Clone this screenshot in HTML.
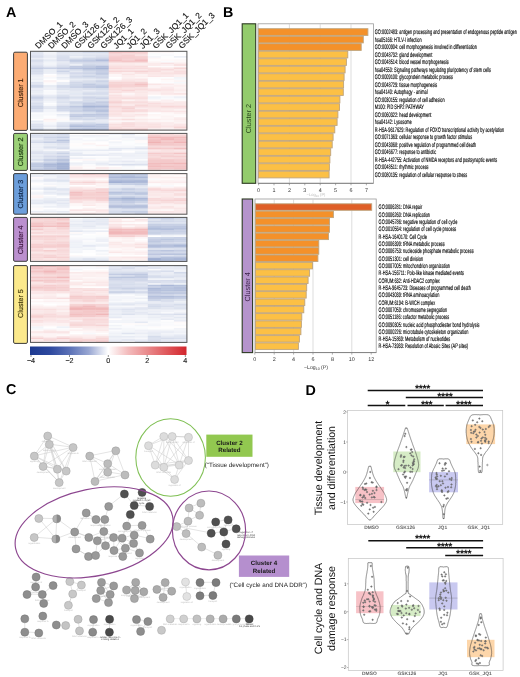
<!DOCTYPE html><html><head><meta charset="utf-8"><style>html,body{margin:0;padding:0;background:#fff;width:520px;height:677px;overflow:hidden}svg{display:block}text{font-family:"Liberation Sans",Arial,sans-serif;text-rendering:geometricPrecision}</style></head><body>
<svg width="520" height="677" viewBox="0 0 520 677">
<defs><linearGradient id="cb" x1="0" x2="1" y1="0" y2="0">
<stop offset="0.000" stop-color="#1d3990"/>
<stop offset="0.125" stop-color="#2d489e"/>
<stop offset="0.250" stop-color="#5a70b6"/>
<stop offset="0.375" stop-color="#98a6d2"/>
<stop offset="0.500" stop-color="#ffffff"/>
<stop offset="0.625" stop-color="#f3bcbd"/>
<stop offset="0.750" stop-color="#e98a8c"/>
<stop offset="0.875" stop-color="#df575b"/>
<stop offset="1.000" stop-color="#d2262d"/>
</linearGradient></defs>
<text x="6" y="16.9" font-size="14.3" font-weight="bold" fill="#000">A</text>
<text x="222.9" y="16.6" font-size="14.3" font-weight="bold" fill="#000">B</text>
<text x="6" y="394.4" font-size="14.3" font-weight="bold" fill="#000">C</text>
<text x="305.6" y="395.1" font-size="14.3" font-weight="bold" fill="#000">D</text>
<text x="38.6" y="49.2" font-size="8.4" fill="#111" stroke="#111" stroke-width="0.12" transform="rotate(-45 38.6 49.2)">DMSO_1</text>
<text x="51.6" y="49.2" font-size="8.4" fill="#111" stroke="#111" stroke-width="0.12" transform="rotate(-45 51.6 49.2)">DMSO_2</text>
<text x="64.7" y="49.2" font-size="8.4" fill="#111" stroke="#111" stroke-width="0.12" transform="rotate(-45 64.7 49.2)">DMSO_3</text>
<text x="77.7" y="49.2" font-size="8.4" fill="#111" stroke="#111" stroke-width="0.12" transform="rotate(-45 77.7 49.2)">GSK126_1</text>
<text x="90.8" y="49.2" font-size="8.4" fill="#111" stroke="#111" stroke-width="0.12" transform="rotate(-45 90.8 49.2)">GSK126_2</text>
<text x="103.8" y="49.2" font-size="8.4" fill="#111" stroke="#111" stroke-width="0.12" transform="rotate(-45 103.8 49.2)">GSK126_3</text>
<text x="116.8" y="49.2" font-size="8.4" fill="#111" stroke="#111" stroke-width="0.12" transform="rotate(-45 116.8 49.2)">JQ1_1</text>
<text x="129.8" y="49.2" font-size="8.4" fill="#111" stroke="#111" stroke-width="0.12" transform="rotate(-45 129.8 49.2)">JQ1_2</text>
<text x="142.9" y="49.2" font-size="8.4" fill="#111" stroke="#111" stroke-width="0.12" transform="rotate(-45 142.9 49.2)">JQ1_3</text>
<text x="155.9" y="49.2" font-size="8.4" fill="#111" stroke="#111" stroke-width="0.12" transform="rotate(-45 155.9 49.2)">GSK_JQ1_1</text>
<text x="168.9" y="49.2" font-size="8.4" fill="#111" stroke="#111" stroke-width="0.12" transform="rotate(-45 168.9 49.2)">GSK_JQ1_2</text>
<text x="182" y="49.2" font-size="8.4" fill="#111" stroke="#111" stroke-width="0.12" transform="rotate(-45 182 49.2)">GSK_JQ1_3</text>
<rect x="30.5" y="51.3" width="13.3" height="1.9" fill="#e1e6f1"/>
<rect x="43.5" y="51.3" width="13.3" height="1.9" fill="#f2f4f9"/>
<rect x="56.6" y="51.3" width="13.3" height="1.9" fill="#dde3ef"/>
<rect x="69.6" y="51.3" width="13.3" height="1.9" fill="#dde3ef"/>
<rect x="82.6" y="51.3" width="13.3" height="1.9" fill="#d0d7e9"/>
<rect x="95.7" y="51.3" width="13.3" height="1.9" fill="#d0d8e9"/>
<rect x="108.7" y="51.3" width="13.3" height="1.9" fill="#f2c1c2"/>
<rect x="121.7" y="51.3" width="13.3" height="1.9" fill="#f3c2c3"/>
<rect x="134.8" y="51.3" width="13.3" height="1.9" fill="#f5cccd"/>
<rect x="147.8" y="51.3" width="13.3" height="1.9" fill="#fdf5f5"/>
<rect x="160.8" y="51.3" width="13.3" height="1.9" fill="#fdf5f5"/>
<rect x="173.9" y="51.3" width="13.3" height="1.9" fill="#fefefe"/>
<rect x="30.5" y="52.9" width="13.3" height="1.9" fill="#e2e7f2"/>
<rect x="43.5" y="52.9" width="13.3" height="1.9" fill="#f2f4f9"/>
<rect x="56.6" y="52.9" width="13.3" height="1.9" fill="#e5e9f3"/>
<rect x="69.6" y="52.9" width="13.3" height="1.9" fill="#e6eaf3"/>
<rect x="82.6" y="52.9" width="13.3" height="1.9" fill="#e4e9f3"/>
<rect x="95.7" y="52.9" width="13.3" height="1.9" fill="#e3e8f2"/>
<rect x="108.7" y="52.9" width="13.3" height="1.9" fill="#f6d4d5"/>
<rect x="121.7" y="52.9" width="13.3" height="1.9" fill="#f8dadb"/>
<rect x="134.8" y="52.9" width="13.3" height="1.9" fill="#f7d7d8"/>
<rect x="147.8" y="52.9" width="13.3" height="1.9" fill="#fbfcfd"/>
<rect x="160.8" y="52.9" width="13.3" height="1.9" fill="#fdfdfe"/>
<rect x="173.9" y="52.9" width="13.3" height="1.9" fill="#fefeff"/>
<rect x="30.5" y="54.5" width="13.3" height="1.9" fill="#dde2ef"/>
<rect x="43.5" y="54.5" width="13.3" height="1.9" fill="#ebeef5"/>
<rect x="56.6" y="54.5" width="13.3" height="1.9" fill="#dce2ef"/>
<rect x="69.6" y="54.5" width="13.3" height="1.9" fill="#e2e7f2"/>
<rect x="82.6" y="54.5" width="13.3" height="1.9" fill="#dee4f0"/>
<rect x="95.7" y="54.5" width="13.3" height="1.9" fill="#dde2ef"/>
<rect x="108.7" y="54.5" width="13.3" height="1.9" fill="#f7d6d7"/>
<rect x="121.7" y="54.5" width="13.3" height="1.9" fill="#f5d0d0"/>
<rect x="134.8" y="54.5" width="13.3" height="1.9" fill="#f9e1e2"/>
<rect x="147.8" y="54.5" width="13.3" height="1.9" fill="#fcfdfe"/>
<rect x="160.8" y="54.5" width="13.3" height="1.9" fill="#f9fafc"/>
<rect x="173.9" y="54.5" width="13.3" height="1.9" fill="#fffefe"/>
<rect x="30.5" y="56.1" width="13.3" height="1.9" fill="#d7ddec"/>
<rect x="43.5" y="56.1" width="13.3" height="1.9" fill="#e8ebf4"/>
<rect x="56.6" y="56.1" width="13.3" height="1.9" fill="#d8deed"/>
<rect x="69.6" y="56.1" width="13.3" height="1.9" fill="#eef1f7"/>
<rect x="82.6" y="56.1" width="13.3" height="1.9" fill="#e3e8f2"/>
<rect x="95.7" y="56.1" width="13.3" height="1.9" fill="#d9dfed"/>
<rect x="108.7" y="56.1" width="13.3" height="1.9" fill="#f5cdce"/>
<rect x="121.7" y="56.1" width="13.3" height="1.9" fill="#f5cdce"/>
<rect x="134.8" y="56.1" width="13.3" height="1.9" fill="#f6d1d2"/>
<rect x="147.8" y="56.1" width="13.3" height="1.9" fill="#f4f5fa"/>
<rect x="160.8" y="56.1" width="13.3" height="1.9" fill="#fdfefe"/>
<rect x="173.9" y="56.1" width="13.3" height="1.9" fill="#eceff6"/>
<rect x="30.5" y="57.7" width="13.3" height="1.9" fill="#eaedf5"/>
<rect x="43.5" y="57.7" width="13.3" height="1.9" fill="#f2f4f9"/>
<rect x="56.6" y="57.7" width="13.3" height="1.9" fill="#d8deed"/>
<rect x="69.6" y="57.7" width="13.3" height="1.9" fill="#dde3ef"/>
<rect x="82.6" y="57.7" width="13.3" height="1.9" fill="#d0d8e9"/>
<rect x="95.7" y="57.7" width="13.3" height="1.9" fill="#cdd4e7"/>
<rect x="108.7" y="57.7" width="13.3" height="1.9" fill="#f4cbcc"/>
<rect x="121.7" y="57.7" width="13.3" height="1.9" fill="#f5d0d1"/>
<rect x="134.8" y="57.7" width="13.3" height="1.9" fill="#f5d0d1"/>
<rect x="147.8" y="57.7" width="13.3" height="1.9" fill="#fef8f8"/>
<rect x="160.8" y="57.7" width="13.3" height="1.9" fill="#fffdfd"/>
<rect x="173.9" y="57.7" width="13.3" height="1.9" fill="#fffefe"/>
<rect x="30.5" y="59.3" width="13.3" height="1.9" fill="#d7ddec"/>
<rect x="43.5" y="59.3" width="13.3" height="1.9" fill="#e6eaf3"/>
<rect x="56.6" y="59.3" width="13.3" height="1.9" fill="#d3d9ea"/>
<rect x="69.6" y="59.3" width="13.3" height="1.9" fill="#c2cce2"/>
<rect x="82.6" y="59.3" width="13.3" height="1.9" fill="#c0cae2"/>
<rect x="95.7" y="59.3" width="13.3" height="1.9" fill="#b0bcda"/>
<rect x="108.7" y="59.3" width="13.3" height="1.9" fill="#f2c0c2"/>
<rect x="121.7" y="59.3" width="13.3" height="1.9" fill="#f5cdce"/>
<rect x="134.8" y="59.3" width="13.3" height="1.9" fill="#f2bdbe"/>
<rect x="147.8" y="59.3" width="13.3" height="1.9" fill="#fefcfc"/>
<rect x="160.8" y="59.3" width="13.3" height="1.9" fill="#fef9f9"/>
<rect x="173.9" y="59.3" width="13.3" height="1.9" fill="#fdf8f8"/>
<rect x="30.5" y="60.9" width="13.3" height="1.9" fill="#dadfed"/>
<rect x="43.5" y="60.9" width="13.3" height="1.9" fill="#edf0f7"/>
<rect x="56.6" y="60.9" width="13.3" height="1.9" fill="#e3e7f2"/>
<rect x="69.6" y="60.9" width="13.3" height="1.9" fill="#c7d0e5"/>
<rect x="82.6" y="60.9" width="13.3" height="1.9" fill="#c7cfe4"/>
<rect x="95.7" y="60.9" width="13.3" height="1.9" fill="#c7cfe5"/>
<rect x="108.7" y="60.9" width="13.3" height="1.9" fill="#f5cecf"/>
<rect x="121.7" y="60.9" width="13.3" height="1.9" fill="#f4c7c8"/>
<rect x="134.8" y="60.9" width="13.3" height="1.9" fill="#f4c7c8"/>
<rect x="147.8" y="60.9" width="13.3" height="1.9" fill="#fdf7f7"/>
<rect x="160.8" y="60.9" width="13.3" height="1.9" fill="#fafbfd"/>
<rect x="173.9" y="60.9" width="13.3" height="1.9" fill="#fef8f8"/>
<rect x="30.5" y="62.6" width="13.3" height="1.9" fill="#e3e7f2"/>
<rect x="43.5" y="62.6" width="13.3" height="1.9" fill="#f3f5f9"/>
<rect x="56.6" y="62.6" width="13.3" height="1.9" fill="#e4e8f2"/>
<rect x="69.6" y="62.6" width="13.3" height="1.9" fill="#dee3ef"/>
<rect x="82.6" y="62.6" width="13.3" height="1.9" fill="#d6ddec"/>
<rect x="95.7" y="62.6" width="13.3" height="1.9" fill="#d7ddec"/>
<rect x="108.7" y="62.6" width="13.3" height="1.9" fill="#fbebec"/>
<rect x="121.7" y="62.6" width="13.3" height="1.9" fill="#fbeaea"/>
<rect x="134.8" y="62.6" width="13.3" height="1.9" fill="#fbeded"/>
<rect x="147.8" y="62.6" width="13.3" height="1.9" fill="#fbebeb"/>
<rect x="160.8" y="62.6" width="13.3" height="1.9" fill="#f9e3e4"/>
<rect x="173.9" y="62.6" width="13.3" height="1.9" fill="#fbecec"/>
<rect x="30.5" y="64.2" width="13.3" height="1.9" fill="#dee3f0"/>
<rect x="43.5" y="64.2" width="13.3" height="1.9" fill="#f1f3f8"/>
<rect x="56.6" y="64.2" width="13.3" height="1.9" fill="#dce2ef"/>
<rect x="69.6" y="64.2" width="13.3" height="1.9" fill="#ebeef6"/>
<rect x="82.6" y="64.2" width="13.3" height="1.9" fill="#ccd4e7"/>
<rect x="95.7" y="64.2" width="13.3" height="1.9" fill="#d1d8ea"/>
<rect x="108.7" y="64.2" width="13.3" height="1.9" fill="#fae7e7"/>
<rect x="121.7" y="64.2" width="13.3" height="1.9" fill="#fae8e8"/>
<rect x="134.8" y="64.2" width="13.3" height="1.9" fill="#fbebec"/>
<rect x="147.8" y="64.2" width="13.3" height="1.9" fill="#fbe9e9"/>
<rect x="160.8" y="64.2" width="13.3" height="1.9" fill="#fbedee"/>
<rect x="173.9" y="64.2" width="13.3" height="1.9" fill="#f8dede"/>
<rect x="30.5" y="65.8" width="13.3" height="1.9" fill="#d6dcec"/>
<rect x="43.5" y="65.8" width="13.3" height="1.9" fill="#e7eaf4"/>
<rect x="56.6" y="65.8" width="13.3" height="1.9" fill="#d6ddec"/>
<rect x="69.6" y="65.8" width="13.3" height="1.9" fill="#c2cbe2"/>
<rect x="82.6" y="65.8" width="13.3" height="1.9" fill="#c0cae1"/>
<rect x="95.7" y="65.8" width="13.3" height="1.9" fill="#b2bedb"/>
<rect x="108.7" y="65.8" width="13.3" height="1.9" fill="#f9dfe0"/>
<rect x="121.7" y="65.8" width="13.3" height="1.9" fill="#f9e0e1"/>
<rect x="134.8" y="65.8" width="13.3" height="1.9" fill="#f8dddd"/>
<rect x="147.8" y="65.8" width="13.3" height="1.9" fill="#fefbfb"/>
<rect x="160.8" y="65.8" width="13.3" height="1.9" fill="#fefafb"/>
<rect x="173.9" y="65.8" width="13.3" height="1.9" fill="#fdf5f6"/>
<rect x="30.5" y="67.4" width="13.3" height="1.9" fill="#c2cbe2"/>
<rect x="43.5" y="67.4" width="13.3" height="1.9" fill="#cad2e6"/>
<rect x="56.6" y="67.4" width="13.3" height="1.9" fill="#c0c9e1"/>
<rect x="69.6" y="67.4" width="13.3" height="1.9" fill="#b8c3de"/>
<rect x="82.6" y="67.4" width="13.3" height="1.9" fill="#b1bdda"/>
<rect x="95.7" y="67.4" width="13.3" height="1.9" fill="#a7b5d6"/>
<rect x="108.7" y="67.4" width="13.3" height="1.9" fill="#f7d7d8"/>
<rect x="121.7" y="67.4" width="13.3" height="1.9" fill="#f8dbdc"/>
<rect x="134.8" y="67.4" width="13.3" height="1.9" fill="#f8dcdd"/>
<rect x="147.8" y="67.4" width="13.3" height="1.9" fill="#f9e0e0"/>
<rect x="160.8" y="67.4" width="13.3" height="1.9" fill="#fae7e7"/>
<rect x="173.9" y="67.4" width="13.3" height="1.9" fill="#f7d7d7"/>
<rect x="30.5" y="69" width="13.3" height="1.9" fill="#d7ddec"/>
<rect x="43.5" y="69" width="13.3" height="1.9" fill="#e9edf5"/>
<rect x="56.6" y="69" width="13.3" height="1.9" fill="#dce1ef"/>
<rect x="69.6" y="69" width="13.3" height="1.9" fill="#d2d9ea"/>
<rect x="82.6" y="69" width="13.3" height="1.9" fill="#bec8e0"/>
<rect x="95.7" y="69" width="13.3" height="1.9" fill="#bbc6df"/>
<rect x="108.7" y="69" width="13.3" height="1.9" fill="#fae5e5"/>
<rect x="121.7" y="69" width="13.3" height="1.9" fill="#fae5e6"/>
<rect x="134.8" y="69" width="13.3" height="1.9" fill="#fae8e8"/>
<rect x="147.8" y="69" width="13.3" height="1.9" fill="#f8dfdf"/>
<rect x="160.8" y="69" width="13.3" height="1.9" fill="#f8dbdc"/>
<rect x="173.9" y="69" width="13.3" height="1.9" fill="#fae8e8"/>
<rect x="30.5" y="70.6" width="13.3" height="1.9" fill="#d5dbeb"/>
<rect x="43.5" y="70.6" width="13.3" height="1.9" fill="#eaeef5"/>
<rect x="56.6" y="70.6" width="13.3" height="1.9" fill="#ccd4e7"/>
<rect x="69.6" y="70.6" width="13.3" height="1.9" fill="#e4e8f2"/>
<rect x="82.6" y="70.6" width="13.3" height="1.9" fill="#d4dbeb"/>
<rect x="95.7" y="70.6" width="13.3" height="1.9" fill="#c8d0e5"/>
<rect x="108.7" y="70.6" width="13.3" height="1.9" fill="#f7d6d7"/>
<rect x="121.7" y="70.6" width="13.3" height="1.9" fill="#f7d9d9"/>
<rect x="134.8" y="70.6" width="13.3" height="1.9" fill="#f6d3d4"/>
<rect x="147.8" y="70.6" width="13.3" height="1.9" fill="#f8dcdd"/>
<rect x="160.8" y="70.6" width="13.3" height="1.9" fill="#fbeaea"/>
<rect x="173.9" y="70.6" width="13.3" height="1.9" fill="#f8dedf"/>
<rect x="30.5" y="72.2" width="13.3" height="1.9" fill="#d6dcec"/>
<rect x="43.5" y="72.2" width="13.3" height="1.9" fill="#eaedf5"/>
<rect x="56.6" y="72.2" width="13.3" height="1.9" fill="#dce2ef"/>
<rect x="69.6" y="72.2" width="13.3" height="1.9" fill="#d1d8ea"/>
<rect x="82.6" y="72.2" width="13.3" height="1.9" fill="#cbd3e7"/>
<rect x="95.7" y="72.2" width="13.3" height="1.9" fill="#bfc9e1"/>
<rect x="108.7" y="72.2" width="13.3" height="1.9" fill="#fae6e7"/>
<rect x="121.7" y="72.2" width="13.3" height="1.9" fill="#fceeee"/>
<rect x="134.8" y="72.2" width="13.3" height="1.9" fill="#f9e0e0"/>
<rect x="147.8" y="72.2" width="13.3" height="1.9" fill="#fae5e5"/>
<rect x="160.8" y="72.2" width="13.3" height="1.9" fill="#f9e1e2"/>
<rect x="173.9" y="72.2" width="13.3" height="1.9" fill="#f8ddde"/>
<rect x="30.5" y="73.8" width="13.3" height="1.9" fill="#e3e7f2"/>
<rect x="43.5" y="73.8" width="13.3" height="1.9" fill="#fefeff"/>
<rect x="56.6" y="73.8" width="13.3" height="1.9" fill="#ebeef6"/>
<rect x="69.6" y="73.8" width="13.3" height="1.9" fill="#dce1ef"/>
<rect x="82.6" y="73.8" width="13.3" height="1.9" fill="#d8deed"/>
<rect x="95.7" y="73.8" width="13.3" height="1.9" fill="#c6cfe4"/>
<rect x="108.7" y="73.8" width="13.3" height="1.9" fill="#fdf6f6"/>
<rect x="121.7" y="73.8" width="13.3" height="1.9" fill="#fae6e6"/>
<rect x="134.8" y="73.8" width="13.3" height="1.9" fill="#fcf2f2"/>
<rect x="147.8" y="73.8" width="13.3" height="1.9" fill="#fae8e8"/>
<rect x="160.8" y="73.8" width="13.3" height="1.9" fill="#fae7e7"/>
<rect x="173.9" y="73.8" width="13.3" height="1.9" fill="#fbeaea"/>
<rect x="30.5" y="75.4" width="13.3" height="1.9" fill="#edf0f7"/>
<rect x="43.5" y="75.4" width="13.3" height="1.9" fill="#fef9f9"/>
<rect x="56.6" y="75.4" width="13.3" height="1.9" fill="#f2f4f9"/>
<rect x="69.6" y="75.4" width="13.3" height="1.9" fill="#d2d9ea"/>
<rect x="82.6" y="75.4" width="13.3" height="1.9" fill="#c9d2e6"/>
<rect x="95.7" y="75.4" width="13.3" height="1.9" fill="#cfd7e9"/>
<rect x="108.7" y="75.4" width="13.3" height="1.9" fill="#fdf6f7"/>
<rect x="121.7" y="75.4" width="13.3" height="1.9" fill="#fceeee"/>
<rect x="134.8" y="75.4" width="13.3" height="1.9" fill="#fcefef"/>
<rect x="147.8" y="75.4" width="13.3" height="1.9" fill="#fae5e6"/>
<rect x="160.8" y="75.4" width="13.3" height="1.9" fill="#fae8e9"/>
<rect x="173.9" y="75.4" width="13.3" height="1.9" fill="#fcf0f0"/>
<rect x="30.5" y="77" width="13.3" height="1.9" fill="#f1f3f8"/>
<rect x="43.5" y="77" width="13.3" height="1.9" fill="#f8f9fc"/>
<rect x="56.6" y="77" width="13.3" height="1.9" fill="#e7ebf4"/>
<rect x="69.6" y="77" width="13.3" height="1.9" fill="#d6ddec"/>
<rect x="82.6" y="77" width="13.3" height="1.9" fill="#d5dceb"/>
<rect x="95.7" y="77" width="13.3" height="1.9" fill="#ced5e8"/>
<rect x="108.7" y="77" width="13.3" height="1.9" fill="#ffffff"/>
<rect x="121.7" y="77" width="13.3" height="1.9" fill="#fcf1f1"/>
<rect x="134.8" y="77" width="13.3" height="1.9" fill="#fdf6f6"/>
<rect x="147.8" y="77" width="13.3" height="1.9" fill="#fefcfc"/>
<rect x="160.8" y="77" width="13.3" height="1.9" fill="#fdfdfe"/>
<rect x="173.9" y="77" width="13.3" height="1.9" fill="#f2f4f9"/>
<rect x="30.5" y="78.6" width="13.3" height="1.9" fill="#eceff6"/>
<rect x="43.5" y="78.6" width="13.3" height="1.9" fill="#ffffff"/>
<rect x="56.6" y="78.6" width="13.3" height="1.9" fill="#f2f4f9"/>
<rect x="69.6" y="78.6" width="13.3" height="1.9" fill="#e9edf5"/>
<rect x="82.6" y="78.6" width="13.3" height="1.9" fill="#e7ebf4"/>
<rect x="95.7" y="78.6" width="13.3" height="1.9" fill="#e2e7f1"/>
<rect x="108.7" y="78.6" width="13.3" height="1.9" fill="#fef8f9"/>
<rect x="121.7" y="78.6" width="13.3" height="1.9" fill="#fae9e9"/>
<rect x="134.8" y="78.6" width="13.3" height="1.9" fill="#fae6e7"/>
<rect x="147.8" y="78.6" width="13.3" height="1.9" fill="#fdfdfe"/>
<rect x="160.8" y="78.6" width="13.3" height="1.9" fill="#fdf4f4"/>
<rect x="173.9" y="78.6" width="13.3" height="1.9" fill="#f6f8fb"/>
<rect x="30.5" y="80.2" width="13.3" height="1.9" fill="#f2f4f9"/>
<rect x="43.5" y="80.2" width="13.3" height="1.9" fill="#fcf2f3"/>
<rect x="56.6" y="80.2" width="13.3" height="1.9" fill="#fffdfd"/>
<rect x="69.6" y="80.2" width="13.3" height="1.9" fill="#dfe4f0"/>
<rect x="82.6" y="80.2" width="13.3" height="1.9" fill="#d8deec"/>
<rect x="95.7" y="80.2" width="13.3" height="1.9" fill="#cbd3e7"/>
<rect x="108.7" y="80.2" width="13.3" height="1.9" fill="#fae5e6"/>
<rect x="121.7" y="80.2" width="13.3" height="1.9" fill="#f9e2e3"/>
<rect x="134.8" y="80.2" width="13.3" height="1.9" fill="#fae7e7"/>
<rect x="147.8" y="80.2" width="13.3" height="1.9" fill="#fffefe"/>
<rect x="160.8" y="80.2" width="13.3" height="1.9" fill="#fefafa"/>
<rect x="173.9" y="80.2" width="13.3" height="1.9" fill="#fdf4f4"/>
<rect x="30.5" y="81.9" width="13.3" height="1.9" fill="#e0e5f1"/>
<rect x="43.5" y="81.9" width="13.3" height="1.9" fill="#fef9f9"/>
<rect x="56.6" y="81.9" width="13.3" height="1.9" fill="#ebeef6"/>
<rect x="69.6" y="81.9" width="13.3" height="1.9" fill="#d1d8e9"/>
<rect x="82.6" y="81.9" width="13.3" height="1.9" fill="#d8deec"/>
<rect x="95.7" y="81.9" width="13.3" height="1.9" fill="#d4dbeb"/>
<rect x="108.7" y="81.9" width="13.3" height="1.9" fill="#f6d5d5"/>
<rect x="121.7" y="81.9" width="13.3" height="1.9" fill="#f7d7d8"/>
<rect x="134.8" y="81.9" width="13.3" height="1.9" fill="#f6d4d5"/>
<rect x="147.8" y="81.9" width="13.3" height="1.9" fill="#fffefe"/>
<rect x="160.8" y="81.9" width="13.3" height="1.9" fill="#fcfcfe"/>
<rect x="173.9" y="81.9" width="13.3" height="1.9" fill="#f6f8fb"/>
<rect x="30.5" y="83.5" width="13.3" height="1.9" fill="#dfe4f0"/>
<rect x="43.5" y="83.5" width="13.3" height="1.9" fill="#fafbfd"/>
<rect x="56.6" y="83.5" width="13.3" height="1.9" fill="#e8ecf4"/>
<rect x="69.6" y="83.5" width="13.3" height="1.9" fill="#d0d8e9"/>
<rect x="82.6" y="83.5" width="13.3" height="1.9" fill="#c0cae1"/>
<rect x="95.7" y="83.5" width="13.3" height="1.9" fill="#cdd5e8"/>
<rect x="108.7" y="83.5" width="13.3" height="1.9" fill="#f6d2d2"/>
<rect x="121.7" y="83.5" width="13.3" height="1.9" fill="#f6d2d3"/>
<rect x="134.8" y="83.5" width="13.3" height="1.9" fill="#f3c2c3"/>
<rect x="147.8" y="83.5" width="13.3" height="1.9" fill="#fae6e6"/>
<rect x="160.8" y="83.5" width="13.3" height="1.9" fill="#fbebec"/>
<rect x="173.9" y="83.5" width="13.3" height="1.9" fill="#fdf4f4"/>
<rect x="30.5" y="85.1" width="13.3" height="1.9" fill="#ccd4e7"/>
<rect x="43.5" y="85.1" width="13.3" height="1.9" fill="#e6eaf3"/>
<rect x="56.6" y="85.1" width="13.3" height="1.9" fill="#d2d9ea"/>
<rect x="69.6" y="85.1" width="13.3" height="1.9" fill="#ccd4e7"/>
<rect x="82.6" y="85.1" width="13.3" height="1.9" fill="#c2cbe2"/>
<rect x="95.7" y="85.1" width="13.3" height="1.9" fill="#bec8e1"/>
<rect x="108.7" y="85.1" width="13.3" height="1.9" fill="#f5cdce"/>
<rect x="121.7" y="85.1" width="13.3" height="1.9" fill="#f5cfd0"/>
<rect x="134.8" y="85.1" width="13.3" height="1.9" fill="#f4cacb"/>
<rect x="147.8" y="85.1" width="13.3" height="1.9" fill="#fcf2f3"/>
<rect x="160.8" y="85.1" width="13.3" height="1.9" fill="#fcf1f2"/>
<rect x="173.9" y="85.1" width="13.3" height="1.9" fill="#fceeee"/>
<rect x="30.5" y="86.7" width="13.3" height="1.9" fill="#d7ddec"/>
<rect x="43.5" y="86.7" width="13.3" height="1.9" fill="#eceff6"/>
<rect x="56.6" y="86.7" width="13.3" height="1.9" fill="#d6dcec"/>
<rect x="69.6" y="86.7" width="13.3" height="1.9" fill="#cad2e6"/>
<rect x="82.6" y="86.7" width="13.3" height="1.9" fill="#c1cbe2"/>
<rect x="95.7" y="86.7" width="13.3" height="1.9" fill="#bbc6df"/>
<rect x="108.7" y="86.7" width="13.3" height="1.9" fill="#f7d6d6"/>
<rect x="121.7" y="86.7" width="13.3" height="1.9" fill="#f8ddde"/>
<rect x="134.8" y="86.7" width="13.3" height="1.9" fill="#f9e2e2"/>
<rect x="147.8" y="86.7" width="13.3" height="1.9" fill="#fdf3f4"/>
<rect x="160.8" y="86.7" width="13.3" height="1.9" fill="#fbeaeb"/>
<rect x="173.9" y="86.7" width="13.3" height="1.9" fill="#fdf4f4"/>
<rect x="30.5" y="88.3" width="13.3" height="1.9" fill="#ebeef6"/>
<rect x="43.5" y="88.3" width="13.3" height="1.9" fill="#ebeef6"/>
<rect x="56.6" y="88.3" width="13.3" height="1.9" fill="#dce1ee"/>
<rect x="69.6" y="88.3" width="13.3" height="1.9" fill="#dfe4f0"/>
<rect x="82.6" y="88.3" width="13.3" height="1.9" fill="#dadfed"/>
<rect x="95.7" y="88.3" width="13.3" height="1.9" fill="#d6ddec"/>
<rect x="108.7" y="88.3" width="13.3" height="1.9" fill="#f8dcdc"/>
<rect x="121.7" y="88.3" width="13.3" height="1.9" fill="#f9e0e0"/>
<rect x="134.8" y="88.3" width="13.3" height="1.9" fill="#f8dcdd"/>
<rect x="147.8" y="88.3" width="13.3" height="1.9" fill="#fae5e5"/>
<rect x="160.8" y="88.3" width="13.3" height="1.9" fill="#fae4e5"/>
<rect x="173.9" y="88.3" width="13.3" height="1.9" fill="#fcf0f0"/>
<rect x="30.5" y="89.9" width="13.3" height="1.9" fill="#e6eaf3"/>
<rect x="43.5" y="89.9" width="13.3" height="1.9" fill="#fafbfd"/>
<rect x="56.6" y="89.9" width="13.3" height="1.9" fill="#eaeef5"/>
<rect x="69.6" y="89.9" width="13.3" height="1.9" fill="#e2e6f1"/>
<rect x="82.6" y="89.9" width="13.3" height="1.9" fill="#e9ecf5"/>
<rect x="95.7" y="89.9" width="13.3" height="1.9" fill="#e0e5f1"/>
<rect x="108.7" y="89.9" width="13.3" height="1.9" fill="#f9e2e3"/>
<rect x="121.7" y="89.9" width="13.3" height="1.9" fill="#f7d5d6"/>
<rect x="134.8" y="89.9" width="13.3" height="1.9" fill="#fae5e5"/>
<rect x="147.8" y="89.9" width="13.3" height="1.9" fill="#f9e0e1"/>
<rect x="160.8" y="89.9" width="13.3" height="1.9" fill="#fae5e6"/>
<rect x="173.9" y="89.9" width="13.3" height="1.9" fill="#fbecec"/>
<rect x="30.5" y="91.5" width="13.3" height="1.9" fill="#eaeef5"/>
<rect x="43.5" y="91.5" width="13.3" height="1.9" fill="#f8f9fc"/>
<rect x="56.6" y="91.5" width="13.3" height="1.9" fill="#e5e9f3"/>
<rect x="69.6" y="91.5" width="13.3" height="1.9" fill="#e6eaf3"/>
<rect x="82.6" y="91.5" width="13.3" height="1.9" fill="#dbe1ee"/>
<rect x="95.7" y="91.5" width="13.3" height="1.9" fill="#d8deed"/>
<rect x="108.7" y="91.5" width="13.3" height="1.9" fill="#f9e0e0"/>
<rect x="121.7" y="91.5" width="13.3" height="1.9" fill="#fbe9e9"/>
<rect x="134.8" y="91.5" width="13.3" height="1.9" fill="#fae7e7"/>
<rect x="147.8" y="91.5" width="13.3" height="1.9" fill="#fcf0f1"/>
<rect x="160.8" y="91.5" width="13.3" height="1.9" fill="#fbebeb"/>
<rect x="173.9" y="91.5" width="13.3" height="1.9" fill="#fdf3f4"/>
<rect x="30.5" y="93.1" width="13.3" height="1.9" fill="#edf0f7"/>
<rect x="43.5" y="93.1" width="13.3" height="1.9" fill="#f9fafc"/>
<rect x="56.6" y="93.1" width="13.3" height="1.9" fill="#e9edf5"/>
<rect x="69.6" y="93.1" width="13.3" height="1.9" fill="#e2e7f2"/>
<rect x="82.6" y="93.1" width="13.3" height="1.9" fill="#d3daea"/>
<rect x="95.7" y="93.1" width="13.3" height="1.9" fill="#d4dbeb"/>
<rect x="108.7" y="93.1" width="13.3" height="1.9" fill="#fcefef"/>
<rect x="121.7" y="93.1" width="13.3" height="1.9" fill="#fdf7f8"/>
<rect x="134.8" y="93.1" width="13.3" height="1.9" fill="#fbeaea"/>
<rect x="147.8" y="93.1" width="13.3" height="1.9" fill="#fcf0f0"/>
<rect x="160.8" y="93.1" width="13.3" height="1.9" fill="#fae6e7"/>
<rect x="173.9" y="93.1" width="13.3" height="1.9" fill="#f9e3e3"/>
<rect x="30.5" y="94.7" width="13.3" height="1.9" fill="#dde2ef"/>
<rect x="43.5" y="94.7" width="13.3" height="1.9" fill="#e9ecf5"/>
<rect x="56.6" y="94.7" width="13.3" height="1.9" fill="#dbe1ee"/>
<rect x="69.6" y="94.7" width="13.3" height="1.9" fill="#e8ebf4"/>
<rect x="82.6" y="94.7" width="13.3" height="1.9" fill="#e4e8f2"/>
<rect x="95.7" y="94.7" width="13.3" height="1.9" fill="#e3e8f2"/>
<rect x="108.7" y="94.7" width="13.3" height="1.9" fill="#f9e1e2"/>
<rect x="121.7" y="94.7" width="13.3" height="1.9" fill="#fceeef"/>
<rect x="134.8" y="94.7" width="13.3" height="1.9" fill="#fbeaea"/>
<rect x="147.8" y="94.7" width="13.3" height="1.9" fill="#fffdfd"/>
<rect x="160.8" y="94.7" width="13.3" height="1.9" fill="#fef8f8"/>
<rect x="173.9" y="94.7" width="13.3" height="1.9" fill="#fef8f8"/>
<rect x="30.5" y="96.3" width="13.3" height="1.9" fill="#c9d2e6"/>
<rect x="43.5" y="96.3" width="13.3" height="1.9" fill="#dfe4f0"/>
<rect x="56.6" y="96.3" width="13.3" height="1.9" fill="#cfd6e8"/>
<rect x="69.6" y="96.3" width="13.3" height="1.9" fill="#d9dfed"/>
<rect x="82.6" y="96.3" width="13.3" height="1.9" fill="#cdd5e8"/>
<rect x="95.7" y="96.3" width="13.3" height="1.9" fill="#d3daea"/>
<rect x="108.7" y="96.3" width="13.3" height="1.9" fill="#f9e0e1"/>
<rect x="121.7" y="96.3" width="13.3" height="1.9" fill="#f9e3e4"/>
<rect x="134.8" y="96.3" width="13.3" height="1.9" fill="#f9e0e1"/>
<rect x="147.8" y="96.3" width="13.3" height="1.9" fill="#f0f3f8"/>
<rect x="160.8" y="96.3" width="13.3" height="1.9" fill="#f6f7fb"/>
<rect x="173.9" y="96.3" width="13.3" height="1.9" fill="#eef0f7"/>
<rect x="30.5" y="97.9" width="13.3" height="1.9" fill="#cdd5e8"/>
<rect x="43.5" y="97.9" width="13.3" height="1.9" fill="#e5e9f3"/>
<rect x="56.6" y="97.9" width="13.3" height="1.9" fill="#d3daea"/>
<rect x="69.6" y="97.9" width="13.3" height="1.9" fill="#dee3f0"/>
<rect x="82.6" y="97.9" width="13.3" height="1.9" fill="#d1d8e9"/>
<rect x="95.7" y="97.9" width="13.3" height="1.9" fill="#cad2e6"/>
<rect x="108.7" y="97.9" width="13.3" height="1.9" fill="#f9e1e1"/>
<rect x="121.7" y="97.9" width="13.3" height="1.9" fill="#f8dddd"/>
<rect x="134.8" y="97.9" width="13.3" height="1.9" fill="#f8dfdf"/>
<rect x="147.8" y="97.9" width="13.3" height="1.9" fill="#f3f5fa"/>
<rect x="160.8" y="97.9" width="13.3" height="1.9" fill="#f9fafc"/>
<rect x="173.9" y="97.9" width="13.3" height="1.9" fill="#f7f8fb"/>
<rect x="30.5" y="99.5" width="13.3" height="1.9" fill="#dce1ef"/>
<rect x="43.5" y="99.5" width="13.3" height="1.9" fill="#edf0f6"/>
<rect x="56.6" y="99.5" width="13.3" height="1.9" fill="#e1e6f1"/>
<rect x="69.6" y="99.5" width="13.3" height="1.9" fill="#ebeef6"/>
<rect x="82.6" y="99.5" width="13.3" height="1.9" fill="#d5dceb"/>
<rect x="95.7" y="99.5" width="13.3" height="1.9" fill="#dbe1ee"/>
<rect x="108.7" y="99.5" width="13.3" height="1.9" fill="#f9e1e1"/>
<rect x="121.7" y="99.5" width="13.3" height="1.9" fill="#fdf3f3"/>
<rect x="134.8" y="99.5" width="13.3" height="1.9" fill="#fbeaeb"/>
<rect x="147.8" y="99.5" width="13.3" height="1.9" fill="#fefafa"/>
<rect x="160.8" y="99.5" width="13.3" height="1.9" fill="#fcf0f1"/>
<rect x="173.9" y="99.5" width="13.3" height="1.9" fill="#fefbfb"/>
<rect x="30.5" y="101.2" width="13.3" height="1.9" fill="#e0e5f0"/>
<rect x="43.5" y="101.2" width="13.3" height="1.9" fill="#f2f4f9"/>
<rect x="56.6" y="101.2" width="13.3" height="1.9" fill="#dae0ee"/>
<rect x="69.6" y="101.2" width="13.3" height="1.9" fill="#d0d7e9"/>
<rect x="82.6" y="101.2" width="13.3" height="1.9" fill="#d0d7e9"/>
<rect x="95.7" y="101.2" width="13.3" height="1.9" fill="#c2cbe2"/>
<rect x="108.7" y="101.2" width="13.3" height="1.9" fill="#f5d0d1"/>
<rect x="121.7" y="101.2" width="13.3" height="1.9" fill="#f8dcdd"/>
<rect x="134.8" y="101.2" width="13.3" height="1.9" fill="#f8dbdc"/>
<rect x="147.8" y="101.2" width="13.3" height="1.9" fill="#fbeaea"/>
<rect x="160.8" y="101.2" width="13.3" height="1.9" fill="#fceeef"/>
<rect x="173.9" y="101.2" width="13.3" height="1.9" fill="#fae9e9"/>
<rect x="30.5" y="102.8" width="13.3" height="1.9" fill="#d9dfed"/>
<rect x="43.5" y="102.8" width="13.3" height="1.9" fill="#fcfdfe"/>
<rect x="56.6" y="102.8" width="13.3" height="1.9" fill="#e6eaf3"/>
<rect x="69.6" y="102.8" width="13.3" height="1.9" fill="#d3daea"/>
<rect x="82.6" y="102.8" width="13.3" height="1.9" fill="#c3cce3"/>
<rect x="95.7" y="102.8" width="13.3" height="1.9" fill="#cad2e6"/>
<rect x="108.7" y="102.8" width="13.3" height="1.9" fill="#f8dcdd"/>
<rect x="121.7" y="102.8" width="13.3" height="1.9" fill="#f9e3e3"/>
<rect x="134.8" y="102.8" width="13.3" height="1.9" fill="#f9e4e4"/>
<rect x="147.8" y="102.8" width="13.3" height="1.9" fill="#f8ddde"/>
<rect x="160.8" y="102.8" width="13.3" height="1.9" fill="#fae5e5"/>
<rect x="173.9" y="102.8" width="13.3" height="1.9" fill="#fae8e9"/>
<rect x="30.5" y="104.4" width="13.3" height="1.9" fill="#d8deed"/>
<rect x="43.5" y="104.4" width="13.3" height="1.9" fill="#f7f8fb"/>
<rect x="56.6" y="104.4" width="13.3" height="1.9" fill="#dde2ef"/>
<rect x="69.6" y="104.4" width="13.3" height="1.9" fill="#d5dceb"/>
<rect x="82.6" y="104.4" width="13.3" height="1.9" fill="#bcc6df"/>
<rect x="95.7" y="104.4" width="13.3" height="1.9" fill="#bdc7e0"/>
<rect x="108.7" y="104.4" width="13.3" height="1.9" fill="#f9e1e2"/>
<rect x="121.7" y="104.4" width="13.3" height="1.9" fill="#fbeaeb"/>
<rect x="134.8" y="104.4" width="13.3" height="1.9" fill="#f7d8d8"/>
<rect x="147.8" y="104.4" width="13.3" height="1.9" fill="#f9e2e2"/>
<rect x="160.8" y="104.4" width="13.3" height="1.9" fill="#f9e3e4"/>
<rect x="173.9" y="104.4" width="13.3" height="1.9" fill="#f9e4e4"/>
<rect x="30.5" y="106" width="13.3" height="1.9" fill="#cdd5e7"/>
<rect x="43.5" y="106" width="13.3" height="1.9" fill="#e6eaf3"/>
<rect x="56.6" y="106" width="13.3" height="1.9" fill="#cdd4e7"/>
<rect x="69.6" y="106" width="13.3" height="1.9" fill="#bdc7e0"/>
<rect x="82.6" y="106" width="13.3" height="1.9" fill="#a6b4d5"/>
<rect x="95.7" y="106" width="13.3" height="1.9" fill="#aab7d7"/>
<rect x="108.7" y="106" width="13.3" height="1.9" fill="#f7d6d6"/>
<rect x="121.7" y="106" width="13.3" height="1.9" fill="#f7d9da"/>
<rect x="134.8" y="106" width="13.3" height="1.9" fill="#f8ddde"/>
<rect x="147.8" y="106" width="13.3" height="1.9" fill="#f9e1e1"/>
<rect x="160.8" y="106" width="13.3" height="1.9" fill="#f7d6d7"/>
<rect x="173.9" y="106" width="13.3" height="1.9" fill="#f8dadb"/>
<rect x="30.5" y="107.6" width="13.3" height="1.9" fill="#cdd4e7"/>
<rect x="43.5" y="107.6" width="13.3" height="1.9" fill="#e2e6f1"/>
<rect x="56.6" y="107.6" width="13.3" height="1.9" fill="#ced6e8"/>
<rect x="69.6" y="107.6" width="13.3" height="1.9" fill="#cdd5e8"/>
<rect x="82.6" y="107.6" width="13.3" height="1.9" fill="#c1cae2"/>
<rect x="95.7" y="107.6" width="13.3" height="1.9" fill="#c6cee4"/>
<rect x="108.7" y="107.6" width="13.3" height="1.9" fill="#f9e2e3"/>
<rect x="121.7" y="107.6" width="13.3" height="1.9" fill="#f6d3d4"/>
<rect x="134.8" y="107.6" width="13.3" height="1.9" fill="#fbeced"/>
<rect x="147.8" y="107.6" width="13.3" height="1.9" fill="#fae9e9"/>
<rect x="160.8" y="107.6" width="13.3" height="1.9" fill="#fae9e9"/>
<rect x="173.9" y="107.6" width="13.3" height="1.9" fill="#fae7e8"/>
<rect x="30.5" y="109.2" width="13.3" height="1.9" fill="#dae0ee"/>
<rect x="43.5" y="109.2" width="13.3" height="1.9" fill="#f2f4f9"/>
<rect x="56.6" y="109.2" width="13.3" height="1.9" fill="#d0d7e9"/>
<rect x="69.6" y="109.2" width="13.3" height="1.9" fill="#cad3e6"/>
<rect x="82.6" y="109.2" width="13.3" height="1.9" fill="#b9c4de"/>
<rect x="95.7" y="109.2" width="13.3" height="1.9" fill="#b6c2dd"/>
<rect x="108.7" y="109.2" width="13.3" height="1.9" fill="#f9e2e3"/>
<rect x="121.7" y="109.2" width="13.3" height="1.9" fill="#f8dbdc"/>
<rect x="134.8" y="109.2" width="13.3" height="1.9" fill="#f8dbdb"/>
<rect x="147.8" y="109.2" width="13.3" height="1.9" fill="#fae7e8"/>
<rect x="160.8" y="109.2" width="13.3" height="1.9" fill="#fbebeb"/>
<rect x="173.9" y="109.2" width="13.3" height="1.9" fill="#fcf2f2"/>
<rect x="30.5" y="110.8" width="13.3" height="1.9" fill="#dce1ee"/>
<rect x="43.5" y="110.8" width="13.3" height="1.9" fill="#f2f4f9"/>
<rect x="56.6" y="110.8" width="13.3" height="1.9" fill="#e3e7f2"/>
<rect x="69.6" y="110.8" width="13.3" height="1.9" fill="#ccd4e7"/>
<rect x="82.6" y="110.8" width="13.3" height="1.9" fill="#c7d0e5"/>
<rect x="95.7" y="110.8" width="13.3" height="1.9" fill="#b8c3de"/>
<rect x="108.7" y="110.8" width="13.3" height="1.9" fill="#f9e0e0"/>
<rect x="121.7" y="110.8" width="13.3" height="1.9" fill="#f7d7d7"/>
<rect x="134.8" y="110.8" width="13.3" height="1.9" fill="#f8ddde"/>
<rect x="147.8" y="110.8" width="13.3" height="1.9" fill="#fae9e9"/>
<rect x="160.8" y="110.8" width="13.3" height="1.9" fill="#fae5e6"/>
<rect x="173.9" y="110.8" width="13.3" height="1.9" fill="#fae5e6"/>
<rect x="30.5" y="112.4" width="13.3" height="1.9" fill="#fafbfd"/>
<rect x="43.5" y="112.4" width="13.3" height="1.9" fill="#f9fafc"/>
<rect x="56.6" y="112.4" width="13.3" height="1.9" fill="#fafafc"/>
<rect x="69.6" y="112.4" width="13.3" height="1.9" fill="#dee3ef"/>
<rect x="82.6" y="112.4" width="13.3" height="1.9" fill="#d6ddec"/>
<rect x="95.7" y="112.4" width="13.3" height="1.9" fill="#cbd3e6"/>
<rect x="108.7" y="112.4" width="13.3" height="1.9" fill="#fae4e5"/>
<rect x="121.7" y="112.4" width="13.3" height="1.9" fill="#fcefef"/>
<rect x="134.8" y="112.4" width="13.3" height="1.9" fill="#fcf2f2"/>
<rect x="147.8" y="112.4" width="13.3" height="1.9" fill="#fefeff"/>
<rect x="160.8" y="112.4" width="13.3" height="1.9" fill="#fef8f8"/>
<rect x="173.9" y="112.4" width="13.3" height="1.9" fill="#fcf1f1"/>
<rect x="30.5" y="114" width="13.3" height="1.9" fill="#f6f8fb"/>
<rect x="43.5" y="114" width="13.3" height="1.9" fill="#f8f9fc"/>
<rect x="56.6" y="114" width="13.3" height="1.9" fill="#e7ebf4"/>
<rect x="69.6" y="114" width="13.3" height="1.9" fill="#c6cfe4"/>
<rect x="82.6" y="114" width="13.3" height="1.9" fill="#bec8e0"/>
<rect x="95.7" y="114" width="13.3" height="1.9" fill="#bdc7e0"/>
<rect x="108.7" y="114" width="13.3" height="1.9" fill="#f9e2e2"/>
<rect x="121.7" y="114" width="13.3" height="1.9" fill="#fbeaeb"/>
<rect x="134.8" y="114" width="13.3" height="1.9" fill="#fae4e5"/>
<rect x="147.8" y="114" width="13.3" height="1.9" fill="#fdf6f6"/>
<rect x="160.8" y="114" width="13.3" height="1.9" fill="#fef9f9"/>
<rect x="173.9" y="114" width="13.3" height="1.9" fill="#fef9f9"/>
<rect x="30.5" y="115.6" width="13.3" height="1.9" fill="#f7f8fb"/>
<rect x="43.5" y="115.6" width="13.3" height="1.9" fill="#fefefe"/>
<rect x="56.6" y="115.6" width="13.3" height="1.9" fill="#f4f6fa"/>
<rect x="69.6" y="115.6" width="13.3" height="1.9" fill="#bfc9e1"/>
<rect x="82.6" y="115.6" width="13.3" height="1.9" fill="#c3cce3"/>
<rect x="95.7" y="115.6" width="13.3" height="1.9" fill="#c7d0e5"/>
<rect x="108.7" y="115.6" width="13.3" height="1.9" fill="#fae8e9"/>
<rect x="121.7" y="115.6" width="13.3" height="1.9" fill="#fae7e7"/>
<rect x="134.8" y="115.6" width="13.3" height="1.9" fill="#fcf0f0"/>
<rect x="147.8" y="115.6" width="13.3" height="1.9" fill="#fef9f9"/>
<rect x="160.8" y="115.6" width="13.3" height="1.9" fill="#fdf4f4"/>
<rect x="173.9" y="115.6" width="13.3" height="1.9" fill="#fefcfc"/>
<rect x="30.5" y="117.2" width="13.3" height="1.9" fill="#f7f9fb"/>
<rect x="43.5" y="117.2" width="13.3" height="1.9" fill="#fdfdfe"/>
<rect x="56.6" y="117.2" width="13.3" height="1.9" fill="#fbfbfd"/>
<rect x="69.6" y="117.2" width="13.3" height="1.9" fill="#d3daea"/>
<rect x="82.6" y="117.2" width="13.3" height="1.9" fill="#d9dfed"/>
<rect x="95.7" y="117.2" width="13.3" height="1.9" fill="#ced5e8"/>
<rect x="108.7" y="117.2" width="13.3" height="1.9" fill="#fdf6f7"/>
<rect x="121.7" y="117.2" width="13.3" height="1.9" fill="#fcf2f2"/>
<rect x="134.8" y="117.2" width="13.3" height="1.9" fill="#fdf7f7"/>
<rect x="147.8" y="117.2" width="13.3" height="1.9" fill="#fefafa"/>
<rect x="160.8" y="117.2" width="13.3" height="1.9" fill="#fdf5f5"/>
<rect x="173.9" y="117.2" width="13.3" height="1.9" fill="#fceeee"/>
<rect x="30.5" y="118.8" width="13.3" height="1.9" fill="#fffefe"/>
<rect x="43.5" y="118.8" width="13.3" height="1.9" fill="#fcf0f0"/>
<rect x="56.6" y="118.8" width="13.3" height="1.9" fill="#fefafa"/>
<rect x="69.6" y="118.8" width="13.3" height="1.9" fill="#d7ddec"/>
<rect x="82.6" y="118.8" width="13.3" height="1.9" fill="#d2d9ea"/>
<rect x="95.7" y="118.8" width="13.3" height="1.9" fill="#e0e5f1"/>
<rect x="108.7" y="118.8" width="13.3" height="1.9" fill="#fae8e9"/>
<rect x="121.7" y="118.8" width="13.3" height="1.9" fill="#f8dede"/>
<rect x="134.8" y="118.8" width="13.3" height="1.9" fill="#fbebeb"/>
<rect x="147.8" y="118.8" width="13.3" height="1.9" fill="#fcefef"/>
<rect x="160.8" y="118.8" width="13.3" height="1.9" fill="#fcf2f2"/>
<rect x="173.9" y="118.8" width="13.3" height="1.9" fill="#fbebeb"/>
<rect x="30.5" y="120.5" width="13.3" height="1.9" fill="#e7ebf4"/>
<rect x="43.5" y="120.5" width="13.3" height="1.9" fill="#fdf7f7"/>
<rect x="56.6" y="120.5" width="13.3" height="1.9" fill="#f7f9fb"/>
<rect x="69.6" y="120.5" width="13.3" height="1.9" fill="#f3f5fa"/>
<rect x="82.6" y="120.5" width="13.3" height="1.9" fill="#e8ebf4"/>
<rect x="95.7" y="120.5" width="13.3" height="1.9" fill="#e7eaf4"/>
<rect x="108.7" y="120.5" width="13.3" height="1.9" fill="#fdf7f8"/>
<rect x="121.7" y="120.5" width="13.3" height="1.9" fill="#fdf6f7"/>
<rect x="134.8" y="120.5" width="13.3" height="1.9" fill="#fcf0f0"/>
<rect x="147.8" y="120.5" width="13.3" height="1.9" fill="#fdf5f5"/>
<rect x="160.8" y="120.5" width="13.3" height="1.9" fill="#fdf7f7"/>
<rect x="173.9" y="120.5" width="13.3" height="1.9" fill="#fcf1f1"/>
<rect x="30.5" y="122.1" width="13.3" height="1.9" fill="#edf0f6"/>
<rect x="43.5" y="122.1" width="13.3" height="1.9" fill="#f7f8fb"/>
<rect x="56.6" y="122.1" width="13.3" height="1.9" fill="#e3e7f2"/>
<rect x="69.6" y="122.1" width="13.3" height="1.9" fill="#dee3f0"/>
<rect x="82.6" y="122.1" width="13.3" height="1.9" fill="#d6ddec"/>
<rect x="95.7" y="122.1" width="13.3" height="1.9" fill="#e1e6f1"/>
<rect x="108.7" y="122.1" width="13.3" height="1.9" fill="#fcefef"/>
<rect x="121.7" y="122.1" width="13.3" height="1.9" fill="#f8dedf"/>
<rect x="134.8" y="122.1" width="13.3" height="1.9" fill="#fae5e5"/>
<rect x="147.8" y="122.1" width="13.3" height="1.9" fill="#fbe9ea"/>
<rect x="160.8" y="122.1" width="13.3" height="1.9" fill="#fbebec"/>
<rect x="173.9" y="122.1" width="13.3" height="1.9" fill="#fcf3f3"/>
<rect x="30.5" y="123.7" width="13.3" height="1.9" fill="#dce1ef"/>
<rect x="43.5" y="123.7" width="13.3" height="1.9" fill="#f3f5fa"/>
<rect x="56.6" y="123.7" width="13.3" height="1.9" fill="#dee3f0"/>
<rect x="69.6" y="123.7" width="13.3" height="1.9" fill="#c6cfe4"/>
<rect x="82.6" y="123.7" width="13.3" height="1.9" fill="#c7d0e5"/>
<rect x="95.7" y="123.7" width="13.3" height="1.9" fill="#bcc7e0"/>
<rect x="108.7" y="123.7" width="13.3" height="1.9" fill="#f8dfdf"/>
<rect x="121.7" y="123.7" width="13.3" height="1.9" fill="#f8dbdc"/>
<rect x="134.8" y="123.7" width="13.3" height="1.9" fill="#fae4e5"/>
<rect x="147.8" y="123.7" width="13.3" height="1.9" fill="#f9e2e2"/>
<rect x="160.8" y="123.7" width="13.3" height="1.9" fill="#fbecec"/>
<rect x="173.9" y="123.7" width="13.3" height="1.9" fill="#fae6e7"/>
<rect x="30.5" y="125.3" width="13.3" height="1.9" fill="#d8deed"/>
<rect x="43.5" y="125.3" width="13.3" height="1.9" fill="#e8ebf4"/>
<rect x="56.6" y="125.3" width="13.3" height="1.9" fill="#d3daea"/>
<rect x="69.6" y="125.3" width="13.3" height="1.9" fill="#adbad8"/>
<rect x="82.6" y="125.3" width="13.3" height="1.9" fill="#b2bedb"/>
<rect x="95.7" y="125.3" width="13.3" height="1.9" fill="#b9c4de"/>
<rect x="108.7" y="125.3" width="13.3" height="1.9" fill="#f9e1e1"/>
<rect x="121.7" y="125.3" width="13.3" height="1.9" fill="#f8dbdc"/>
<rect x="134.8" y="125.3" width="13.3" height="1.9" fill="#f9e3e4"/>
<rect x="147.8" y="125.3" width="13.3" height="1.9" fill="#f9e0e0"/>
<rect x="160.8" y="125.3" width="13.3" height="1.9" fill="#fae4e5"/>
<rect x="173.9" y="125.3" width="13.3" height="1.9" fill="#f9e0e1"/>
<rect x="30.5" y="126.9" width="13.3" height="1.9" fill="#dfe4f0"/>
<rect x="43.5" y="126.9" width="13.3" height="1.9" fill="#f4f6fa"/>
<rect x="56.6" y="126.9" width="13.3" height="1.9" fill="#e4e8f2"/>
<rect x="69.6" y="126.9" width="13.3" height="1.9" fill="#c9d1e5"/>
<rect x="82.6" y="126.9" width="13.3" height="1.9" fill="#c5cee4"/>
<rect x="95.7" y="126.9" width="13.3" height="1.9" fill="#c2cbe2"/>
<rect x="108.7" y="126.9" width="13.3" height="1.9" fill="#f8dcdc"/>
<rect x="121.7" y="126.9" width="13.3" height="1.9" fill="#fae4e5"/>
<rect x="134.8" y="126.9" width="13.3" height="1.9" fill="#f9e2e3"/>
<rect x="147.8" y="126.9" width="13.3" height="1.9" fill="#f9e1e2"/>
<rect x="160.8" y="126.9" width="13.3" height="1.9" fill="#fbeaea"/>
<rect x="173.9" y="126.9" width="13.3" height="1.9" fill="#f7d6d6"/>
<rect x="30.5" y="128.5" width="13.3" height="1.9" fill="#c3cde3"/>
<rect x="43.5" y="128.5" width="13.3" height="1.9" fill="#e0e5f0"/>
<rect x="56.6" y="128.5" width="13.3" height="1.9" fill="#c9d1e5"/>
<rect x="69.6" y="128.5" width="13.3" height="1.9" fill="#a8b5d6"/>
<rect x="82.6" y="128.5" width="13.3" height="1.9" fill="#a3b2d4"/>
<rect x="95.7" y="128.5" width="13.3" height="1.9" fill="#aab7d7"/>
<rect x="108.7" y="128.5" width="13.3" height="1.9" fill="#f6d4d5"/>
<rect x="121.7" y="128.5" width="13.3" height="1.9" fill="#f6d4d4"/>
<rect x="134.8" y="128.5" width="13.3" height="1.9" fill="#f5cecf"/>
<rect x="147.8" y="128.5" width="13.3" height="1.9" fill="#fcf1f2"/>
<rect x="160.8" y="128.5" width="13.3" height="1.9" fill="#fcf2f3"/>
<rect x="173.9" y="128.5" width="13.3" height="1.9" fill="#fbeeee"/>
<rect x="30.5" y="51.3" width="156.4" height="78.8" fill="none" stroke="#555" stroke-width="1"/>
<rect x="13.6" y="52.2" width="13.8" height="78.2" rx="1.3" fill="#fcac74" stroke="#3a3a3a" stroke-width="1"/>
<text x="20.5" y="92.8" font-size="7.2" fill="#4a2a10" stroke="#4a2a10" stroke-width="0.2" text-anchor="middle" transform="rotate(-90 20.5 92.8)" dy="2.6">Cluster 1</text>
<rect x="30.5" y="133.4" width="13.3" height="1.9" fill="#e1e6f1"/>
<rect x="43.5" y="133.4" width="13.3" height="1.9" fill="#dce2ef"/>
<rect x="56.6" y="133.4" width="13.3" height="1.9" fill="#d2d9ea"/>
<rect x="69.6" y="133.4" width="13.3" height="1.9" fill="#fffdfd"/>
<rect x="82.6" y="133.4" width="13.3" height="1.9" fill="#fefbfb"/>
<rect x="95.7" y="133.4" width="13.3" height="1.9" fill="#fef8f8"/>
<rect x="108.7" y="133.4" width="13.3" height="1.9" fill="#edf0f7"/>
<rect x="121.7" y="133.4" width="13.3" height="1.9" fill="#e2e7f2"/>
<rect x="134.8" y="133.4" width="13.3" height="1.9" fill="#fafbfd"/>
<rect x="147.8" y="133.4" width="13.3" height="1.9" fill="#f7dada"/>
<rect x="160.8" y="133.4" width="13.3" height="1.9" fill="#f7d7d7"/>
<rect x="173.9" y="133.4" width="13.3" height="1.9" fill="#f9e1e1"/>
<rect x="30.5" y="135" width="13.3" height="1.9" fill="#d9dfed"/>
<rect x="43.5" y="135" width="13.3" height="1.9" fill="#dce1ef"/>
<rect x="56.6" y="135" width="13.3" height="1.9" fill="#d9dfed"/>
<rect x="69.6" y="135" width="13.3" height="1.9" fill="#f2f4f9"/>
<rect x="82.6" y="135" width="13.3" height="1.9" fill="#eff1f7"/>
<rect x="95.7" y="135" width="13.3" height="1.9" fill="#f0f2f8"/>
<rect x="108.7" y="135" width="13.3" height="1.9" fill="#fbfcfd"/>
<rect x="121.7" y="135" width="13.3" height="1.9" fill="#f3f5f9"/>
<rect x="134.8" y="135" width="13.3" height="1.9" fill="#f9fafc"/>
<rect x="147.8" y="135" width="13.3" height="1.9" fill="#f5cfd0"/>
<rect x="160.8" y="135" width="13.3" height="1.9" fill="#f7d7d8"/>
<rect x="173.9" y="135" width="13.3" height="1.9" fill="#f6d4d4"/>
<rect x="30.5" y="136.6" width="13.3" height="1.9" fill="#dfe4f0"/>
<rect x="43.5" y="136.6" width="13.3" height="1.9" fill="#cfd6e8"/>
<rect x="56.6" y="136.6" width="13.3" height="1.9" fill="#c6cfe4"/>
<rect x="69.6" y="136.6" width="13.3" height="1.9" fill="#f9fafc"/>
<rect x="82.6" y="136.6" width="13.3" height="1.9" fill="#f6f8fb"/>
<rect x="95.7" y="136.6" width="13.3" height="1.9" fill="#f7f8fb"/>
<rect x="108.7" y="136.6" width="13.3" height="1.9" fill="#f7f9fb"/>
<rect x="121.7" y="136.6" width="13.3" height="1.9" fill="#eef1f7"/>
<rect x="134.8" y="136.6" width="13.3" height="1.9" fill="#edf0f7"/>
<rect x="147.8" y="136.6" width="13.3" height="1.9" fill="#f1b8b9"/>
<rect x="160.8" y="136.6" width="13.3" height="1.9" fill="#f1b9bb"/>
<rect x="173.9" y="136.6" width="13.3" height="1.9" fill="#f1bbbc"/>
<rect x="30.5" y="138.2" width="13.3" height="1.9" fill="#ebeef5"/>
<rect x="43.5" y="138.2" width="13.3" height="1.9" fill="#d9dfed"/>
<rect x="56.6" y="138.2" width="13.3" height="1.9" fill="#d8deed"/>
<rect x="69.6" y="138.2" width="13.3" height="1.9" fill="#f4f5fa"/>
<rect x="82.6" y="138.2" width="13.3" height="1.9" fill="#fdfdfe"/>
<rect x="95.7" y="138.2" width="13.3" height="1.9" fill="#f7f9fb"/>
<rect x="108.7" y="138.2" width="13.3" height="1.9" fill="#f4f6fa"/>
<rect x="121.7" y="138.2" width="13.3" height="1.9" fill="#f7f8fb"/>
<rect x="134.8" y="138.2" width="13.3" height="1.9" fill="#eceff6"/>
<rect x="147.8" y="138.2" width="13.3" height="1.9" fill="#f3c4c5"/>
<rect x="160.8" y="138.2" width="13.3" height="1.9" fill="#f0b3b4"/>
<rect x="173.9" y="138.2" width="13.3" height="1.9" fill="#f3c2c3"/>
<rect x="30.5" y="139.8" width="13.3" height="1.9" fill="#e1e6f1"/>
<rect x="43.5" y="139.8" width="13.3" height="1.9" fill="#dee3f0"/>
<rect x="56.6" y="139.8" width="13.3" height="1.9" fill="#bac5df"/>
<rect x="69.6" y="139.8" width="13.3" height="1.9" fill="#f9fafc"/>
<rect x="82.6" y="139.8" width="13.3" height="1.9" fill="#f6f7fb"/>
<rect x="95.7" y="139.8" width="13.3" height="1.9" fill="#f3f5f9"/>
<rect x="108.7" y="139.8" width="13.3" height="1.9" fill="#fffdfd"/>
<rect x="121.7" y="139.8" width="13.3" height="1.9" fill="#f7f9fb"/>
<rect x="134.8" y="139.8" width="13.3" height="1.9" fill="#fef9f9"/>
<rect x="147.8" y="139.8" width="13.3" height="1.9" fill="#f2c0c1"/>
<rect x="160.8" y="139.8" width="13.3" height="1.9" fill="#f4c9ca"/>
<rect x="173.9" y="139.8" width="13.3" height="1.9" fill="#f3c6c7"/>
<rect x="30.5" y="141.4" width="13.3" height="1.9" fill="#d5dbeb"/>
<rect x="43.5" y="141.4" width="13.3" height="1.9" fill="#c7d0e5"/>
<rect x="56.6" y="141.4" width="13.3" height="1.9" fill="#cbd3e7"/>
<rect x="69.6" y="141.4" width="13.3" height="1.9" fill="#fafafc"/>
<rect x="82.6" y="141.4" width="13.3" height="1.9" fill="#fefcfc"/>
<rect x="95.7" y="141.4" width="13.3" height="1.9" fill="#fffdfe"/>
<rect x="108.7" y="141.4" width="13.3" height="1.9" fill="#f2f4f9"/>
<rect x="121.7" y="141.4" width="13.3" height="1.9" fill="#fcfdfe"/>
<rect x="134.8" y="141.4" width="13.3" height="1.9" fill="#fefbfb"/>
<rect x="147.8" y="141.4" width="13.3" height="1.9" fill="#efb2b3"/>
<rect x="160.8" y="141.4" width="13.3" height="1.9" fill="#f3c3c4"/>
<rect x="173.9" y="141.4" width="13.3" height="1.9" fill="#f0b5b7"/>
<rect x="30.5" y="143.1" width="13.3" height="1.9" fill="#edf0f7"/>
<rect x="43.5" y="143.1" width="13.3" height="1.9" fill="#e6eaf3"/>
<rect x="56.6" y="143.1" width="13.3" height="1.9" fill="#dde2ef"/>
<rect x="69.6" y="143.1" width="13.3" height="1.9" fill="#fefcfc"/>
<rect x="82.6" y="143.1" width="13.3" height="1.9" fill="#fdf4f4"/>
<rect x="95.7" y="143.1" width="13.3" height="1.9" fill="#fffefe"/>
<rect x="108.7" y="143.1" width="13.3" height="1.9" fill="#f8f9fc"/>
<rect x="121.7" y="143.1" width="13.3" height="1.9" fill="#fcfcfe"/>
<rect x="134.8" y="143.1" width="13.3" height="1.9" fill="#f8f9fb"/>
<rect x="147.8" y="143.1" width="13.3" height="1.9" fill="#f2c1c2"/>
<rect x="160.8" y="143.1" width="13.3" height="1.9" fill="#f3c5c6"/>
<rect x="173.9" y="143.1" width="13.3" height="1.9" fill="#f4cacb"/>
<rect x="30.5" y="144.7" width="13.3" height="1.9" fill="#f0f2f8"/>
<rect x="43.5" y="144.7" width="13.3" height="1.9" fill="#eaedf5"/>
<rect x="56.6" y="144.7" width="13.3" height="1.9" fill="#e4e8f2"/>
<rect x="69.6" y="144.7" width="13.3" height="1.9" fill="#fefbfb"/>
<rect x="82.6" y="144.7" width="13.3" height="1.9" fill="#fafbfd"/>
<rect x="95.7" y="144.7" width="13.3" height="1.9" fill="#fcf2f3"/>
<rect x="108.7" y="144.7" width="13.3" height="1.9" fill="#fbfbfd"/>
<rect x="121.7" y="144.7" width="13.3" height="1.9" fill="#f9fafc"/>
<rect x="134.8" y="144.7" width="13.3" height="1.9" fill="#fcfdfe"/>
<rect x="147.8" y="144.7" width="13.3" height="1.9" fill="#f5d0d1"/>
<rect x="160.8" y="144.7" width="13.3" height="1.9" fill="#f5cfcf"/>
<rect x="173.9" y="144.7" width="13.3" height="1.9" fill="#f5cecf"/>
<rect x="30.5" y="146.3" width="13.3" height="1.9" fill="#eceff6"/>
<rect x="43.5" y="146.3" width="13.3" height="1.9" fill="#dae0ee"/>
<rect x="56.6" y="146.3" width="13.3" height="1.9" fill="#dce1ef"/>
<rect x="69.6" y="146.3" width="13.3" height="1.9" fill="#fcfcfd"/>
<rect x="82.6" y="146.3" width="13.3" height="1.9" fill="#fffdfd"/>
<rect x="95.7" y="146.3" width="13.3" height="1.9" fill="#fbfcfd"/>
<rect x="108.7" y="146.3" width="13.3" height="1.9" fill="#f4f6fa"/>
<rect x="121.7" y="146.3" width="13.3" height="1.9" fill="#f4f6fa"/>
<rect x="134.8" y="146.3" width="13.3" height="1.9" fill="#eaeef5"/>
<rect x="147.8" y="146.3" width="13.3" height="1.9" fill="#f7d6d6"/>
<rect x="160.8" y="146.3" width="13.3" height="1.9" fill="#f7d9da"/>
<rect x="173.9" y="146.3" width="13.3" height="1.9" fill="#f7d6d7"/>
<rect x="30.5" y="147.9" width="13.3" height="1.9" fill="#f0f2f8"/>
<rect x="43.5" y="147.9" width="13.3" height="1.9" fill="#e5e9f3"/>
<rect x="56.6" y="147.9" width="13.3" height="1.9" fill="#d7ddec"/>
<rect x="69.6" y="147.9" width="13.3" height="1.9" fill="#f9fafc"/>
<rect x="82.6" y="147.9" width="13.3" height="1.9" fill="#f9fafc"/>
<rect x="95.7" y="147.9" width="13.3" height="1.9" fill="#f9fafc"/>
<rect x="108.7" y="147.9" width="13.3" height="1.9" fill="#e3e7f2"/>
<rect x="121.7" y="147.9" width="13.3" height="1.9" fill="#e4e9f3"/>
<rect x="134.8" y="147.9" width="13.3" height="1.9" fill="#dfe4f0"/>
<rect x="147.8" y="147.9" width="13.3" height="1.9" fill="#f4c9ca"/>
<rect x="160.8" y="147.9" width="13.3" height="1.9" fill="#f5cccd"/>
<rect x="173.9" y="147.9" width="13.3" height="1.9" fill="#f2c0c1"/>
<rect x="30.5" y="149.5" width="13.3" height="1.9" fill="#eaeef5"/>
<rect x="43.5" y="149.5" width="13.3" height="1.9" fill="#f5f6fa"/>
<rect x="56.6" y="149.5" width="13.3" height="1.9" fill="#f9fafc"/>
<rect x="69.6" y="149.5" width="13.3" height="1.9" fill="#e9edf5"/>
<rect x="82.6" y="149.5" width="13.3" height="1.9" fill="#ebeef6"/>
<rect x="95.7" y="149.5" width="13.3" height="1.9" fill="#e7ebf4"/>
<rect x="108.7" y="149.5" width="13.3" height="1.9" fill="#e9ecf5"/>
<rect x="121.7" y="149.5" width="13.3" height="1.9" fill="#f9fafc"/>
<rect x="134.8" y="149.5" width="13.3" height="1.9" fill="#f7f8fb"/>
<rect x="147.8" y="149.5" width="13.3" height="1.9" fill="#fbe9e9"/>
<rect x="160.8" y="149.5" width="13.3" height="1.9" fill="#f9e3e3"/>
<rect x="173.9" y="149.5" width="13.3" height="1.9" fill="#fae8e9"/>
<rect x="30.5" y="151.1" width="13.3" height="1.9" fill="#dee3ef"/>
<rect x="43.5" y="151.1" width="13.3" height="1.9" fill="#e3e8f2"/>
<rect x="56.6" y="151.1" width="13.3" height="1.9" fill="#dee3f0"/>
<rect x="69.6" y="151.1" width="13.3" height="1.9" fill="#f2f4f9"/>
<rect x="82.6" y="151.1" width="13.3" height="1.9" fill="#f6f8fb"/>
<rect x="95.7" y="151.1" width="13.3" height="1.9" fill="#fafafc"/>
<rect x="108.7" y="151.1" width="13.3" height="1.9" fill="#fcfcfe"/>
<rect x="121.7" y="151.1" width="13.3" height="1.9" fill="#fffefe"/>
<rect x="134.8" y="151.1" width="13.3" height="1.9" fill="#f0f3f8"/>
<rect x="147.8" y="151.1" width="13.3" height="1.9" fill="#fae4e5"/>
<rect x="160.8" y="151.1" width="13.3" height="1.9" fill="#f9e1e1"/>
<rect x="173.9" y="151.1" width="13.3" height="1.9" fill="#fae4e4"/>
<rect x="30.5" y="152.7" width="13.3" height="1.9" fill="#dce1ef"/>
<rect x="43.5" y="152.7" width="13.3" height="1.9" fill="#dce2ef"/>
<rect x="56.6" y="152.7" width="13.3" height="1.9" fill="#cad3e6"/>
<rect x="69.6" y="152.7" width="13.3" height="1.9" fill="#e5e9f3"/>
<rect x="82.6" y="152.7" width="13.3" height="1.9" fill="#f7f8fb"/>
<rect x="95.7" y="152.7" width="13.3" height="1.9" fill="#f4f6fa"/>
<rect x="108.7" y="152.7" width="13.3" height="1.9" fill="#eaedf5"/>
<rect x="121.7" y="152.7" width="13.3" height="1.9" fill="#eff1f7"/>
<rect x="134.8" y="152.7" width="13.3" height="1.9" fill="#eaedf5"/>
<rect x="147.8" y="152.7" width="13.3" height="1.9" fill="#f5cbcc"/>
<rect x="160.8" y="152.7" width="13.3" height="1.9" fill="#f6d1d2"/>
<rect x="173.9" y="152.7" width="13.3" height="1.9" fill="#f3c4c5"/>
<rect x="30.5" y="154.3" width="13.3" height="1.9" fill="#e7ebf4"/>
<rect x="43.5" y="154.3" width="13.3" height="1.9" fill="#dee3f0"/>
<rect x="56.6" y="154.3" width="13.3" height="1.9" fill="#dbe0ee"/>
<rect x="69.6" y="154.3" width="13.3" height="1.9" fill="#e2e7f1"/>
<rect x="82.6" y="154.3" width="13.3" height="1.9" fill="#e0e5f1"/>
<rect x="95.7" y="154.3" width="13.3" height="1.9" fill="#e5e9f3"/>
<rect x="108.7" y="154.3" width="13.3" height="1.9" fill="#ebeef6"/>
<rect x="121.7" y="154.3" width="13.3" height="1.9" fill="#eceff6"/>
<rect x="134.8" y="154.3" width="13.3" height="1.9" fill="#eff1f7"/>
<rect x="147.8" y="154.3" width="13.3" height="1.9" fill="#f6d5d6"/>
<rect x="160.8" y="154.3" width="13.3" height="1.9" fill="#f6d4d5"/>
<rect x="173.9" y="154.3" width="13.3" height="1.9" fill="#f8dcdc"/>
<rect x="30.5" y="155.9" width="13.3" height="1.9" fill="#e2e6f1"/>
<rect x="43.5" y="155.9" width="13.3" height="1.9" fill="#d3d9ea"/>
<rect x="56.6" y="155.9" width="13.3" height="1.9" fill="#c7cfe5"/>
<rect x="69.6" y="155.9" width="13.3" height="1.9" fill="#fafbfd"/>
<rect x="82.6" y="155.9" width="13.3" height="1.9" fill="#fefeff"/>
<rect x="95.7" y="155.9" width="13.3" height="1.9" fill="#fdfdfe"/>
<rect x="108.7" y="155.9" width="13.3" height="1.9" fill="#f8f9fc"/>
<rect x="121.7" y="155.9" width="13.3" height="1.9" fill="#eef1f7"/>
<rect x="134.8" y="155.9" width="13.3" height="1.9" fill="#eff2f8"/>
<rect x="147.8" y="155.9" width="13.3" height="1.9" fill="#f8dbdc"/>
<rect x="160.8" y="155.9" width="13.3" height="1.9" fill="#f5cfd0"/>
<rect x="173.9" y="155.9" width="13.3" height="1.9" fill="#f5cecf"/>
<rect x="30.5" y="157.5" width="13.3" height="1.9" fill="#e7ebf4"/>
<rect x="43.5" y="157.5" width="13.3" height="1.9" fill="#d9dfed"/>
<rect x="56.6" y="157.5" width="13.3" height="1.9" fill="#cfd6e8"/>
<rect x="69.6" y="157.5" width="13.3" height="1.9" fill="#edf0f7"/>
<rect x="82.6" y="157.5" width="13.3" height="1.9" fill="#f3f5fa"/>
<rect x="95.7" y="157.5" width="13.3" height="1.9" fill="#f9fafc"/>
<rect x="108.7" y="157.5" width="13.3" height="1.9" fill="#eff1f7"/>
<rect x="121.7" y="157.5" width="13.3" height="1.9" fill="#f1f3f9"/>
<rect x="134.8" y="157.5" width="13.3" height="1.9" fill="#f0f2f8"/>
<rect x="147.8" y="157.5" width="13.3" height="1.9" fill="#f6d2d2"/>
<rect x="160.8" y="157.5" width="13.3" height="1.9" fill="#f8dddd"/>
<rect x="173.9" y="157.5" width="13.3" height="1.9" fill="#f7d9da"/>
<rect x="30.5" y="159.1" width="13.3" height="1.9" fill="#d8deed"/>
<rect x="43.5" y="159.1" width="13.3" height="1.9" fill="#c1cbe2"/>
<rect x="56.6" y="159.1" width="13.3" height="1.9" fill="#b5c0dc"/>
<rect x="69.6" y="159.1" width="13.3" height="1.9" fill="#fef9fa"/>
<rect x="82.6" y="159.1" width="13.3" height="1.9" fill="#fdf6f6"/>
<rect x="95.7" y="159.1" width="13.3" height="1.9" fill="#fefcfc"/>
<rect x="108.7" y="159.1" width="13.3" height="1.9" fill="#f2f4f9"/>
<rect x="121.7" y="159.1" width="13.3" height="1.9" fill="#f5f7fb"/>
<rect x="134.8" y="159.1" width="13.3" height="1.9" fill="#fafbfd"/>
<rect x="147.8" y="159.1" width="13.3" height="1.9" fill="#f4cacb"/>
<rect x="160.8" y="159.1" width="13.3" height="1.9" fill="#f4c9ca"/>
<rect x="173.9" y="159.1" width="13.3" height="1.9" fill="#f5cdce"/>
<rect x="30.5" y="160.7" width="13.3" height="1.9" fill="#ebeef5"/>
<rect x="43.5" y="160.7" width="13.3" height="1.9" fill="#d4dbeb"/>
<rect x="56.6" y="160.7" width="13.3" height="1.9" fill="#c4cde3"/>
<rect x="69.6" y="160.7" width="13.3" height="1.9" fill="#fdfefe"/>
<rect x="82.6" y="160.7" width="13.3" height="1.9" fill="#f3f5fa"/>
<rect x="95.7" y="160.7" width="13.3" height="1.9" fill="#f3f5f9"/>
<rect x="108.7" y="160.7" width="13.3" height="1.9" fill="#ebeef6"/>
<rect x="121.7" y="160.7" width="13.3" height="1.9" fill="#e6e9f3"/>
<rect x="134.8" y="160.7" width="13.3" height="1.9" fill="#eceff6"/>
<rect x="147.8" y="160.7" width="13.3" height="1.9" fill="#f4cacb"/>
<rect x="160.8" y="160.7" width="13.3" height="1.9" fill="#f4c9ca"/>
<rect x="173.9" y="160.7" width="13.3" height="1.9" fill="#f5cfd0"/>
<rect x="30.5" y="162.4" width="13.3" height="1.9" fill="#c3cce3"/>
<rect x="43.5" y="162.4" width="13.3" height="1.9" fill="#bac5df"/>
<rect x="56.6" y="162.4" width="13.3" height="1.9" fill="#a5b3d5"/>
<rect x="69.6" y="162.4" width="13.3" height="1.9" fill="#eceff6"/>
<rect x="82.6" y="162.4" width="13.3" height="1.9" fill="#f0f2f8"/>
<rect x="95.7" y="162.4" width="13.3" height="1.9" fill="#e8ebf4"/>
<rect x="108.7" y="162.4" width="13.3" height="1.9" fill="#f2f4f9"/>
<rect x="121.7" y="162.4" width="13.3" height="1.9" fill="#eef1f7"/>
<rect x="134.8" y="162.4" width="13.3" height="1.9" fill="#eaedf5"/>
<rect x="147.8" y="162.4" width="13.3" height="1.9" fill="#f2bdbe"/>
<rect x="160.8" y="162.4" width="13.3" height="1.9" fill="#f1bcbd"/>
<rect x="173.9" y="162.4" width="13.3" height="1.9" fill="#f1b8b9"/>
<rect x="30.5" y="164" width="13.3" height="1.9" fill="#bfc9e1"/>
<rect x="43.5" y="164" width="13.3" height="1.9" fill="#abb8d7"/>
<rect x="56.6" y="164" width="13.3" height="1.9" fill="#a3b2d4"/>
<rect x="69.6" y="164" width="13.3" height="1.9" fill="#f0f2f8"/>
<rect x="82.6" y="164" width="13.3" height="1.9" fill="#fafbfd"/>
<rect x="95.7" y="164" width="13.3" height="1.9" fill="#e9edf5"/>
<rect x="108.7" y="164" width="13.3" height="1.9" fill="#dee3f0"/>
<rect x="121.7" y="164" width="13.3" height="1.9" fill="#d9dfed"/>
<rect x="134.8" y="164" width="13.3" height="1.9" fill="#dce1ee"/>
<rect x="147.8" y="164" width="13.3" height="1.9" fill="#f3c4c5"/>
<rect x="160.8" y="164" width="13.3" height="1.9" fill="#f4cbcc"/>
<rect x="173.9" y="164" width="13.3" height="1.9" fill="#f4c8ca"/>
<rect x="30.5" y="165.6" width="13.3" height="1.9" fill="#bcc7e0"/>
<rect x="43.5" y="165.6" width="13.3" height="1.9" fill="#b0bcda"/>
<rect x="56.6" y="165.6" width="13.3" height="1.9" fill="#a6b3d5"/>
<rect x="69.6" y="165.6" width="13.3" height="1.9" fill="#fdf5f5"/>
<rect x="82.6" y="165.6" width="13.3" height="1.9" fill="#fefafa"/>
<rect x="95.7" y="165.6" width="13.3" height="1.9" fill="#fefafa"/>
<rect x="108.7" y="165.6" width="13.3" height="1.9" fill="#fffefe"/>
<rect x="121.7" y="165.6" width="13.3" height="1.9" fill="#f7f8fb"/>
<rect x="134.8" y="165.6" width="13.3" height="1.9" fill="#fbfcfd"/>
<rect x="147.8" y="165.6" width="13.3" height="1.9" fill="#f2bdbe"/>
<rect x="160.8" y="165.6" width="13.3" height="1.9" fill="#f2c0c1"/>
<rect x="173.9" y="165.6" width="13.3" height="1.9" fill="#f3c4c5"/>
<rect x="30.5" y="167.2" width="13.3" height="1.9" fill="#c7d0e5"/>
<rect x="43.5" y="167.2" width="13.3" height="1.9" fill="#b6c1dd"/>
<rect x="56.6" y="167.2" width="13.3" height="1.9" fill="#a0aed2"/>
<rect x="69.6" y="167.2" width="13.3" height="1.9" fill="#fbedee"/>
<rect x="82.6" y="167.2" width="13.3" height="1.9" fill="#fefcfc"/>
<rect x="95.7" y="167.2" width="13.3" height="1.9" fill="#fae8e9"/>
<rect x="108.7" y="167.2" width="13.3" height="1.9" fill="#fdf4f5"/>
<rect x="121.7" y="167.2" width="13.3" height="1.9" fill="#f8f9fc"/>
<rect x="134.8" y="167.2" width="13.3" height="1.9" fill="#fffdfd"/>
<rect x="147.8" y="167.2" width="13.3" height="1.9" fill="#f3c4c5"/>
<rect x="160.8" y="167.2" width="13.3" height="1.9" fill="#f3c4c5"/>
<rect x="173.9" y="167.2" width="13.3" height="1.9" fill="#f2c0c1"/>
<rect x="30.5" y="168.8" width="13.3" height="1.9" fill="#c4cde3"/>
<rect x="43.5" y="168.8" width="13.3" height="1.9" fill="#c0c9e1"/>
<rect x="56.6" y="168.8" width="13.3" height="1.9" fill="#b6c1dd"/>
<rect x="69.6" y="168.8" width="13.3" height="1.9" fill="#fdf3f3"/>
<rect x="82.6" y="168.8" width="13.3" height="1.9" fill="#fdf4f5"/>
<rect x="95.7" y="168.8" width="13.3" height="1.9" fill="#fef8f8"/>
<rect x="108.7" y="168.8" width="13.3" height="1.9" fill="#ffffff"/>
<rect x="121.7" y="168.8" width="13.3" height="1.9" fill="#fefeff"/>
<rect x="134.8" y="168.8" width="13.3" height="1.9" fill="#fbfbfd"/>
<rect x="147.8" y="168.8" width="13.3" height="1.9" fill="#f6d2d2"/>
<rect x="160.8" y="168.8" width="13.3" height="1.9" fill="#f8ddde"/>
<rect x="173.9" y="168.8" width="13.3" height="1.9" fill="#f7d6d7"/>
<rect x="30.5" y="133.4" width="156.4" height="37" fill="none" stroke="#555" stroke-width="1"/>
<rect x="13.6" y="133.4" width="13.8" height="37" rx="1.3" fill="#9cd178" stroke="#3a3a3a" stroke-width="1"/>
<text x="20.5" y="151.9" font-size="7.2" fill="#1f3d12" stroke="#1f3d12" stroke-width="0.2" text-anchor="middle" transform="rotate(-90 20.5 151.9)" dy="2.6">Cluster 2</text>
<rect x="30.5" y="173.6" width="13.3" height="1.9" fill="#f7f9fb"/>
<rect x="43.5" y="173.6" width="13.3" height="1.9" fill="#e0e5f0"/>
<rect x="56.6" y="173.6" width="13.3" height="1.9" fill="#e8ecf4"/>
<rect x="69.6" y="173.6" width="13.3" height="1.9" fill="#f8dbdc"/>
<rect x="82.6" y="173.6" width="13.3" height="1.9" fill="#f5cfd0"/>
<rect x="95.7" y="173.6" width="13.3" height="1.9" fill="#f7d8d8"/>
<rect x="108.7" y="173.6" width="13.3" height="1.9" fill="#b4bfdc"/>
<rect x="121.7" y="173.6" width="13.3" height="1.9" fill="#b6c2dd"/>
<rect x="134.8" y="173.6" width="13.3" height="1.9" fill="#b9c4de"/>
<rect x="147.8" y="173.6" width="13.3" height="1.9" fill="#fdf3f3"/>
<rect x="160.8" y="173.6" width="13.3" height="1.9" fill="#fdf8f8"/>
<rect x="173.9" y="173.6" width="13.3" height="1.9" fill="#fcf1f1"/>
<rect x="30.5" y="175.2" width="13.3" height="1.9" fill="#e8ebf4"/>
<rect x="43.5" y="175.2" width="13.3" height="1.9" fill="#f0f3f8"/>
<rect x="56.6" y="175.2" width="13.3" height="1.9" fill="#e7ebf4"/>
<rect x="69.6" y="175.2" width="13.3" height="1.9" fill="#fae4e5"/>
<rect x="82.6" y="175.2" width="13.3" height="1.9" fill="#f9e2e3"/>
<rect x="95.7" y="175.2" width="13.3" height="1.9" fill="#f9dfe0"/>
<rect x="108.7" y="175.2" width="13.3" height="1.9" fill="#b9c4de"/>
<rect x="121.7" y="175.2" width="13.3" height="1.9" fill="#b0bcda"/>
<rect x="134.8" y="175.2" width="13.3" height="1.9" fill="#bdc8e0"/>
<rect x="147.8" y="175.2" width="13.3" height="1.9" fill="#fcf2f2"/>
<rect x="160.8" y="175.2" width="13.3" height="1.9" fill="#fef8f8"/>
<rect x="173.9" y="175.2" width="13.3" height="1.9" fill="#fefcfc"/>
<rect x="30.5" y="176.8" width="13.3" height="1.9" fill="#fefafa"/>
<rect x="43.5" y="176.8" width="13.3" height="1.9" fill="#f3f5f9"/>
<rect x="56.6" y="176.8" width="13.3" height="1.9" fill="#e8ebf4"/>
<rect x="69.6" y="176.8" width="13.3" height="1.9" fill="#fbebeb"/>
<rect x="82.6" y="176.8" width="13.3" height="1.9" fill="#fbebeb"/>
<rect x="95.7" y="176.8" width="13.3" height="1.9" fill="#fbecec"/>
<rect x="108.7" y="176.8" width="13.3" height="1.9" fill="#adbad9"/>
<rect x="121.7" y="176.8" width="13.3" height="1.9" fill="#aab7d7"/>
<rect x="134.8" y="176.8" width="13.3" height="1.9" fill="#acb9d8"/>
<rect x="147.8" y="176.8" width="13.3" height="1.9" fill="#fdf3f3"/>
<rect x="160.8" y="176.8" width="13.3" height="1.9" fill="#fcf0f0"/>
<rect x="173.9" y="176.8" width="13.3" height="1.9" fill="#fcefef"/>
<rect x="30.5" y="178.5" width="13.3" height="1.9" fill="#f7f8fb"/>
<rect x="43.5" y="178.5" width="13.3" height="1.9" fill="#e5e9f3"/>
<rect x="56.6" y="178.5" width="13.3" height="1.9" fill="#e7ebf4"/>
<rect x="69.6" y="178.5" width="13.3" height="1.9" fill="#fdf7f7"/>
<rect x="82.6" y="178.5" width="13.3" height="1.9" fill="#fdf5f5"/>
<rect x="95.7" y="178.5" width="13.3" height="1.9" fill="#fefcfc"/>
<rect x="108.7" y="178.5" width="13.3" height="1.9" fill="#bbc6df"/>
<rect x="121.7" y="178.5" width="13.3" height="1.9" fill="#bdc7e0"/>
<rect x="134.8" y="178.5" width="13.3" height="1.9" fill="#c0cae1"/>
<rect x="147.8" y="178.5" width="13.3" height="1.9" fill="#fafbfd"/>
<rect x="160.8" y="178.5" width="13.3" height="1.9" fill="#fefafa"/>
<rect x="173.9" y="178.5" width="13.3" height="1.9" fill="#fdf7f8"/>
<rect x="30.5" y="180.1" width="13.3" height="1.9" fill="#eceff6"/>
<rect x="43.5" y="180.1" width="13.3" height="1.9" fill="#e0e5f1"/>
<rect x="56.6" y="180.1" width="13.3" height="1.9" fill="#dce2ef"/>
<rect x="69.6" y="180.1" width="13.3" height="1.9" fill="#fbecec"/>
<rect x="82.6" y="180.1" width="13.3" height="1.9" fill="#fbe9ea"/>
<rect x="95.7" y="180.1" width="13.3" height="1.9" fill="#fcf1f1"/>
<rect x="108.7" y="180.1" width="13.3" height="1.9" fill="#aab7d7"/>
<rect x="121.7" y="180.1" width="13.3" height="1.9" fill="#abb8d7"/>
<rect x="134.8" y="180.1" width="13.3" height="1.9" fill="#a8b6d6"/>
<rect x="147.8" y="180.1" width="13.3" height="1.9" fill="#fdf5f5"/>
<rect x="160.8" y="180.1" width="13.3" height="1.9" fill="#fcf2f2"/>
<rect x="173.9" y="180.1" width="13.3" height="1.9" fill="#fdf3f4"/>
<rect x="30.5" y="181.7" width="13.3" height="1.9" fill="#f8f9fc"/>
<rect x="43.5" y="181.7" width="13.3" height="1.9" fill="#f8f9fc"/>
<rect x="56.6" y="181.7" width="13.3" height="1.9" fill="#f2f4f9"/>
<rect x="69.6" y="181.7" width="13.3" height="1.9" fill="#f7d9da"/>
<rect x="82.6" y="181.7" width="13.3" height="1.9" fill="#f6d3d4"/>
<rect x="95.7" y="181.7" width="13.3" height="1.9" fill="#f8dede"/>
<rect x="108.7" y="181.7" width="13.3" height="1.9" fill="#a2b0d3"/>
<rect x="121.7" y="181.7" width="13.3" height="1.9" fill="#aab7d7"/>
<rect x="134.8" y="181.7" width="13.3" height="1.9" fill="#afbbd9"/>
<rect x="147.8" y="181.7" width="13.3" height="1.9" fill="#fbebec"/>
<rect x="160.8" y="181.7" width="13.3" height="1.9" fill="#fceeef"/>
<rect x="173.9" y="181.7" width="13.3" height="1.9" fill="#fbeced"/>
<rect x="30.5" y="183.3" width="13.3" height="1.9" fill="#fffdfd"/>
<rect x="43.5" y="183.3" width="13.3" height="1.9" fill="#f5f6fa"/>
<rect x="56.6" y="183.3" width="13.3" height="1.9" fill="#f4f6fa"/>
<rect x="69.6" y="183.3" width="13.3" height="1.9" fill="#fae8e9"/>
<rect x="82.6" y="183.3" width="13.3" height="1.9" fill="#fae7e8"/>
<rect x="95.7" y="183.3" width="13.3" height="1.9" fill="#fdf4f4"/>
<rect x="108.7" y="183.3" width="13.3" height="1.9" fill="#cfd7e9"/>
<rect x="121.7" y="183.3" width="13.3" height="1.9" fill="#c7d0e5"/>
<rect x="134.8" y="183.3" width="13.3" height="1.9" fill="#c2cce3"/>
<rect x="147.8" y="183.3" width="13.3" height="1.9" fill="#fefcfd"/>
<rect x="160.8" y="183.3" width="13.3" height="1.9" fill="#fdf7f7"/>
<rect x="173.9" y="183.3" width="13.3" height="1.9" fill="#fefbfb"/>
<rect x="30.5" y="185" width="13.3" height="1.9" fill="#fbfcfd"/>
<rect x="43.5" y="185" width="13.3" height="1.9" fill="#fefbfb"/>
<rect x="56.6" y="185" width="13.3" height="1.9" fill="#f7f8fb"/>
<rect x="69.6" y="185" width="13.3" height="1.9" fill="#fffefe"/>
<rect x="82.6" y="185" width="13.3" height="1.9" fill="#fffdfd"/>
<rect x="95.7" y="185" width="13.3" height="1.9" fill="#fdf3f3"/>
<rect x="108.7" y="185" width="13.3" height="1.9" fill="#eaedf5"/>
<rect x="121.7" y="185" width="13.3" height="1.9" fill="#e8ecf4"/>
<rect x="134.8" y="185" width="13.3" height="1.9" fill="#dee3f0"/>
<rect x="147.8" y="185" width="13.3" height="1.9" fill="#fbfcfd"/>
<rect x="160.8" y="185" width="13.3" height="1.9" fill="#f9fafc"/>
<rect x="173.9" y="185" width="13.3" height="1.9" fill="#fffdfd"/>
<rect x="30.5" y="186.6" width="13.3" height="1.9" fill="#f4f6fa"/>
<rect x="43.5" y="186.6" width="13.3" height="1.9" fill="#e9edf5"/>
<rect x="56.6" y="186.6" width="13.3" height="1.9" fill="#f6f7fb"/>
<rect x="69.6" y="186.6" width="13.3" height="1.9" fill="#fae8e8"/>
<rect x="82.6" y="186.6" width="13.3" height="1.9" fill="#fceeee"/>
<rect x="95.7" y="186.6" width="13.3" height="1.9" fill="#fdf7f7"/>
<rect x="108.7" y="186.6" width="13.3" height="1.9" fill="#e7ebf4"/>
<rect x="121.7" y="186.6" width="13.3" height="1.9" fill="#e3e7f2"/>
<rect x="134.8" y="186.6" width="13.3" height="1.9" fill="#e6eaf3"/>
<rect x="147.8" y="186.6" width="13.3" height="1.9" fill="#fbebeb"/>
<rect x="160.8" y="186.6" width="13.3" height="1.9" fill="#fdf3f4"/>
<rect x="173.9" y="186.6" width="13.3" height="1.9" fill="#fbebec"/>
<rect x="30.5" y="188.2" width="13.3" height="1.9" fill="#e9edf5"/>
<rect x="43.5" y="188.2" width="13.3" height="1.9" fill="#dae0ee"/>
<rect x="56.6" y="188.2" width="13.3" height="1.9" fill="#dfe4f0"/>
<rect x="69.6" y="188.2" width="13.3" height="1.9" fill="#f9e0e0"/>
<rect x="82.6" y="188.2" width="13.3" height="1.9" fill="#fae5e5"/>
<rect x="95.7" y="188.2" width="13.3" height="1.9" fill="#f6d3d4"/>
<rect x="108.7" y="188.2" width="13.3" height="1.9" fill="#d3daea"/>
<rect x="121.7" y="188.2" width="13.3" height="1.9" fill="#c4cde3"/>
<rect x="134.8" y="188.2" width="13.3" height="1.9" fill="#d1d8e9"/>
<rect x="147.8" y="188.2" width="13.3" height="1.9" fill="#f7d6d6"/>
<rect x="160.8" y="188.2" width="13.3" height="1.9" fill="#f9e1e2"/>
<rect x="173.9" y="188.2" width="13.3" height="1.9" fill="#f8dfdf"/>
<rect x="30.5" y="189.8" width="13.3" height="1.9" fill="#fefefe"/>
<rect x="43.5" y="189.8" width="13.3" height="1.9" fill="#eff2f8"/>
<rect x="56.6" y="189.8" width="13.3" height="1.9" fill="#e5e9f3"/>
<rect x="69.6" y="189.8" width="13.3" height="1.9" fill="#f7d9d9"/>
<rect x="82.6" y="189.8" width="13.3" height="1.9" fill="#f6d3d4"/>
<rect x="95.7" y="189.8" width="13.3" height="1.9" fill="#f6d5d6"/>
<rect x="108.7" y="189.8" width="13.3" height="1.9" fill="#dae0ee"/>
<rect x="121.7" y="189.8" width="13.3" height="1.9" fill="#d2d9ea"/>
<rect x="134.8" y="189.8" width="13.3" height="1.9" fill="#d6dcec"/>
<rect x="147.8" y="189.8" width="13.3" height="1.9" fill="#f8ddde"/>
<rect x="160.8" y="189.8" width="13.3" height="1.9" fill="#f7d8d9"/>
<rect x="173.9" y="189.8" width="13.3" height="1.9" fill="#f6d4d5"/>
<rect x="30.5" y="191.5" width="13.3" height="1.9" fill="#f3f5f9"/>
<rect x="43.5" y="191.5" width="13.3" height="1.9" fill="#e6eaf3"/>
<rect x="56.6" y="191.5" width="13.3" height="1.9" fill="#ebeef6"/>
<rect x="69.6" y="191.5" width="13.3" height="1.9" fill="#f2bfc1"/>
<rect x="82.6" y="191.5" width="13.3" height="1.9" fill="#f6d2d2"/>
<rect x="95.7" y="191.5" width="13.3" height="1.9" fill="#f4c7c8"/>
<rect x="108.7" y="191.5" width="13.3" height="1.9" fill="#b7c2dd"/>
<rect x="121.7" y="191.5" width="13.3" height="1.9" fill="#bcc6df"/>
<rect x="134.8" y="191.5" width="13.3" height="1.9" fill="#c1cbe2"/>
<rect x="147.8" y="191.5" width="13.3" height="1.9" fill="#fae7e7"/>
<rect x="160.8" y="191.5" width="13.3" height="1.9" fill="#f9e4e4"/>
<rect x="173.9" y="191.5" width="13.3" height="1.9" fill="#fbeaeb"/>
<rect x="30.5" y="193.1" width="13.3" height="1.9" fill="#f0f2f8"/>
<rect x="43.5" y="193.1" width="13.3" height="1.9" fill="#e9ecf5"/>
<rect x="56.6" y="193.1" width="13.3" height="1.9" fill="#e0e5f0"/>
<rect x="69.6" y="193.1" width="13.3" height="1.9" fill="#f3c5c6"/>
<rect x="82.6" y="193.1" width="13.3" height="1.9" fill="#f5cece"/>
<rect x="95.7" y="193.1" width="13.3" height="1.9" fill="#f5cecf"/>
<rect x="108.7" y="193.1" width="13.3" height="1.9" fill="#bcc7e0"/>
<rect x="121.7" y="193.1" width="13.3" height="1.9" fill="#c4cde3"/>
<rect x="134.8" y="193.1" width="13.3" height="1.9" fill="#b7c3dd"/>
<rect x="147.8" y="193.1" width="13.3" height="1.9" fill="#fae9e9"/>
<rect x="160.8" y="193.1" width="13.3" height="1.9" fill="#fbeaeb"/>
<rect x="173.9" y="193.1" width="13.3" height="1.9" fill="#f8dddd"/>
<rect x="30.5" y="194.7" width="13.3" height="1.9" fill="#fdf7f7"/>
<rect x="43.5" y="194.7" width="13.3" height="1.9" fill="#fefdfd"/>
<rect x="56.6" y="194.7" width="13.3" height="1.9" fill="#f2f4f9"/>
<rect x="69.6" y="194.7" width="13.3" height="1.9" fill="#f4c8c9"/>
<rect x="82.6" y="194.7" width="13.3" height="1.9" fill="#f6d1d1"/>
<rect x="95.7" y="194.7" width="13.3" height="1.9" fill="#f6d1d2"/>
<rect x="108.7" y="194.7" width="13.3" height="1.9" fill="#dde3ef"/>
<rect x="121.7" y="194.7" width="13.3" height="1.9" fill="#dae0ee"/>
<rect x="134.8" y="194.7" width="13.3" height="1.9" fill="#d9dfed"/>
<rect x="147.8" y="194.7" width="13.3" height="1.9" fill="#fae8e9"/>
<rect x="160.8" y="194.7" width="13.3" height="1.9" fill="#fbe9e9"/>
<rect x="173.9" y="194.7" width="13.3" height="1.9" fill="#f9e1e1"/>
<rect x="30.5" y="196.3" width="13.3" height="1.9" fill="#fdf3f3"/>
<rect x="43.5" y="196.3" width="13.3" height="1.9" fill="#f4f6fa"/>
<rect x="56.6" y="196.3" width="13.3" height="1.9" fill="#fdfdfe"/>
<rect x="69.6" y="196.3" width="13.3" height="1.9" fill="#f5d0d1"/>
<rect x="82.6" y="196.3" width="13.3" height="1.9" fill="#f5cfcf"/>
<rect x="95.7" y="196.3" width="13.3" height="1.9" fill="#f5cecf"/>
<rect x="108.7" y="196.3" width="13.3" height="1.9" fill="#c8d0e5"/>
<rect x="121.7" y="196.3" width="13.3" height="1.9" fill="#bbc6df"/>
<rect x="134.8" y="196.3" width="13.3" height="1.9" fill="#c8d0e5"/>
<rect x="147.8" y="196.3" width="13.3" height="1.9" fill="#fbecec"/>
<rect x="160.8" y="196.3" width="13.3" height="1.9" fill="#fae5e5"/>
<rect x="173.9" y="196.3" width="13.3" height="1.9" fill="#fbedee"/>
<rect x="30.5" y="198" width="13.3" height="1.9" fill="#f6f7fb"/>
<rect x="43.5" y="198" width="13.3" height="1.9" fill="#eceff6"/>
<rect x="56.6" y="198" width="13.3" height="1.9" fill="#ebeef6"/>
<rect x="69.6" y="198" width="13.3" height="1.9" fill="#f5cecf"/>
<rect x="82.6" y="198" width="13.3" height="1.9" fill="#f6d1d2"/>
<rect x="95.7" y="198" width="13.3" height="1.9" fill="#f5cdce"/>
<rect x="108.7" y="198" width="13.3" height="1.9" fill="#aebbd9"/>
<rect x="121.7" y="198" width="13.3" height="1.9" fill="#a4b2d4"/>
<rect x="134.8" y="198" width="13.3" height="1.9" fill="#abb8d8"/>
<rect x="147.8" y="198" width="13.3" height="1.9" fill="#f7d9da"/>
<rect x="160.8" y="198" width="13.3" height="1.9" fill="#f9e0e1"/>
<rect x="173.9" y="198" width="13.3" height="1.9" fill="#f7d8d9"/>
<rect x="30.5" y="199.6" width="13.3" height="1.9" fill="#e8ebf4"/>
<rect x="43.5" y="199.6" width="13.3" height="1.9" fill="#e6eaf3"/>
<rect x="56.6" y="199.6" width="13.3" height="1.9" fill="#e2e6f1"/>
<rect x="69.6" y="199.6" width="13.3" height="1.9" fill="#f9e0e1"/>
<rect x="82.6" y="199.6" width="13.3" height="1.9" fill="#f9e1e2"/>
<rect x="95.7" y="199.6" width="13.3" height="1.9" fill="#f6d4d5"/>
<rect x="108.7" y="199.6" width="13.3" height="1.9" fill="#bec8e0"/>
<rect x="121.7" y="199.6" width="13.3" height="1.9" fill="#b7c3dd"/>
<rect x="134.8" y="199.6" width="13.3" height="1.9" fill="#bbc6df"/>
<rect x="147.8" y="199.6" width="13.3" height="1.9" fill="#f7d9d9"/>
<rect x="160.8" y="199.6" width="13.3" height="1.9" fill="#f6d3d4"/>
<rect x="173.9" y="199.6" width="13.3" height="1.9" fill="#f6d1d2"/>
<rect x="30.5" y="201.2" width="13.3" height="1.9" fill="#e7ebf4"/>
<rect x="43.5" y="201.2" width="13.3" height="1.9" fill="#dfe4f0"/>
<rect x="56.6" y="201.2" width="13.3" height="1.9" fill="#ebeef6"/>
<rect x="69.6" y="201.2" width="13.3" height="1.9" fill="#f8dedf"/>
<rect x="82.6" y="201.2" width="13.3" height="1.9" fill="#fbecec"/>
<rect x="95.7" y="201.2" width="13.3" height="1.9" fill="#fae4e5"/>
<rect x="108.7" y="201.2" width="13.3" height="1.9" fill="#cad2e6"/>
<rect x="121.7" y="201.2" width="13.3" height="1.9" fill="#bec8e1"/>
<rect x="134.8" y="201.2" width="13.3" height="1.9" fill="#c8d0e5"/>
<rect x="147.8" y="201.2" width="13.3" height="1.9" fill="#f9e1e2"/>
<rect x="160.8" y="201.2" width="13.3" height="1.9" fill="#f8dbdb"/>
<rect x="173.9" y="201.2" width="13.3" height="1.9" fill="#f9e2e3"/>
<rect x="30.5" y="202.8" width="13.3" height="1.9" fill="#e4e8f2"/>
<rect x="43.5" y="202.8" width="13.3" height="1.9" fill="#eaedf5"/>
<rect x="56.6" y="202.8" width="13.3" height="1.9" fill="#e3e7f2"/>
<rect x="69.6" y="202.8" width="13.3" height="1.9" fill="#fdf4f4"/>
<rect x="82.6" y="202.8" width="13.3" height="1.9" fill="#fbedee"/>
<rect x="95.7" y="202.8" width="13.3" height="1.9" fill="#fdf4f4"/>
<rect x="108.7" y="202.8" width="13.3" height="1.9" fill="#d0d7e9"/>
<rect x="121.7" y="202.8" width="13.3" height="1.9" fill="#cfd6e8"/>
<rect x="134.8" y="202.8" width="13.3" height="1.9" fill="#dee3f0"/>
<rect x="147.8" y="202.8" width="13.3" height="1.9" fill="#f9e0e1"/>
<rect x="160.8" y="202.8" width="13.3" height="1.9" fill="#fbe9ea"/>
<rect x="173.9" y="202.8" width="13.3" height="1.9" fill="#f9e1e1"/>
<rect x="30.5" y="204.5" width="13.3" height="1.9" fill="#f9fafc"/>
<rect x="43.5" y="204.5" width="13.3" height="1.9" fill="#f6f7fb"/>
<rect x="56.6" y="204.5" width="13.3" height="1.9" fill="#eaedf5"/>
<rect x="69.6" y="204.5" width="13.3" height="1.9" fill="#fdf7f7"/>
<rect x="82.6" y="204.5" width="13.3" height="1.9" fill="#fbe9e9"/>
<rect x="95.7" y="204.5" width="13.3" height="1.9" fill="#fdf3f3"/>
<rect x="108.7" y="204.5" width="13.3" height="1.9" fill="#bbc5df"/>
<rect x="121.7" y="204.5" width="13.3" height="1.9" fill="#bec8e0"/>
<rect x="134.8" y="204.5" width="13.3" height="1.9" fill="#b9c4de"/>
<rect x="147.8" y="204.5" width="13.3" height="1.9" fill="#fcf0f1"/>
<rect x="160.8" y="204.5" width="13.3" height="1.9" fill="#fcf0f0"/>
<rect x="173.9" y="204.5" width="13.3" height="1.9" fill="#fcf2f2"/>
<rect x="30.5" y="206.1" width="13.3" height="1.9" fill="#f5f7fa"/>
<rect x="43.5" y="206.1" width="13.3" height="1.9" fill="#eceff6"/>
<rect x="56.6" y="206.1" width="13.3" height="1.9" fill="#eaedf5"/>
<rect x="69.6" y="206.1" width="13.3" height="1.9" fill="#fefcfc"/>
<rect x="82.6" y="206.1" width="13.3" height="1.9" fill="#fffdfd"/>
<rect x="95.7" y="206.1" width="13.3" height="1.9" fill="#fdf5f5"/>
<rect x="108.7" y="206.1" width="13.3" height="1.9" fill="#aebad9"/>
<rect x="121.7" y="206.1" width="13.3" height="1.9" fill="#b0bcda"/>
<rect x="134.8" y="206.1" width="13.3" height="1.9" fill="#b0bcda"/>
<rect x="147.8" y="206.1" width="13.3" height="1.9" fill="#fbeaeb"/>
<rect x="160.8" y="206.1" width="13.3" height="1.9" fill="#f9e3e3"/>
<rect x="173.9" y="206.1" width="13.3" height="1.9" fill="#fcf0f0"/>
<rect x="30.5" y="207.7" width="13.3" height="1.9" fill="#fefafa"/>
<rect x="43.5" y="207.7" width="13.3" height="1.9" fill="#fefeff"/>
<rect x="56.6" y="207.7" width="13.3" height="1.9" fill="#fbfbfd"/>
<rect x="69.6" y="207.7" width="13.3" height="1.9" fill="#fffdfd"/>
<rect x="82.6" y="207.7" width="13.3" height="1.9" fill="#fcf1f1"/>
<rect x="95.7" y="207.7" width="13.3" height="1.9" fill="#fef9f9"/>
<rect x="108.7" y="207.7" width="13.3" height="1.9" fill="#d6ddec"/>
<rect x="121.7" y="207.7" width="13.3" height="1.9" fill="#cbd3e7"/>
<rect x="134.8" y="207.7" width="13.3" height="1.9" fill="#cfd6e8"/>
<rect x="147.8" y="207.7" width="13.3" height="1.9" fill="#fae9e9"/>
<rect x="160.8" y="207.7" width="13.3" height="1.9" fill="#fbeaea"/>
<rect x="173.9" y="207.7" width="13.3" height="1.9" fill="#fae7e7"/>
<rect x="30.5" y="209.3" width="13.3" height="1.9" fill="#fbfbfd"/>
<rect x="43.5" y="209.3" width="13.3" height="1.9" fill="#f4f5fa"/>
<rect x="56.6" y="209.3" width="13.3" height="1.9" fill="#f9fafc"/>
<rect x="69.6" y="209.3" width="13.3" height="1.9" fill="#fae4e5"/>
<rect x="82.6" y="209.3" width="13.3" height="1.9" fill="#fae5e5"/>
<rect x="95.7" y="209.3" width="13.3" height="1.9" fill="#fae5e6"/>
<rect x="108.7" y="209.3" width="13.3" height="1.9" fill="#dbe0ee"/>
<rect x="121.7" y="209.3" width="13.3" height="1.9" fill="#dbe0ee"/>
<rect x="134.8" y="209.3" width="13.3" height="1.9" fill="#d9dfed"/>
<rect x="147.8" y="209.3" width="13.3" height="1.9" fill="#fdf4f4"/>
<rect x="160.8" y="209.3" width="13.3" height="1.9" fill="#fdf7f7"/>
<rect x="173.9" y="209.3" width="13.3" height="1.9" fill="#fbebeb"/>
<rect x="30.5" y="211" width="13.3" height="1.9" fill="#eaedf5"/>
<rect x="43.5" y="211" width="13.3" height="1.9" fill="#eaeef5"/>
<rect x="56.6" y="211" width="13.3" height="1.9" fill="#e6eaf3"/>
<rect x="69.6" y="211" width="13.3" height="1.9" fill="#fcf2f3"/>
<rect x="82.6" y="211" width="13.3" height="1.9" fill="#fef8f8"/>
<rect x="95.7" y="211" width="13.3" height="1.9" fill="#fbe9ea"/>
<rect x="108.7" y="211" width="13.3" height="1.9" fill="#d4dbeb"/>
<rect x="121.7" y="211" width="13.3" height="1.9" fill="#c6cfe4"/>
<rect x="134.8" y="211" width="13.3" height="1.9" fill="#c6cfe4"/>
<rect x="147.8" y="211" width="13.3" height="1.9" fill="#fae7e7"/>
<rect x="160.8" y="211" width="13.3" height="1.9" fill="#fae6e7"/>
<rect x="173.9" y="211" width="13.3" height="1.9" fill="#fbe9ea"/>
<rect x="30.5" y="212.6" width="13.3" height="1.9" fill="#fdf6f6"/>
<rect x="43.5" y="212.6" width="13.3" height="1.9" fill="#fefbfb"/>
<rect x="56.6" y="212.6" width="13.3" height="1.9" fill="#f6f7fb"/>
<rect x="69.6" y="212.6" width="13.3" height="1.9" fill="#fcefef"/>
<rect x="82.6" y="212.6" width="13.3" height="1.9" fill="#fae5e5"/>
<rect x="95.7" y="212.6" width="13.3" height="1.9" fill="#fcf1f2"/>
<rect x="108.7" y="212.6" width="13.3" height="1.9" fill="#d5dbeb"/>
<rect x="121.7" y="212.6" width="13.3" height="1.9" fill="#d7ddec"/>
<rect x="134.8" y="212.6" width="13.3" height="1.9" fill="#cad2e6"/>
<rect x="147.8" y="212.6" width="13.3" height="1.9" fill="#fbe9e9"/>
<rect x="160.8" y="212.6" width="13.3" height="1.9" fill="#fbe9ea"/>
<rect x="173.9" y="212.6" width="13.3" height="1.9" fill="#fbeced"/>
<rect x="30.5" y="173.6" width="156.4" height="40.6" fill="none" stroke="#555" stroke-width="1"/>
<rect x="13.6" y="173.6" width="13.8" height="40.6" rx="1.3" fill="#6c9edb" stroke="#3a3a3a" stroke-width="1"/>
<text x="20.5" y="194.2" font-size="7.2" fill="#10284a" stroke="#10284a" stroke-width="0.2" text-anchor="middle" transform="rotate(-90 20.5 194.2)" dy="2.6">Cluster 3</text>
<rect x="30.5" y="217.4" width="13.3" height="1.9" fill="#f4cbcc"/>
<rect x="43.5" y="217.4" width="13.3" height="1.9" fill="#f5cccc"/>
<rect x="56.6" y="217.4" width="13.3" height="1.9" fill="#f4c9ca"/>
<rect x="69.6" y="217.4" width="13.3" height="1.9" fill="#f8f9fc"/>
<rect x="82.6" y="217.4" width="13.3" height="1.9" fill="#eff2f8"/>
<rect x="95.7" y="217.4" width="13.3" height="1.9" fill="#e9ecf5"/>
<rect x="108.7" y="217.4" width="13.3" height="1.9" fill="#fbeeee"/>
<rect x="121.7" y="217.4" width="13.3" height="1.9" fill="#fbeaeb"/>
<rect x="134.8" y="217.4" width="13.3" height="1.9" fill="#fdf5f6"/>
<rect x="147.8" y="217.4" width="13.3" height="1.9" fill="#c9d1e6"/>
<rect x="160.8" y="217.4" width="13.3" height="1.9" fill="#c2cbe2"/>
<rect x="173.9" y="217.4" width="13.3" height="1.9" fill="#d0d8e9"/>
<rect x="30.5" y="219" width="13.3" height="1.9" fill="#f7d8d9"/>
<rect x="43.5" y="219" width="13.3" height="1.9" fill="#f7d6d6"/>
<rect x="56.6" y="219" width="13.3" height="1.9" fill="#f5cdce"/>
<rect x="69.6" y="219" width="13.3" height="1.9" fill="#f1f3f8"/>
<rect x="82.6" y="219" width="13.3" height="1.9" fill="#eceff6"/>
<rect x="95.7" y="219" width="13.3" height="1.9" fill="#e6eaf3"/>
<rect x="108.7" y="219" width="13.3" height="1.9" fill="#fbeded"/>
<rect x="121.7" y="219" width="13.3" height="1.9" fill="#fefbfb"/>
<rect x="134.8" y="219" width="13.3" height="1.9" fill="#fae7e8"/>
<rect x="147.8" y="219" width="13.3" height="1.9" fill="#e1e6f1"/>
<rect x="160.8" y="219" width="13.3" height="1.9" fill="#d3daeb"/>
<rect x="173.9" y="219" width="13.3" height="1.9" fill="#d9dfed"/>
<rect x="30.5" y="220.7" width="13.3" height="1.9" fill="#f7d6d7"/>
<rect x="43.5" y="220.7" width="13.3" height="1.9" fill="#f6d3d4"/>
<rect x="56.6" y="220.7" width="13.3" height="1.9" fill="#f7d9da"/>
<rect x="69.6" y="220.7" width="13.3" height="1.9" fill="#ebeef6"/>
<rect x="82.6" y="220.7" width="13.3" height="1.9" fill="#e0e5f1"/>
<rect x="95.7" y="220.7" width="13.3" height="1.9" fill="#e6eaf3"/>
<rect x="108.7" y="220.7" width="13.3" height="1.9" fill="#fae6e6"/>
<rect x="121.7" y="220.7" width="13.3" height="1.9" fill="#fbebeb"/>
<rect x="134.8" y="220.7" width="13.3" height="1.9" fill="#fcf0f0"/>
<rect x="147.8" y="220.7" width="13.3" height="1.9" fill="#d0d7e9"/>
<rect x="160.8" y="220.7" width="13.3" height="1.9" fill="#d2d9ea"/>
<rect x="173.9" y="220.7" width="13.3" height="1.9" fill="#d6dcec"/>
<rect x="30.5" y="222.3" width="13.3" height="1.9" fill="#f3c6c7"/>
<rect x="43.5" y="222.3" width="13.3" height="1.9" fill="#f5cdce"/>
<rect x="56.6" y="222.3" width="13.3" height="1.9" fill="#f2bfc0"/>
<rect x="69.6" y="222.3" width="13.3" height="1.9" fill="#f0f2f8"/>
<rect x="82.6" y="222.3" width="13.3" height="1.9" fill="#ebeef6"/>
<rect x="95.7" y="222.3" width="13.3" height="1.9" fill="#e5e9f3"/>
<rect x="108.7" y="222.3" width="13.3" height="1.9" fill="#fdf3f3"/>
<rect x="121.7" y="222.3" width="13.3" height="1.9" fill="#fefcfc"/>
<rect x="134.8" y="222.3" width="13.3" height="1.9" fill="#ffffff"/>
<rect x="147.8" y="222.3" width="13.3" height="1.9" fill="#dae0ee"/>
<rect x="160.8" y="222.3" width="13.3" height="1.9" fill="#dce2ef"/>
<rect x="173.9" y="222.3" width="13.3" height="1.9" fill="#dce2ef"/>
<rect x="30.5" y="223.9" width="13.3" height="1.9" fill="#f4c7c8"/>
<rect x="43.5" y="223.9" width="13.3" height="1.9" fill="#f6d2d3"/>
<rect x="56.6" y="223.9" width="13.3" height="1.9" fill="#f4c9ca"/>
<rect x="69.6" y="223.9" width="13.3" height="1.9" fill="#e6eaf3"/>
<rect x="82.6" y="223.9" width="13.3" height="1.9" fill="#eaedf5"/>
<rect x="95.7" y="223.9" width="13.3" height="1.9" fill="#e5e9f3"/>
<rect x="108.7" y="223.9" width="13.3" height="1.9" fill="#fae4e5"/>
<rect x="121.7" y="223.9" width="13.3" height="1.9" fill="#fae8e9"/>
<rect x="134.8" y="223.9" width="13.3" height="1.9" fill="#fbecec"/>
<rect x="147.8" y="223.9" width="13.3" height="1.9" fill="#c6cfe4"/>
<rect x="160.8" y="223.9" width="13.3" height="1.9" fill="#c8d0e5"/>
<rect x="173.9" y="223.9" width="13.3" height="1.9" fill="#c9d1e5"/>
<rect x="30.5" y="225.5" width="13.3" height="1.9" fill="#f0b5b7"/>
<rect x="43.5" y="225.5" width="13.3" height="1.9" fill="#f2bebf"/>
<rect x="56.6" y="225.5" width="13.3" height="1.9" fill="#f2bdbe"/>
<rect x="69.6" y="225.5" width="13.3" height="1.9" fill="#eaeef5"/>
<rect x="82.6" y="225.5" width="13.3" height="1.9" fill="#e4e8f2"/>
<rect x="95.7" y="225.5" width="13.3" height="1.9" fill="#f2f4f9"/>
<rect x="108.7" y="225.5" width="13.3" height="1.9" fill="#f9e3e4"/>
<rect x="121.7" y="225.5" width="13.3" height="1.9" fill="#fdf5f6"/>
<rect x="134.8" y="225.5" width="13.3" height="1.9" fill="#fbe9e9"/>
<rect x="147.8" y="225.5" width="13.3" height="1.9" fill="#bdc7e0"/>
<rect x="160.8" y="225.5" width="13.3" height="1.9" fill="#bfc9e1"/>
<rect x="173.9" y="225.5" width="13.3" height="1.9" fill="#bdc7e0"/>
<rect x="30.5" y="227.2" width="13.3" height="1.9" fill="#f7d9da"/>
<rect x="43.5" y="227.2" width="13.3" height="1.9" fill="#f9e2e2"/>
<rect x="56.6" y="227.2" width="13.3" height="1.9" fill="#f6d2d3"/>
<rect x="69.6" y="227.2" width="13.3" height="1.9" fill="#eef0f7"/>
<rect x="82.6" y="227.2" width="13.3" height="1.9" fill="#eaedf5"/>
<rect x="95.7" y="227.2" width="13.3" height="1.9" fill="#eceff6"/>
<rect x="108.7" y="227.2" width="13.3" height="1.9" fill="#f6d4d5"/>
<rect x="121.7" y="227.2" width="13.3" height="1.9" fill="#f8dede"/>
<rect x="134.8" y="227.2" width="13.3" height="1.9" fill="#f7d7d7"/>
<rect x="147.8" y="227.2" width="13.3" height="1.9" fill="#afbcda"/>
<rect x="160.8" y="227.2" width="13.3" height="1.9" fill="#b7c2dd"/>
<rect x="173.9" y="227.2" width="13.3" height="1.9" fill="#b5c0dc"/>
<rect x="30.5" y="228.8" width="13.3" height="1.9" fill="#f4cbcc"/>
<rect x="43.5" y="228.8" width="13.3" height="1.9" fill="#f8dedf"/>
<rect x="56.6" y="228.8" width="13.3" height="1.9" fill="#f8dadb"/>
<rect x="69.6" y="228.8" width="13.3" height="1.9" fill="#f3f5fa"/>
<rect x="82.6" y="228.8" width="13.3" height="1.9" fill="#f9fafc"/>
<rect x="95.7" y="228.8" width="13.3" height="1.9" fill="#fdfdfe"/>
<rect x="108.7" y="228.8" width="13.3" height="1.9" fill="#f1bbbc"/>
<rect x="121.7" y="228.8" width="13.3" height="1.9" fill="#f2bdbf"/>
<rect x="134.8" y="228.8" width="13.3" height="1.9" fill="#f1babb"/>
<rect x="147.8" y="228.8" width="13.3" height="1.9" fill="#b5c1dc"/>
<rect x="160.8" y="228.8" width="13.3" height="1.9" fill="#b2bedb"/>
<rect x="173.9" y="228.8" width="13.3" height="1.9" fill="#c1cbe2"/>
<rect x="30.5" y="230.4" width="13.3" height="1.9" fill="#fae6e6"/>
<rect x="43.5" y="230.4" width="13.3" height="1.9" fill="#f8dbdc"/>
<rect x="56.6" y="230.4" width="13.3" height="1.9" fill="#f8ddde"/>
<rect x="69.6" y="230.4" width="13.3" height="1.9" fill="#e2e7f1"/>
<rect x="82.6" y="230.4" width="13.3" height="1.9" fill="#ebeef5"/>
<rect x="95.7" y="230.4" width="13.3" height="1.9" fill="#eaedf5"/>
<rect x="108.7" y="230.4" width="13.3" height="1.9" fill="#f1bbbc"/>
<rect x="121.7" y="230.4" width="13.3" height="1.9" fill="#f2c1c2"/>
<rect x="134.8" y="230.4" width="13.3" height="1.9" fill="#f2bdbe"/>
<rect x="147.8" y="230.4" width="13.3" height="1.9" fill="#cbd3e7"/>
<rect x="160.8" y="230.4" width="13.3" height="1.9" fill="#c8d0e5"/>
<rect x="173.9" y="230.4" width="13.3" height="1.9" fill="#c7d0e5"/>
<rect x="30.5" y="232.1" width="13.3" height="1.9" fill="#f6d5d6"/>
<rect x="43.5" y="232.1" width="13.3" height="1.9" fill="#f8dedf"/>
<rect x="56.6" y="232.1" width="13.3" height="1.9" fill="#f8dedf"/>
<rect x="69.6" y="232.1" width="13.3" height="1.9" fill="#fef9f9"/>
<rect x="82.6" y="232.1" width="13.3" height="1.9" fill="#f6f7fb"/>
<rect x="95.7" y="232.1" width="13.3" height="1.9" fill="#fefcfc"/>
<rect x="108.7" y="232.1" width="13.3" height="1.9" fill="#efb1b3"/>
<rect x="121.7" y="232.1" width="13.3" height="1.9" fill="#f0b4b6"/>
<rect x="134.8" y="232.1" width="13.3" height="1.9" fill="#f0b7b9"/>
<rect x="147.8" y="232.1" width="13.3" height="1.9" fill="#c2cce2"/>
<rect x="160.8" y="232.1" width="13.3" height="1.9" fill="#c8d1e5"/>
<rect x="173.9" y="232.1" width="13.3" height="1.9" fill="#cad2e6"/>
<rect x="30.5" y="233.7" width="13.3" height="1.9" fill="#fbebec"/>
<rect x="43.5" y="233.7" width="13.3" height="1.9" fill="#fbe9e9"/>
<rect x="56.6" y="233.7" width="13.3" height="1.9" fill="#fae7e8"/>
<rect x="69.6" y="233.7" width="13.3" height="1.9" fill="#f3f5f9"/>
<rect x="82.6" y="233.7" width="13.3" height="1.9" fill="#fffefe"/>
<rect x="95.7" y="233.7" width="13.3" height="1.9" fill="#fefcfc"/>
<rect x="108.7" y="233.7" width="13.3" height="1.9" fill="#f4c6c7"/>
<rect x="121.7" y="233.7" width="13.3" height="1.9" fill="#f4c9ca"/>
<rect x="134.8" y="233.7" width="13.3" height="1.9" fill="#f4c8c9"/>
<rect x="147.8" y="233.7" width="13.3" height="1.9" fill="#d6dcec"/>
<rect x="160.8" y="233.7" width="13.3" height="1.9" fill="#dde2ef"/>
<rect x="173.9" y="233.7" width="13.3" height="1.9" fill="#dfe4f0"/>
<rect x="30.5" y="235.3" width="13.3" height="1.9" fill="#f5d0d0"/>
<rect x="43.5" y="235.3" width="13.3" height="1.9" fill="#f6d1d2"/>
<rect x="56.6" y="235.3" width="13.3" height="1.9" fill="#f5d0d1"/>
<rect x="69.6" y="235.3" width="13.3" height="1.9" fill="#fdfdfe"/>
<rect x="82.6" y="235.3" width="13.3" height="1.9" fill="#fbfcfd"/>
<rect x="95.7" y="235.3" width="13.3" height="1.9" fill="#fafbfd"/>
<rect x="108.7" y="235.3" width="13.3" height="1.9" fill="#f6d3d3"/>
<rect x="121.7" y="235.3" width="13.3" height="1.9" fill="#f5cfd0"/>
<rect x="134.8" y="235.3" width="13.3" height="1.9" fill="#f8ddde"/>
<rect x="147.8" y="235.3" width="13.3" height="1.9" fill="#ffffff"/>
<rect x="160.8" y="235.3" width="13.3" height="1.9" fill="#f3f5f9"/>
<rect x="173.9" y="235.3" width="13.3" height="1.9" fill="#f7f8fb"/>
<rect x="30.5" y="237" width="13.3" height="1.9" fill="#f7d7d8"/>
<rect x="43.5" y="237" width="13.3" height="1.9" fill="#f7d7d7"/>
<rect x="56.6" y="237" width="13.3" height="1.9" fill="#f8dadb"/>
<rect x="69.6" y="237" width="13.3" height="1.9" fill="#fafafc"/>
<rect x="82.6" y="237" width="13.3" height="1.9" fill="#fbfcfd"/>
<rect x="95.7" y="237" width="13.3" height="1.9" fill="#f5f7fa"/>
<rect x="108.7" y="237" width="13.3" height="1.9" fill="#fcf1f1"/>
<rect x="121.7" y="237" width="13.3" height="1.9" fill="#fbeeee"/>
<rect x="134.8" y="237" width="13.3" height="1.9" fill="#fdf6f7"/>
<rect x="147.8" y="237" width="13.3" height="1.9" fill="#d0d8e9"/>
<rect x="160.8" y="237" width="13.3" height="1.9" fill="#ced6e8"/>
<rect x="173.9" y="237" width="13.3" height="1.9" fill="#c9d1e6"/>
<rect x="30.5" y="238.6" width="13.3" height="1.9" fill="#f7dadb"/>
<rect x="43.5" y="238.6" width="13.3" height="1.9" fill="#f7d6d6"/>
<rect x="56.6" y="238.6" width="13.3" height="1.9" fill="#f8dfdf"/>
<rect x="69.6" y="238.6" width="13.3" height="1.9" fill="#f5f6fa"/>
<rect x="82.6" y="238.6" width="13.3" height="1.9" fill="#f4f5fa"/>
<rect x="95.7" y="238.6" width="13.3" height="1.9" fill="#eef0f7"/>
<rect x="108.7" y="238.6" width="13.3" height="1.9" fill="#fef9f9"/>
<rect x="121.7" y="238.6" width="13.3" height="1.9" fill="#fdf5f5"/>
<rect x="134.8" y="238.6" width="13.3" height="1.9" fill="#ffffff"/>
<rect x="147.8" y="238.6" width="13.3" height="1.9" fill="#c5cee4"/>
<rect x="160.8" y="238.6" width="13.3" height="1.9" fill="#bcc7e0"/>
<rect x="173.9" y="238.6" width="13.3" height="1.9" fill="#c3cde3"/>
<rect x="30.5" y="240.2" width="13.3" height="1.9" fill="#f9e1e2"/>
<rect x="43.5" y="240.2" width="13.3" height="1.9" fill="#f8dcdd"/>
<rect x="56.6" y="240.2" width="13.3" height="1.9" fill="#f8dede"/>
<rect x="69.6" y="240.2" width="13.3" height="1.9" fill="#f0f2f8"/>
<rect x="82.6" y="240.2" width="13.3" height="1.9" fill="#fafbfd"/>
<rect x="95.7" y="240.2" width="13.3" height="1.9" fill="#ebeef6"/>
<rect x="108.7" y="240.2" width="13.3" height="1.9" fill="#fdf6f6"/>
<rect x="121.7" y="240.2" width="13.3" height="1.9" fill="#fcf1f1"/>
<rect x="134.8" y="240.2" width="13.3" height="1.9" fill="#fef9fa"/>
<rect x="147.8" y="240.2" width="13.3" height="1.9" fill="#bcc6df"/>
<rect x="160.8" y="240.2" width="13.3" height="1.9" fill="#c3cce3"/>
<rect x="173.9" y="240.2" width="13.3" height="1.9" fill="#c8d0e5"/>
<rect x="30.5" y="241.8" width="13.3" height="1.9" fill="#f9e0e1"/>
<rect x="43.5" y="241.8" width="13.3" height="1.9" fill="#f7d6d7"/>
<rect x="56.6" y="241.8" width="13.3" height="1.9" fill="#f6d5d6"/>
<rect x="69.6" y="241.8" width="13.3" height="1.9" fill="#eef1f7"/>
<rect x="82.6" y="241.8" width="13.3" height="1.9" fill="#f7f8fb"/>
<rect x="95.7" y="241.8" width="13.3" height="1.9" fill="#fbfbfd"/>
<rect x="108.7" y="241.8" width="13.3" height="1.9" fill="#fae9e9"/>
<rect x="121.7" y="241.8" width="13.3" height="1.9" fill="#fdf7f7"/>
<rect x="134.8" y="241.8" width="13.3" height="1.9" fill="#fcf0f1"/>
<rect x="147.8" y="241.8" width="13.3" height="1.9" fill="#c7d0e5"/>
<rect x="160.8" y="241.8" width="13.3" height="1.9" fill="#d4daeb"/>
<rect x="173.9" y="241.8" width="13.3" height="1.9" fill="#d8deed"/>
<rect x="30.5" y="243.5" width="13.3" height="1.9" fill="#f5cfd0"/>
<rect x="43.5" y="243.5" width="13.3" height="1.9" fill="#f6d4d5"/>
<rect x="56.6" y="243.5" width="13.3" height="1.9" fill="#f5cecf"/>
<rect x="69.6" y="243.5" width="13.3" height="1.9" fill="#eff2f8"/>
<rect x="82.6" y="243.5" width="13.3" height="1.9" fill="#f3f5fa"/>
<rect x="95.7" y="243.5" width="13.3" height="1.9" fill="#eff1f7"/>
<rect x="108.7" y="243.5" width="13.3" height="1.9" fill="#fbe9e9"/>
<rect x="121.7" y="243.5" width="13.3" height="1.9" fill="#fbebec"/>
<rect x="134.8" y="243.5" width="13.3" height="1.9" fill="#f9e1e2"/>
<rect x="147.8" y="243.5" width="13.3" height="1.9" fill="#bfc9e1"/>
<rect x="160.8" y="243.5" width="13.3" height="1.9" fill="#bec8e0"/>
<rect x="173.9" y="243.5" width="13.3" height="1.9" fill="#bbc6df"/>
<rect x="30.5" y="245.1" width="13.3" height="1.9" fill="#f5cfd0"/>
<rect x="43.5" y="245.1" width="13.3" height="1.9" fill="#f5cccd"/>
<rect x="56.6" y="245.1" width="13.3" height="1.9" fill="#f4cacb"/>
<rect x="69.6" y="245.1" width="13.3" height="1.9" fill="#eff2f8"/>
<rect x="82.6" y="245.1" width="13.3" height="1.9" fill="#e3e7f2"/>
<rect x="95.7" y="245.1" width="13.3" height="1.9" fill="#eceff6"/>
<rect x="108.7" y="245.1" width="13.3" height="1.9" fill="#fceff0"/>
<rect x="121.7" y="245.1" width="13.3" height="1.9" fill="#fbe9e9"/>
<rect x="134.8" y="245.1" width="13.3" height="1.9" fill="#fbeaea"/>
<rect x="147.8" y="245.1" width="13.3" height="1.9" fill="#acb9d8"/>
<rect x="160.8" y="245.1" width="13.3" height="1.9" fill="#b0bcda"/>
<rect x="173.9" y="245.1" width="13.3" height="1.9" fill="#a5b3d5"/>
<rect x="30.5" y="246.7" width="13.3" height="1.9" fill="#f5cdce"/>
<rect x="43.5" y="246.7" width="13.3" height="1.9" fill="#f6d2d3"/>
<rect x="56.6" y="246.7" width="13.3" height="1.9" fill="#f7d5d6"/>
<rect x="69.6" y="246.7" width="13.3" height="1.9" fill="#edf0f7"/>
<rect x="82.6" y="246.7" width="13.3" height="1.9" fill="#f4f6fa"/>
<rect x="95.7" y="246.7" width="13.3" height="1.9" fill="#fcfcfe"/>
<rect x="108.7" y="246.7" width="13.3" height="1.9" fill="#fcf0f0"/>
<rect x="121.7" y="246.7" width="13.3" height="1.9" fill="#fdf4f4"/>
<rect x="134.8" y="246.7" width="13.3" height="1.9" fill="#f9e3e3"/>
<rect x="147.8" y="246.7" width="13.3" height="1.9" fill="#bec8e1"/>
<rect x="160.8" y="246.7" width="13.3" height="1.9" fill="#c3cde3"/>
<rect x="173.9" y="246.7" width="13.3" height="1.9" fill="#c8d0e5"/>
<rect x="30.5" y="248.4" width="13.3" height="1.9" fill="#f8dbdc"/>
<rect x="43.5" y="248.4" width="13.3" height="1.9" fill="#fbeaeb"/>
<rect x="56.6" y="248.4" width="13.3" height="1.9" fill="#f8dbdc"/>
<rect x="69.6" y="248.4" width="13.3" height="1.9" fill="#f4f6fa"/>
<rect x="82.6" y="248.4" width="13.3" height="1.9" fill="#f0f3f8"/>
<rect x="95.7" y="248.4" width="13.3" height="1.9" fill="#fafbfd"/>
<rect x="108.7" y="248.4" width="13.3" height="1.9" fill="#fef9f9"/>
<rect x="121.7" y="248.4" width="13.3" height="1.9" fill="#fdf3f4"/>
<rect x="134.8" y="248.4" width="13.3" height="1.9" fill="#fefcfc"/>
<rect x="147.8" y="248.4" width="13.3" height="1.9" fill="#dce1ee"/>
<rect x="160.8" y="248.4" width="13.3" height="1.9" fill="#dde2ef"/>
<rect x="173.9" y="248.4" width="13.3" height="1.9" fill="#d8deed"/>
<rect x="30.5" y="250" width="13.3" height="1.9" fill="#f7d6d7"/>
<rect x="43.5" y="250" width="13.3" height="1.9" fill="#f5cece"/>
<rect x="56.6" y="250" width="13.3" height="1.9" fill="#f7d8d9"/>
<rect x="69.6" y="250" width="13.3" height="1.9" fill="#f6f7fb"/>
<rect x="82.6" y="250" width="13.3" height="1.9" fill="#fdfdfe"/>
<rect x="95.7" y="250" width="13.3" height="1.9" fill="#eef1f7"/>
<rect x="108.7" y="250" width="13.3" height="1.9" fill="#fdf4f4"/>
<rect x="121.7" y="250" width="13.3" height="1.9" fill="#fdf6f6"/>
<rect x="134.8" y="250" width="13.3" height="1.9" fill="#fdf6f7"/>
<rect x="147.8" y="250" width="13.3" height="1.9" fill="#c2cbe2"/>
<rect x="160.8" y="250" width="13.3" height="1.9" fill="#bac5df"/>
<rect x="173.9" y="250" width="13.3" height="1.9" fill="#c3cce3"/>
<rect x="30.5" y="251.6" width="13.3" height="1.9" fill="#fae7e7"/>
<rect x="43.5" y="251.6" width="13.3" height="1.9" fill="#f9e2e2"/>
<rect x="56.6" y="251.6" width="13.3" height="1.9" fill="#f8dddd"/>
<rect x="69.6" y="251.6" width="13.3" height="1.9" fill="#f3f5f9"/>
<rect x="82.6" y="251.6" width="13.3" height="1.9" fill="#fdfdfe"/>
<rect x="95.7" y="251.6" width="13.3" height="1.9" fill="#fbfbfd"/>
<rect x="108.7" y="251.6" width="13.3" height="1.9" fill="#fae7e7"/>
<rect x="121.7" y="251.6" width="13.3" height="1.9" fill="#fcefef"/>
<rect x="134.8" y="251.6" width="13.3" height="1.9" fill="#fbedee"/>
<rect x="147.8" y="251.6" width="13.3" height="1.9" fill="#cfd6e8"/>
<rect x="160.8" y="251.6" width="13.3" height="1.9" fill="#d1d8e9"/>
<rect x="173.9" y="251.6" width="13.3" height="1.9" fill="#d3daeb"/>
<rect x="30.5" y="253.3" width="13.3" height="1.9" fill="#f7dada"/>
<rect x="43.5" y="253.3" width="13.3" height="1.9" fill="#f9e0e0"/>
<rect x="56.6" y="253.3" width="13.3" height="1.9" fill="#f8dbdc"/>
<rect x="69.6" y="253.3" width="13.3" height="1.9" fill="#ffffff"/>
<rect x="82.6" y="253.3" width="13.3" height="1.9" fill="#ffffff"/>
<rect x="95.7" y="253.3" width="13.3" height="1.9" fill="#f5f7fa"/>
<rect x="108.7" y="253.3" width="13.3" height="1.9" fill="#fefbfc"/>
<rect x="121.7" y="253.3" width="13.3" height="1.9" fill="#fdf6f6"/>
<rect x="134.8" y="253.3" width="13.3" height="1.9" fill="#fcf0f1"/>
<rect x="147.8" y="253.3" width="13.3" height="1.9" fill="#bbc5df"/>
<rect x="160.8" y="253.3" width="13.3" height="1.9" fill="#b5c0dc"/>
<rect x="173.9" y="253.3" width="13.3" height="1.9" fill="#b5c1dc"/>
<rect x="30.5" y="254.9" width="13.3" height="1.9" fill="#f7d9da"/>
<rect x="43.5" y="254.9" width="13.3" height="1.9" fill="#f6d4d5"/>
<rect x="56.6" y="254.9" width="13.3" height="1.9" fill="#f9e0e0"/>
<rect x="69.6" y="254.9" width="13.3" height="1.9" fill="#fefafa"/>
<rect x="82.6" y="254.9" width="13.3" height="1.9" fill="#fffefe"/>
<rect x="95.7" y="254.9" width="13.3" height="1.9" fill="#fefcfc"/>
<rect x="108.7" y="254.9" width="13.3" height="1.9" fill="#fdfefe"/>
<rect x="121.7" y="254.9" width="13.3" height="1.9" fill="#fffdfd"/>
<rect x="134.8" y="254.9" width="13.3" height="1.9" fill="#fffefe"/>
<rect x="147.8" y="254.9" width="13.3" height="1.9" fill="#d2d9ea"/>
<rect x="160.8" y="254.9" width="13.3" height="1.9" fill="#dde2ef"/>
<rect x="173.9" y="254.9" width="13.3" height="1.9" fill="#d5dceb"/>
<rect x="30.5" y="256.5" width="13.3" height="1.9" fill="#f7d7d8"/>
<rect x="43.5" y="256.5" width="13.3" height="1.9" fill="#f5cecf"/>
<rect x="56.6" y="256.5" width="13.3" height="1.9" fill="#f6d1d2"/>
<rect x="69.6" y="256.5" width="13.3" height="1.9" fill="#f0f2f8"/>
<rect x="82.6" y="256.5" width="13.3" height="1.9" fill="#f0f2f8"/>
<rect x="95.7" y="256.5" width="13.3" height="1.9" fill="#eff2f8"/>
<rect x="108.7" y="256.5" width="13.3" height="1.9" fill="#fbecec"/>
<rect x="121.7" y="256.5" width="13.3" height="1.9" fill="#fae7e8"/>
<rect x="134.8" y="256.5" width="13.3" height="1.9" fill="#fae6e6"/>
<rect x="147.8" y="256.5" width="13.3" height="1.9" fill="#c5cee4"/>
<rect x="160.8" y="256.5" width="13.3" height="1.9" fill="#b6c2dd"/>
<rect x="173.9" y="256.5" width="13.3" height="1.9" fill="#b7c2dd"/>
<rect x="30.5" y="258.1" width="13.3" height="1.9" fill="#f8dddd"/>
<rect x="43.5" y="258.1" width="13.3" height="1.9" fill="#fae5e5"/>
<rect x="56.6" y="258.1" width="13.3" height="1.9" fill="#f8dcdc"/>
<rect x="69.6" y="258.1" width="13.3" height="1.9" fill="#e6eaf3"/>
<rect x="82.6" y="258.1" width="13.3" height="1.9" fill="#dce2ef"/>
<rect x="95.7" y="258.1" width="13.3" height="1.9" fill="#e7ebf4"/>
<rect x="108.7" y="258.1" width="13.3" height="1.9" fill="#fbedee"/>
<rect x="121.7" y="258.1" width="13.3" height="1.9" fill="#fceeee"/>
<rect x="134.8" y="258.1" width="13.3" height="1.9" fill="#fbeded"/>
<rect x="147.8" y="258.1" width="13.3" height="1.9" fill="#9dacd1"/>
<rect x="160.8" y="258.1" width="13.3" height="1.9" fill="#abb8d7"/>
<rect x="173.9" y="258.1" width="13.3" height="1.9" fill="#a6b3d5"/>
<rect x="30.5" y="259.8" width="13.3" height="1.9" fill="#fae6e7"/>
<rect x="43.5" y="259.8" width="13.3" height="1.9" fill="#f9e0e1"/>
<rect x="56.6" y="259.8" width="13.3" height="1.9" fill="#f9dfe0"/>
<rect x="69.6" y="259.8" width="13.3" height="1.9" fill="#e4e8f2"/>
<rect x="82.6" y="259.8" width="13.3" height="1.9" fill="#e2e6f1"/>
<rect x="95.7" y="259.8" width="13.3" height="1.9" fill="#dee3f0"/>
<rect x="108.7" y="259.8" width="13.3" height="1.9" fill="#fdf4f4"/>
<rect x="121.7" y="259.8" width="13.3" height="1.9" fill="#fefcfc"/>
<rect x="134.8" y="259.8" width="13.3" height="1.9" fill="#fdf5f5"/>
<rect x="147.8" y="259.8" width="13.3" height="1.9" fill="#b0bdda"/>
<rect x="160.8" y="259.8" width="13.3" height="1.9" fill="#b5c0dc"/>
<rect x="173.9" y="259.8" width="13.3" height="1.9" fill="#bbc5df"/>
<rect x="30.5" y="217.4" width="156.4" height="44" fill="none" stroke="#555" stroke-width="1"/>
<rect x="13.6" y="217.4" width="13.8" height="43.9" rx="1.3" fill="#bb90cf" stroke="#3a3a3a" stroke-width="1"/>
<text x="20.5" y="239.8" font-size="7.2" fill="#3e1840" stroke="#3e1840" stroke-width="0.2" text-anchor="middle" transform="rotate(-90 20.5 239.8)" dy="2.6">Cluster 4</text>
<rect x="30.5" y="265.6" width="13.3" height="1.9" fill="#f1bcbd"/>
<rect x="43.5" y="265.6" width="13.3" height="1.9" fill="#f1bbbc"/>
<rect x="56.6" y="265.6" width="13.3" height="1.9" fill="#f3c2c3"/>
<rect x="69.6" y="265.6" width="13.3" height="1.9" fill="#fdf6f6"/>
<rect x="82.6" y="265.6" width="13.3" height="1.9" fill="#fefcfc"/>
<rect x="95.7" y="265.6" width="13.3" height="1.9" fill="#fdf4f4"/>
<rect x="108.7" y="265.6" width="13.3" height="1.9" fill="#e0e5f1"/>
<rect x="121.7" y="265.6" width="13.3" height="1.9" fill="#dce1ee"/>
<rect x="134.8" y="265.6" width="13.3" height="1.9" fill="#d2d9ea"/>
<rect x="147.8" y="265.6" width="13.3" height="1.9" fill="#e9edf5"/>
<rect x="160.8" y="265.6" width="13.3" height="1.9" fill="#e8ebf4"/>
<rect x="173.9" y="265.6" width="13.3" height="1.9" fill="#e2e6f1"/>
<rect x="30.5" y="267.2" width="13.3" height="1.9" fill="#f3c1c3"/>
<rect x="43.5" y="267.2" width="13.3" height="1.9" fill="#f5cfd0"/>
<rect x="56.6" y="267.2" width="13.3" height="1.9" fill="#f3c2c3"/>
<rect x="69.6" y="267.2" width="13.3" height="1.9" fill="#fafbfd"/>
<rect x="82.6" y="267.2" width="13.3" height="1.9" fill="#f8f9fc"/>
<rect x="95.7" y="267.2" width="13.3" height="1.9" fill="#f6f7fb"/>
<rect x="108.7" y="267.2" width="13.3" height="1.9" fill="#e3e7f2"/>
<rect x="121.7" y="267.2" width="13.3" height="1.9" fill="#d6dcec"/>
<rect x="134.8" y="267.2" width="13.3" height="1.9" fill="#e8ebf4"/>
<rect x="147.8" y="267.2" width="13.3" height="1.9" fill="#dee3ef"/>
<rect x="160.8" y="267.2" width="13.3" height="1.9" fill="#e8ebf4"/>
<rect x="173.9" y="267.2" width="13.3" height="1.9" fill="#e7eaf4"/>
<rect x="30.5" y="268.8" width="13.3" height="1.9" fill="#f6d1d2"/>
<rect x="43.5" y="268.8" width="13.3" height="1.9" fill="#f5cccd"/>
<rect x="56.6" y="268.8" width="13.3" height="1.9" fill="#f2c1c3"/>
<rect x="69.6" y="268.8" width="13.3" height="1.9" fill="#f5f6fa"/>
<rect x="82.6" y="268.8" width="13.3" height="1.9" fill="#fefeff"/>
<rect x="95.7" y="268.8" width="13.3" height="1.9" fill="#fffefe"/>
<rect x="108.7" y="268.8" width="13.3" height="1.9" fill="#dde2ef"/>
<rect x="121.7" y="268.8" width="13.3" height="1.9" fill="#e5e9f3"/>
<rect x="134.8" y="268.8" width="13.3" height="1.9" fill="#e9ecf5"/>
<rect x="147.8" y="268.8" width="13.3" height="1.9" fill="#f9fafc"/>
<rect x="160.8" y="268.8" width="13.3" height="1.9" fill="#eef0f7"/>
<rect x="173.9" y="268.8" width="13.3" height="1.9" fill="#edeff6"/>
<rect x="30.5" y="270.4" width="13.3" height="1.9" fill="#f3c4c5"/>
<rect x="43.5" y="270.4" width="13.3" height="1.9" fill="#f1b8ba"/>
<rect x="56.6" y="270.4" width="13.3" height="1.9" fill="#f5cecf"/>
<rect x="69.6" y="270.4" width="13.3" height="1.9" fill="#fefcfc"/>
<rect x="82.6" y="270.4" width="13.3" height="1.9" fill="#fdf6f6"/>
<rect x="95.7" y="270.4" width="13.3" height="1.9" fill="#fdf5f5"/>
<rect x="108.7" y="270.4" width="13.3" height="1.9" fill="#dfe4f0"/>
<rect x="121.7" y="270.4" width="13.3" height="1.9" fill="#e0e5f1"/>
<rect x="134.8" y="270.4" width="13.3" height="1.9" fill="#e2e7f1"/>
<rect x="147.8" y="270.4" width="13.3" height="1.9" fill="#dde2ef"/>
<rect x="160.8" y="270.4" width="13.3" height="1.9" fill="#d8deed"/>
<rect x="173.9" y="270.4" width="13.3" height="1.9" fill="#f0f2f8"/>
<rect x="30.5" y="272" width="13.3" height="1.9" fill="#f5cfd0"/>
<rect x="43.5" y="272" width="13.3" height="1.9" fill="#f3c2c4"/>
<rect x="56.6" y="272" width="13.3" height="1.9" fill="#f4cacb"/>
<rect x="69.6" y="272" width="13.3" height="1.9" fill="#fae9e9"/>
<rect x="82.6" y="272" width="13.3" height="1.9" fill="#fbeded"/>
<rect x="95.7" y="272" width="13.3" height="1.9" fill="#fbe9ea"/>
<rect x="108.7" y="272" width="13.3" height="1.9" fill="#dae0ee"/>
<rect x="121.7" y="272" width="13.3" height="1.9" fill="#d9dfed"/>
<rect x="134.8" y="272" width="13.3" height="1.9" fill="#d5dbeb"/>
<rect x="147.8" y="272" width="13.3" height="1.9" fill="#e3e7f2"/>
<rect x="160.8" y="272" width="13.3" height="1.9" fill="#ebeef6"/>
<rect x="173.9" y="272" width="13.3" height="1.9" fill="#d2d9ea"/>
<rect x="30.5" y="273.6" width="13.3" height="1.9" fill="#f7d9da"/>
<rect x="43.5" y="273.6" width="13.3" height="1.9" fill="#f6d5d5"/>
<rect x="56.6" y="273.6" width="13.3" height="1.9" fill="#f6d5d5"/>
<rect x="69.6" y="273.6" width="13.3" height="1.9" fill="#fdf5f5"/>
<rect x="82.6" y="273.6" width="13.3" height="1.9" fill="#fcf0f0"/>
<rect x="95.7" y="273.6" width="13.3" height="1.9" fill="#fcf1f1"/>
<rect x="108.7" y="273.6" width="13.3" height="1.9" fill="#c3cce3"/>
<rect x="121.7" y="273.6" width="13.3" height="1.9" fill="#bdc7e0"/>
<rect x="134.8" y="273.6" width="13.3" height="1.9" fill="#bec8e0"/>
<rect x="147.8" y="273.6" width="13.3" height="1.9" fill="#e8ecf4"/>
<rect x="160.8" y="273.6" width="13.3" height="1.9" fill="#e8ecf4"/>
<rect x="173.9" y="273.6" width="13.3" height="1.9" fill="#e3e8f2"/>
<rect x="30.5" y="275.2" width="13.3" height="1.9" fill="#f7d9da"/>
<rect x="43.5" y="275.2" width="13.3" height="1.9" fill="#f7d7d8"/>
<rect x="56.6" y="275.2" width="13.3" height="1.9" fill="#f6d2d3"/>
<rect x="69.6" y="275.2" width="13.3" height="1.9" fill="#fceff0"/>
<rect x="82.6" y="275.2" width="13.3" height="1.9" fill="#fbeeee"/>
<rect x="95.7" y="275.2" width="13.3" height="1.9" fill="#fcf0f0"/>
<rect x="108.7" y="275.2" width="13.3" height="1.9" fill="#d9dfed"/>
<rect x="121.7" y="275.2" width="13.3" height="1.9" fill="#d3d9ea"/>
<rect x="134.8" y="275.2" width="13.3" height="1.9" fill="#c3cce3"/>
<rect x="147.8" y="275.2" width="13.3" height="1.9" fill="#d6dcec"/>
<rect x="160.8" y="275.2" width="13.3" height="1.9" fill="#dfe4f0"/>
<rect x="173.9" y="275.2" width="13.3" height="1.9" fill="#dde2ef"/>
<rect x="30.5" y="276.8" width="13.3" height="1.9" fill="#f4c7c8"/>
<rect x="43.5" y="276.8" width="13.3" height="1.9" fill="#f4c7c8"/>
<rect x="56.6" y="276.8" width="13.3" height="1.9" fill="#f1b8ba"/>
<rect x="69.6" y="276.8" width="13.3" height="1.9" fill="#fcf2f2"/>
<rect x="82.6" y="276.8" width="13.3" height="1.9" fill="#fef8f8"/>
<rect x="95.7" y="276.8" width="13.3" height="1.9" fill="#fdf5f6"/>
<rect x="108.7" y="276.8" width="13.3" height="1.9" fill="#bbc6df"/>
<rect x="121.7" y="276.8" width="13.3" height="1.9" fill="#bbc6df"/>
<rect x="134.8" y="276.8" width="13.3" height="1.9" fill="#c0cae2"/>
<rect x="147.8" y="276.8" width="13.3" height="1.9" fill="#d8deed"/>
<rect x="160.8" y="276.8" width="13.3" height="1.9" fill="#d8deed"/>
<rect x="173.9" y="276.8" width="13.3" height="1.9" fill="#e6eaf3"/>
<rect x="30.5" y="278.4" width="13.3" height="1.9" fill="#f7d7d8"/>
<rect x="43.5" y="278.4" width="13.3" height="1.9" fill="#f6d4d5"/>
<rect x="56.6" y="278.4" width="13.3" height="1.9" fill="#f7d9da"/>
<rect x="69.6" y="278.4" width="13.3" height="1.9" fill="#fbecec"/>
<rect x="82.6" y="278.4" width="13.3" height="1.9" fill="#fcf1f1"/>
<rect x="95.7" y="278.4" width="13.3" height="1.9" fill="#fcf3f3"/>
<rect x="108.7" y="278.4" width="13.3" height="1.9" fill="#ced5e8"/>
<rect x="121.7" y="278.4" width="13.3" height="1.9" fill="#d2d9ea"/>
<rect x="134.8" y="278.4" width="13.3" height="1.9" fill="#d1d8e9"/>
<rect x="147.8" y="278.4" width="13.3" height="1.9" fill="#f1f3f9"/>
<rect x="160.8" y="278.4" width="13.3" height="1.9" fill="#f1f3f8"/>
<rect x="173.9" y="278.4" width="13.3" height="1.9" fill="#e8ebf4"/>
<rect x="30.5" y="280" width="13.3" height="1.9" fill="#f3c5c6"/>
<rect x="43.5" y="280" width="13.3" height="1.9" fill="#f4c9ca"/>
<rect x="56.6" y="280" width="13.3" height="1.9" fill="#f4c8c9"/>
<rect x="69.6" y="280" width="13.3" height="1.9" fill="#fefbfb"/>
<rect x="82.6" y="280" width="13.3" height="1.9" fill="#fcf2f2"/>
<rect x="95.7" y="280" width="13.3" height="1.9" fill="#fcf0f0"/>
<rect x="108.7" y="280" width="13.3" height="1.9" fill="#d6dcec"/>
<rect x="121.7" y="280" width="13.3" height="1.9" fill="#d5dbeb"/>
<rect x="134.8" y="280" width="13.3" height="1.9" fill="#d1d8e9"/>
<rect x="147.8" y="280" width="13.3" height="1.9" fill="#d9deed"/>
<rect x="160.8" y="280" width="13.3" height="1.9" fill="#d6dcec"/>
<rect x="173.9" y="280" width="13.3" height="1.9" fill="#d2d9ea"/>
<rect x="30.5" y="281.6" width="13.3" height="1.9" fill="#fae5e5"/>
<rect x="43.5" y="281.6" width="13.3" height="1.9" fill="#f6d2d3"/>
<rect x="56.6" y="281.6" width="13.3" height="1.9" fill="#f7d8d9"/>
<rect x="69.6" y="281.6" width="13.3" height="1.9" fill="#fbeaea"/>
<rect x="82.6" y="281.6" width="13.3" height="1.9" fill="#fae6e6"/>
<rect x="95.7" y="281.6" width="13.3" height="1.9" fill="#fae8e9"/>
<rect x="108.7" y="281.6" width="13.3" height="1.9" fill="#dce2ef"/>
<rect x="121.7" y="281.6" width="13.3" height="1.9" fill="#d9dfed"/>
<rect x="134.8" y="281.6" width="13.3" height="1.9" fill="#e3e7f2"/>
<rect x="147.8" y="281.6" width="13.3" height="1.9" fill="#d7ddec"/>
<rect x="160.8" y="281.6" width="13.3" height="1.9" fill="#dce2ef"/>
<rect x="173.9" y="281.6" width="13.3" height="1.9" fill="#d7ddec"/>
<rect x="30.5" y="283.2" width="13.3" height="1.9" fill="#f9e0e0"/>
<rect x="43.5" y="283.2" width="13.3" height="1.9" fill="#fae4e5"/>
<rect x="56.6" y="283.2" width="13.3" height="1.9" fill="#f8dedf"/>
<rect x="69.6" y="283.2" width="13.3" height="1.9" fill="#fae7e7"/>
<rect x="82.6" y="283.2" width="13.3" height="1.9" fill="#fdf5f6"/>
<rect x="95.7" y="283.2" width="13.3" height="1.9" fill="#fbeaeb"/>
<rect x="108.7" y="283.2" width="13.3" height="1.9" fill="#d5dceb"/>
<rect x="121.7" y="283.2" width="13.3" height="1.9" fill="#d5dceb"/>
<rect x="134.8" y="283.2" width="13.3" height="1.9" fill="#d9dfed"/>
<rect x="147.8" y="283.2" width="13.3" height="1.9" fill="#f0f2f8"/>
<rect x="160.8" y="283.2" width="13.3" height="1.9" fill="#e3e7f2"/>
<rect x="173.9" y="283.2" width="13.3" height="1.9" fill="#edf0f7"/>
<rect x="30.5" y="284.8" width="13.3" height="1.9" fill="#f7d7d8"/>
<rect x="43.5" y="284.8" width="13.3" height="1.9" fill="#f5cecf"/>
<rect x="56.6" y="284.8" width="13.3" height="1.9" fill="#f6d4d4"/>
<rect x="69.6" y="284.8" width="13.3" height="1.9" fill="#fcf1f1"/>
<rect x="82.6" y="284.8" width="13.3" height="1.9" fill="#fbecec"/>
<rect x="95.7" y="284.8" width="13.3" height="1.9" fill="#fbe9ea"/>
<rect x="108.7" y="284.8" width="13.3" height="1.9" fill="#d6dcec"/>
<rect x="121.7" y="284.8" width="13.3" height="1.9" fill="#dce1ef"/>
<rect x="134.8" y="284.8" width="13.3" height="1.9" fill="#dee3f0"/>
<rect x="147.8" y="284.8" width="13.3" height="1.9" fill="#bac5df"/>
<rect x="160.8" y="284.8" width="13.3" height="1.9" fill="#abb8d8"/>
<rect x="173.9" y="284.8" width="13.3" height="1.9" fill="#b5c1dc"/>
<rect x="30.5" y="286.4" width="13.3" height="1.9" fill="#f4c8c9"/>
<rect x="43.5" y="286.4" width="13.3" height="1.9" fill="#f5cccd"/>
<rect x="56.6" y="286.4" width="13.3" height="1.9" fill="#f5cecf"/>
<rect x="69.6" y="286.4" width="13.3" height="1.9" fill="#fef8f8"/>
<rect x="82.6" y="286.4" width="13.3" height="1.9" fill="#fffdfd"/>
<rect x="95.7" y="286.4" width="13.3" height="1.9" fill="#fefeff"/>
<rect x="108.7" y="286.4" width="13.3" height="1.9" fill="#d1d8e9"/>
<rect x="121.7" y="286.4" width="13.3" height="1.9" fill="#d3d9ea"/>
<rect x="134.8" y="286.4" width="13.3" height="1.9" fill="#d2d9ea"/>
<rect x="147.8" y="286.4" width="13.3" height="1.9" fill="#c5cee4"/>
<rect x="160.8" y="286.4" width="13.3" height="1.9" fill="#bcc7e0"/>
<rect x="173.9" y="286.4" width="13.3" height="1.9" fill="#b5c0dc"/>
<rect x="30.5" y="288" width="13.3" height="1.9" fill="#f5cfd0"/>
<rect x="43.5" y="288" width="13.3" height="1.9" fill="#f5cecf"/>
<rect x="56.6" y="288" width="13.3" height="1.9" fill="#f6d3d4"/>
<rect x="69.6" y="288" width="13.3" height="1.9" fill="#f8dede"/>
<rect x="82.6" y="288" width="13.3" height="1.9" fill="#f9e1e1"/>
<rect x="95.7" y="288" width="13.3" height="1.9" fill="#fae4e5"/>
<rect x="108.7" y="288" width="13.3" height="1.9" fill="#d2d9ea"/>
<rect x="121.7" y="288" width="13.3" height="1.9" fill="#c9d1e5"/>
<rect x="134.8" y="288" width="13.3" height="1.9" fill="#ced5e8"/>
<rect x="147.8" y="288" width="13.3" height="1.9" fill="#adbad9"/>
<rect x="160.8" y="288" width="13.3" height="1.9" fill="#b8c3de"/>
<rect x="173.9" y="288" width="13.3" height="1.9" fill="#b4c0dc"/>
<rect x="30.5" y="289.6" width="13.3" height="1.9" fill="#f7d9d9"/>
<rect x="43.5" y="289.6" width="13.3" height="1.9" fill="#f6d1d2"/>
<rect x="56.6" y="289.6" width="13.3" height="1.9" fill="#f5cfd0"/>
<rect x="69.6" y="289.6" width="13.3" height="1.9" fill="#fae4e5"/>
<rect x="82.6" y="289.6" width="13.3" height="1.9" fill="#f8dbdb"/>
<rect x="95.7" y="289.6" width="13.3" height="1.9" fill="#f8ddde"/>
<rect x="108.7" y="289.6" width="13.3" height="1.9" fill="#e1e6f1"/>
<rect x="121.7" y="289.6" width="13.3" height="1.9" fill="#dee3f0"/>
<rect x="134.8" y="289.6" width="13.3" height="1.9" fill="#e7ebf4"/>
<rect x="147.8" y="289.6" width="13.3" height="1.9" fill="#b6c1dd"/>
<rect x="160.8" y="289.6" width="13.3" height="1.9" fill="#b6c2dd"/>
<rect x="173.9" y="289.6" width="13.3" height="1.9" fill="#b3bfdb"/>
<rect x="30.5" y="291.2" width="13.3" height="1.9" fill="#fae7e8"/>
<rect x="43.5" y="291.2" width="13.3" height="1.9" fill="#fae4e5"/>
<rect x="56.6" y="291.2" width="13.3" height="1.9" fill="#f9e1e2"/>
<rect x="69.6" y="291.2" width="13.3" height="1.9" fill="#f8dedf"/>
<rect x="82.6" y="291.2" width="13.3" height="1.9" fill="#fbe9ea"/>
<rect x="95.7" y="291.2" width="13.3" height="1.9" fill="#fae7e7"/>
<rect x="108.7" y="291.2" width="13.3" height="1.9" fill="#c6cfe4"/>
<rect x="121.7" y="291.2" width="13.3" height="1.9" fill="#c6cfe4"/>
<rect x="134.8" y="291.2" width="13.3" height="1.9" fill="#d2d9ea"/>
<rect x="147.8" y="291.2" width="13.3" height="1.9" fill="#bac4de"/>
<rect x="160.8" y="291.2" width="13.3" height="1.9" fill="#c2cce2"/>
<rect x="173.9" y="291.2" width="13.3" height="1.9" fill="#c2cbe2"/>
<rect x="30.5" y="292.8" width="13.3" height="1.9" fill="#fae7e8"/>
<rect x="43.5" y="292.8" width="13.3" height="1.9" fill="#fae9e9"/>
<rect x="56.6" y="292.8" width="13.3" height="1.9" fill="#fcefef"/>
<rect x="69.6" y="292.8" width="13.3" height="1.9" fill="#f9e2e3"/>
<rect x="82.6" y="292.8" width="13.3" height="1.9" fill="#f9e2e2"/>
<rect x="95.7" y="292.8" width="13.3" height="1.9" fill="#fbebeb"/>
<rect x="108.7" y="292.8" width="13.3" height="1.9" fill="#dfe4f0"/>
<rect x="121.7" y="292.8" width="13.3" height="1.9" fill="#e5e9f3"/>
<rect x="134.8" y="292.8" width="13.3" height="1.9" fill="#e2e7f1"/>
<rect x="147.8" y="292.8" width="13.3" height="1.9" fill="#c0c9e1"/>
<rect x="160.8" y="292.8" width="13.3" height="1.9" fill="#bdc7e0"/>
<rect x="173.9" y="292.8" width="13.3" height="1.9" fill="#c0cae2"/>
<rect x="30.5" y="294.4" width="13.3" height="1.9" fill="#fcf2f2"/>
<rect x="43.5" y="294.4" width="13.3" height="1.9" fill="#fceeee"/>
<rect x="56.6" y="294.4" width="13.3" height="1.9" fill="#fef8f8"/>
<rect x="69.6" y="294.4" width="13.3" height="1.9" fill="#f7d9da"/>
<rect x="82.6" y="294.4" width="13.3" height="1.9" fill="#f9dfe0"/>
<rect x="95.7" y="294.4" width="13.3" height="1.9" fill="#f9e1e1"/>
<rect x="108.7" y="294.4" width="13.3" height="1.9" fill="#fafbfd"/>
<rect x="121.7" y="294.4" width="13.3" height="1.9" fill="#fbfcfd"/>
<rect x="134.8" y="294.4" width="13.3" height="1.9" fill="#f1f3f8"/>
<rect x="147.8" y="294.4" width="13.3" height="1.9" fill="#c7d0e5"/>
<rect x="160.8" y="294.4" width="13.3" height="1.9" fill="#cdd5e8"/>
<rect x="173.9" y="294.4" width="13.3" height="1.9" fill="#d4dbeb"/>
<rect x="30.5" y="296" width="13.3" height="1.9" fill="#fcefef"/>
<rect x="43.5" y="296" width="13.3" height="1.9" fill="#fbeaeb"/>
<rect x="56.6" y="296" width="13.3" height="1.9" fill="#fdf5f5"/>
<rect x="69.6" y="296" width="13.3" height="1.9" fill="#f4cbcc"/>
<rect x="82.6" y="296" width="13.3" height="1.9" fill="#f5d0d1"/>
<rect x="95.7" y="296" width="13.3" height="1.9" fill="#f4cbcc"/>
<rect x="108.7" y="296" width="13.3" height="1.9" fill="#f4f6fa"/>
<rect x="121.7" y="296" width="13.3" height="1.9" fill="#f5f6fa"/>
<rect x="134.8" y="296" width="13.3" height="1.9" fill="#fafbfd"/>
<rect x="147.8" y="296" width="13.3" height="1.9" fill="#b6c1dd"/>
<rect x="160.8" y="296" width="13.3" height="1.9" fill="#b2bedb"/>
<rect x="173.9" y="296" width="13.3" height="1.9" fill="#bac5df"/>
<rect x="30.5" y="297.6" width="13.3" height="1.9" fill="#fae5e6"/>
<rect x="43.5" y="297.6" width="13.3" height="1.9" fill="#fae6e6"/>
<rect x="56.6" y="297.6" width="13.3" height="1.9" fill="#f8ddde"/>
<rect x="69.6" y="297.6" width="13.3" height="1.9" fill="#f5cfd0"/>
<rect x="82.6" y="297.6" width="13.3" height="1.9" fill="#f6d2d3"/>
<rect x="95.7" y="297.6" width="13.3" height="1.9" fill="#f5cfd0"/>
<rect x="108.7" y="297.6" width="13.3" height="1.9" fill="#f4f6fa"/>
<rect x="121.7" y="297.6" width="13.3" height="1.9" fill="#f3f5fa"/>
<rect x="134.8" y="297.6" width="13.3" height="1.9" fill="#eceff6"/>
<rect x="147.8" y="297.6" width="13.3" height="1.9" fill="#c0c9e1"/>
<rect x="160.8" y="297.6" width="13.3" height="1.9" fill="#c0cae1"/>
<rect x="173.9" y="297.6" width="13.3" height="1.9" fill="#c7d0e5"/>
<rect x="30.5" y="299.2" width="13.3" height="1.9" fill="#fffefe"/>
<rect x="43.5" y="299.2" width="13.3" height="1.9" fill="#fef8f8"/>
<rect x="56.6" y="299.2" width="13.3" height="1.9" fill="#fef9f9"/>
<rect x="69.6" y="299.2" width="13.3" height="1.9" fill="#f7dada"/>
<rect x="82.6" y="299.2" width="13.3" height="1.9" fill="#f6d4d4"/>
<rect x="95.7" y="299.2" width="13.3" height="1.9" fill="#f8dbdc"/>
<rect x="108.7" y="299.2" width="13.3" height="1.9" fill="#f0f3f8"/>
<rect x="121.7" y="299.2" width="13.3" height="1.9" fill="#f7f8fb"/>
<rect x="134.8" y="299.2" width="13.3" height="1.9" fill="#fbfcfd"/>
<rect x="147.8" y="299.2" width="13.3" height="1.9" fill="#c9d1e6"/>
<rect x="160.8" y="299.2" width="13.3" height="1.9" fill="#d8deec"/>
<rect x="173.9" y="299.2" width="13.3" height="1.9" fill="#dbe1ee"/>
<rect x="30.5" y="300.8" width="13.3" height="1.9" fill="#fdf6f6"/>
<rect x="43.5" y="300.8" width="13.3" height="1.9" fill="#fcf1f2"/>
<rect x="56.6" y="300.8" width="13.3" height="1.9" fill="#fcf2f2"/>
<rect x="69.6" y="300.8" width="13.3" height="1.9" fill="#f9e0e1"/>
<rect x="82.6" y="300.8" width="13.3" height="1.9" fill="#f7d7d8"/>
<rect x="95.7" y="300.8" width="13.3" height="1.9" fill="#f9e3e3"/>
<rect x="108.7" y="300.8" width="13.3" height="1.9" fill="#f8f9fc"/>
<rect x="121.7" y="300.8" width="13.3" height="1.9" fill="#fafafc"/>
<rect x="134.8" y="300.8" width="13.3" height="1.9" fill="#f1f3f9"/>
<rect x="147.8" y="300.8" width="13.3" height="1.9" fill="#e6eaf3"/>
<rect x="160.8" y="300.8" width="13.3" height="1.9" fill="#dbe0ee"/>
<rect x="173.9" y="300.8" width="13.3" height="1.9" fill="#edf0f6"/>
<rect x="30.5" y="302.4" width="13.3" height="1.9" fill="#fffefe"/>
<rect x="43.5" y="302.4" width="13.3" height="1.9" fill="#fefcfc"/>
<rect x="56.6" y="302.4" width="13.3" height="1.9" fill="#fefafb"/>
<rect x="69.6" y="302.4" width="13.3" height="1.9" fill="#fbe9e9"/>
<rect x="82.6" y="302.4" width="13.3" height="1.9" fill="#fbe9ea"/>
<rect x="95.7" y="302.4" width="13.3" height="1.9" fill="#fbebeb"/>
<rect x="108.7" y="302.4" width="13.3" height="1.9" fill="#e9edf5"/>
<rect x="121.7" y="302.4" width="13.3" height="1.9" fill="#e6eaf3"/>
<rect x="134.8" y="302.4" width="13.3" height="1.9" fill="#e5e9f3"/>
<rect x="147.8" y="302.4" width="13.3" height="1.9" fill="#e6eaf3"/>
<rect x="160.8" y="302.4" width="13.3" height="1.9" fill="#e5e9f3"/>
<rect x="173.9" y="302.4" width="13.3" height="1.9" fill="#e5e9f3"/>
<rect x="30.5" y="304" width="13.3" height="1.9" fill="#fef9f9"/>
<rect x="43.5" y="304" width="13.3" height="1.9" fill="#ffffff"/>
<rect x="56.6" y="304" width="13.3" height="1.9" fill="#fefbfc"/>
<rect x="69.6" y="304" width="13.3" height="1.9" fill="#f6d5d5"/>
<rect x="82.6" y="304" width="13.3" height="1.9" fill="#f5cfd0"/>
<rect x="95.7" y="304" width="13.3" height="1.9" fill="#f6d2d3"/>
<rect x="108.7" y="304" width="13.3" height="1.9" fill="#e5e9f3"/>
<rect x="121.7" y="304" width="13.3" height="1.9" fill="#e1e6f1"/>
<rect x="134.8" y="304" width="13.3" height="1.9" fill="#edeff6"/>
<rect x="147.8" y="304" width="13.3" height="1.9" fill="#d9dfed"/>
<rect x="160.8" y="304" width="13.3" height="1.9" fill="#e0e5f1"/>
<rect x="173.9" y="304" width="13.3" height="1.9" fill="#d6ddec"/>
<rect x="30.5" y="305.6" width="13.3" height="1.9" fill="#fcefef"/>
<rect x="43.5" y="305.6" width="13.3" height="1.9" fill="#fdf4f4"/>
<rect x="56.6" y="305.6" width="13.3" height="1.9" fill="#fbecec"/>
<rect x="69.6" y="305.6" width="13.3" height="1.9" fill="#f4c7c8"/>
<rect x="82.6" y="305.6" width="13.3" height="1.9" fill="#f1bbbd"/>
<rect x="95.7" y="305.6" width="13.3" height="1.9" fill="#f5d0d1"/>
<rect x="108.7" y="305.6" width="13.3" height="1.9" fill="#f5f6fa"/>
<rect x="121.7" y="305.6" width="13.3" height="1.9" fill="#f7f8fb"/>
<rect x="134.8" y="305.6" width="13.3" height="1.9" fill="#f5f6fa"/>
<rect x="147.8" y="305.6" width="13.3" height="1.9" fill="#d4dbeb"/>
<rect x="160.8" y="305.6" width="13.3" height="1.9" fill="#d9dfed"/>
<rect x="173.9" y="305.6" width="13.3" height="1.9" fill="#e1e6f1"/>
<rect x="30.5" y="307.2" width="13.3" height="1.9" fill="#fbeaea"/>
<rect x="43.5" y="307.2" width="13.3" height="1.9" fill="#fbebeb"/>
<rect x="56.6" y="307.2" width="13.3" height="1.9" fill="#fbedee"/>
<rect x="69.6" y="307.2" width="13.3" height="1.9" fill="#f0b4b5"/>
<rect x="82.6" y="307.2" width="13.3" height="1.9" fill="#f0b7b8"/>
<rect x="95.7" y="307.2" width="13.3" height="1.9" fill="#f1babb"/>
<rect x="108.7" y="307.2" width="13.3" height="1.9" fill="#eceff6"/>
<rect x="121.7" y="307.2" width="13.3" height="1.9" fill="#eaedf5"/>
<rect x="134.8" y="307.2" width="13.3" height="1.9" fill="#e1e5f1"/>
<rect x="147.8" y="307.2" width="13.3" height="1.9" fill="#d9dfed"/>
<rect x="160.8" y="307.2" width="13.3" height="1.9" fill="#e2e6f1"/>
<rect x="173.9" y="307.2" width="13.3" height="1.9" fill="#dae0ee"/>
<rect x="30.5" y="308.8" width="13.3" height="1.9" fill="#f9e1e2"/>
<rect x="43.5" y="308.8" width="13.3" height="1.9" fill="#f8dfdf"/>
<rect x="56.6" y="308.8" width="13.3" height="1.9" fill="#fae8e8"/>
<rect x="69.6" y="308.8" width="13.3" height="1.9" fill="#f0b5b7"/>
<rect x="82.6" y="308.8" width="13.3" height="1.9" fill="#f1bcbd"/>
<rect x="95.7" y="308.8" width="13.3" height="1.9" fill="#f1babb"/>
<rect x="108.7" y="308.8" width="13.3" height="1.9" fill="#e3e7f2"/>
<rect x="121.7" y="308.8" width="13.3" height="1.9" fill="#dde2ef"/>
<rect x="134.8" y="308.8" width="13.3" height="1.9" fill="#e4e8f2"/>
<rect x="147.8" y="308.8" width="13.3" height="1.9" fill="#ebeef5"/>
<rect x="160.8" y="308.8" width="13.3" height="1.9" fill="#e9ecf4"/>
<rect x="173.9" y="308.8" width="13.3" height="1.9" fill="#e8ecf4"/>
<rect x="30.5" y="310.4" width="13.3" height="1.9" fill="#fae8e9"/>
<rect x="43.5" y="310.4" width="13.3" height="1.9" fill="#fae6e6"/>
<rect x="56.6" y="310.4" width="13.3" height="1.9" fill="#fcf1f1"/>
<rect x="69.6" y="310.4" width="13.3" height="1.9" fill="#f5cdce"/>
<rect x="82.6" y="310.4" width="13.3" height="1.9" fill="#f4c7c8"/>
<rect x="95.7" y="310.4" width="13.3" height="1.9" fill="#f3c5c6"/>
<rect x="108.7" y="310.4" width="13.3" height="1.9" fill="#eceff6"/>
<rect x="121.7" y="310.4" width="13.3" height="1.9" fill="#e3e8f2"/>
<rect x="134.8" y="310.4" width="13.3" height="1.9" fill="#eceff6"/>
<rect x="147.8" y="310.4" width="13.3" height="1.9" fill="#ebeef6"/>
<rect x="160.8" y="310.4" width="13.3" height="1.9" fill="#f0f2f8"/>
<rect x="173.9" y="310.4" width="13.3" height="1.9" fill="#f5f6fa"/>
<rect x="30.5" y="312" width="13.3" height="1.9" fill="#fae9e9"/>
<rect x="43.5" y="312" width="13.3" height="1.9" fill="#fae6e6"/>
<rect x="56.6" y="312" width="13.3" height="1.9" fill="#fae8e8"/>
<rect x="69.6" y="312" width="13.3" height="1.9" fill="#f4cacb"/>
<rect x="82.6" y="312" width="13.3" height="1.9" fill="#f4c8c9"/>
<rect x="95.7" y="312" width="13.3" height="1.9" fill="#f5cecf"/>
<rect x="108.7" y="312" width="13.3" height="1.9" fill="#eef0f7"/>
<rect x="121.7" y="312" width="13.3" height="1.9" fill="#e8ebf4"/>
<rect x="134.8" y="312" width="13.3" height="1.9" fill="#e4e8f2"/>
<rect x="147.8" y="312" width="13.3" height="1.9" fill="#eff1f7"/>
<rect x="160.8" y="312" width="13.3" height="1.9" fill="#f8f9fc"/>
<rect x="173.9" y="312" width="13.3" height="1.9" fill="#eff1f7"/>
<rect x="30.5" y="313.6" width="13.3" height="1.9" fill="#f8dede"/>
<rect x="43.5" y="313.6" width="13.3" height="1.9" fill="#f8dadb"/>
<rect x="56.6" y="313.6" width="13.3" height="1.9" fill="#fae7e7"/>
<rect x="69.6" y="313.6" width="13.3" height="1.9" fill="#f2bfc0"/>
<rect x="82.6" y="313.6" width="13.3" height="1.9" fill="#f3c4c5"/>
<rect x="95.7" y="313.6" width="13.3" height="1.9" fill="#f0b7b9"/>
<rect x="108.7" y="313.6" width="13.3" height="1.9" fill="#e7ebf4"/>
<rect x="121.7" y="313.6" width="13.3" height="1.9" fill="#dbe1ee"/>
<rect x="134.8" y="313.6" width="13.3" height="1.9" fill="#e8ecf4"/>
<rect x="147.8" y="313.6" width="13.3" height="1.9" fill="#dee3ef"/>
<rect x="160.8" y="313.6" width="13.3" height="1.9" fill="#dee3f0"/>
<rect x="173.9" y="313.6" width="13.3" height="1.9" fill="#d7ddec"/>
<rect x="30.5" y="315.2" width="13.3" height="1.9" fill="#f5d0d0"/>
<rect x="43.5" y="315.2" width="13.3" height="1.9" fill="#f7d9da"/>
<rect x="56.6" y="315.2" width="13.3" height="1.9" fill="#f8dbdc"/>
<rect x="69.6" y="315.2" width="13.3" height="1.9" fill="#f3c3c4"/>
<rect x="82.6" y="315.2" width="13.3" height="1.9" fill="#f3c5c6"/>
<rect x="95.7" y="315.2" width="13.3" height="1.9" fill="#f5cecf"/>
<rect x="108.7" y="315.2" width="13.3" height="1.9" fill="#edf0f7"/>
<rect x="121.7" y="315.2" width="13.3" height="1.9" fill="#f4f6fa"/>
<rect x="134.8" y="315.2" width="13.3" height="1.9" fill="#f3f5f9"/>
<rect x="147.8" y="315.2" width="13.3" height="1.9" fill="#eef1f7"/>
<rect x="160.8" y="315.2" width="13.3" height="1.9" fill="#e6eaf3"/>
<rect x="173.9" y="315.2" width="13.3" height="1.9" fill="#f0f2f8"/>
<rect x="30.5" y="316.8" width="13.3" height="1.9" fill="#f7d6d7"/>
<rect x="43.5" y="316.8" width="13.3" height="1.9" fill="#f9e0e0"/>
<rect x="56.6" y="316.8" width="13.3" height="1.9" fill="#f8dfdf"/>
<rect x="69.6" y="316.8" width="13.3" height="1.9" fill="#f9dfe0"/>
<rect x="82.6" y="316.8" width="13.3" height="1.9" fill="#f9e0e1"/>
<rect x="95.7" y="316.8" width="13.3" height="1.9" fill="#f9e1e2"/>
<rect x="108.7" y="316.8" width="13.3" height="1.9" fill="#e7eaf4"/>
<rect x="121.7" y="316.8" width="13.3" height="1.9" fill="#f1f3f9"/>
<rect x="134.8" y="316.8" width="13.3" height="1.9" fill="#f2f4f9"/>
<rect x="147.8" y="316.8" width="13.3" height="1.9" fill="#eaedf5"/>
<rect x="160.8" y="316.8" width="13.3" height="1.9" fill="#eff1f7"/>
<rect x="173.9" y="316.8" width="13.3" height="1.9" fill="#e3e8f2"/>
<rect x="30.5" y="318.4" width="13.3" height="1.9" fill="#fae7e8"/>
<rect x="43.5" y="318.4" width="13.3" height="1.9" fill="#fae5e5"/>
<rect x="56.6" y="318.4" width="13.3" height="1.9" fill="#fbecec"/>
<rect x="69.6" y="318.4" width="13.3" height="1.9" fill="#f9e2e2"/>
<rect x="82.6" y="318.4" width="13.3" height="1.9" fill="#f7d8d9"/>
<rect x="95.7" y="318.4" width="13.3" height="1.9" fill="#f8dadb"/>
<rect x="108.7" y="318.4" width="13.3" height="1.9" fill="#fffdfd"/>
<rect x="121.7" y="318.4" width="13.3" height="1.9" fill="#f5f6fa"/>
<rect x="134.8" y="318.4" width="13.3" height="1.9" fill="#f5f7fa"/>
<rect x="147.8" y="318.4" width="13.3" height="1.9" fill="#f1f4f9"/>
<rect x="160.8" y="318.4" width="13.3" height="1.9" fill="#e6eaf3"/>
<rect x="173.9" y="318.4" width="13.3" height="1.9" fill="#eef1f7"/>
<rect x="30.5" y="320" width="13.3" height="1.9" fill="#f8dede"/>
<rect x="43.5" y="320" width="13.3" height="1.9" fill="#fae4e5"/>
<rect x="56.6" y="320" width="13.3" height="1.9" fill="#fae5e6"/>
<rect x="69.6" y="320" width="13.3" height="1.9" fill="#fceeef"/>
<rect x="82.6" y="320" width="13.3" height="1.9" fill="#f8dbdc"/>
<rect x="95.7" y="320" width="13.3" height="1.9" fill="#f8dcdd"/>
<rect x="108.7" y="320" width="13.3" height="1.9" fill="#f4f5fa"/>
<rect x="121.7" y="320" width="13.3" height="1.9" fill="#f2f4f9"/>
<rect x="134.8" y="320" width="13.3" height="1.9" fill="#f5f6fa"/>
<rect x="147.8" y="320" width="13.3" height="1.9" fill="#f5f7fb"/>
<rect x="160.8" y="320" width="13.3" height="1.9" fill="#fdfdfe"/>
<rect x="173.9" y="320" width="13.3" height="1.9" fill="#e9ecf5"/>
<rect x="30.5" y="321.6" width="13.3" height="1.9" fill="#fae4e5"/>
<rect x="43.5" y="321.6" width="13.3" height="1.9" fill="#fbeced"/>
<rect x="56.6" y="321.6" width="13.3" height="1.9" fill="#fae7e8"/>
<rect x="69.6" y="321.6" width="13.3" height="1.9" fill="#f8ddde"/>
<rect x="82.6" y="321.6" width="13.3" height="1.9" fill="#f8dcdd"/>
<rect x="95.7" y="321.6" width="13.3" height="1.9" fill="#f8dcdd"/>
<rect x="108.7" y="321.6" width="13.3" height="1.9" fill="#f2f4f9"/>
<rect x="121.7" y="321.6" width="13.3" height="1.9" fill="#f2f4f9"/>
<rect x="134.8" y="321.6" width="13.3" height="1.9" fill="#e4e9f3"/>
<rect x="147.8" y="321.6" width="13.3" height="1.9" fill="#f9fafc"/>
<rect x="160.8" y="321.6" width="13.3" height="1.9" fill="#f9fafc"/>
<rect x="173.9" y="321.6" width="13.3" height="1.9" fill="#fefafa"/>
<rect x="30.5" y="323.2" width="13.3" height="1.9" fill="#fcf0f1"/>
<rect x="43.5" y="323.2" width="13.3" height="1.9" fill="#fcf1f1"/>
<rect x="56.6" y="323.2" width="13.3" height="1.9" fill="#fcf2f2"/>
<rect x="69.6" y="323.2" width="13.3" height="1.9" fill="#f7d7d8"/>
<rect x="82.6" y="323.2" width="13.3" height="1.9" fill="#f7d9da"/>
<rect x="95.7" y="323.2" width="13.3" height="1.9" fill="#f9e2e3"/>
<rect x="108.7" y="323.2" width="13.3" height="1.9" fill="#fefefe"/>
<rect x="121.7" y="323.2" width="13.3" height="1.9" fill="#fefbfb"/>
<rect x="134.8" y="323.2" width="13.3" height="1.9" fill="#fefbfb"/>
<rect x="147.8" y="323.2" width="13.3" height="1.9" fill="#f6f7fb"/>
<rect x="160.8" y="323.2" width="13.3" height="1.9" fill="#fafbfd"/>
<rect x="173.9" y="323.2" width="13.3" height="1.9" fill="#fefcfc"/>
<rect x="30.5" y="324.8" width="13.3" height="1.9" fill="#fcefef"/>
<rect x="43.5" y="324.8" width="13.3" height="1.9" fill="#fdf4f5"/>
<rect x="56.6" y="324.8" width="13.3" height="1.9" fill="#fcf2f2"/>
<rect x="69.6" y="324.8" width="13.3" height="1.9" fill="#f7d7d8"/>
<rect x="82.6" y="324.8" width="13.3" height="1.9" fill="#f8dadb"/>
<rect x="95.7" y="324.8" width="13.3" height="1.9" fill="#f6d4d5"/>
<rect x="108.7" y="324.8" width="13.3" height="1.9" fill="#f1f3f8"/>
<rect x="121.7" y="324.8" width="13.3" height="1.9" fill="#fcfcfe"/>
<rect x="134.8" y="324.8" width="13.3" height="1.9" fill="#f6f7fb"/>
<rect x="147.8" y="324.8" width="13.3" height="1.9" fill="#f4f6fa"/>
<rect x="160.8" y="324.8" width="13.3" height="1.9" fill="#fbfbfd"/>
<rect x="173.9" y="324.8" width="13.3" height="1.9" fill="#f9fafc"/>
<rect x="30.5" y="326.4" width="13.3" height="1.9" fill="#f3f5f9"/>
<rect x="43.5" y="326.4" width="13.3" height="1.9" fill="#fffefe"/>
<rect x="56.6" y="326.4" width="13.3" height="1.9" fill="#eff2f8"/>
<rect x="69.6" y="326.4" width="13.3" height="1.9" fill="#fae7e7"/>
<rect x="82.6" y="326.4" width="13.3" height="1.9" fill="#fbeaea"/>
<rect x="95.7" y="326.4" width="13.3" height="1.9" fill="#fbe9e9"/>
<rect x="108.7" y="326.4" width="13.3" height="1.9" fill="#f9fafc"/>
<rect x="121.7" y="326.4" width="13.3" height="1.9" fill="#fafbfd"/>
<rect x="134.8" y="326.4" width="13.3" height="1.9" fill="#fbfcfd"/>
<rect x="147.8" y="326.4" width="13.3" height="1.9" fill="#fefcfc"/>
<rect x="160.8" y="326.4" width="13.3" height="1.9" fill="#fffefe"/>
<rect x="173.9" y="326.4" width="13.3" height="1.9" fill="#fffdfd"/>
<rect x="30.5" y="328" width="13.3" height="1.9" fill="#f6f8fb"/>
<rect x="43.5" y="328" width="13.3" height="1.9" fill="#fbfbfd"/>
<rect x="56.6" y="328" width="13.3" height="1.9" fill="#fafbfd"/>
<rect x="69.6" y="328" width="13.3" height="1.9" fill="#fef9f9"/>
<rect x="82.6" y="328" width="13.3" height="1.9" fill="#fbedee"/>
<rect x="95.7" y="328" width="13.3" height="1.9" fill="#fbeded"/>
<rect x="108.7" y="328" width="13.3" height="1.9" fill="#eef0f7"/>
<rect x="121.7" y="328" width="13.3" height="1.9" fill="#f6f7fb"/>
<rect x="134.8" y="328" width="13.3" height="1.9" fill="#fafbfd"/>
<rect x="147.8" y="328" width="13.3" height="1.9" fill="#fdfefe"/>
<rect x="160.8" y="328" width="13.3" height="1.9" fill="#fdfdfe"/>
<rect x="173.9" y="328" width="13.3" height="1.9" fill="#f2f4f9"/>
<rect x="30.5" y="329.6" width="13.3" height="1.9" fill="#fef8f8"/>
<rect x="43.5" y="329.6" width="13.3" height="1.9" fill="#fbecec"/>
<rect x="56.6" y="329.6" width="13.3" height="1.9" fill="#fdf7f7"/>
<rect x="69.6" y="329.6" width="13.3" height="1.9" fill="#fcf1f1"/>
<rect x="82.6" y="329.6" width="13.3" height="1.9" fill="#fdf3f3"/>
<rect x="95.7" y="329.6" width="13.3" height="1.9" fill="#fbeaea"/>
<rect x="108.7" y="329.6" width="13.3" height="1.9" fill="#fafbfd"/>
<rect x="121.7" y="329.6" width="13.3" height="1.9" fill="#f5f7fa"/>
<rect x="134.8" y="329.6" width="13.3" height="1.9" fill="#f0f2f8"/>
<rect x="147.8" y="329.6" width="13.3" height="1.9" fill="#f0f2f8"/>
<rect x="160.8" y="329.6" width="13.3" height="1.9" fill="#f1f3f8"/>
<rect x="173.9" y="329.6" width="13.3" height="1.9" fill="#f2f4f9"/>
<rect x="30.5" y="331.2" width="13.3" height="1.9" fill="#fae6e7"/>
<rect x="43.5" y="331.2" width="13.3" height="1.9" fill="#f9e1e2"/>
<rect x="56.6" y="331.2" width="13.3" height="1.9" fill="#f9e3e4"/>
<rect x="69.6" y="331.2" width="13.3" height="1.9" fill="#fefcfc"/>
<rect x="82.6" y="331.2" width="13.3" height="1.9" fill="#fdf7f8"/>
<rect x="95.7" y="331.2" width="13.3" height="1.9" fill="#fdf4f4"/>
<rect x="108.7" y="331.2" width="13.3" height="1.9" fill="#f4f6fa"/>
<rect x="121.7" y="331.2" width="13.3" height="1.9" fill="#f2f4f9"/>
<rect x="134.8" y="331.2" width="13.3" height="1.9" fill="#f0f2f8"/>
<rect x="147.8" y="331.2" width="13.3" height="1.9" fill="#eaedf5"/>
<rect x="160.8" y="331.2" width="13.3" height="1.9" fill="#e8ecf4"/>
<rect x="173.9" y="331.2" width="13.3" height="1.9" fill="#eef0f7"/>
<rect x="30.5" y="332.8" width="13.3" height="1.9" fill="#fcf2f3"/>
<rect x="43.5" y="332.8" width="13.3" height="1.9" fill="#fcf1f2"/>
<rect x="56.6" y="332.8" width="13.3" height="1.9" fill="#fcefef"/>
<rect x="69.6" y="332.8" width="13.3" height="1.9" fill="#ffffff"/>
<rect x="82.6" y="332.8" width="13.3" height="1.9" fill="#f8f9fc"/>
<rect x="95.7" y="332.8" width="13.3" height="1.9" fill="#fefdfd"/>
<rect x="108.7" y="332.8" width="13.3" height="1.9" fill="#f0f2f8"/>
<rect x="121.7" y="332.8" width="13.3" height="1.9" fill="#dfe4f0"/>
<rect x="134.8" y="332.8" width="13.3" height="1.9" fill="#eaedf5"/>
<rect x="147.8" y="332.8" width="13.3" height="1.9" fill="#e7ebf4"/>
<rect x="160.8" y="332.8" width="13.3" height="1.9" fill="#f2f4f9"/>
<rect x="173.9" y="332.8" width="13.3" height="1.9" fill="#f4f6fa"/>
<rect x="30.5" y="334.4" width="13.3" height="1.9" fill="#fdf3f3"/>
<rect x="43.5" y="334.4" width="13.3" height="1.9" fill="#fdf4f4"/>
<rect x="56.6" y="334.4" width="13.3" height="1.9" fill="#fef9f9"/>
<rect x="69.6" y="334.4" width="13.3" height="1.9" fill="#fcf0f0"/>
<rect x="82.6" y="334.4" width="13.3" height="1.9" fill="#fceff0"/>
<rect x="95.7" y="334.4" width="13.3" height="1.9" fill="#fcf2f2"/>
<rect x="108.7" y="334.4" width="13.3" height="1.9" fill="#f1f3f8"/>
<rect x="121.7" y="334.4" width="13.3" height="1.9" fill="#f6f8fb"/>
<rect x="134.8" y="334.4" width="13.3" height="1.9" fill="#f3f5f9"/>
<rect x="147.8" y="334.4" width="13.3" height="1.9" fill="#e6eaf3"/>
<rect x="160.8" y="334.4" width="13.3" height="1.9" fill="#eceff6"/>
<rect x="173.9" y="334.4" width="13.3" height="1.9" fill="#e5e9f3"/>
<rect x="30.5" y="336" width="13.3" height="1.9" fill="#fae8e8"/>
<rect x="43.5" y="336" width="13.3" height="1.9" fill="#fdf3f3"/>
<rect x="56.6" y="336" width="13.3" height="1.9" fill="#fae6e7"/>
<rect x="69.6" y="336" width="13.3" height="1.9" fill="#fbe9ea"/>
<rect x="82.6" y="336" width="13.3" height="1.9" fill="#fceeee"/>
<rect x="95.7" y="336" width="13.3" height="1.9" fill="#f9e4e4"/>
<rect x="108.7" y="336" width="13.3" height="1.9" fill="#e8ecf4"/>
<rect x="121.7" y="336" width="13.3" height="1.9" fill="#e8ecf4"/>
<rect x="134.8" y="336" width="13.3" height="1.9" fill="#edf0f7"/>
<rect x="147.8" y="336" width="13.3" height="1.9" fill="#d5dceb"/>
<rect x="160.8" y="336" width="13.3" height="1.9" fill="#e5e9f3"/>
<rect x="173.9" y="336" width="13.3" height="1.9" fill="#e1e6f1"/>
<rect x="30.5" y="337.6" width="13.3" height="1.9" fill="#f6d1d2"/>
<rect x="43.5" y="337.6" width="13.3" height="1.9" fill="#f8ddde"/>
<rect x="56.6" y="337.6" width="13.3" height="1.9" fill="#f5cecf"/>
<rect x="69.6" y="337.6" width="13.3" height="1.9" fill="#f7dada"/>
<rect x="82.6" y="337.6" width="13.3" height="1.9" fill="#fae6e7"/>
<rect x="95.7" y="337.6" width="13.3" height="1.9" fill="#f7d6d6"/>
<rect x="108.7" y="337.6" width="13.3" height="1.9" fill="#eff2f8"/>
<rect x="121.7" y="337.6" width="13.3" height="1.9" fill="#f2f4f9"/>
<rect x="134.8" y="337.6" width="13.3" height="1.9" fill="#f6f7fb"/>
<rect x="147.8" y="337.6" width="13.3" height="1.9" fill="#dce2ef"/>
<rect x="160.8" y="337.6" width="13.3" height="1.9" fill="#d7ddec"/>
<rect x="173.9" y="337.6" width="13.3" height="1.9" fill="#dae0ee"/>
<rect x="30.5" y="339.2" width="13.3" height="1.9" fill="#fbeaea"/>
<rect x="43.5" y="339.2" width="13.3" height="1.9" fill="#f6d4d5"/>
<rect x="56.6" y="339.2" width="13.3" height="1.9" fill="#f9e3e4"/>
<rect x="69.6" y="339.2" width="13.3" height="1.9" fill="#f6d1d2"/>
<rect x="82.6" y="339.2" width="13.3" height="1.9" fill="#f5cecf"/>
<rect x="95.7" y="339.2" width="13.3" height="1.9" fill="#f6d4d5"/>
<rect x="108.7" y="339.2" width="13.3" height="1.9" fill="#eaedf5"/>
<rect x="121.7" y="339.2" width="13.3" height="1.9" fill="#e0e5f0"/>
<rect x="134.8" y="339.2" width="13.3" height="1.9" fill="#e9ecf5"/>
<rect x="147.8" y="339.2" width="13.3" height="1.9" fill="#d6ddec"/>
<rect x="160.8" y="339.2" width="13.3" height="1.9" fill="#e3e7f2"/>
<rect x="173.9" y="339.2" width="13.3" height="1.9" fill="#e6eaf3"/>
<rect x="30.5" y="340.8" width="13.3" height="1.9" fill="#fae7e7"/>
<rect x="43.5" y="340.8" width="13.3" height="1.9" fill="#fbeded"/>
<rect x="56.6" y="340.8" width="13.3" height="1.9" fill="#fae8e9"/>
<rect x="69.6" y="340.8" width="13.3" height="1.9" fill="#f4cacb"/>
<rect x="82.6" y="340.8" width="13.3" height="1.9" fill="#f8dbdc"/>
<rect x="95.7" y="340.8" width="13.3" height="1.9" fill="#f5cecf"/>
<rect x="108.7" y="340.8" width="13.3" height="1.9" fill="#e6eaf3"/>
<rect x="121.7" y="340.8" width="13.3" height="1.9" fill="#f4f5fa"/>
<rect x="134.8" y="340.8" width="13.3" height="1.9" fill="#dbe1ee"/>
<rect x="147.8" y="340.8" width="13.3" height="1.9" fill="#dbe0ee"/>
<rect x="160.8" y="340.8" width="13.3" height="1.9" fill="#e5e9f3"/>
<rect x="173.9" y="340.8" width="13.3" height="1.9" fill="#e3e7f2"/>
<rect x="30.5" y="265.6" width="156.4" height="76.8" fill="none" stroke="#555" stroke-width="1"/>
<rect x="13.6" y="265.6" width="13.8" height="77.8" rx="1.3" fill="#fbe98c" stroke="#3a3a3a" stroke-width="1"/>
<text x="20.5" y="303.5" font-size="7.2" fill="#4a4010" stroke="#4a4010" stroke-width="0.2" text-anchor="middle" transform="rotate(-90 20.5 303.5)" dy="2.6">Cluster 5</text>
<rect x="30" y="346.5" width="156.5" height="8.5" fill="url(#cb)"/>
<line x1="31" x2="31" y1="355" y2="357" stroke="#444" stroke-width="0.6"/>
<text x="31" y="363.2" font-size="7.2" fill="#222" stroke="#222" stroke-width="0.12" text-anchor="middle">−4</text>
<line x1="69.5" x2="69.5" y1="355" y2="357" stroke="#444" stroke-width="0.6"/>
<text x="69.5" y="363.2" font-size="7.2" fill="#222" stroke="#222" stroke-width="0.12" text-anchor="middle">−2</text>
<line x1="108.3" x2="108.3" y1="355" y2="357" stroke="#444" stroke-width="0.6"/>
<text x="108.3" y="363.2" font-size="7.2" fill="#222" stroke="#222" stroke-width="0.12" text-anchor="middle">0</text>
<line x1="147.2" x2="147.2" y1="355" y2="357" stroke="#444" stroke-width="0.6"/>
<text x="147.2" y="363.2" font-size="7.2" fill="#222" stroke="#222" stroke-width="0.12" text-anchor="middle">2</text>
<line x1="185.3" x2="185.3" y1="355" y2="357" stroke="#444" stroke-width="0.6"/>
<text x="185.3" y="363.2" font-size="7.2" fill="#222" stroke="#222" stroke-width="0.12" text-anchor="middle">4</text>
<rect x="242.2" y="23.8" width="13.5" height="159.5" fill="#93cb6c" stroke="#2d3a22" stroke-width="1.1"/>
<text x="248.9" y="118.6" font-size="7.3" fill="#24421a" text-anchor="middle" transform="rotate(-90 248.9 118.6)" dy="2.6">Cluster 2</text>
<rect x="258" y="23.8" width="115.4" height="159.5" fill="#fff" stroke="#9a9a9a" stroke-width="0.8"/>
<line x1="289.4" x2="289.4" y1="23.8" y2="183.3" stroke="#cfcfcf" stroke-width="0.7"/>
<line x1="320.2" x2="320.2" y1="23.8" y2="183.3" stroke="#cfcfcf" stroke-width="0.7"/>
<line x1="351" x2="351" y1="23.8" y2="183.3" stroke="#cfcfcf" stroke-width="0.7"/>
<line x1="258" x2="373.4" y1="183.3" y2="183.3" stroke="#777" stroke-width="0.8"/>
<line x1="258.6" x2="258.6" y1="183.3" y2="185.3" stroke="#777" stroke-width="0.6"/>
<text x="258.6" y="191.7" font-size="5.4" fill="#333" text-anchor="middle">0</text>
<line x1="274" x2="274" y1="183.3" y2="185.3" stroke="#777" stroke-width="0.6"/>
<text x="274" y="191.7" font-size="5.4" fill="#333" text-anchor="middle">1</text>
<line x1="289.4" x2="289.4" y1="183.3" y2="185.3" stroke="#777" stroke-width="0.6"/>
<text x="289.4" y="191.7" font-size="5.4" fill="#333" text-anchor="middle">2</text>
<line x1="304.8" x2="304.8" y1="183.3" y2="185.3" stroke="#777" stroke-width="0.6"/>
<text x="304.8" y="191.7" font-size="5.4" fill="#333" text-anchor="middle">3</text>
<line x1="320.2" x2="320.2" y1="183.3" y2="185.3" stroke="#777" stroke-width="0.6"/>
<text x="320.2" y="191.7" font-size="5.4" fill="#333" text-anchor="middle">4</text>
<line x1="335.6" x2="335.6" y1="183.3" y2="185.3" stroke="#777" stroke-width="0.6"/>
<text x="335.6" y="191.7" font-size="5.4" fill="#333" text-anchor="middle">5</text>
<line x1="351" x2="351" y1="183.3" y2="185.3" stroke="#777" stroke-width="0.6"/>
<text x="351" y="191.7" font-size="5.4" fill="#333" text-anchor="middle">6</text>
<line x1="366.4" x2="366.4" y1="183.3" y2="185.3" stroke="#777" stroke-width="0.6"/>
<text x="366.4" y="191.7" font-size="5.4" fill="#333" text-anchor="middle">7</text>
<rect x="258.5" y="28.7" width="109.4" height="6.7" fill="#f4912a" stroke="#bfa47c" stroke-width="0.9"/>
<text font-size="6.6" fill="#000" stroke="#000" stroke-width="0.14" transform="translate(374.8 34.4) scale(0.592 1)">GO:0002483: antigen processing and presentation of endogenous peptide antigen</text>
<rect x="258.5" y="36.2" width="104.8" height="6.7" fill="#f4912a" stroke="#bfa47c" stroke-width="0.9"/>
<text font-size="6.6" fill="#000" stroke="#000" stroke-width="0.14" transform="translate(374.8 41.9) scale(0.592 1)">hsa05166: HTLV-I infection</text>
<rect x="258.5" y="43.7" width="102.7" height="6.7" fill="#f4912a" stroke="#bfa47c" stroke-width="0.9"/>
<text font-size="6.6" fill="#000" stroke="#000" stroke-width="0.14" transform="translate(374.8 49.4) scale(0.592 1)">GO:0000904: cell morphogenesis involved in differentiation</text>
<rect x="258.5" y="51.2" width="89.3" height="6.7" fill="#fcc045" stroke="#bfa47c" stroke-width="0.9"/>
<text font-size="6.6" fill="#000" stroke="#000" stroke-width="0.14" transform="translate(374.8 56.9) scale(0.592 1)">GO:0048732: gland development</text>
<rect x="258.5" y="58.7" width="87.9" height="6.7" fill="#fcc045" stroke="#bfa47c" stroke-width="0.9"/>
<text font-size="6.6" fill="#000" stroke="#000" stroke-width="0.14" transform="translate(374.8 64.4) scale(0.592 1)">GO:0048514: blood vessel morphogenesis</text>
<rect x="258.5" y="66.2" width="86.6" height="6.7" fill="#fcc045" stroke="#bfa47c" stroke-width="0.9"/>
<text font-size="6.6" fill="#000" stroke="#000" stroke-width="0.14" transform="translate(374.8 71.8) scale(0.592 1)">hsa04550: Signaling pathways regulating pluripotency of stem cells</text>
<rect x="258.5" y="73.7" width="85.6" height="6.7" fill="#fcc045" stroke="#bfa47c" stroke-width="0.9"/>
<text font-size="6.6" fill="#000" stroke="#000" stroke-width="0.14" transform="translate(374.8 79.3) scale(0.592 1)">GO:0009100: glycoprotein metabolic process</text>
<rect x="258.5" y="81.2" width="85.1" height="6.7" fill="#fcc045" stroke="#bfa47c" stroke-width="0.9"/>
<text font-size="6.6" fill="#000" stroke="#000" stroke-width="0.14" transform="translate(374.8 86.8) scale(0.592 1)">GO:0048729: tissue morphogenesis</text>
<rect x="258.5" y="88.7" width="84.8" height="6.7" fill="#fcc045" stroke="#bfa47c" stroke-width="0.9"/>
<text font-size="6.6" fill="#000" stroke="#000" stroke-width="0.14" transform="translate(374.8 94.3) scale(0.592 1)">hsa04140: Autophagy - animal</text>
<rect x="258.5" y="96.2" width="81.4" height="6.7" fill="#fcc045" stroke="#bfa47c" stroke-width="0.9"/>
<text font-size="6.6" fill="#000" stroke="#000" stroke-width="0.14" transform="translate(374.8 101.8) scale(0.592 1)">GO:0030155: regulation of cell adhesion</text>
<rect x="258.5" y="103.7" width="81" height="6.7" fill="#fcc045" stroke="#bfa47c" stroke-width="0.9"/>
<text font-size="6.6" fill="#000" stroke="#000" stroke-width="0.14" transform="translate(374.8 109.3) scale(0.592 1)">M100: PID SHP2 PATHWAY</text>
<rect x="258.5" y="111.2" width="79.4" height="6.7" fill="#fcc045" stroke="#bfa47c" stroke-width="0.9"/>
<text font-size="6.6" fill="#000" stroke="#000" stroke-width="0.14" transform="translate(374.8 116.8) scale(0.592 1)">GO:0060322: head development</text>
<rect x="258.5" y="118.7" width="78.6" height="6.7" fill="#fcc045" stroke="#bfa47c" stroke-width="0.9"/>
<text font-size="6.6" fill="#000" stroke="#000" stroke-width="0.14" transform="translate(374.8 124.3) scale(0.592 1)">hsa04142: Lysosome</text>
<rect x="258.5" y="126.2" width="76.3" height="6.7" fill="#fcc045" stroke="#bfa47c" stroke-width="0.9"/>
<text font-size="6.6" fill="#000" stroke="#000" stroke-width="0.14" transform="translate(374.8 131.8) scale(0.592 1)">R-HSA-9617629: Regulation of FOXO transcriptional activity by acetylation</text>
<rect x="258.5" y="133.7" width="74.6" height="6.7" fill="#fcc045" stroke="#bfa47c" stroke-width="0.9"/>
<text font-size="6.6" fill="#000" stroke="#000" stroke-width="0.14" transform="translate(374.8 139.3) scale(0.592 1)">GO:0071363: cellular response to growth factor stimulus</text>
<rect x="258.5" y="141.2" width="73.7" height="6.7" fill="#fcc045" stroke="#bfa47c" stroke-width="0.9"/>
<text font-size="6.6" fill="#000" stroke="#000" stroke-width="0.14" transform="translate(374.8 146.8) scale(0.592 1)">GO:0043068: positive regulation of programmed cell death</text>
<rect x="258.5" y="148.7" width="72.2" height="6.7" fill="#fcc045" stroke="#bfa47c" stroke-width="0.9"/>
<text font-size="6.6" fill="#000" stroke="#000" stroke-width="0.14" transform="translate(374.8 154.3) scale(0.592 1)">GO:0046677: response to antibiotic</text>
<rect x="258.5" y="156.2" width="71.4" height="6.7" fill="#fcc045" stroke="#bfa47c" stroke-width="0.9"/>
<text font-size="6.6" fill="#000" stroke="#000" stroke-width="0.14" transform="translate(374.8 161.8) scale(0.592 1)">R-HSA-442755: Activation of NMDA receptors and postsynaptic events</text>
<rect x="258.5" y="163.7" width="70.9" height="6.7" fill="#fcc045" stroke="#bfa47c" stroke-width="0.9"/>
<text font-size="6.6" fill="#000" stroke="#000" stroke-width="0.14" transform="translate(374.8 169.3) scale(0.592 1)">GO:0048511: rhythmic process</text>
<rect x="258.5" y="171.2" width="70.6" height="6.7" fill="#fcc045" stroke="#bfa47c" stroke-width="0.9"/>
<text font-size="6.6" fill="#000" stroke="#000" stroke-width="0.14" transform="translate(374.8 176.8) scale(0.592 1)">GO:0080135: regulation of cellular response to stress</text>
<rect x="242.2" y="199" width="10.4" height="153.6" fill="#b594cc" stroke="#2d3a22" stroke-width="1.1"/>
<text x="247.4" y="286.8" font-size="7.3" fill="#3b2048" text-anchor="middle" transform="rotate(-90 247.4 286.8)" dy="2.6">Cluster 4</text>
<rect x="255" y="199" width="121.2" height="153.6" fill="#fff" stroke="#9a9a9a" stroke-width="0.8"/>
<line x1="274.2" x2="274.2" y1="199" y2="352.6" stroke="#cfcfcf" stroke-width="0.7"/>
<line x1="293.6" x2="293.6" y1="199" y2="352.6" stroke="#cfcfcf" stroke-width="0.7"/>
<line x1="313" x2="313" y1="199" y2="352.6" stroke="#cfcfcf" stroke-width="0.7"/>
<line x1="351.8" x2="351.8" y1="199" y2="352.6" stroke="#cfcfcf" stroke-width="0.7"/>
<line x1="255" x2="376.2" y1="352.6" y2="352.6" stroke="#777" stroke-width="0.8"/>
<line x1="254.8" x2="254.8" y1="352.6" y2="354.6" stroke="#777" stroke-width="0.6"/>
<text x="254.8" y="361" font-size="5.4" fill="#333" text-anchor="middle">0</text>
<line x1="274.2" x2="274.2" y1="352.6" y2="354.6" stroke="#777" stroke-width="0.6"/>
<text x="274.2" y="361" font-size="5.4" fill="#333" text-anchor="middle">2</text>
<line x1="293.6" x2="293.6" y1="352.6" y2="354.6" stroke="#777" stroke-width="0.6"/>
<text x="293.6" y="361" font-size="5.4" fill="#333" text-anchor="middle">4</text>
<line x1="313" x2="313" y1="352.6" y2="354.6" stroke="#777" stroke-width="0.6"/>
<text x="313" y="361" font-size="5.4" fill="#333" text-anchor="middle">6</text>
<line x1="332.4" x2="332.4" y1="352.6" y2="354.6" stroke="#777" stroke-width="0.6"/>
<text x="332.4" y="361" font-size="5.4" fill="#333" text-anchor="middle">8</text>
<line x1="351.8" x2="351.8" y1="352.6" y2="354.6" stroke="#777" stroke-width="0.6"/>
<text x="351.8" y="361" font-size="5.4" fill="#333" text-anchor="middle">10</text>
<line x1="371.2" x2="371.2" y1="352.6" y2="354.6" stroke="#777" stroke-width="0.6"/>
<text x="371.2" y="361" font-size="5.4" fill="#333" text-anchor="middle">12</text>
<rect x="255.5" y="203.8" width="116.2" height="6.5" fill="#df5f27" stroke="#bfa47c" stroke-width="0.9"/>
<text font-size="6.6" fill="#000" stroke="#000" stroke-width="0.14" transform="translate(378.6 209.3) scale(0.592 1)">GO:0006281: DNA repair</text>
<rect x="255.5" y="211.1" width="77.9" height="6.5" fill="#f4912a" stroke="#bfa47c" stroke-width="0.9"/>
<text font-size="6.6" fill="#000" stroke="#000" stroke-width="0.14" transform="translate(378.6 216.7) scale(0.592 1)">GO:0006260: DNA replication</text>
<rect x="255.5" y="218.4" width="74" height="6.5" fill="#f4912a" stroke="#bfa47c" stroke-width="0.9"/>
<text font-size="6.6" fill="#000" stroke="#000" stroke-width="0.14" transform="translate(378.6 224) scale(0.592 1)">GO:0045786: negative regulation of cell cycle</text>
<rect x="255.5" y="225.8" width="74" height="6.5" fill="#f4912a" stroke="#bfa47c" stroke-width="0.9"/>
<text font-size="6.6" fill="#000" stroke="#000" stroke-width="0.14" transform="translate(378.6 231.3) scale(0.592 1)">GO:0010564: regulation of cell cycle process</text>
<rect x="255.5" y="233.1" width="73" height="6.5" fill="#f4912a" stroke="#bfa47c" stroke-width="0.9"/>
<text font-size="6.6" fill="#000" stroke="#000" stroke-width="0.14" transform="translate(378.6 238.6) scale(0.592 1)">R-HSA-1640170: Cell Cycle</text>
<rect x="255.5" y="240.4" width="63.3" height="6.5" fill="#f4912a" stroke="#bfa47c" stroke-width="0.9"/>
<text font-size="6.6" fill="#000" stroke="#000" stroke-width="0.14" transform="translate(378.6 245.9) scale(0.592 1)">GO:0006399: tRNA metabolic process</text>
<rect x="255.5" y="247.7" width="63.3" height="6.5" fill="#f4912a" stroke="#bfa47c" stroke-width="0.9"/>
<text font-size="6.6" fill="#000" stroke="#000" stroke-width="0.14" transform="translate(378.6 253.3) scale(0.592 1)">GO:0006753: nucleoside phosphate metabolic process</text>
<rect x="255.5" y="255" width="62.4" height="6.5" fill="#f4912a" stroke="#bfa47c" stroke-width="0.9"/>
<text font-size="6.6" fill="#000" stroke="#000" stroke-width="0.14" transform="translate(378.6 260.6) scale(0.592 1)">GO:0051301: cell division</text>
<rect x="255.5" y="262.4" width="57" height="6.5" fill="#fcc045" stroke="#bfa47c" stroke-width="0.9"/>
<text font-size="6.6" fill="#000" stroke="#000" stroke-width="0.14" transform="translate(378.6 267.9) scale(0.592 1)">GO:0007005: mitochondrion organization</text>
<rect x="255.5" y="269.7" width="54.1" height="6.5" fill="#fcc045" stroke="#bfa47c" stroke-width="0.9"/>
<text font-size="6.6" fill="#000" stroke="#000" stroke-width="0.14" transform="translate(378.6 275.2) scale(0.592 1)">R-HSA-156711: Polo-like kinase mediated events</text>
<rect x="255.5" y="277" width="52.6" height="6.5" fill="#fcc045" stroke="#bfa47c" stroke-width="0.9"/>
<text font-size="6.6" fill="#000" stroke="#000" stroke-width="0.14" transform="translate(378.6 282.6) scale(0.592 1)">CORUM:632: Anti-HDAC2 complex</text>
<rect x="255.5" y="284.3" width="51.2" height="6.5" fill="#fcc045" stroke="#bfa47c" stroke-width="0.9"/>
<text font-size="6.6" fill="#000" stroke="#000" stroke-width="0.14" transform="translate(378.6 289.9) scale(0.592 1)">R-HSA-9645723: Diseases of programmed cell death</text>
<rect x="255.5" y="291.6" width="50.7" height="6.5" fill="#fcc045" stroke="#bfa47c" stroke-width="0.9"/>
<text font-size="6.6" fill="#000" stroke="#000" stroke-width="0.14" transform="translate(378.6 297.2) scale(0.592 1)">GO:0043039: tRNA aminoacylation</text>
<rect x="255.5" y="299" width="49.3" height="6.5" fill="#fcc045" stroke="#bfa47c" stroke-width="0.9"/>
<text font-size="6.6" fill="#000" stroke="#000" stroke-width="0.14" transform="translate(378.6 304.5) scale(0.592 1)">CORUM:6194: B-WICH complex</text>
<rect x="255.5" y="306.3" width="48.3" height="6.5" fill="#fcc045" stroke="#bfa47c" stroke-width="0.9"/>
<text font-size="6.6" fill="#000" stroke="#000" stroke-width="0.14" transform="translate(378.6 311.8) scale(0.592 1)">GO:0007059: chromosome segregation</text>
<rect x="255.5" y="313.6" width="46.3" height="6.5" fill="#fcc045" stroke="#bfa47c" stroke-width="0.9"/>
<text font-size="6.6" fill="#000" stroke="#000" stroke-width="0.14" transform="translate(378.6 319.2) scale(0.592 1)">GO:0051186: cofactor metabolic process</text>
<rect x="255.5" y="320.9" width="45.9" height="6.5" fill="#fcc045" stroke="#bfa47c" stroke-width="0.9"/>
<text font-size="6.6" fill="#000" stroke="#000" stroke-width="0.14" transform="translate(378.6 326.5) scale(0.592 1)">GO:0090305: nucleic acid phosphodiester bond hydrolysis</text>
<rect x="255.5" y="328.2" width="45.4" height="6.5" fill="#fcc045" stroke="#bfa47c" stroke-width="0.9"/>
<text font-size="6.6" fill="#000" stroke="#000" stroke-width="0.14" transform="translate(378.6 333.8) scale(0.592 1)">GO:0000226: microtubule cytoskeleton organization</text>
<rect x="255.5" y="335.6" width="43.9" height="6.5" fill="#fcc045" stroke="#bfa47c" stroke-width="0.9"/>
<text font-size="6.6" fill="#000" stroke="#000" stroke-width="0.14" transform="translate(378.6 341.1) scale(0.592 1)">R-HSA-15869: Metabolism of nucleotides</text>
<rect x="255.5" y="342.9" width="42.9" height="6.5" fill="#fcc045" stroke="#bfa47c" stroke-width="0.9"/>
<text font-size="6.6" fill="#000" stroke="#000" stroke-width="0.14" transform="translate(378.6 348.4) scale(0.592 1)">R-HSA-73933: Resolution of Abasic Sites (AP sites)</text>
<text x="316" y="369" font-size="5.2" fill="#333" text-anchor="middle">−Log<tspan font-size="3.6" dy="1.2">10</tspan><tspan dy="-1.2"> (P)</tspan></text>
<text x="316" y="196" font-size="4" fill="#bbb" text-anchor="middle">−Log<tspan font-size="3" dy="1">10</tspan><tspan dy="-1"> (P)</tspan></text>
<line x1="47.7" y1="435.7" x2="49.3" y2="444.2" stroke="#c9c9c9" stroke-width="0.5"/>
<line x1="47.7" y1="435.7" x2="73.1" y2="447.2" stroke="#c9c9c9" stroke-width="0.5"/>
<line x1="47.7" y1="435.7" x2="34.3" y2="455.8" stroke="#c9c9c9" stroke-width="0.5"/>
<line x1="47.7" y1="435.7" x2="43.1" y2="466.2" stroke="#c9c9c9" stroke-width="0.5"/>
<line x1="47.7" y1="435.7" x2="57.4" y2="468.9" stroke="#c9c9c9" stroke-width="0.5"/>
<line x1="47.7" y1="435.7" x2="66.2" y2="470.8" stroke="#c9c9c9" stroke-width="0.5"/>
<line x1="49.3" y1="444.2" x2="73.1" y2="447.2" stroke="#c9c9c9" stroke-width="0.5"/>
<line x1="49.3" y1="444.2" x2="34.3" y2="455.8" stroke="#c9c9c9" stroke-width="0.5"/>
<line x1="49.3" y1="444.2" x2="43.1" y2="466.2" stroke="#c9c9c9" stroke-width="0.5"/>
<line x1="49.3" y1="444.2" x2="57.4" y2="468.9" stroke="#c9c9c9" stroke-width="0.5"/>
<line x1="49.3" y1="444.2" x2="66.2" y2="470.8" stroke="#c9c9c9" stroke-width="0.5"/>
<line x1="49.3" y1="444.2" x2="59.2" y2="482.3" stroke="#c9c9c9" stroke-width="0.5"/>
<line x1="73.1" y1="447.2" x2="34.3" y2="455.8" stroke="#c9c9c9" stroke-width="0.5"/>
<line x1="73.1" y1="447.2" x2="43.1" y2="466.2" stroke="#c9c9c9" stroke-width="0.5"/>
<line x1="73.1" y1="447.2" x2="57.4" y2="468.9" stroke="#c9c9c9" stroke-width="0.5"/>
<line x1="73.1" y1="447.2" x2="66.2" y2="470.8" stroke="#c9c9c9" stroke-width="0.5"/>
<line x1="73.1" y1="447.2" x2="59.2" y2="482.3" stroke="#c9c9c9" stroke-width="0.5"/>
<line x1="34.3" y1="455.8" x2="43.1" y2="466.2" stroke="#c9c9c9" stroke-width="0.5"/>
<line x1="34.3" y1="455.8" x2="57.4" y2="468.9" stroke="#c9c9c9" stroke-width="0.5"/>
<line x1="34.3" y1="455.8" x2="66.2" y2="470.8" stroke="#c9c9c9" stroke-width="0.5"/>
<line x1="34.3" y1="455.8" x2="59.2" y2="482.3" stroke="#c9c9c9" stroke-width="0.5"/>
<line x1="43.1" y1="466.2" x2="57.4" y2="468.9" stroke="#c9c9c9" stroke-width="0.5"/>
<line x1="43.1" y1="466.2" x2="66.2" y2="470.8" stroke="#c9c9c9" stroke-width="0.5"/>
<line x1="43.1" y1="466.2" x2="59.2" y2="482.3" stroke="#c9c9c9" stroke-width="0.5"/>
<line x1="57.4" y1="468.9" x2="66.2" y2="470.8" stroke="#c9c9c9" stroke-width="0.5"/>
<line x1="57.4" y1="468.9" x2="59.2" y2="482.3" stroke="#c9c9c9" stroke-width="0.5"/>
<line x1="66.2" y1="470.8" x2="59.2" y2="482.3" stroke="#c9c9c9" stroke-width="0.5"/>
<line x1="115.8" y1="450.5" x2="89.7" y2="455.8" stroke="#c9c9c9" stroke-width="0.5"/>
<line x1="115.8" y1="450.5" x2="107.7" y2="463.4" stroke="#c9c9c9" stroke-width="0.5"/>
<line x1="115.8" y1="450.5" x2="107.7" y2="471.9" stroke="#c9c9c9" stroke-width="0.5"/>
<line x1="115.8" y1="450.5" x2="125" y2="474.7" stroke="#c9c9c9" stroke-width="0.5"/>
<line x1="115.8" y1="450.5" x2="95" y2="481.2" stroke="#c9c9c9" stroke-width="0.5"/>
<line x1="89.7" y1="455.8" x2="107.7" y2="463.4" stroke="#c9c9c9" stroke-width="0.5"/>
<line x1="89.7" y1="455.8" x2="107.7" y2="471.9" stroke="#c9c9c9" stroke-width="0.5"/>
<line x1="89.7" y1="455.8" x2="95" y2="481.2" stroke="#c9c9c9" stroke-width="0.5"/>
<line x1="107.7" y1="463.4" x2="107.7" y2="471.9" stroke="#c9c9c9" stroke-width="0.5"/>
<line x1="107.7" y1="463.4" x2="125" y2="474.7" stroke="#c9c9c9" stroke-width="0.5"/>
<line x1="107.7" y1="463.4" x2="95" y2="481.2" stroke="#c9c9c9" stroke-width="0.5"/>
<line x1="107.7" y1="471.9" x2="125" y2="474.7" stroke="#c9c9c9" stroke-width="0.5"/>
<line x1="107.7" y1="471.9" x2="95" y2="481.2" stroke="#c9c9c9" stroke-width="0.5"/>
<line x1="125" y1="474.7" x2="95" y2="481.2" stroke="#c9c9c9" stroke-width="0.5"/>
<line x1="163.8" y1="436.2" x2="172.2" y2="436.2" stroke="#c9c9c9" stroke-width="0.5"/>
<line x1="163.8" y1="436.2" x2="188.5" y2="437" stroke="#c9c9c9" stroke-width="0.5"/>
<line x1="163.8" y1="436.2" x2="148.5" y2="445.4" stroke="#c9c9c9" stroke-width="0.5"/>
<line x1="163.8" y1="436.2" x2="188.5" y2="460.2" stroke="#c9c9c9" stroke-width="0.5"/>
<line x1="163.8" y1="436.2" x2="155.2" y2="464.8" stroke="#c9c9c9" stroke-width="0.5"/>
<line x1="163.8" y1="436.2" x2="163.8" y2="467" stroke="#c9c9c9" stroke-width="0.5"/>
<line x1="163.8" y1="436.2" x2="179.2" y2="464.8" stroke="#c9c9c9" stroke-width="0.5"/>
<line x1="172.2" y1="436.2" x2="188.5" y2="437" stroke="#c9c9c9" stroke-width="0.5"/>
<line x1="172.2" y1="436.2" x2="148.5" y2="445.4" stroke="#c9c9c9" stroke-width="0.5"/>
<line x1="172.2" y1="436.2" x2="188.5" y2="460.2" stroke="#c9c9c9" stroke-width="0.5"/>
<line x1="172.2" y1="436.2" x2="155.2" y2="464.8" stroke="#c9c9c9" stroke-width="0.5"/>
<line x1="172.2" y1="436.2" x2="163.8" y2="467" stroke="#c9c9c9" stroke-width="0.5"/>
<line x1="172.2" y1="436.2" x2="179.2" y2="464.8" stroke="#c9c9c9" stroke-width="0.5"/>
<line x1="188.5" y1="437" x2="188.5" y2="460.2" stroke="#c9c9c9" stroke-width="0.5"/>
<line x1="188.5" y1="437" x2="163.8" y2="467" stroke="#c9c9c9" stroke-width="0.5"/>
<line x1="188.5" y1="437" x2="179.2" y2="464.8" stroke="#c9c9c9" stroke-width="0.5"/>
<line x1="148.5" y1="445.4" x2="155.2" y2="464.8" stroke="#c9c9c9" stroke-width="0.5"/>
<line x1="148.5" y1="445.4" x2="163.8" y2="467" stroke="#c9c9c9" stroke-width="0.5"/>
<line x1="148.5" y1="445.4" x2="179.2" y2="464.8" stroke="#c9c9c9" stroke-width="0.5"/>
<line x1="188.5" y1="460.2" x2="155.2" y2="464.8" stroke="#c9c9c9" stroke-width="0.5"/>
<line x1="188.5" y1="460.2" x2="163.8" y2="467" stroke="#c9c9c9" stroke-width="0.5"/>
<line x1="188.5" y1="460.2" x2="179.2" y2="464.8" stroke="#c9c9c9" stroke-width="0.5"/>
<line x1="188.5" y1="460.2" x2="174.6" y2="479.2" stroke="#c9c9c9" stroke-width="0.5"/>
<line x1="155.2" y1="464.8" x2="163.8" y2="467" stroke="#c9c9c9" stroke-width="0.5"/>
<line x1="155.2" y1="464.8" x2="179.2" y2="464.8" stroke="#c9c9c9" stroke-width="0.5"/>
<line x1="155.2" y1="464.8" x2="174.6" y2="479.2" stroke="#c9c9c9" stroke-width="0.5"/>
<line x1="163.8" y1="467" x2="179.2" y2="464.8" stroke="#c9c9c9" stroke-width="0.5"/>
<line x1="163.8" y1="467" x2="174.6" y2="479.2" stroke="#c9c9c9" stroke-width="0.5"/>
<line x1="179.2" y1="464.8" x2="174.6" y2="479.2" stroke="#c9c9c9" stroke-width="0.5"/>
<line x1="124.4" y1="493.7" x2="134.2" y2="505.2" stroke="#c9c9c9" stroke-width="0.5"/>
<line x1="142.1" y1="492.1" x2="134.2" y2="505.2" stroke="#c9c9c9" stroke-width="0.5"/>
<line x1="142.1" y1="492.1" x2="149.6" y2="506.2" stroke="#c9c9c9" stroke-width="0.5"/>
<line x1="134.2" y1="505.2" x2="149.6" y2="506.2" stroke="#c9c9c9" stroke-width="0.5"/>
<line x1="134.2" y1="505.2" x2="130.3" y2="514.3" stroke="#c9c9c9" stroke-width="0.5"/>
<line x1="108.7" y1="506.2" x2="104.8" y2="519.2" stroke="#c9c9c9" stroke-width="0.5"/>
<line x1="86.2" y1="512.7" x2="96" y2="519.2" stroke="#c9c9c9" stroke-width="0.5"/>
<line x1="96" y1="519.2" x2="104.8" y2="519.2" stroke="#c9c9c9" stroke-width="0.5"/>
<line x1="96" y1="519.2" x2="103.8" y2="531.3" stroke="#c9c9c9" stroke-width="0.5"/>
<line x1="104.8" y1="519.2" x2="103.8" y2="531.3" stroke="#c9c9c9" stroke-width="0.5"/>
<line x1="126.7" y1="525.8" x2="142.1" y2="525.1" stroke="#c9c9c9" stroke-width="0.5"/>
<line x1="126.7" y1="525.8" x2="134.2" y2="534.9" stroke="#c9c9c9" stroke-width="0.5"/>
<line x1="126.7" y1="525.8" x2="122.1" y2="537.9" stroke="#c9c9c9" stroke-width="0.5"/>
<line x1="142.1" y1="525.1" x2="134.2" y2="534.9" stroke="#c9c9c9" stroke-width="0.5"/>
<line x1="142.1" y1="525.1" x2="150.2" y2="538.8" stroke="#c9c9c9" stroke-width="0.5"/>
<line x1="74.7" y1="531.7" x2="88.8" y2="537.2" stroke="#c9c9c9" stroke-width="0.5"/>
<line x1="74.7" y1="531.7" x2="76" y2="548.6" stroke="#c9c9c9" stroke-width="0.5"/>
<line x1="103.8" y1="531.3" x2="88.8" y2="537.2" stroke="#c9c9c9" stroke-width="0.5"/>
<line x1="103.8" y1="531.3" x2="97.3" y2="540.5" stroke="#c9c9c9" stroke-width="0.5"/>
<line x1="103.8" y1="531.3" x2="113.6" y2="537.2" stroke="#c9c9c9" stroke-width="0.5"/>
<line x1="103.8" y1="531.3" x2="105.5" y2="545.4" stroke="#c9c9c9" stroke-width="0.5"/>
<line x1="134.2" y1="534.9" x2="122.1" y2="537.9" stroke="#c9c9c9" stroke-width="0.5"/>
<line x1="134.2" y1="534.9" x2="150.2" y2="538.8" stroke="#c9c9c9" stroke-width="0.5"/>
<line x1="134.2" y1="534.9" x2="133.6" y2="543.1" stroke="#c9c9c9" stroke-width="0.5"/>
<line x1="134.2" y1="534.9" x2="125.4" y2="548" stroke="#c9c9c9" stroke-width="0.5"/>
<line x1="88.8" y1="537.2" x2="97.3" y2="540.5" stroke="#c9c9c9" stroke-width="0.5"/>
<line x1="97.3" y1="540.5" x2="113.6" y2="537.2" stroke="#c9c9c9" stroke-width="0.5"/>
<line x1="97.3" y1="540.5" x2="105.5" y2="545.4" stroke="#c9c9c9" stroke-width="0.5"/>
<line x1="97.3" y1="540.5" x2="95.6" y2="555.2" stroke="#c9c9c9" stroke-width="0.5"/>
<line x1="113.6" y1="537.2" x2="122.1" y2="537.9" stroke="#c9c9c9" stroke-width="0.5"/>
<line x1="113.6" y1="537.2" x2="105.5" y2="545.4" stroke="#c9c9c9" stroke-width="0.5"/>
<line x1="113.6" y1="537.2" x2="125.4" y2="548" stroke="#c9c9c9" stroke-width="0.5"/>
<line x1="113.6" y1="537.2" x2="114" y2="550.3" stroke="#c9c9c9" stroke-width="0.5"/>
<line x1="122.1" y1="537.9" x2="133.6" y2="543.1" stroke="#c9c9c9" stroke-width="0.5"/>
<line x1="122.1" y1="537.9" x2="125.4" y2="548" stroke="#c9c9c9" stroke-width="0.5"/>
<line x1="122.1" y1="537.9" x2="114" y2="550.3" stroke="#c9c9c9" stroke-width="0.5"/>
<line x1="133.6" y1="543.1" x2="125.4" y2="548" stroke="#c9c9c9" stroke-width="0.5"/>
<line x1="133.6" y1="543.1" x2="139.5" y2="552.6" stroke="#c9c9c9" stroke-width="0.5"/>
<line x1="133.6" y1="543.1" x2="122.8" y2="556.2" stroke="#c9c9c9" stroke-width="0.5"/>
<line x1="105.5" y1="545.4" x2="114" y2="550.3" stroke="#c9c9c9" stroke-width="0.5"/>
<line x1="105.5" y1="545.4" x2="95.6" y2="555.2" stroke="#c9c9c9" stroke-width="0.5"/>
<line x1="125.4" y1="548" x2="114" y2="550.3" stroke="#c9c9c9" stroke-width="0.5"/>
<line x1="125.4" y1="548" x2="139.5" y2="552.6" stroke="#c9c9c9" stroke-width="0.5"/>
<line x1="125.4" y1="548" x2="122.8" y2="556.2" stroke="#c9c9c9" stroke-width="0.5"/>
<line x1="76" y1="548.6" x2="88.5" y2="556.2" stroke="#c9c9c9" stroke-width="0.5"/>
<line x1="114" y1="550.3" x2="122.8" y2="556.2" stroke="#c9c9c9" stroke-width="0.5"/>
<line x1="88.5" y1="556.2" x2="95.6" y2="555.2" stroke="#c9c9c9" stroke-width="0.5"/>
<line x1="200.9" y1="502.9" x2="189.1" y2="507.7" stroke="#c9c9c9" stroke-width="0.5"/>
<line x1="200.9" y1="502.9" x2="199.6" y2="515" stroke="#c9c9c9" stroke-width="0.5"/>
<line x1="189.1" y1="507.7" x2="199.6" y2="515" stroke="#c9c9c9" stroke-width="0.5"/>
<line x1="189.1" y1="507.7" x2="188" y2="520.9" stroke="#c9c9c9" stroke-width="0.5"/>
<line x1="199.6" y1="515" x2="188" y2="520.9" stroke="#c9c9c9" stroke-width="0.5"/>
<line x1="188" y1="520.9" x2="176.7" y2="526.3" stroke="#c9c9c9" stroke-width="0.5"/>
<line x1="188" y1="520.9" x2="186.1" y2="533.3" stroke="#c9c9c9" stroke-width="0.5"/>
<line x1="176.7" y1="526.3" x2="186.1" y2="533.3" stroke="#c9c9c9" stroke-width="0.5"/>
<line x1="215.7" y1="521.7" x2="228.1" y2="519.6" stroke="#c9c9c9" stroke-width="0.5"/>
<line x1="215.7" y1="521.7" x2="223.8" y2="531.7" stroke="#c9c9c9" stroke-width="0.5"/>
<line x1="215.7" y1="521.7" x2="211.2" y2="533" stroke="#c9c9c9" stroke-width="0.5"/>
<line x1="228.1" y1="519.6" x2="236.2" y2="528.5" stroke="#c9c9c9" stroke-width="0.5"/>
<line x1="228.1" y1="519.6" x2="223.8" y2="531.7" stroke="#c9c9c9" stroke-width="0.5"/>
<line x1="236.2" y1="528.5" x2="223.8" y2="531.7" stroke="#c9c9c9" stroke-width="0.5"/>
<line x1="223.8" y1="531.7" x2="211.2" y2="533" stroke="#c9c9c9" stroke-width="0.5"/>
<line x1="223.8" y1="531.7" x2="226" y2="543.8" stroke="#c9c9c9" stroke-width="0.5"/>
<line x1="36.1" y1="576.7" x2="35.6" y2="586.7" stroke="#c9c9c9" stroke-width="0.5"/>
<line x1="35.6" y1="586.7" x2="27" y2="594.2" stroke="#c9c9c9" stroke-width="0.5"/>
<line x1="35.6" y1="586.7" x2="42.3" y2="594.2" stroke="#c9c9c9" stroke-width="0.5"/>
<line x1="53.1" y1="585.3" x2="42.3" y2="594.2" stroke="#c9c9c9" stroke-width="0.5"/>
<line x1="27" y1="594.2" x2="42.3" y2="594.2" stroke="#c9c9c9" stroke-width="0.5"/>
<line x1="42.3" y1="594.2" x2="43.7" y2="603.1" stroke="#c9c9c9" stroke-width="0.5"/>
<line x1="69.8" y1="581.3" x2="81.4" y2="584.8" stroke="#c9c9c9" stroke-width="0.5"/>
<line x1="69.8" y1="581.3" x2="72.7" y2="593.7" stroke="#c9c9c9" stroke-width="0.5"/>
<line x1="81.4" y1="584.8" x2="72.7" y2="593.7" stroke="#c9c9c9" stroke-width="0.5"/>
<line x1="72.7" y1="593.7" x2="68.4" y2="605" stroke="#c9c9c9" stroke-width="0.5"/>
<line x1="101.5" y1="582.1" x2="113.7" y2="585.6" stroke="#c9c9c9" stroke-width="0.5"/>
<line x1="101.5" y1="582.1" x2="100.7" y2="590.2" stroke="#c9c9c9" stroke-width="0.5"/>
<line x1="101.5" y1="582.1" x2="110.2" y2="594.2" stroke="#c9c9c9" stroke-width="0.5"/>
<line x1="113.7" y1="585.6" x2="100.7" y2="590.2" stroke="#c9c9c9" stroke-width="0.5"/>
<line x1="113.7" y1="585.6" x2="110.2" y2="594.2" stroke="#c9c9c9" stroke-width="0.5"/>
<line x1="100.7" y1="590.2" x2="110.2" y2="594.2" stroke="#c9c9c9" stroke-width="0.5"/>
<line x1="100.7" y1="590.2" x2="96.2" y2="598.3" stroke="#c9c9c9" stroke-width="0.5"/>
<line x1="100.7" y1="590.2" x2="108.5" y2="602.3" stroke="#c9c9c9" stroke-width="0.5"/>
<line x1="110.2" y1="594.2" x2="96.2" y2="598.3" stroke="#c9c9c9" stroke-width="0.5"/>
<line x1="110.2" y1="594.2" x2="108.5" y2="602.3" stroke="#c9c9c9" stroke-width="0.5"/>
<line x1="96.2" y1="598.3" x2="108.5" y2="602.3" stroke="#c9c9c9" stroke-width="0.5"/>
<line x1="126.6" y1="589.7" x2="135.7" y2="582.1" stroke="#c9c9c9" stroke-width="0.5"/>
<line x1="126.6" y1="589.7" x2="135.2" y2="590.2" stroke="#c9c9c9" stroke-width="0.5"/>
<line x1="126.6" y1="589.7" x2="134.4" y2="598.3" stroke="#c9c9c9" stroke-width="0.5"/>
<line x1="135.7" y1="582.1" x2="135.2" y2="590.2" stroke="#c9c9c9" stroke-width="0.5"/>
<line x1="135.7" y1="582.1" x2="143.8" y2="591.5" stroke="#c9c9c9" stroke-width="0.5"/>
<line x1="135.7" y1="582.1" x2="134.4" y2="598.3" stroke="#c9c9c9" stroke-width="0.5"/>
<line x1="135.2" y1="590.2" x2="143.8" y2="591.5" stroke="#c9c9c9" stroke-width="0.5"/>
<line x1="135.2" y1="590.2" x2="134.4" y2="598.3" stroke="#c9c9c9" stroke-width="0.5"/>
<line x1="143.8" y1="591.5" x2="134.4" y2="598.3" stroke="#c9c9c9" stroke-width="0.5"/>
<line x1="156.9" y1="589.1" x2="165.2" y2="582.3" stroke="#c9c9c9" stroke-width="0.5"/>
<line x1="156.9" y1="589.1" x2="171.7" y2="590.9" stroke="#c9c9c9" stroke-width="0.5"/>
<line x1="156.9" y1="589.1" x2="163.1" y2="597.1" stroke="#c9c9c9" stroke-width="0.5"/>
<line x1="165.2" y1="582.3" x2="171.7" y2="590.9" stroke="#c9c9c9" stroke-width="0.5"/>
<line x1="165.2" y1="582.3" x2="163.1" y2="597.1" stroke="#c9c9c9" stroke-width="0.5"/>
<line x1="171.7" y1="590.9" x2="163.1" y2="597.1" stroke="#c9c9c9" stroke-width="0.5"/>
<line x1="185.5" y1="581.7" x2="186.8" y2="596.2" stroke="#c9c9c9" stroke-width="0.5"/>
<line x1="200" y1="582.3" x2="216" y2="582.3" stroke="#c9c9c9" stroke-width="0.5"/>
<line x1="200" y1="582.3" x2="200" y2="595.5" stroke="#c9c9c9" stroke-width="0.5"/>
<line x1="216" y1="582.3" x2="212.9" y2="595.2" stroke="#c9c9c9" stroke-width="0.5"/>
<line x1="200" y1="595.5" x2="212.9" y2="595.2" stroke="#c9c9c9" stroke-width="0.5"/>
<line x1="24.8" y1="618.5" x2="24.8" y2="631.9" stroke="#c9c9c9" stroke-width="0.5"/>
<line x1="24.8" y1="631.9" x2="38.8" y2="632.7" stroke="#c9c9c9" stroke-width="0.5"/>
<line x1="78.1" y1="619" x2="79.5" y2="630.6" stroke="#c9c9c9" stroke-width="0.5"/>
<line x1="93.5" y1="619.3" x2="92.7" y2="631.9" stroke="#c9c9c9" stroke-width="0.5"/>
<line x1="109.6" y1="619" x2="109.4" y2="631.9" stroke="#c9c9c9" stroke-width="0.5"/>
<line x1="136.5" y1="619.3" x2="140.6" y2="631.1" stroke="#c9c9c9" stroke-width="0.5"/>
<line x1="136.5" y1="619.3" x2="147.9" y2="621.2" stroke="#c9c9c9" stroke-width="0.5"/>
<line x1="140.6" y1="631.1" x2="147.9" y2="621.2" stroke="#c9c9c9" stroke-width="0.5"/>
<line x1="56.7" y1="518.6" x2="74.7" y2="531.7" stroke="#c9c9c9" stroke-width="0.5"/>
<line x1="55.8" y1="538.8" x2="74.7" y2="531.7" stroke="#c9c9c9" stroke-width="0.5"/>
<line x1="38.8" y1="518.2" x2="56.7" y2="518.6" stroke="#c9c9c9" stroke-width="0.5"/>
<line x1="34.2" y1="537.2" x2="55.8" y2="538.8" stroke="#c9c9c9" stroke-width="0.5"/>
<line x1="38.8" y1="518.2" x2="55.8" y2="538.8" stroke="#c9c9c9" stroke-width="0.5"/>
<line x1="34.2" y1="537.2" x2="56.7" y2="518.6" stroke="#c9c9c9" stroke-width="0.5"/>
<line x1="56.7" y1="518.6" x2="55.8" y2="538.8" stroke="#c9c9c9" stroke-width="0.5"/>
<line x1="108.7" y1="506.2" x2="124.4" y2="493.7" stroke="#c9c9c9" stroke-width="0.5"/>
<line x1="130.3" y1="514.3" x2="126.7" y2="525.8" stroke="#c9c9c9" stroke-width="0.5"/>
<line x1="74.7" y1="531.7" x2="86.2" y2="512.7" stroke="#c9c9c9" stroke-width="0.5"/>
<line x1="74.7" y1="531.7" x2="88.8" y2="537.2" stroke="#c9c9c9" stroke-width="0.5"/>
<line x1="76" y1="548.6" x2="88.5" y2="556.2" stroke="#c9c9c9" stroke-width="0.5"/>
<line x1="176.7" y1="526.3" x2="211.2" y2="533" stroke="#c9c9c9" stroke-width="0.5"/>
<line x1="186.1" y1="533.3" x2="201.7" y2="546.8" stroke="#c9c9c9" stroke-width="0.5"/>
<line x1="201.7" y1="546.8" x2="217.9" y2="554.9" stroke="#c9c9c9" stroke-width="0.5"/>
<line x1="43.7" y1="603.1" x2="42.3" y2="594.2" stroke="#c9c9c9" stroke-width="0.5"/>
<line x1="68.4" y1="605" x2="72.7" y2="593.7" stroke="#c9c9c9" stroke-width="0.5"/>
<line x1="170.2" y1="618.6" x2="249.2" y2="618.6" stroke="#dadada" stroke-width="0.4"/>
<circle cx="47.7" cy="436" r="4" fill="#c6c6c6" stroke="#a2a2a2" stroke-width="0.5"/>
<text x="47.7" y="442" font-size="2.2" fill="#bbb" text-anchor="middle">organization</text>
<circle cx="49.3" cy="444.5" r="4" fill="#c6c6c6" stroke="#a2a2a2" stroke-width="0.5"/>
<text x="49.3" y="450.5" font-size="2.2" fill="#bbb" text-anchor="middle">development</text>
<circle cx="73.1" cy="447.5" r="4" fill="#c6c6c6" stroke="#a2a2a2" stroke-width="0.5"/>
<text x="73.1" y="453.5" font-size="2.2" fill="#bbb" text-anchor="middle">response to</text>
<circle cx="34.3" cy="456.1" r="4" fill="#c6c6c6" stroke="#a2a2a2" stroke-width="0.5"/>
<text x="34.3" y="462.1" font-size="2.2" fill="#bbb" text-anchor="middle">signaling</text>
<circle cx="43.1" cy="466.5" r="4" fill="#c6c6c6" stroke="#a2a2a2" stroke-width="0.5"/>
<text x="43.1" y="472.5" font-size="2.2" fill="#bbb" text-anchor="middle">development</text>
<circle cx="57.4" cy="469.2" r="4" fill="#c6c6c6" stroke="#a2a2a2" stroke-width="0.5"/>
<circle cx="66.2" cy="471.1" r="4" fill="#c6c6c6" stroke="#a2a2a2" stroke-width="0.5"/>
<circle cx="59.2" cy="482.6" r="4" fill="#c6c6c6" stroke="#a2a2a2" stroke-width="0.5"/>
<text x="59.2" y="488.6" font-size="2.2" fill="#bbb" text-anchor="middle">development</text>
<circle cx="115.8" cy="450.8" r="4" fill="#bcbcbc" stroke="#9a9a9a" stroke-width="0.5"/>
<circle cx="89.7" cy="456.1" r="4" fill="#bcbcbc" stroke="#9a9a9a" stroke-width="0.5"/>
<text x="89.7" y="462.1" font-size="2.2" fill="#bbb" text-anchor="middle">DNA metabolic</text>
<circle cx="107.7" cy="463.7" r="4" fill="#bcbcbc" stroke="#9a9a9a" stroke-width="0.5"/>
<text x="107.7" y="469.7" font-size="2.2" fill="#bbb" text-anchor="middle">cell cycle process</text>
<circle cx="107.7" cy="472.2" r="4" fill="#bcbcbc" stroke="#9a9a9a" stroke-width="0.5"/>
<text x="107.7" y="478.2" font-size="2.2" fill="#bbb" text-anchor="middle">DNA metabolic</text>
<circle cx="125" cy="475" r="4" fill="#bcbcbc" stroke="#9a9a9a" stroke-width="0.5"/>
<circle cx="95" cy="481.5" r="4" fill="#bcbcbc" stroke="#9a9a9a" stroke-width="0.5"/>
<circle cx="163.8" cy="436.5" r="4" fill="#dcdcdc" stroke="#b4b4b4" stroke-width="0.5"/>
<circle cx="172.2" cy="436.5" r="4" fill="#dcdcdc" stroke="#b4b4b4" stroke-width="0.5"/>
<text x="172.2" y="442.5" font-size="2.2" fill="#bbb" text-anchor="middle">development</text>
<circle cx="188.5" cy="437.3" r="4" fill="#dcdcdc" stroke="#b4b4b4" stroke-width="0.5"/>
<text x="188.5" y="443.3" font-size="2.2" fill="#bbb" text-anchor="middle">regulation of</text>
<circle cx="148.5" cy="445.7" r="4" fill="#dcdcdc" stroke="#b4b4b4" stroke-width="0.5"/>
<text x="148.5" y="451.7" font-size="2.2" fill="#bbb" text-anchor="middle">transport</text>
<circle cx="188.5" cy="460.5" r="4" fill="#dcdcdc" stroke="#b4b4b4" stroke-width="0.5"/>
<circle cx="155.2" cy="465.1" r="4" fill="#dcdcdc" stroke="#b4b4b4" stroke-width="0.5"/>
<circle cx="163.8" cy="467.3" r="4" fill="#dcdcdc" stroke="#b4b4b4" stroke-width="0.5"/>
<text x="163.8" y="473.3" font-size="2.2" fill="#bbb" text-anchor="middle">DNA metabolic</text>
<circle cx="179.2" cy="465.1" r="4" fill="#dcdcdc" stroke="#b4b4b4" stroke-width="0.5"/>
<circle cx="174.6" cy="479.5" r="4" fill="#dcdcdc" stroke="#b4b4b4" stroke-width="0.5"/>
<text x="174.6" y="485.5" font-size="2.2" fill="#bbb" text-anchor="middle">regulation of</text>
<circle cx="124.4" cy="494" r="4" fill="#505050" stroke="#414141" stroke-width="0.5"/>
<circle cx="142.1" cy="492.4" r="4" fill="#505050" stroke="#414141" stroke-width="0.5"/>
<circle cx="134.2" cy="505.5" r="4" fill="#505050" stroke="#414141" stroke-width="0.5"/>
<circle cx="149.6" cy="506.5" r="4" fill="#505050" stroke="#414141" stroke-width="0.5"/>
<text x="149.6" y="512.5" font-size="2.2" fill="#bbb" text-anchor="middle">DNA metabolic</text>
<circle cx="130.3" cy="514.6" r="4" fill="#505050" stroke="#414141" stroke-width="0.5"/>
<circle cx="108.7" cy="506.5" r="4" fill="#999999" stroke="#7d7d7d" stroke-width="0.5"/>
<circle cx="86.2" cy="513" r="4" fill="#999999" stroke="#7d7d7d" stroke-width="0.5"/>
<text x="86.2" y="519" font-size="2.2" fill="#bbb" text-anchor="middle">regulation of</text>
<circle cx="96" cy="519.5" r="4" fill="#999999" stroke="#7d7d7d" stroke-width="0.5"/>
<text x="96" y="525.5" font-size="2.2" fill="#bbb" text-anchor="middle">response to</text>
<circle cx="104.8" cy="519.5" r="4" fill="#999999" stroke="#7d7d7d" stroke-width="0.5"/>
<text x="104.8" y="525.5" font-size="2.2" fill="#bbb" text-anchor="middle">organization</text>
<circle cx="126.7" cy="526.1" r="4" fill="#999999" stroke="#7d7d7d" stroke-width="0.5"/>
<text x="126.7" y="532.1" font-size="2.2" fill="#bbb" text-anchor="middle">cell cycle process</text>
<circle cx="142.1" cy="525.4" r="4" fill="#999999" stroke="#7d7d7d" stroke-width="0.5"/>
<text x="142.1" y="531.4" font-size="2.2" fill="#bbb" text-anchor="middle">cell cycle process</text>
<circle cx="74.7" cy="532" r="4" fill="#999999" stroke="#7d7d7d" stroke-width="0.5"/>
<text x="74.7" y="538" font-size="2.2" fill="#bbb" text-anchor="middle">development</text>
<circle cx="103.8" cy="531.6" r="4" fill="#999999" stroke="#7d7d7d" stroke-width="0.5"/>
<text x="103.8" y="537.6" font-size="2.2" fill="#bbb" text-anchor="middle">development</text>
<circle cx="134.2" cy="535.2" r="4" fill="#999999" stroke="#7d7d7d" stroke-width="0.5"/>
<circle cx="88.8" cy="537.5" r="4" fill="#999999" stroke="#7d7d7d" stroke-width="0.5"/>
<circle cx="97.3" cy="540.8" r="4" fill="#999999" stroke="#7d7d7d" stroke-width="0.5"/>
<circle cx="113.6" cy="537.5" r="4" fill="#999999" stroke="#7d7d7d" stroke-width="0.5"/>
<circle cx="122.1" cy="538.2" r="4" fill="#999999" stroke="#7d7d7d" stroke-width="0.5"/>
<circle cx="150.2" cy="539.1" r="4" fill="#999999" stroke="#7d7d7d" stroke-width="0.5"/>
<circle cx="133.6" cy="543.4" r="4" fill="#999999" stroke="#7d7d7d" stroke-width="0.5"/>
<circle cx="105.5" cy="545.7" r="4" fill="#999999" stroke="#7d7d7d" stroke-width="0.5"/>
<circle cx="125.4" cy="548.3" r="4" fill="#999999" stroke="#7d7d7d" stroke-width="0.5"/>
<text x="125.4" y="554.3" font-size="2.2" fill="#bbb" text-anchor="middle">development</text>
<circle cx="76" cy="548.9" r="4" fill="#999999" stroke="#7d7d7d" stroke-width="0.5"/>
<circle cx="114" cy="550.6" r="4" fill="#999999" stroke="#7d7d7d" stroke-width="0.5"/>
<text x="114" y="556.6" font-size="2.2" fill="#bbb" text-anchor="middle">response to</text>
<circle cx="139.5" cy="552.9" r="4" fill="#999999" stroke="#7d7d7d" stroke-width="0.5"/>
<text x="139.5" y="558.9" font-size="2.2" fill="#bbb" text-anchor="middle">signaling</text>
<circle cx="88.5" cy="556.5" r="4" fill="#999999" stroke="#7d7d7d" stroke-width="0.5"/>
<circle cx="95.6" cy="555.5" r="4" fill="#999999" stroke="#7d7d7d" stroke-width="0.5"/>
<circle cx="122.8" cy="556.5" r="4" fill="#999999" stroke="#7d7d7d" stroke-width="0.5"/>
<circle cx="38.8" cy="518.5" r="4" fill="#c6c6c6" stroke="#a2a2a2" stroke-width="0.5"/>
<circle cx="34.2" cy="537.5" r="4" fill="#c6c6c6" stroke="#a2a2a2" stroke-width="0.5"/>
<text x="34.2" y="543.5" font-size="2.2" fill="#bbb" text-anchor="middle">organization</text>
<circle cx="56.7" cy="518.9" r="4" fill="#b0b0b0" stroke="#909090" stroke-width="0.5"/>
<circle cx="55.8" cy="539.1" r="4" fill="#b0b0b0" stroke="#909090" stroke-width="0.5"/>
<circle cx="200.9" cy="503.2" r="4" fill="#bdbdbd" stroke="#9a9a9a" stroke-width="0.5"/>
<circle cx="189.1" cy="508" r="4" fill="#bdbdbd" stroke="#9a9a9a" stroke-width="0.5"/>
<circle cx="199.6" cy="515.3" r="4" fill="#bdbdbd" stroke="#9a9a9a" stroke-width="0.5"/>
<circle cx="188" cy="521.2" r="4" fill="#bdbdbd" stroke="#9a9a9a" stroke-width="0.5"/>
<text x="188" y="527.2" font-size="2.2" fill="#bbb" text-anchor="middle">cell cycle process</text>
<circle cx="176.7" cy="526.6" r="4" fill="#bdbdbd" stroke="#9a9a9a" stroke-width="0.5"/>
<circle cx="186.1" cy="533.6" r="4" fill="#bdbdbd" stroke="#9a9a9a" stroke-width="0.5"/>
<text x="186.1" y="539.6" font-size="2.2" fill="#bbb" text-anchor="middle">development</text>
<circle cx="201.7" cy="547.1" r="4" fill="#bdbdbd" stroke="#9a9a9a" stroke-width="0.5"/>
<circle cx="217.9" cy="555.2" r="4" fill="#bdbdbd" stroke="#9a9a9a" stroke-width="0.5"/>
<text x="217.9" y="561.2" font-size="2.2" fill="#bbb" text-anchor="middle">development</text>
<circle cx="215.7" cy="522" r="4" fill="#505050" stroke="#414141" stroke-width="0.5"/>
<text x="215.7" y="528" font-size="2.2" fill="#bbb" text-anchor="middle">cell cycle process</text>
<circle cx="228.1" cy="519.9" r="4" fill="#505050" stroke="#414141" stroke-width="0.5"/>
<text x="228.1" y="525.9" font-size="2.2" fill="#bbb" text-anchor="middle">transport</text>
<circle cx="236.2" cy="528.8" r="4" fill="#505050" stroke="#414141" stroke-width="0.5"/>
<circle cx="223.8" cy="532" r="4" fill="#505050" stroke="#414141" stroke-width="0.5"/>
<circle cx="211.2" cy="533.3" r="4" fill="#505050" stroke="#414141" stroke-width="0.5"/>
<circle cx="226" cy="544.1" r="4" fill="#505050" stroke="#414141" stroke-width="0.5"/>
<text x="226" y="550.1" font-size="2.2" fill="#bbb" text-anchor="middle">signaling</text>
<circle cx="36.1" cy="577" r="4" fill="#8e8e8e" stroke="#747474" stroke-width="0.5"/>
<text x="36.1" y="583" font-size="2.2" fill="#bbb" text-anchor="middle">regulation of</text>
<circle cx="35.6" cy="587" r="4" fill="#8e8e8e" stroke="#747474" stroke-width="0.5"/>
<text x="35.6" y="593" font-size="2.2" fill="#bbb" text-anchor="middle">organization</text>
<circle cx="53.1" cy="585.6" r="4" fill="#8e8e8e" stroke="#747474" stroke-width="0.5"/>
<circle cx="27" cy="594.5" r="4" fill="#8e8e8e" stroke="#747474" stroke-width="0.5"/>
<circle cx="42.3" cy="594.5" r="4" fill="#8e8e8e" stroke="#747474" stroke-width="0.5"/>
<text x="42.3" y="600.5" font-size="2.2" fill="#bbb" text-anchor="middle">DNA metabolic</text>
<circle cx="43.7" cy="603.4" r="4" fill="#8e8e8e" stroke="#747474" stroke-width="0.5"/>
<circle cx="69.8" cy="581.6" r="4" fill="#c8c8c8" stroke="#a4a4a4" stroke-width="0.5"/>
<circle cx="81.4" cy="585.1" r="4" fill="#c8c8c8" stroke="#a4a4a4" stroke-width="0.5"/>
<text x="81.4" y="591.1" font-size="2.2" fill="#bbb" text-anchor="middle">transport</text>
<circle cx="72.7" cy="594" r="4" fill="#c8c8c8" stroke="#a4a4a4" stroke-width="0.5"/>
<circle cx="68.4" cy="605.3" r="4" fill="#c8c8c8" stroke="#a4a4a4" stroke-width="0.5"/>
<text x="68.4" y="611.3" font-size="2.2" fill="#bbb" text-anchor="middle">transport</text>
<circle cx="101.5" cy="582.4" r="4" fill="#9a9a9a" stroke="#7e7e7e" stroke-width="0.5"/>
<circle cx="113.7" cy="585.9" r="4" fill="#9a9a9a" stroke="#7e7e7e" stroke-width="0.5"/>
<circle cx="100.7" cy="590.5" r="4" fill="#9a9a9a" stroke="#7e7e7e" stroke-width="0.5"/>
<text x="100.7" y="596.5" font-size="2.2" fill="#bbb" text-anchor="middle">development</text>
<circle cx="110.2" cy="594.5" r="4" fill="#9a9a9a" stroke="#7e7e7e" stroke-width="0.5"/>
<circle cx="96.2" cy="598.6" r="4" fill="#9a9a9a" stroke="#7e7e7e" stroke-width="0.5"/>
<circle cx="108.5" cy="602.6" r="4" fill="#9a9a9a" stroke="#7e7e7e" stroke-width="0.5"/>
<circle cx="126.6" cy="590" r="4" fill="#a8a8a8" stroke="#898989" stroke-width="0.5"/>
<text x="126.6" y="596" font-size="2.2" fill="#bbb" text-anchor="middle">response to</text>
<circle cx="135.7" cy="582.4" r="4" fill="#a8a8a8" stroke="#898989" stroke-width="0.5"/>
<text x="135.7" y="588.4" font-size="2.2" fill="#bbb" text-anchor="middle">transport</text>
<circle cx="135.2" cy="590.5" r="4" fill="#a8a8a8" stroke="#898989" stroke-width="0.5"/>
<text x="135.2" y="596.5" font-size="2.2" fill="#bbb" text-anchor="middle">cell cycle process</text>
<circle cx="143.8" cy="591.8" r="4" fill="#a8a8a8" stroke="#898989" stroke-width="0.5"/>
<text x="143.8" y="597.8" font-size="2.2" fill="#bbb" text-anchor="middle">development</text>
<circle cx="134.4" cy="598.6" r="4" fill="#a8a8a8" stroke="#898989" stroke-width="0.5"/>
<circle cx="156.9" cy="589.4" r="4" fill="#ababab" stroke="#8c8c8c" stroke-width="0.5"/>
<circle cx="165.2" cy="582.6" r="4" fill="#ababab" stroke="#8c8c8c" stroke-width="0.5"/>
<text x="165.2" y="588.6" font-size="2.2" fill="#bbb" text-anchor="middle">response to</text>
<circle cx="171.7" cy="591.2" r="4" fill="#ababab" stroke="#8c8c8c" stroke-width="0.5"/>
<circle cx="163.1" cy="597.4" r="4" fill="#ababab" stroke="#8c8c8c" stroke-width="0.5"/>
<text x="163.1" y="603.4" font-size="2.2" fill="#bbb" text-anchor="middle">development</text>
<circle cx="185.5" cy="582" r="4" fill="#e2e2e2" stroke="#b9b9b9" stroke-width="0.5"/>
<text x="185.5" y="588" font-size="2.2" fill="#bbb" text-anchor="middle">organization</text>
<circle cx="186.8" cy="596.5" r="4" fill="#e2e2e2" stroke="#b9b9b9" stroke-width="0.5"/>
<text x="186.8" y="602.5" font-size="2.2" fill="#bbb" text-anchor="middle">regulation of</text>
<circle cx="200" cy="582.6" r="4" fill="#7c7c7c" stroke="#656565" stroke-width="0.5"/>
<text x="200" y="588.6" font-size="2.2" fill="#bbb" text-anchor="middle">organization</text>
<circle cx="216" cy="582.6" r="4" fill="#7c7c7c" stroke="#656565" stroke-width="0.5"/>
<circle cx="200" cy="595.8" r="4" fill="#7c7c7c" stroke="#656565" stroke-width="0.5"/>
<circle cx="212.9" cy="595.5" r="4" fill="#7c7c7c" stroke="#656565" stroke-width="0.5"/>
<text x="212.9" y="601.5" font-size="2.2" fill="#bbb" text-anchor="middle">transport</text>
<circle cx="24.8" cy="618.8" r="4" fill="#8e8e8e" stroke="#747474" stroke-width="0.5"/>
<circle cx="42.8" cy="616.1" r="4" fill="#8e8e8e" stroke="#747474" stroke-width="0.5"/>
<text x="42.8" y="622.1" font-size="2.2" fill="#bbb" text-anchor="middle">response to</text>
<circle cx="24.8" cy="632.2" r="4" fill="#8e8e8e" stroke="#747474" stroke-width="0.5"/>
<text x="24.8" y="638.2" font-size="2.2" fill="#bbb" text-anchor="middle">response to</text>
<circle cx="38.8" cy="633" r="4" fill="#8e8e8e" stroke="#747474" stroke-width="0.5"/>
<text x="38.8" y="639" font-size="2.2" fill="#bbb" text-anchor="middle">DNA metabolic</text>
<circle cx="56.3" cy="625" r="4" fill="#8e8e8e" stroke="#747474" stroke-width="0.5"/>
<circle cx="65.7" cy="625.5" r="4" fill="#c4c4c4" stroke="#a0a0a0" stroke-width="0.5"/>
<circle cx="78.1" cy="619.3" r="4" fill="#c4c4c4" stroke="#a0a0a0" stroke-width="0.5"/>
<circle cx="79.5" cy="630.9" r="4" fill="#c4c4c4" stroke="#a0a0a0" stroke-width="0.5"/>
<text x="79.5" y="636.9" font-size="2.2" fill="#bbb" text-anchor="middle">DNA metabolic</text>
<circle cx="93.5" cy="619.6" r="4" fill="#8a8a8a" stroke="#717171" stroke-width="0.5"/>
<text x="93.5" y="625.6" font-size="2.2" fill="#bbb" text-anchor="middle">organization</text>
<circle cx="92.7" cy="632.2" r="4" fill="#8a8a8a" stroke="#717171" stroke-width="0.5"/>
<text x="92.7" y="638.2" font-size="2.2" fill="#bbb" text-anchor="middle">response to</text>
<circle cx="109.6" cy="619.3" r="4" fill="#4a4a4a" stroke="#3c3c3c" stroke-width="0.5"/>
<text x="109.6" y="625.3" font-size="2.2" fill="#bbb" text-anchor="middle">organization</text>
<circle cx="109.4" cy="632.2" r="4" fill="#4a4a4a" stroke="#3c3c3c" stroke-width="0.5"/>
<circle cx="136.5" cy="619.6" r="4" fill="#8e8e8e" stroke="#747474" stroke-width="0.5"/>
<text x="136.5" y="625.6" font-size="2.2" fill="#bbb" text-anchor="middle">organization</text>
<circle cx="140.6" cy="631.4" r="4" fill="#8e8e8e" stroke="#747474" stroke-width="0.5"/>
<circle cx="147.9" cy="621.5" r="4" fill="#8e8e8e" stroke="#747474" stroke-width="0.5"/>
<text x="147.9" y="627.5" font-size="2.2" fill="#bbb" text-anchor="middle">transport</text>
<circle cx="161.5" cy="630.3" r="4" fill="#c8c8c8" stroke="#a4a4a4" stroke-width="0.5"/>
<circle cx="170.2" cy="618.9" r="4" fill="#d0d0d0" stroke="#aaaaaa" stroke-width="0.5"/>
<text x="170.2" y="624.8" font-size="2.2" fill="#bbb" text-anchor="middle">DNA metabolic</text>
<circle cx="183.7" cy="618.9" r="4" fill="#d0d0d0" stroke="#aaaaaa" stroke-width="0.5"/>
<text x="183.7" y="624.8" font-size="2.2" fill="#bbb" text-anchor="middle">response to</text>
<circle cx="196.9" cy="618.9" r="4" fill="#c2c2c2" stroke="#9f9f9f" stroke-width="0.5"/>
<text x="196.9" y="624.8" font-size="2.2" fill="#bbb" text-anchor="middle">signaling</text>
<circle cx="210.2" cy="618.9" r="4" fill="#b4b4b4" stroke="#939393" stroke-width="0.5"/>
<text x="210.2" y="624.8" font-size="2.2" fill="#bbb" text-anchor="middle">organization</text>
<circle cx="223.1" cy="618.9" r="4" fill="#ababab" stroke="#8c8c8c" stroke-width="0.5"/>
<text x="223.1" y="624.8" font-size="2.2" fill="#bbb" text-anchor="middle">development</text>
<circle cx="236.3" cy="618.9" r="4" fill="#7a7a7a" stroke="#646464" stroke-width="0.5"/>
<text x="236.3" y="624.8" font-size="2.2" fill="#bbb" text-anchor="middle">cell cycle process</text>
<circle cx="249.2" cy="618.9" r="4" fill="#4a4a4a" stroke="#3c3c3c" stroke-width="0.5"/>
<text x="249.2" y="624.8" font-size="2.2" fill="#bbb" text-anchor="middle">transport</text>
<text x="141.5" y="498.6" font-size="2.4" fill="#444" text-anchor="middle">negative</text>
<text x="141.5" y="501.1" font-size="2.4" fill="#444" text-anchor="middle">regulation of cell</text>
<text x="141.5" y="503.6" font-size="2.4" fill="#444" text-anchor="middle">cycle</text>
<text x="246" y="533.2" font-size="2.4" fill="#444" text-anchor="middle">regulation of</text>
<text x="246" y="535.7" font-size="2.4" fill="#444" text-anchor="middle">response to DNA</text>
<text x="246" y="538.2" font-size="2.4" fill="#444" text-anchor="middle">damage stimulus</text>
<text x="110" y="637.6" font-size="2.4" fill="#444" text-anchor="middle">cellular response to</text>
<text x="110" y="640.1" font-size="2.4" fill="#444" text-anchor="middle">ionizing radiation</text>
<text x="249.5" y="624.6" font-size="2.4" fill="#444" text-anchor="middle">Mitotic</text>
<text x="249.5" y="627.1" font-size="2.4" fill="#444" text-anchor="middle">G1 phase and G1/S</text>
<path d="M56.7 514.5 A4.1 4.1 0 0 1 56.7 522.7 Z" fill="#8a8a8a"/>
<path d="M55.8 534.7 A4.1 4.1 0 0 1 55.8 542.9 Z" fill="#8a8a8a"/>
<ellipse cx="170.6" cy="457.5" rx="34.8" ry="38.8" fill="none" stroke="#80c055" stroke-width="1.05"/>
<ellipse cx="94.1" cy="532.4" rx="80.1" ry="43.4" fill="none" stroke="#8d4790" stroke-width="1.15" transform="rotate(-11.7 94.1 532.4)"/>
<ellipse cx="209" cy="530.4" rx="36.6" ry="39.4" fill="none" stroke="#8d4790" stroke-width="1.15"/>
<rect x="206.3" y="434.6" width="46.2" height="22.2" fill="#92c850"/>
<text x="229.4" y="444.6" font-size="6.2" font-weight="bold" fill="#1a1a1a" text-anchor="middle">Cluster 2</text>
<text x="229.4" y="452.1" font-size="6.2" font-weight="bold" fill="#1a1a1a" text-anchor="middle">Related</text>
<text x="204.8" y="467.2" font-size="6.25" fill="#222">(“Tissue development”)</text>
<rect x="238.9" y="555.5" width="50.3" height="21.4" fill="#b58fce"/>
<text x="264" y="565.1" font-size="6.2" font-weight="bold" fill="#1a1a1a" text-anchor="middle">Cluster 4</text>
<text x="264" y="572.9" font-size="6.2" font-weight="bold" fill="#1a1a1a" text-anchor="middle">Related</text>
<text x="229.4" y="587" font-size="6.3" fill="#222">(“Cell cycle and DNA DDR”)</text>
<rect x="347.5" y="410.4" width="155.2" height="114.2" fill="#fff" stroke="#c4c4c4" stroke-width="0.7"/>
<line x1="346" x2="347.5" y1="412" y2="412" stroke="#777" stroke-width="0.5"/>
<text x="346" y="413.8" font-size="5" fill="#444" text-anchor="end">2</text>
<line x1="346" x2="347.5" y1="442" y2="442" stroke="#777" stroke-width="0.5"/>
<text x="346" y="443.8" font-size="5" fill="#444" text-anchor="end">1</text>
<line x1="346" x2="347.5" y1="472" y2="472" stroke="#777" stroke-width="0.5"/>
<text x="346" y="473.8" font-size="5" fill="#444" text-anchor="end">0</text>
<line x1="346" x2="347.5" y1="502" y2="502" stroke="#777" stroke-width="0.5"/>
<text x="346" y="503.8" font-size="5" fill="#444" text-anchor="end">−1</text>
<rect x="355.3" y="486.9" width="28.8" height="16.2" fill="#f7c2c7"/>
<path d="M369.8 466.3 L369.8 466.3 L369.8 466.3 L369.8 466.3 L369.9 466.3 L369.9 466.3 L369.9 466.3 L369.9 466.3 L369.9 466.3 L370 466.2 L370 466.2 L370 466.2 L370 466.2 L370.1 466.2 L370.1 466.2 L370.1 466.2 L370.1 466.2 L370.2 466.2 L370.2 466.1 L370.2 466.1 L370.2 466.1 L370.3 466.1 L370.3 466.1 L370.3 466.1 L370.4 466.1 L370.4 466.1 L370.4 466.1 L370.4 466.1 L370.5 466.1 L370.5 466.1 L370.5 466.1 L370.6 466.1 L370.6 466.2 L370.6 466.2 L370.6 466.2 L370.7 466.2 L370.7 466.2 L370.7 466.3 L370.7 466.3 L370.8 466.4 L370.8 466.4 L370.8 466.4 L370.8 466.5 L370.9 466.6 L370.9 466.6 L370.9 466.7 L370.9 466.7 L371 466.8 L371 466.9 L371 466.9 L371 467 L371.1 467.1 L371.1 467.1 L371.1 467.2 L371.1 467.3 L371.1 467.4 L371.2 467.5 L371.2 467.6 L371.2 467.6 L371.2 467.7 L371.2 467.8 L371.3 467.9 L371.3 468 L371.3 468.1 L371.3 468.2 L371.4 468.3 L371.4 468.4 L371.4 468.5 L371.4 468.6 L371.5 468.7 L371.5 468.8 L371.5 469 L371.5 469.1 L371.6 469.2 L371.6 469.3 L371.6 469.4 L371.7 469.5 L371.7 469.6 L371.7 469.8 L371.8 469.9 L371.8 470 L371.8 470.1 L371.9 470.2 L371.9 470.4 L371.9 470.5 L372 470.6 L372 470.8 L372 470.9 L372.1 471 L372.1 471.2 L372.2 471.3 L372.2 471.5 L372.2 471.6 L372.3 471.8 L372.3 471.9 L372.4 472.1 L372.4 472.2 L372.4 472.4 L372.5 472.5 L372.5 472.7 L372.6 472.9 L372.6 473 L372.7 473.2 L372.7 473.3 L372.7 473.5 L372.8 473.6 L372.8 473.8 L372.9 474 L372.9 474.1 L373 474.3 L373 474.4 L373.1 474.6 L373.1 474.8 L373.2 474.9 L373.2 475.1 L373.3 475.2 L373.4 475.4 L373.4 475.5 L373.5 475.7 L373.5 475.8 L373.6 476 L373.7 476.1 L373.7 476.3 L373.8 476.4 L373.9 476.6 L373.9 476.8 L374 476.9 L374.1 477.1 L374.1 477.2 L374.2 477.4 L374.3 477.5 L374.4 477.6 L374.4 477.8 L374.5 477.9 L374.6 478.1 L374.7 478.2 L374.7 478.4 L374.8 478.6 L374.9 478.7 L375 478.9 L375.1 479 L375.1 479.1 L375.2 479.3 L375.3 479.4 L375.4 479.6 L375.5 479.8 L375.6 479.9 L375.7 480.1 L375.7 480.2 L375.8 480.4 L375.9 480.5 L376 480.6 L376.1 480.8 L376.2 480.9 L376.3 481.1 L376.4 481.2 L376.4 481.4 L376.5 481.6 L376.6 481.7 L376.7 481.9 L376.8 482 L376.9 482.1 L377 482.3 L377.1 482.4 L377.2 482.6 L377.3 482.8 L377.4 482.9 L377.5 483.1 L377.6 483.2 L377.6 483.4 L377.7 483.5 L377.8 483.6 L377.9 483.8 L378 483.9 L378.1 484.1 L378.3 484.2 L378.4 484.4 L378.5 484.6 L378.6 484.7 L378.7 484.9 L378.8 485 L378.9 485.1 L379 485.3 L379.1 485.4 L379.2 485.6 L379.3 485.8 L379.4 485.9 L379.5 486.1 L379.6 486.2 L379.7 486.4 L379.8 486.5 L379.9 486.6 L380 486.8 L380.1 486.9 L380.2 487.1 L380.3 487.2 L380.4 487.4 L380.5 487.6 L380.6 487.7 L380.7 487.9 L380.8 488 L380.9 488.1 L381 488.3 L381.1 488.4 L381.2 488.6 L381.3 488.8 L381.4 488.9 L381.5 489.1 L381.6 489.2 L381.7 489.4 L381.8 489.5 L381.9 489.6 L382 489.8 L382.1 489.9 L382.2 490.1 L382.3 490.2 L382.4 490.4 L382.5 490.6 L382.6 490.7 L382.7 490.9 L382.8 491 L382.9 491.1 L383 491.3 L383.1 491.4 L383.2 491.6 L383.3 491.8 L383.4 491.9 L383.5 492.1 L383.6 492.2 L383.7 492.4 L383.8 492.5 L383.9 492.6 L384 492.8 L384 492.9 L384.1 493.1 L384.2 493.2 L384.3 493.4 L384.4 493.6 L384.5 493.7 L384.5 493.9 L384.6 494 L384.7 494.2 L384.7 494.3 L384.8 494.5 L384.9 494.6 L385 494.8 L385 494.9 L385.1 495.1 L385.2 495.2 L385.3 495.4 L385.3 495.5 L385.4 495.7 L385.5 495.8 L385.5 496 L385.6 496.1 L385.7 496.3 L385.7 496.4 L385.8 496.6 L385.9 496.8 L385.9 496.9 L386 497.1 L386 497.2 L386.1 497.4 L386.1 497.5 L386.2 497.7 L386.2 497.8 L386.3 498 L386.3 498.1 L386.4 498.3 L386.4 498.4 L386.4 498.6 L386.5 498.7 L386.5 498.9 L386.5 499 L386.6 499.2 L386.6 499.3 L386.6 499.4 L386.6 499.6 L386.6 499.7 L386.6 499.9 L386.6 500 L386.6 500.1 L386.6 500.3 L386.6 500.4 L386.6 500.5 L386.5 500.7 L386.5 500.8 L386.5 500.9 L386.5 501.1 L386.4 501.2 L386.4 501.3 L386.3 501.4 L386.3 501.6 L386.2 501.7 L386.2 501.8 L386.1 501.9 L386.1 502.1 L386 502.2 L386 502.3 L385.9 502.4 L385.9 502.6 L385.8 502.7 L385.7 502.8 L385.7 502.9 L385.6 503 L385.5 503.2 L385.4 503.3 L385.4 503.4 L385.3 503.5 L385.2 503.7 L385.1 503.8 L385.1 503.9 L385 504 L384.9 504.1 L384.8 504.3 L384.7 504.4 L384.6 504.5 L384.6 504.6 L384.5 504.8 L384.4 504.9 L384.3 505 L384.2 505.1 L384.1 505.2 L384 505.4 L383.9 505.5 L383.8 505.6 L383.7 505.8 L383.6 505.9 L383.5 506 L383.4 506.1 L383.3 506.2 L383.2 506.4 L383.1 506.5 L383 506.6 L382.9 506.8 L382.8 506.9 L382.7 507 L382.6 507.1 L382.4 507.2 L382.3 507.4 L382.2 507.5 L382.1 507.6 L382 507.8 L381.8 507.9 L381.7 508 L381.6 508.1 L381.5 508.2 L381.4 508.4 L381.2 508.5 L381.1 508.6 L381 508.8 L380.9 508.9 L380.7 509 L380.6 509.1 L380.5 509.2 L380.4 509.4 L380.3 509.5 L380.1 509.6 L380 509.8 L379.9 509.9 L379.8 510 L379.7 510.1 L379.6 510.3 L379.5 510.4 L379.3 510.5 L379.2 510.6 L379.1 510.8 L379 510.9 L378.9 511 L378.7 511.1 L378.6 511.3 L378.5 511.4 L378.4 511.5 L378.3 511.6 L378.1 511.8 L378 511.9 L377.9 512 L377.8 512.2 L377.7 512.3 L377.5 512.4 L377.4 512.5 L377.3 512.7 L377.2 512.8 L377.1 512.9 L376.9 513 L376.8 513.2 L376.7 513.3 L376.6 513.4 L376.5 513.5 L376.4 513.7 L376.2 513.8 L376.1 513.9 L376 514 L375.9 514.2 L375.8 514.3 L375.7 514.4 L375.5 514.5 L375.4 514.6 L375.3 514.8 L375.2 514.9 L375.1 515 L375 515.1 L374.9 515.2 L374.8 515.4 L374.7 515.5 L374.5 515.6 L374.4 515.7 L374.3 515.9 L374.2 516 L374.1 516.1 L374 516.3 L373.8 516.4 L373.7 516.5 L373.6 516.6 L373.5 516.8 L373.4 516.9 L373.3 517 L373.2 517.2 L373.1 517.3 L372.9 517.4 L372.8 517.5 L372.7 517.7 L372.6 517.8 L372.5 517.9 L372.4 518 L372.3 518.1 L372.2 518.2 L372.1 518.4 L372 518.5 L371.9 518.6 L371.8 518.7 L371.7 518.8 L371.6 518.9 L371.5 519 L371.5 519 L371.4 519.1 L371.3 519.2 L371.2 519.3 L371.1 519.4 L371.1 519.4 L371 519.5 L370.9 519.6 L370.9 519.6 L370.8 519.7 L370.8 519.7 L370.7 519.8 L370.7 519.8 L370.6 519.8 L370.6 519.9 L370.5 519.9 L370.5 519.9 L370.4 519.9 L370.4 520 L370.4 520 L370.3 520 L370.3 520 L370.3 520 L370.2 520 L370.2 520 L370.2 520 L370.1 520 L370.1 520 L370.1 520 L370.1 520 L370.1 520 L370 520 L370 520 L370 520 L370 520 L370 520 L369.9 520 L369.9 520 L369.9 520 L369.9 520 L369.9 520 L369.9 520 L369.9 520 L369.8 520 L369.8 520 L369.8 520 L369.8 520 L369.8 520 L369.8 520 L369.8 520 L369.8 520 L369.7 520 L369.7 520 L369.7 520 L369.7 520 L369.7 520 L369.7 520 L369.7 520 L369.6 520 L369.6 520 L369.6 520 L369.6 520 L369.6 520 L369.5 520 L369.5 520 L369.5 520 L369.5 520 L369.5 520 L369.4 520 L369.4 520 L369.4 520 L369.3 520 L369.3 520 L369.3 520 L369.2 520 L369.2 520 L369.2 519.9 L369.1 519.9 L369.1 519.9 L369 519.9 L369 519.8 L368.9 519.8 L368.9 519.8 L368.8 519.7 L368.8 519.7 L368.7 519.6 L368.7 519.6 L368.6 519.5 L368.5 519.4 L368.5 519.4 L368.4 519.3 L368.3 519.2 L368.2 519.1 L368.1 519 L368.1 519 L368 518.9 L367.9 518.8 L367.8 518.7 L367.7 518.6 L367.6 518.5 L367.5 518.4 L367.4 518.2 L367.3 518.1 L367.2 518 L367.1 517.9 L367 517.8 L366.9 517.7 L366.8 517.5 L366.7 517.4 L366.5 517.3 L366.4 517.2 L366.3 517 L366.2 516.9 L366.1 516.8 L366 516.6 L365.9 516.5 L365.8 516.4 L365.6 516.3 L365.5 516.1 L365.4 516 L365.3 515.9 L365.2 515.7 L365.1 515.6 L364.9 515.5 L364.8 515.4 L364.7 515.2 L364.6 515.1 L364.5 515 L364.4 514.9 L364.3 514.8 L364.2 514.6 L364.1 514.5 L363.9 514.4 L363.8 514.3 L363.7 514.2 L363.6 514 L363.5 513.9 L363.4 513.8 L363.2 513.7 L363.1 513.5 L363 513.4 L362.9 513.3 L362.8 513.2 L362.7 513 L362.5 512.9 L362.4 512.8 L362.3 512.7 L362.2 512.5 L362.1 512.4 L361.9 512.3 L361.8 512.2 L361.7 512 L361.6 511.9 L361.5 511.8 L361.3 511.6 L361.2 511.5 L361.1 511.4 L361 511.3 L360.9 511.1 L360.7 511 L360.6 510.9 L360.5 510.8 L360.4 510.6 L360.3 510.5 L360.1 510.4 L360 510.3 L359.9 510.1 L359.8 510 L359.7 509.9 L359.6 509.8 L359.5 509.6 L359.3 509.5 L359.2 509.4 L359.1 509.2 L359 509.1 L358.9 509 L358.7 508.9 L358.6 508.8 L358.5 508.6 L358.4 508.5 L358.2 508.4 L358.1 508.2 L358 508.1 L357.9 508 L357.8 507.9 L357.6 507.8 L357.5 507.6 L357.4 507.5 L357.3 507.4 L357.2 507.2 L357 507.1 L356.9 507 L356.8 506.9 L356.7 506.8 L356.6 506.6 L356.5 506.5 L356.4 506.4 L356.3 506.2 L356.2 506.1 L356.1 506 L356 505.9 L355.9 505.8 L355.8 505.6 L355.7 505.5 L355.6 505.4 L355.5 505.2 L355.4 505.1 L355.3 505 L355.2 504.9 L355.1 504.8 L355 504.6 L355 504.5 L354.9 504.4 L354.8 504.3 L354.7 504.1 L354.6 504 L354.5 503.9 L354.5 503.8 L354.4 503.7 L354.3 503.5 L354.2 503.4 L354.2 503.3 L354.1 503.2 L354 503 L353.9 502.9 L353.9 502.8 L353.8 502.7 L353.7 502.6 L353.7 502.4 L353.6 502.3 L353.6 502.2 L353.5 502.1 L353.5 501.9 L353.4 501.8 L353.4 501.7 L353.3 501.6 L353.3 501.4 L353.2 501.3 L353.2 501.2 L353.1 501.1 L353.1 500.9 L353.1 500.8 L353.1 500.7 L353 500.5 L353 500.4 L353 500.3 L353 500.1 L353 500 L353 499.9 L353 499.7 L353 499.6 L353 499.4 L353 499.3 L353 499.2 L353.1 499 L353.1 498.9 L353.1 498.7 L353.2 498.6 L353.2 498.4 L353.2 498.3 L353.3 498.1 L353.3 498 L353.4 497.8 L353.4 497.7 L353.5 497.5 L353.5 497.4 L353.6 497.2 L353.6 497.1 L353.7 496.9 L353.7 496.8 L353.8 496.6 L353.9 496.4 L353.9 496.3 L354 496.1 L354.1 496 L354.1 495.8 L354.2 495.7 L354.3 495.5 L354.3 495.4 L354.4 495.2 L354.5 495.1 L354.6 494.9 L354.6 494.8 L354.7 494.6 L354.8 494.5 L354.9 494.3 L354.9 494.2 L355 494 L355.1 493.9 L355.1 493.7 L355.2 493.6 L355.3 493.4 L355.4 493.2 L355.5 493.1 L355.6 492.9 L355.6 492.8 L355.7 492.6 L355.8 492.5 L355.9 492.4 L356 492.2 L356.1 492.1 L356.2 491.9 L356.3 491.8 L356.4 491.6 L356.5 491.4 L356.6 491.3 L356.7 491.1 L356.8 491 L356.9 490.9 L357 490.7 L357.1 490.6 L357.2 490.4 L357.3 490.2 L357.4 490.1 L357.5 489.9 L357.6 489.8 L357.7 489.6 L357.8 489.5 L357.9 489.4 L358 489.2 L358.1 489.1 L358.2 488.9 L358.3 488.8 L358.4 488.6 L358.5 488.4 L358.6 488.3 L358.7 488.1 L358.8 488 L358.9 487.9 L359 487.7 L359.1 487.6 L359.2 487.4 L359.3 487.2 L359.4 487.1 L359.5 486.9 L359.6 486.8 L359.7 486.6 L359.8 486.5 L359.9 486.4 L360 486.2 L360.1 486.1 L360.2 485.9 L360.3 485.8 L360.4 485.6 L360.5 485.4 L360.6 485.3 L360.7 485.1 L360.8 485 L360.9 484.9 L361 484.7 L361.1 484.6 L361.2 484.4 L361.3 484.2 L361.5 484.1 L361.6 483.9 L361.7 483.8 L361.8 483.6 L361.9 483.5 L362 483.4 L362 483.2 L362.1 483.1 L362.2 482.9 L362.3 482.8 L362.4 482.6 L362.5 482.4 L362.6 482.3 L362.7 482.1 L362.8 482 L362.9 481.9 L363 481.7 L363.1 481.6 L363.2 481.4 L363.2 481.2 L363.3 481.1 L363.4 480.9 L363.5 480.8 L363.6 480.6 L363.7 480.5 L363.8 480.4 L363.9 480.2 L363.9 480.1 L364 479.9 L364.1 479.8 L364.2 479.6 L364.3 479.4 L364.4 479.3 L364.5 479.1 L364.5 479 L364.6 478.9 L364.7 478.7 L364.8 478.6 L364.9 478.4 L364.9 478.2 L365 478.1 L365.1 477.9 L365.2 477.8 L365.2 477.6 L365.3 477.5 L365.4 477.4 L365.5 477.2 L365.5 477.1 L365.6 476.9 L365.7 476.8 L365.7 476.6 L365.8 476.4 L365.9 476.3 L365.9 476.1 L366 476 L366.1 475.8 L366.1 475.7 L366.2 475.5 L366.2 475.4 L366.3 475.2 L366.4 475.1 L366.4 474.9 L366.5 474.8 L366.5 474.6 L366.6 474.4 L366.6 474.3 L366.7 474.1 L366.7 474 L366.8 473.8 L366.8 473.6 L366.9 473.5 L366.9 473.3 L366.9 473.2 L367 473 L367 472.9 L367.1 472.7 L367.1 472.5 L367.2 472.4 L367.2 472.2 L367.2 472.1 L367.3 471.9 L367.3 471.8 L367.4 471.6 L367.4 471.5 L367.4 471.3 L367.5 471.2 L367.5 471 L367.6 470.9 L367.6 470.8 L367.6 470.6 L367.7 470.5 L367.7 470.4 L367.7 470.2 L367.8 470.1 L367.8 470 L367.8 469.9 L367.9 469.8 L367.9 469.6 L367.9 469.5 L368 469.4 L368 469.3 L368 469.2 L368.1 469.1 L368.1 469 L368.1 468.8 L368.1 468.7 L368.2 468.6 L368.2 468.5 L368.2 468.4 L368.2 468.3 L368.3 468.2 L368.3 468.1 L368.3 468 L368.3 467.9 L368.4 467.8 L368.4 467.7 L368.4 467.6 L368.4 467.6 L368.4 467.5 L368.5 467.4 L368.5 467.3 L368.5 467.2 L368.5 467.1 L368.5 467.1 L368.6 467 L368.6 466.9 L368.6 466.9 L368.6 466.8 L368.7 466.7 L368.7 466.7 L368.7 466.6 L368.7 466.6 L368.8 466.5 L368.8 466.4 L368.8 466.4 L368.8 466.4 L368.9 466.3 L368.9 466.3 L368.9 466.2 L368.9 466.2 L369 466.2 L369 466.2 L369 466.2 L369 466.1 L369.1 466.1 L369.1 466.1 L369.1 466.1 L369.2 466.1 L369.2 466.1 L369.2 466.1 L369.2 466.1 L369.3 466.1 L369.3 466.1 L369.3 466.1 L369.4 466.1 L369.4 466.1 L369.4 466.1 L369.4 466.2 L369.5 466.2 L369.5 466.2 L369.5 466.2 L369.5 466.2 L369.6 466.2 L369.6 466.2 L369.6 466.2 L369.6 466.2 L369.7 466.3 L369.7 466.3 L369.7 466.3 L369.7 466.3 L369.7 466.3 L369.8 466.3 L369.8 466.3 L369.8 466.3 L369.8 466.3 Z" fill="none" stroke="#333" stroke-width="0.55"/>
<line x1="355.3" x2="384.1" y1="499.4" y2="499.4" stroke="#555" stroke-width="0.4" opacity="0.6"/>
<circle cx="376.5" cy="486.5" r="0.75" fill="#888" stroke="#444" stroke-width="0.35"/>
<circle cx="365.5" cy="489.4" r="0.75" fill="#888" stroke="#444" stroke-width="0.35"/>
<circle cx="362.5" cy="497.5" r="0.75" fill="#888" stroke="#444" stroke-width="0.35"/>
<circle cx="376.5" cy="487.4" r="0.75" fill="#888" stroke="#444" stroke-width="0.35"/>
<circle cx="359.9" cy="500.8" r="0.75" fill="#888" stroke="#444" stroke-width="0.35"/>
<circle cx="362.4" cy="503.9" r="0.75" fill="#888" stroke="#444" stroke-width="0.35"/>
<circle cx="365" cy="484" r="0.75" fill="#888" stroke="#444" stroke-width="0.35"/>
<circle cx="373.6" cy="511.8" r="0.75" fill="#888" stroke="#444" stroke-width="0.35"/>
<circle cx="366.3" cy="483.5" r="0.75" fill="#888" stroke="#444" stroke-width="0.35"/>
<circle cx="360.3" cy="495.2" r="0.75" fill="#888" stroke="#444" stroke-width="0.35"/>
<circle cx="371.6" cy="482.3" r="0.75" fill="#888" stroke="#444" stroke-width="0.35"/>
<circle cx="366.3" cy="489.7" r="0.75" fill="#888" stroke="#444" stroke-width="0.35"/>
<circle cx="360.9" cy="501.5" r="0.75" fill="#888" stroke="#444" stroke-width="0.35"/>
<circle cx="372.9" cy="490.8" r="0.75" fill="#888" stroke="#444" stroke-width="0.35"/>
<circle cx="364.6" cy="489.9" r="0.75" fill="#888" stroke="#444" stroke-width="0.35"/>
<circle cx="374.5" cy="493" r="0.75" fill="#888" stroke="#444" stroke-width="0.35"/>
<circle cx="370.5" cy="505" r="0.75" fill="#888" stroke="#444" stroke-width="0.35"/>
<circle cx="363.3" cy="504.7" r="0.75" fill="#888" stroke="#444" stroke-width="0.35"/>
<circle cx="376.5" cy="490.1" r="0.75" fill="#888" stroke="#444" stroke-width="0.35"/>
<circle cx="381.4" cy="502" r="0.75" fill="#888" stroke="#444" stroke-width="0.35"/>
<circle cx="362.3" cy="501.5" r="0.75" fill="#888" stroke="#444" stroke-width="0.35"/>
<circle cx="369.6" cy="494.5" r="0.75" fill="#888" stroke="#444" stroke-width="0.35"/>
<circle cx="374.9" cy="506.9" r="0.75" fill="#888" stroke="#444" stroke-width="0.35"/>
<circle cx="371.8" cy="497.4" r="0.75" fill="#888" stroke="#444" stroke-width="0.35"/>
<circle cx="367" cy="492.1" r="0.75" fill="#888" stroke="#444" stroke-width="0.35"/>
<circle cx="362.7" cy="487.4" r="0.75" fill="#888" stroke="#444" stroke-width="0.35"/>
<circle cx="374.6" cy="497.4" r="0.75" fill="#888" stroke="#444" stroke-width="0.35"/>
<circle cx="361.3" cy="505.7" r="0.75" fill="#888" stroke="#444" stroke-width="0.35"/>
<circle cx="363.9" cy="495.4" r="0.75" fill="#888" stroke="#444" stroke-width="0.35"/>
<circle cx="363.9" cy="496.8" r="0.75" fill="#888" stroke="#444" stroke-width="0.35"/>
<circle cx="360.5" cy="495" r="0.75" fill="#888" stroke="#444" stroke-width="0.35"/>
<circle cx="370.3" cy="472" r="0.75" fill="#888" stroke="#444" stroke-width="0.35"/>
<circle cx="363.1" cy="489.1" r="0.75" fill="#888" stroke="#444" stroke-width="0.35"/>
<circle cx="373.8" cy="496.9" r="0.75" fill="#888" stroke="#444" stroke-width="0.35"/>
<circle cx="369.9" cy="478" r="0.75" fill="#888" stroke="#444" stroke-width="0.35"/>
<circle cx="365.3" cy="498.1" r="0.75" fill="#888" stroke="#444" stroke-width="0.35"/>
<circle cx="373.1" cy="507.7" r="0.75" fill="#888" stroke="#444" stroke-width="0.35"/>
<circle cx="368.3" cy="513.6" r="0.75" fill="#888" stroke="#444" stroke-width="0.35"/>
<circle cx="369.7" cy="509.4" r="0.75" fill="#888" stroke="#444" stroke-width="0.35"/>
<circle cx="372.7" cy="482.6" r="0.75" fill="#888" stroke="#444" stroke-width="0.35"/>
<circle cx="367.1" cy="502.8" r="0.75" fill="#888" stroke="#444" stroke-width="0.35"/>
<circle cx="371.9" cy="493.8" r="0.75" fill="#888" stroke="#444" stroke-width="0.35"/>
<rect x="393.3" y="451.5" width="27.2" height="20.7" fill="#d6ecc6"/>
<path d="M406.3 428.3 L406.3 428.3 L406.3 428.3 L406.3 428.3 L406.4 428.3 L406.4 428.3 L406.4 428.2 L406.4 428.2 L406.4 428.2 L406.4 428.2 L406.4 428.2 L406.5 428.1 L406.5 428.1 L406.5 428.1 L406.5 428.1 L406.5 428 L406.6 428 L406.6 428 L406.6 428 L406.6 427.9 L406.6 427.9 L406.7 427.9 L406.7 427.9 L406.7 427.9 L406.7 427.9 L406.8 427.9 L406.8 427.9 L406.8 427.9 L406.9 427.9 L406.9 427.9 L406.9 427.9 L407 427.9 L407 428 L407 428 L407.1 428.1 L407.1 428.1 L407.1 428.2 L407.2 428.2 L407.2 428.3 L407.3 428.4 L407.3 428.5 L407.3 428.6 L407.4 428.7 L407.4 428.8 L407.5 429 L407.5 429.1 L407.6 429.2 L407.6 429.4 L407.7 429.5 L407.7 429.7 L407.8 429.9 L407.9 430 L407.9 430.2 L408 430.4 L408 430.6 L408.1 430.8 L408.2 431 L408.2 431.2 L408.3 431.4 L408.3 431.6 L408.4 431.8 L408.5 432 L408.5 432.2 L408.6 432.4 L408.7 432.6 L408.7 432.9 L408.8 433.1 L408.9 433.3 L408.9 433.5 L409 433.8 L409.1 434 L409.2 434.2 L409.2 434.4 L409.3 434.7 L409.4 434.9 L409.4 435.1 L409.5 435.3 L409.6 435.5 L409.7 435.8 L409.7 436 L409.8 436.2 L409.9 436.4 L409.9 436.6 L410 436.9 L410.1 437.1 L410.2 437.3 L410.3 437.5 L410.3 437.8 L410.4 438 L410.5 438.2 L410.6 438.5 L410.7 438.7 L410.8 439 L410.8 439.2 L410.9 439.5 L411 439.7 L411.1 439.9 L411.2 440.2 L411.3 440.4 L411.4 440.7 L411.4 440.9 L411.5 441.2 L411.6 441.4 L411.7 441.7 L411.8 441.9 L411.9 442.2 L412 442.4 L412.1 442.7 L412.1 442.9 L412.2 443.1 L412.3 443.4 L412.4 443.6 L412.5 443.8 L412.6 444.1 L412.6 444.3 L412.7 444.5 L412.8 444.7 L412.9 445 L412.9 445.2 L413 445.4 L413.1 445.6 L413.2 445.8 L413.2 446 L413.3 446.2 L413.4 446.4 L413.5 446.6 L413.5 446.8 L413.6 447 L413.7 447.1 L413.7 447.3 L413.8 447.5 L413.9 447.7 L413.9 447.9 L414 448 L414.1 448.2 L414.1 448.4 L414.2 448.5 L414.3 448.7 L414.3 448.9 L414.4 449.1 L414.5 449.2 L414.5 449.4 L414.6 449.6 L414.6 449.7 L414.7 449.9 L414.8 450.1 L414.8 450.2 L414.9 450.4 L415 450.6 L415 450.7 L415.1 450.9 L415.1 451.1 L415.2 451.2 L415.3 451.4 L415.3 451.6 L415.4 451.8 L415.5 452 L415.5 452.1 L415.6 452.3 L415.6 452.5 L415.7 452.7 L415.8 452.9 L415.8 453.1 L415.9 453.3 L416 453.5 L416 453.7 L416.1 453.9 L416.2 454.1 L416.2 454.3 L416.3 454.5 L416.4 454.7 L416.4 455 L416.5 455.2 L416.6 455.4 L416.6 455.6 L416.7 455.8 L416.8 456 L416.8 456.3 L416.9 456.5 L417 456.7 L417 456.9 L417.1 457.1 L417.2 457.4 L417.2 457.6 L417.3 457.8 L417.4 458 L417.4 458.2 L417.5 458.4 L417.5 458.6 L417.6 458.9 L417.7 459.1 L417.7 459.3 L417.8 459.5 L417.8 459.7 L417.9 459.9 L417.9 460.1 L417.9 460.3 L418 460.5 L418 460.6 L418.1 460.8 L418.1 461 L418.1 461.2 L418.2 461.3 L418.2 461.5 L418.2 461.7 L418.3 461.9 L418.3 462 L418.3 462.2 L418.3 462.3 L418.4 462.5 L418.4 462.6 L418.4 462.8 L418.4 462.9 L418.4 463.1 L418.5 463.2 L418.5 463.4 L418.5 463.5 L418.5 463.7 L418.5 463.8 L418.5 464 L418.6 464.1 L418.6 464.2 L418.6 464.4 L418.6 464.5 L418.6 464.7 L418.6 464.8 L418.6 464.9 L418.6 465.1 L418.6 465.2 L418.6 465.3 L418.6 465.5 L418.6 465.6 L418.5 465.8 L418.5 465.9 L418.5 466 L418.5 466.2 L418.5 466.3 L418.5 466.5 L418.4 466.6 L418.4 466.8 L418.4 466.9 L418.4 467 L418.3 467.2 L418.3 467.3 L418.3 467.5 L418.2 467.6 L418.2 467.8 L418.2 467.9 L418.1 468 L418.1 468.2 L418 468.3 L418 468.5 L417.9 468.6 L417.9 468.7 L417.8 468.9 L417.7 469 L417.7 469.1 L417.6 469.3 L417.6 469.4 L417.5 469.6 L417.4 469.7 L417.4 469.8 L417.3 470 L417.2 470.1 L417.2 470.3 L417.1 470.4 L417 470.6 L417 470.7 L416.9 470.9 L416.8 471 L416.7 471.2 L416.7 471.3 L416.6 471.5 L416.5 471.6 L416.4 471.8 L416.4 472 L416.3 472.1 L416.2 472.3 L416.1 472.5 L416.1 472.6 L416 472.8 L415.9 473 L415.8 473.2 L415.8 473.3 L415.7 473.5 L415.6 473.7 L415.5 473.9 L415.5 474.1 L415.4 474.3 L415.3 474.5 L415.2 474.7 L415.1 474.9 L415 475.1 L414.9 475.3 L414.9 475.5 L414.8 475.8 L414.7 476 L414.6 476.2 L414.5 476.4 L414.4 476.6 L414.3 476.8 L414.2 477 L414.1 477.3 L414 477.5 L414 477.7 L413.9 477.9 L413.8 478.1 L413.7 478.3 L413.6 478.5 L413.5 478.8 L413.4 479 L413.3 479.2 L413.2 479.4 L413.1 479.6 L413 479.8 L412.9 480 L412.9 480.2 L412.8 480.4 L412.7 480.6 L412.6 480.8 L412.5 481 L412.4 481.2 L412.3 481.4 L412.2 481.6 L412.1 481.7 L412.1 481.9 L412 482.1 L411.9 482.3 L411.8 482.5 L411.7 482.6 L411.6 482.8 L411.5 483 L411.4 483.1 L411.3 483.3 L411.2 483.5 L411.1 483.6 L411 483.8 L410.9 484 L410.9 484.1 L410.8 484.3 L410.7 484.5 L410.6 484.6 L410.5 484.8 L410.4 485 L410.3 485.2 L410.2 485.3 L410.1 485.5 L410 485.7 L410 485.8 L409.9 486 L409.8 486.2 L409.7 486.4 L409.6 486.6 L409.5 486.7 L409.5 486.9 L409.4 487.1 L409.3 487.3 L409.2 487.5 L409.1 487.7 L409.1 487.9 L409 488.1 L408.9 488.3 L408.9 488.5 L408.8 488.8 L408.7 489 L408.7 489.2 L408.6 489.5 L408.5 489.7 L408.4 490 L408.4 490.2 L408.3 490.5 L408.3 490.7 L408.2 491 L408.1 491.3 L408.1 491.6 L408 491.8 L407.9 492.1 L407.9 492.4 L407.8 492.6 L407.8 492.9 L407.7 493.2 L407.7 493.4 L407.6 493.7 L407.5 494 L407.5 494.2 L407.4 494.5 L407.4 494.7 L407.3 495 L407.3 495.2 L407.2 495.4 L407.2 495.7 L407.2 495.9 L407.1 496.1 L407.1 496.3 L407 496.5 L407 496.7 L406.9 496.8 L406.9 497 L406.9 497.1 L406.8 497.3 L406.8 497.4 L406.8 497.5 L406.7 497.6 L406.7 497.7 L406.7 497.8 L406.7 497.9 L406.6 497.9 L406.6 498 L406.6 498 L406.6 498.1 L406.5 498.1 L406.5 498.1 L406.5 498.1 L406.5 498.1 L406.5 498.2 L406.5 498.2 L406.5 498.1 L406.4 498.1 L406.4 498.1 L406.4 498.1 L406.4 498.1 L406.4 498.1 L406.4 498 L406.4 498 L406.4 498 L406.4 497.9 L406.4 497.9 L406.4 497.9 L406.4 497.8 L406.4 497.8 L406.4 497.8 L406.3 497.7 L406.3 497.7 L406.3 497.7 L406.3 497.7 L406.3 497.6 L406.3 497.6 L406.3 497.6 L406.3 497.6 L406.3 497.6 L406.3 497.6 L406.3 497.6 L406.3 497.6 L406.3 497.6 L406.3 497.6 L406.3 497.6 L406.3 497.6 L406.3 497.7 L406.3 497.7 L406.3 497.7 L406.3 497.7 L406.2 497.8 L406.2 497.8 L406.2 497.8 L406.2 497.9 L406.2 497.9 L406.2 497.9 L406.2 498 L406.2 498 L406.2 498 L406.2 498.1 L406.2 498.1 L406.2 498.1 L406.2 498.1 L406.2 498.1 L406.1 498.1 L406.1 498.2 L406.1 498.2 L406.1 498.1 L406.1 498.1 L406.1 498.1 L406.1 498.1 L406 498.1 L406 498 L406 498 L406 497.9 L405.9 497.9 L405.9 497.8 L405.9 497.7 L405.9 497.6 L405.8 497.5 L405.8 497.4 L405.8 497.3 L405.7 497.1 L405.7 497 L405.7 496.8 L405.6 496.7 L405.6 496.5 L405.5 496.3 L405.5 496.1 L405.4 495.9 L405.4 495.7 L405.4 495.4 L405.3 495.2 L405.3 495 L405.2 494.7 L405.2 494.5 L405.1 494.2 L405.1 494 L405 493.7 L404.9 493.4 L404.9 493.2 L404.8 492.9 L404.8 492.6 L404.7 492.4 L404.7 492.1 L404.6 491.8 L404.5 491.6 L404.5 491.3 L404.4 491 L404.3 490.7 L404.3 490.5 L404.2 490.2 L404.2 490 L404.1 489.7 L404 489.5 L403.9 489.2 L403.9 489 L403.8 488.8 L403.7 488.5 L403.7 488.3 L403.6 488.1 L403.5 487.9 L403.5 487.7 L403.4 487.5 L403.3 487.3 L403.2 487.1 L403.1 486.9 L403.1 486.7 L403 486.6 L402.9 486.4 L402.8 486.2 L402.7 486 L402.6 485.8 L402.6 485.7 L402.5 485.5 L402.4 485.3 L402.3 485.2 L402.2 485 L402.1 484.8 L402 484.6 L401.9 484.5 L401.8 484.3 L401.7 484.1 L401.7 484 L401.6 483.8 L401.5 483.6 L401.4 483.5 L401.3 483.3 L401.2 483.1 L401.1 483 L401 482.8 L400.9 482.6 L400.8 482.5 L400.7 482.3 L400.6 482.1 L400.5 481.9 L400.5 481.7 L400.4 481.6 L400.3 481.4 L400.2 481.2 L400.1 481 L400 480.8 L399.9 480.6 L399.8 480.4 L399.7 480.2 L399.7 480 L399.6 479.8 L399.5 479.6 L399.4 479.4 L399.3 479.2 L399.2 479 L399.1 478.8 L399 478.5 L398.9 478.3 L398.8 478.1 L398.7 477.9 L398.6 477.7 L398.6 477.5 L398.5 477.3 L398.4 477 L398.3 476.8 L398.2 476.6 L398.1 476.4 L398 476.2 L397.9 476 L397.8 475.8 L397.7 475.5 L397.7 475.3 L397.6 475.1 L397.5 474.9 L397.4 474.7 L397.3 474.5 L397.2 474.3 L397.1 474.1 L397.1 473.9 L397 473.7 L396.9 473.5 L396.8 473.3 L396.8 473.2 L396.7 473 L396.6 472.8 L396.5 472.6 L396.5 472.5 L396.4 472.3 L396.3 472.1 L396.2 472 L396.2 471.8 L396.1 471.6 L396 471.5 L395.9 471.3 L395.9 471.2 L395.8 471 L395.7 470.9 L395.6 470.7 L395.6 470.6 L395.5 470.4 L395.4 470.3 L395.4 470.1 L395.3 470 L395.2 469.8 L395.2 469.7 L395.1 469.6 L395 469.4 L395 469.3 L394.9 469.1 L394.9 469 L394.8 468.9 L394.7 468.7 L394.7 468.6 L394.6 468.5 L394.6 468.3 L394.5 468.2 L394.5 468 L394.4 467.9 L394.4 467.8 L394.4 467.6 L394.3 467.5 L394.3 467.3 L394.3 467.2 L394.2 467 L394.2 466.9 L394.2 466.8 L394.2 466.6 L394.1 466.5 L394.1 466.3 L394.1 466.2 L394.1 466 L394.1 465.9 L394.1 465.8 L394 465.6 L394 465.5 L394 465.3 L394 465.2 L394 465.1 L394 464.9 L394 464.8 L394 464.7 L394 464.5 L394 464.4 L394 464.2 L394.1 464.1 L394.1 464 L394.1 463.8 L394.1 463.7 L394.1 463.5 L394.1 463.4 L394.1 463.2 L394.2 463.1 L394.2 462.9 L394.2 462.8 L394.2 462.6 L394.2 462.5 L394.3 462.3 L394.3 462.2 L394.3 462 L394.3 461.9 L394.4 461.7 L394.4 461.5 L394.4 461.3 L394.5 461.2 L394.5 461 L394.5 460.8 L394.6 460.6 L394.6 460.5 L394.7 460.3 L394.7 460.1 L394.7 459.9 L394.8 459.7 L394.8 459.5 L394.9 459.3 L394.9 459.1 L395 458.9 L395.1 458.6 L395.1 458.4 L395.2 458.2 L395.2 458 L395.3 457.8 L395.4 457.6 L395.4 457.4 L395.5 457.1 L395.6 456.9 L395.6 456.7 L395.7 456.5 L395.8 456.3 L395.8 456 L395.9 455.8 L396 455.6 L396 455.4 L396.1 455.2 L396.2 455 L396.2 454.7 L396.3 454.5 L396.4 454.3 L396.4 454.1 L396.5 453.9 L396.6 453.7 L396.6 453.5 L396.7 453.3 L396.8 453.1 L396.8 452.9 L396.9 452.7 L397 452.5 L397 452.3 L397.1 452.1 L397.1 452 L397.2 451.8 L397.3 451.6 L397.3 451.4 L397.4 451.2 L397.5 451.1 L397.5 450.9 L397.6 450.7 L397.6 450.6 L397.7 450.4 L397.8 450.2 L397.8 450.1 L397.9 449.9 L398 449.7 L398 449.6 L398.1 449.4 L398.1 449.2 L398.2 449.1 L398.3 448.9 L398.3 448.7 L398.4 448.5 L398.5 448.4 L398.5 448.2 L398.6 448 L398.7 447.9 L398.7 447.7 L398.8 447.5 L398.9 447.3 L398.9 447.1 L399 447 L399.1 446.8 L399.1 446.6 L399.2 446.4 L399.3 446.2 L399.4 446 L399.4 445.8 L399.5 445.6 L399.6 445.4 L399.7 445.2 L399.7 445 L399.8 444.7 L399.9 444.5 L400 444.3 L400 444.1 L400.1 443.8 L400.2 443.6 L400.3 443.4 L400.4 443.1 L400.5 442.9 L400.5 442.7 L400.6 442.4 L400.7 442.2 L400.8 441.9 L400.9 441.7 L401 441.4 L401.1 441.2 L401.2 440.9 L401.2 440.7 L401.3 440.4 L401.4 440.2 L401.5 439.9 L401.6 439.7 L401.7 439.5 L401.8 439.2 L401.8 439 L401.9 438.7 L402 438.5 L402.1 438.2 L402.2 438 L402.3 437.8 L402.3 437.5 L402.4 437.3 L402.5 437.1 L402.6 436.9 L402.7 436.6 L402.7 436.4 L402.8 436.2 L402.9 436 L402.9 435.8 L403 435.5 L403.1 435.3 L403.2 435.1 L403.2 434.9 L403.3 434.7 L403.4 434.4 L403.4 434.2 L403.5 434 L403.6 433.8 L403.7 433.5 L403.7 433.3 L403.8 433.1 L403.9 432.9 L403.9 432.6 L404 432.4 L404.1 432.2 L404.1 432 L404.2 431.8 L404.3 431.6 L404.3 431.4 L404.4 431.2 L404.4 431 L404.5 430.8 L404.6 430.6 L404.6 430.4 L404.7 430.2 L404.7 430 L404.8 429.9 L404.9 429.7 L404.9 429.5 L405 429.4 L405 429.2 L405.1 429.1 L405.1 429 L405.2 428.8 L405.2 428.7 L405.3 428.6 L405.3 428.5 L405.3 428.4 L405.4 428.3 L405.4 428.2 L405.5 428.2 L405.5 428.1 L405.5 428.1 L405.6 428 L405.6 428 L405.6 427.9 L405.7 427.9 L405.7 427.9 L405.7 427.9 L405.8 427.9 L405.8 427.9 L405.8 427.9 L405.9 427.9 L405.9 427.9 L405.9 427.9 L405.9 427.9 L406 427.9 L406 427.9 L406 428 L406 428 L406 428 L406.1 428 L406.1 428.1 L406.1 428.1 L406.1 428.1 L406.1 428.1 L406.2 428.2 L406.2 428.2 L406.2 428.2 L406.2 428.2 L406.2 428.2 L406.2 428.3 L406.2 428.3 L406.3 428.3 L406.3 428.3 L406.3 428.3 L406.3 428.3 Z" fill="none" stroke="#333" stroke-width="0.55"/>
<circle cx="412.6" cy="469" r="0.75" fill="#888" stroke="#444" stroke-width="0.35"/>
<circle cx="406.1" cy="489.9" r="0.75" fill="#888" stroke="#444" stroke-width="0.35"/>
<circle cx="412.2" cy="452" r="0.75" fill="#888" stroke="#444" stroke-width="0.35"/>
<circle cx="411.5" cy="449.4" r="0.75" fill="#888" stroke="#444" stroke-width="0.35"/>
<circle cx="400.8" cy="456.8" r="0.75" fill="#888" stroke="#444" stroke-width="0.35"/>
<circle cx="404.4" cy="466.1" r="0.75" fill="#888" stroke="#444" stroke-width="0.35"/>
<circle cx="403.5" cy="460.6" r="0.75" fill="#888" stroke="#444" stroke-width="0.35"/>
<circle cx="401.2" cy="465.6" r="0.75" fill="#888" stroke="#444" stroke-width="0.35"/>
<circle cx="412.1" cy="471.8" r="0.75" fill="#888" stroke="#444" stroke-width="0.35"/>
<circle cx="401.1" cy="455.3" r="0.75" fill="#888" stroke="#444" stroke-width="0.35"/>
<circle cx="411.5" cy="455.4" r="0.75" fill="#888" stroke="#444" stroke-width="0.35"/>
<circle cx="410.5" cy="467.5" r="0.75" fill="#888" stroke="#444" stroke-width="0.35"/>
<circle cx="403.1" cy="474.5" r="0.75" fill="#888" stroke="#444" stroke-width="0.35"/>
<circle cx="403.7" cy="457.1" r="0.75" fill="#888" stroke="#444" stroke-width="0.35"/>
<circle cx="413.9" cy="461.7" r="0.75" fill="#888" stroke="#444" stroke-width="0.35"/>
<circle cx="406.4" cy="447.1" r="0.75" fill="#888" stroke="#444" stroke-width="0.35"/>
<circle cx="410.3" cy="471.8" r="0.75" fill="#888" stroke="#444" stroke-width="0.35"/>
<circle cx="413.2" cy="456.5" r="0.75" fill="#888" stroke="#444" stroke-width="0.35"/>
<circle cx="404.3" cy="472.6" r="0.75" fill="#888" stroke="#444" stroke-width="0.35"/>
<circle cx="413.6" cy="464.4" r="0.75" fill="#888" stroke="#444" stroke-width="0.35"/>
<circle cx="406" cy="476.4" r="0.75" fill="#888" stroke="#444" stroke-width="0.35"/>
<circle cx="410.3" cy="453.4" r="0.75" fill="#888" stroke="#444" stroke-width="0.35"/>
<circle cx="413.7" cy="461" r="0.75" fill="#888" stroke="#444" stroke-width="0.35"/>
<circle cx="404.9" cy="471.5" r="0.75" fill="#888" stroke="#444" stroke-width="0.35"/>
<circle cx="412.6" cy="465.4" r="0.75" fill="#888" stroke="#444" stroke-width="0.35"/>
<circle cx="404.6" cy="456.8" r="0.75" fill="#888" stroke="#444" stroke-width="0.35"/>
<circle cx="410" cy="478" r="0.75" fill="#888" stroke="#444" stroke-width="0.35"/>
<circle cx="404.7" cy="476.7" r="0.75" fill="#888" stroke="#444" stroke-width="0.35"/>
<circle cx="407" cy="489" r="0.75" fill="#888" stroke="#444" stroke-width="0.35"/>
<circle cx="412.8" cy="462.9" r="0.75" fill="#888" stroke="#444" stroke-width="0.35"/>
<circle cx="405.4" cy="477.7" r="0.75" fill="#888" stroke="#444" stroke-width="0.35"/>
<circle cx="405.1" cy="468.1" r="0.75" fill="#888" stroke="#444" stroke-width="0.35"/>
<circle cx="413.5" cy="463.6" r="0.75" fill="#888" stroke="#444" stroke-width="0.35"/>
<circle cx="410.9" cy="449.7" r="0.75" fill="#888" stroke="#444" stroke-width="0.35"/>
<circle cx="405.3" cy="433.8" r="0.75" fill="#888" stroke="#444" stroke-width="0.35"/>
<circle cx="414.2" cy="459.3" r="0.75" fill="#888" stroke="#444" stroke-width="0.35"/>
<circle cx="398.5" cy="469.2" r="0.75" fill="#888" stroke="#444" stroke-width="0.35"/>
<circle cx="406" cy="465.6" r="0.75" fill="#888" stroke="#444" stroke-width="0.35"/>
<circle cx="401.8" cy="465.1" r="0.75" fill="#888" stroke="#444" stroke-width="0.35"/>
<circle cx="404.6" cy="436.1" r="0.75" fill="#888" stroke="#444" stroke-width="0.35"/>
<circle cx="406.8" cy="490.5" r="0.75" fill="#888" stroke="#444" stroke-width="0.35"/>
<circle cx="407.1" cy="482.8" r="0.75" fill="#888" stroke="#444" stroke-width="0.35"/>
<circle cx="408.6" cy="465.6" r="0.75" fill="#888" stroke="#444" stroke-width="0.35"/>
<circle cx="403.7" cy="467.5" r="0.75" fill="#888" stroke="#444" stroke-width="0.35"/>
<circle cx="403.4" cy="462" r="0.75" fill="#888" stroke="#444" stroke-width="0.35"/>
<rect x="429.1" y="472.1" width="28.9" height="20.2" fill="#c9c9f0"/>
<path d="M443.6 459 L443.7 459 L443.7 459 L443.8 459 L443.9 459 L444 459 L444.1 459 L444.2 459 L444.4 458.9 L444.5 458.9 L444.6 458.9 L444.7 458.9 L444.9 458.9 L445 458.9 L445.1 458.9 L445.3 458.8 L445.4 458.8 L445.6 458.8 L445.7 458.8 L445.9 458.8 L446 458.8 L446.2 458.8 L446.4 458.8 L446.5 458.8 L446.7 458.8 L446.8 458.8 L447 458.8 L447.1 458.8 L447.3 458.8 L447.4 458.8 L447.6 458.8 L447.7 458.8 L447.8 458.8 L448 458.9 L448.1 458.9 L448.2 458.9 L448.4 459 L448.5 459 L448.6 459.1 L448.7 459.1 L448.8 459.2 L448.9 459.3 L449 459.3 L449.1 459.4 L449.2 459.5 L449.2 459.6 L449.3 459.7 L449.4 459.8 L449.5 459.9 L449.5 460 L449.6 460.1 L449.6 460.2 L449.7 460.3 L449.8 460.4 L449.8 460.5 L449.9 460.6 L449.9 460.8 L450 460.9 L450 461 L450.1 461.2 L450.1 461.3 L450.2 461.4 L450.2 461.6 L450.3 461.7 L450.3 461.9 L450.4 462 L450.4 462.2 L450.5 462.3 L450.5 462.5 L450.6 462.6 L450.7 462.8 L450.7 462.9 L450.8 463.1 L450.8 463.2 L450.9 463.4 L450.9 463.6 L451 463.7 L451.1 463.9 L451.2 464.1 L451.2 464.2 L451.3 464.4 L451.4 464.6 L451.5 464.7 L451.5 464.9 L451.6 465.1 L451.7 465.3 L451.8 465.5 L451.9 465.7 L452 465.9 L452.1 466.1 L452.2 466.3 L452.3 466.5 L452.4 466.7 L452.5 466.9 L452.6 467.2 L452.7 467.4 L452.8 467.6 L452.9 467.8 L453.1 468 L453.2 468.3 L453.3 468.5 L453.4 468.7 L453.5 468.9 L453.6 469.2 L453.7 469.4 L453.8 469.6 L453.9 469.8 L454 470.1 L454.1 470.3 L454.2 470.5 L454.3 470.7 L454.3 470.9 L454.4 471.1 L454.5 471.3 L454.6 471.5 L454.7 471.7 L454.7 471.9 L454.8 472.1 L454.9 472.3 L454.9 472.5 L455 472.7 L455.1 472.9 L455.1 473.1 L455.2 473.2 L455.2 473.4 L455.2 473.6 L455.3 473.7 L455.3 473.9 L455.3 474 L455.4 474.2 L455.4 474.4 L455.4 474.5 L455.5 474.7 L455.5 474.8 L455.5 474.9 L455.5 475.1 L455.5 475.2 L455.6 475.4 L455.6 475.5 L455.6 475.7 L455.6 475.8 L455.6 476 L455.6 476.1 L455.6 476.2 L455.6 476.4 L455.6 476.5 L455.6 476.7 L455.6 476.8 L455.7 477 L455.7 477.1 L455.7 477.2 L455.7 477.4 L455.7 477.5 L455.7 477.7 L455.7 477.8 L455.7 478 L455.7 478.2 L455.7 478.3 L455.7 478.5 L455.7 478.6 L455.7 478.8 L455.7 479 L455.7 479.1 L455.7 479.3 L455.7 479.5 L455.7 479.7 L455.7 479.8 L455.7 480 L455.7 480.2 L455.7 480.4 L455.8 480.5 L455.8 480.7 L455.8 480.9 L455.8 481.1 L455.8 481.3 L455.8 481.5 L455.8 481.6 L455.8 481.8 L455.8 482 L455.8 482.2 L455.8 482.4 L455.8 482.6 L455.8 482.8 L455.8 482.9 L455.7 483.1 L455.7 483.3 L455.7 483.5 L455.7 483.7 L455.7 483.9 L455.7 484.1 L455.7 484.3 L455.7 484.4 L455.7 484.6 L455.6 484.8 L455.6 485 L455.6 485.2 L455.6 485.4 L455.6 485.6 L455.5 485.7 L455.5 485.9 L455.5 486.1 L455.5 486.3 L455.4 486.5 L455.4 486.6 L455.4 486.8 L455.4 487 L455.3 487.2 L455.3 487.4 L455.2 487.6 L455.2 487.8 L455.2 488 L455.1 488.1 L455.1 488.3 L455 488.5 L455 488.7 L455 488.9 L454.9 489.1 L454.9 489.3 L454.8 489.5 L454.8 489.6 L454.7 489.8 L454.7 490 L454.6 490.2 L454.6 490.4 L454.5 490.6 L454.5 490.8 L454.4 490.9 L454.4 491.1 L454.3 491.3 L454.2 491.5 L454.2 491.6 L454.1 491.8 L454.1 492 L454 492.2 L454 492.3 L453.9 492.5 L453.8 492.7 L453.8 492.8 L453.7 493 L453.7 493.1 L453.6 493.3 L453.5 493.5 L453.5 493.6 L453.4 493.8 L453.3 493.9 L453.3 494 L453.2 494.2 L453.1 494.3 L453.1 494.5 L453 494.6 L452.9 494.7 L452.9 494.9 L452.8 495 L452.7 495.1 L452.6 495.3 L452.6 495.4 L452.5 495.5 L452.4 495.7 L452.3 495.8 L452.3 495.9 L452.2 496 L452.1 496.2 L452 496.3 L452 496.4 L451.9 496.5 L451.8 496.6 L451.7 496.8 L451.6 496.9 L451.6 497 L451.5 497.1 L451.4 497.3 L451.3 497.4 L451.2 497.5 L451.2 497.6 L451.1 497.7 L451 497.9 L450.9 498 L450.8 498.1 L450.8 498.2 L450.7 498.4 L450.6 498.5 L450.5 498.6 L450.4 498.8 L450.4 498.9 L450.3 499 L450.2 499.1 L450.1 499.3 L450 499.4 L449.9 499.5 L449.8 499.7 L449.7 499.8 L449.7 499.9 L449.6 500 L449.5 500.2 L449.4 500.3 L449.3 500.4 L449.2 500.5 L449.1 500.7 L449 500.8 L448.9 500.9 L448.8 501 L448.8 501.2 L448.7 501.3 L448.6 501.4 L448.5 501.6 L448.4 501.7 L448.3 501.8 L448.2 501.9 L448.1 502.1 L448.1 502.2 L448 502.3 L447.9 502.4 L447.8 502.6 L447.7 502.7 L447.6 502.8 L447.6 503 L447.5 503.1 L447.4 503.2 L447.3 503.3 L447.3 503.5 L447.2 503.6 L447.1 503.7 L447.1 503.9 L447 504 L446.9 504.1 L446.9 504.2 L446.8 504.3 L446.7 504.5 L446.7 504.6 L446.6 504.7 L446.6 504.8 L446.5 504.9 L446.4 505 L446.4 505.1 L446.3 505.3 L446.3 505.4 L446.2 505.5 L446.2 505.6 L446.1 505.7 L446 505.8 L446 505.9 L445.9 506.1 L445.9 506.2 L445.8 506.3 L445.8 506.4 L445.7 506.6 L445.7 506.7 L445.6 506.8 L445.6 506.9 L445.6 507.1 L445.5 507.2 L445.5 507.4 L445.4 507.5 L445.4 507.7 L445.3 507.8 L445.3 508 L445.3 508.1 L445.2 508.3 L445.2 508.4 L445.1 508.6 L445.1 508.8 L445.1 509 L445 509.2 L445 509.4 L445 509.6 L444.9 509.8 L444.9 510 L444.9 510.3 L444.8 510.5 L444.8 510.8 L444.8 511 L444.8 511.3 L444.7 511.5 L444.7 511.8 L444.7 512.1 L444.7 512.4 L444.6 512.6 L444.6 512.9 L444.6 513.2 L444.6 513.4 L444.6 513.7 L444.5 514 L444.5 514.2 L444.5 514.5 L444.5 514.8 L444.5 515 L444.4 515.3 L444.4 515.5 L444.4 515.8 L444.4 516 L444.4 516.2 L444.4 516.5 L444.3 516.7 L444.3 516.9 L444.3 517.1 L444.3 517.3 L444.3 517.4 L444.3 517.6 L444.2 517.7 L444.2 517.9 L444.2 518 L444.2 518.1 L444.2 518.2 L444.1 518.3 L444.1 518.4 L444.1 518.5 L444.1 518.5 L444.1 518.6 L444.1 518.6 L444 518.7 L444 518.7 L444 518.7 L444 518.7 L444 518.7 L443.9 518.7 L443.9 518.7 L443.9 518.7 L443.9 518.7 L443.9 518.7 L443.9 518.7 L443.8 518.7 L443.8 518.7 L443.8 518.6 L443.8 518.6 L443.8 518.6 L443.8 518.5 L443.8 518.5 L443.7 518.5 L443.7 518.4 L443.7 518.4 L443.7 518.4 L443.7 518.3 L443.7 518.3 L443.7 518.3 L443.7 518.3 L443.6 518.2 L443.6 518.2 L443.6 518.2 L443.6 518.2 L443.6 518.2 L443.6 518.2 L443.6 518.2 L443.6 518.2 L443.6 518.2 L443.6 518.2 L443.6 518.2 L443.6 518.2 L443.5 518.3 L443.5 518.3 L443.5 518.3 L443.5 518.3 L443.5 518.4 L443.5 518.4 L443.5 518.4 L443.5 518.5 L443.4 518.5 L443.4 518.5 L443.4 518.6 L443.4 518.6 L443.4 518.6 L443.4 518.7 L443.4 518.7 L443.3 518.7 L443.3 518.7 L443.3 518.7 L443.3 518.7 L443.3 518.7 L443.3 518.7 L443.2 518.7 L443.2 518.7 L443.2 518.7 L443.2 518.7 L443.2 518.7 L443.1 518.6 L443.1 518.6 L443.1 518.5 L443.1 518.5 L443.1 518.4 L443.1 518.3 L443 518.2 L443 518.1 L443 518 L443 517.9 L443 517.7 L442.9 517.6 L442.9 517.4 L442.9 517.3 L442.9 517.1 L442.9 516.9 L442.9 516.7 L442.8 516.5 L442.8 516.2 L442.8 516 L442.8 515.8 L442.8 515.5 L442.8 515.3 L442.7 515 L442.7 514.8 L442.7 514.5 L442.7 514.2 L442.7 514 L442.6 513.7 L442.6 513.4 L442.6 513.2 L442.6 512.9 L442.6 512.6 L442.5 512.4 L442.5 512.1 L442.5 511.8 L442.5 511.5 L442.4 511.3 L442.4 511 L442.4 510.8 L442.4 510.5 L442.3 510.3 L442.3 510 L442.3 509.8 L442.2 509.6 L442.2 509.4 L442.2 509.2 L442.1 509 L442.1 508.8 L442.1 508.6 L442 508.4 L442 508.3 L441.9 508.1 L441.9 508 L441.9 507.8 L441.8 507.7 L441.8 507.5 L441.7 507.4 L441.7 507.2 L441.6 507.1 L441.6 506.9 L441.6 506.8 L441.5 506.7 L441.5 506.6 L441.4 506.4 L441.4 506.3 L441.3 506.2 L441.3 506.1 L441.2 505.9 L441.2 505.8 L441.1 505.7 L441 505.6 L441 505.5 L440.9 505.4 L440.9 505.3 L440.8 505.1 L440.8 505 L440.7 504.9 L440.6 504.8 L440.6 504.7 L440.5 504.6 L440.5 504.5 L440.4 504.3 L440.3 504.2 L440.3 504.1 L440.2 504 L440.1 503.9 L440.1 503.7 L440 503.6 L439.9 503.5 L439.9 503.3 L439.8 503.2 L439.7 503.1 L439.6 503 L439.6 502.8 L439.5 502.7 L439.4 502.6 L439.3 502.4 L439.2 502.3 L439.1 502.2 L439.1 502.1 L439 501.9 L438.9 501.8 L438.8 501.7 L438.7 501.6 L438.6 501.4 L438.5 501.3 L438.4 501.2 L438.4 501 L438.3 500.9 L438.2 500.8 L438.1 500.7 L438 500.5 L437.9 500.4 L437.8 500.3 L437.7 500.2 L437.6 500 L437.5 499.9 L437.5 499.8 L437.4 499.7 L437.3 499.5 L437.2 499.4 L437.1 499.3 L437 499.1 L436.9 499 L436.8 498.9 L436.8 498.8 L436.7 498.6 L436.6 498.5 L436.5 498.4 L436.4 498.2 L436.4 498.1 L436.3 498 L436.2 497.9 L436.1 497.7 L436 497.6 L436 497.5 L435.9 497.4 L435.8 497.3 L435.7 497.1 L435.6 497 L435.6 496.9 L435.5 496.8 L435.4 496.6 L435.3 496.5 L435.2 496.4 L435.2 496.3 L435.1 496.2 L435 496 L434.9 495.9 L434.9 495.8 L434.8 495.7 L434.7 495.5 L434.6 495.4 L434.6 495.3 L434.5 495.1 L434.4 495 L434.3 494.9 L434.3 494.7 L434.2 494.6 L434.1 494.5 L434.1 494.3 L434 494.2 L433.9 494 L433.9 493.9 L433.8 493.8 L433.7 493.6 L433.7 493.5 L433.6 493.3 L433.5 493.1 L433.5 493 L433.4 492.8 L433.4 492.7 L433.3 492.5 L433.2 492.3 L433.2 492.2 L433.1 492 L433.1 491.8 L433 491.6 L433 491.5 L432.9 491.3 L432.8 491.1 L432.8 490.9 L432.7 490.8 L432.7 490.6 L432.6 490.4 L432.6 490.2 L432.5 490 L432.5 489.8 L432.4 489.6 L432.4 489.5 L432.3 489.3 L432.3 489.1 L432.2 488.9 L432.2 488.7 L432.2 488.5 L432.1 488.3 L432.1 488.1 L432 488 L432 487.8 L432 487.6 L431.9 487.4 L431.9 487.2 L431.8 487 L431.8 486.8 L431.8 486.6 L431.8 486.5 L431.7 486.3 L431.7 486.1 L431.7 485.9 L431.7 485.7 L431.6 485.6 L431.6 485.4 L431.6 485.2 L431.6 485 L431.6 484.8 L431.5 484.6 L431.5 484.4 L431.5 484.3 L431.5 484.1 L431.5 483.9 L431.5 483.7 L431.5 483.5 L431.5 483.3 L431.5 483.1 L431.4 482.9 L431.4 482.8 L431.4 482.6 L431.4 482.4 L431.4 482.2 L431.4 482 L431.4 481.8 L431.4 481.6 L431.4 481.5 L431.4 481.3 L431.4 481.1 L431.4 480.9 L431.4 480.7 L431.4 480.5 L431.5 480.4 L431.5 480.2 L431.5 480 L431.5 479.8 L431.5 479.7 L431.5 479.5 L431.5 479.3 L431.5 479.1 L431.5 479 L431.5 478.8 L431.5 478.6 L431.5 478.5 L431.5 478.3 L431.5 478.2 L431.5 478 L431.5 477.8 L431.5 477.7 L431.5 477.5 L431.5 477.4 L431.5 477.2 L431.5 477.1 L431.5 477 L431.6 476.8 L431.6 476.7 L431.6 476.5 L431.6 476.4 L431.6 476.2 L431.6 476.1 L431.6 476 L431.6 475.8 L431.6 475.7 L431.6 475.5 L431.6 475.4 L431.7 475.2 L431.7 475.1 L431.7 474.9 L431.7 474.8 L431.7 474.7 L431.8 474.5 L431.8 474.4 L431.8 474.2 L431.9 474 L431.9 473.9 L431.9 473.7 L432 473.6 L432 473.4 L432 473.2 L432.1 473.1 L432.1 472.9 L432.2 472.7 L432.3 472.5 L432.3 472.3 L432.4 472.1 L432.5 471.9 L432.5 471.7 L432.6 471.5 L432.7 471.3 L432.8 471.1 L432.9 470.9 L432.9 470.7 L433 470.5 L433.1 470.3 L433.2 470.1 L433.3 469.8 L433.4 469.6 L433.5 469.4 L433.6 469.2 L433.7 468.9 L433.8 468.7 L433.9 468.5 L434 468.3 L434.1 468 L434.3 467.8 L434.4 467.6 L434.5 467.4 L434.6 467.2 L434.7 466.9 L434.8 466.7 L434.9 466.5 L435 466.3 L435.1 466.1 L435.2 465.9 L435.3 465.7 L435.4 465.5 L435.5 465.3 L435.6 465.1 L435.7 464.9 L435.7 464.7 L435.8 464.6 L435.9 464.4 L436 464.2 L436 464.1 L436.1 463.9 L436.2 463.7 L436.3 463.6 L436.3 463.4 L436.4 463.2 L436.4 463.1 L436.5 462.9 L436.5 462.8 L436.6 462.6 L436.7 462.5 L436.7 462.3 L436.8 462.2 L436.8 462 L436.9 461.9 L436.9 461.7 L437 461.6 L437 461.4 L437.1 461.3 L437.1 461.2 L437.2 461 L437.2 460.9 L437.3 460.8 L437.3 460.6 L437.4 460.5 L437.4 460.4 L437.5 460.3 L437.6 460.2 L437.6 460.1 L437.7 460 L437.7 459.9 L437.8 459.8 L437.9 459.7 L438 459.6 L438 459.5 L438.1 459.4 L438.2 459.3 L438.3 459.3 L438.4 459.2 L438.5 459.1 L438.6 459.1 L438.7 459 L438.8 459 L439 458.9 L439.1 458.9 L439.2 458.9 L439.4 458.8 L439.5 458.8 L439.6 458.8 L439.8 458.8 L439.9 458.8 L440.1 458.8 L440.2 458.8 L440.4 458.8 L440.5 458.8 L440.7 458.8 L440.8 458.8 L441 458.8 L441.2 458.8 L441.3 458.8 L441.5 458.8 L441.6 458.8 L441.8 458.8 L441.9 458.8 L442.1 458.9 L442.2 458.9 L442.3 458.9 L442.5 458.9 L442.6 458.9 L442.7 458.9 L442.8 458.9 L443 459 L443.1 459 L443.2 459 L443.3 459 L443.4 459 L443.5 459 L443.5 459 L443.6 459 Z" fill="none" stroke="#333" stroke-width="0.55"/>
<line x1="429.1" x2="458" y1="479.9" y2="479.9" stroke="#555" stroke-width="0.4" opacity="0.6"/>
<circle cx="441.8" cy="490.3" r="0.75" fill="#888" stroke="#444" stroke-width="0.35"/>
<circle cx="451.4" cy="479.9" r="0.75" fill="#888" stroke="#444" stroke-width="0.35"/>
<circle cx="443.9" cy="470.4" r="0.75" fill="#888" stroke="#444" stroke-width="0.35"/>
<circle cx="436.7" cy="484.9" r="0.75" fill="#888" stroke="#444" stroke-width="0.35"/>
<circle cx="447.7" cy="492.1" r="0.75" fill="#888" stroke="#444" stroke-width="0.35"/>
<circle cx="442.1" cy="470.8" r="0.75" fill="#888" stroke="#444" stroke-width="0.35"/>
<circle cx="443.8" cy="504.9" r="0.75" fill="#888" stroke="#444" stroke-width="0.35"/>
<circle cx="443" cy="483.5" r="0.75" fill="#888" stroke="#444" stroke-width="0.35"/>
<circle cx="444.9" cy="464.7" r="0.75" fill="#888" stroke="#444" stroke-width="0.35"/>
<circle cx="451.7" cy="478.1" r="0.75" fill="#888" stroke="#444" stroke-width="0.35"/>
<circle cx="439.5" cy="463.3" r="0.75" fill="#888" stroke="#444" stroke-width="0.35"/>
<circle cx="444.4" cy="495.4" r="0.75" fill="#888" stroke="#444" stroke-width="0.35"/>
<circle cx="449" cy="471.3" r="0.75" fill="#888" stroke="#444" stroke-width="0.35"/>
<circle cx="444.9" cy="476.5" r="0.75" fill="#888" stroke="#444" stroke-width="0.35"/>
<circle cx="436.1" cy="478.8" r="0.75" fill="#888" stroke="#444" stroke-width="0.35"/>
<circle cx="446.4" cy="498.7" r="0.75" fill="#888" stroke="#444" stroke-width="0.35"/>
<circle cx="437.1" cy="476.4" r="0.75" fill="#888" stroke="#444" stroke-width="0.35"/>
<circle cx="445.8" cy="468.6" r="0.75" fill="#888" stroke="#444" stroke-width="0.35"/>
<circle cx="448" cy="487" r="0.75" fill="#888" stroke="#444" stroke-width="0.35"/>
<circle cx="443.3" cy="506.6" r="0.75" fill="#888" stroke="#444" stroke-width="0.35"/>
<circle cx="448.5" cy="491.2" r="0.75" fill="#888" stroke="#444" stroke-width="0.35"/>
<circle cx="436.5" cy="473.1" r="0.75" fill="#888" stroke="#444" stroke-width="0.35"/>
<circle cx="442.6" cy="468.5" r="0.75" fill="#888" stroke="#444" stroke-width="0.35"/>
<circle cx="436.9" cy="478.9" r="0.75" fill="#888" stroke="#444" stroke-width="0.35"/>
<circle cx="435.8" cy="486.1" r="0.75" fill="#888" stroke="#444" stroke-width="0.35"/>
<circle cx="447.8" cy="498.3" r="0.75" fill="#888" stroke="#444" stroke-width="0.35"/>
<circle cx="451.5" cy="484.5" r="0.75" fill="#888" stroke="#444" stroke-width="0.35"/>
<circle cx="440.8" cy="475.8" r="0.75" fill="#888" stroke="#444" stroke-width="0.35"/>
<circle cx="445.8" cy="463.3" r="0.75" fill="#888" stroke="#444" stroke-width="0.35"/>
<circle cx="447" cy="474.1" r="0.75" fill="#888" stroke="#444" stroke-width="0.35"/>
<circle cx="438.5" cy="486.3" r="0.75" fill="#888" stroke="#444" stroke-width="0.35"/>
<circle cx="449.7" cy="478.9" r="0.75" fill="#888" stroke="#444" stroke-width="0.35"/>
<circle cx="445.2" cy="463.3" r="0.75" fill="#888" stroke="#444" stroke-width="0.35"/>
<circle cx="435.6" cy="477.5" r="0.75" fill="#888" stroke="#444" stroke-width="0.35"/>
<circle cx="441.6" cy="491.1" r="0.75" fill="#888" stroke="#444" stroke-width="0.35"/>
<circle cx="443.8" cy="514.2" r="0.75" fill="#888" stroke="#444" stroke-width="0.35"/>
<circle cx="436.7" cy="474.6" r="0.75" fill="#888" stroke="#444" stroke-width="0.35"/>
<circle cx="439.7" cy="481.3" r="0.75" fill="#888" stroke="#444" stroke-width="0.35"/>
<circle cx="436.9" cy="487" r="0.75" fill="#888" stroke="#444" stroke-width="0.35"/>
<circle cx="442.1" cy="491.9" r="0.75" fill="#888" stroke="#444" stroke-width="0.35"/>
<circle cx="440.8" cy="485.3" r="0.75" fill="#888" stroke="#444" stroke-width="0.35"/>
<circle cx="445.5" cy="487.7" r="0.75" fill="#888" stroke="#444" stroke-width="0.35"/>
<circle cx="442.4" cy="481.3" r="0.75" fill="#888" stroke="#444" stroke-width="0.35"/>
<circle cx="437" cy="489.2" r="0.75" fill="#888" stroke="#444" stroke-width="0.35"/>
<circle cx="451.2" cy="487.3" r="0.75" fill="#888" stroke="#444" stroke-width="0.35"/>
<rect x="466.3" y="424.4" width="28.8" height="19.7" fill="#fdd6aa"/>
<path d="M480.2 414.8 L480.3 414.8 L480.4 414.8 L480.6 414.8 L480.7 414.8 L480.9 414.8 L481 414.8 L481.2 414.8 L481.4 414.8 L481.6 414.7 L481.8 414.7 L482 414.7 L482.2 414.7 L482.4 414.7 L482.7 414.7 L482.9 414.7 L483.1 414.7 L483.4 414.6 L483.6 414.6 L483.9 414.6 L484.1 414.6 L484.4 414.6 L484.6 414.6 L484.8 414.6 L485.1 414.6 L485.3 414.6 L485.6 414.6 L485.8 414.6 L486.1 414.6 L486.3 414.6 L486.5 414.6 L486.7 414.7 L487 414.7 L487.2 414.7 L487.4 414.7 L487.6 414.8 L487.7 414.8 L487.9 414.8 L488.1 414.9 L488.3 414.9 L488.4 415 L488.5 415.1 L488.7 415.1 L488.8 415.2 L488.9 415.3 L489 415.4 L489.1 415.4 L489.3 415.5 L489.4 415.6 L489.5 415.7 L489.6 415.8 L489.6 415.9 L489.7 416 L489.8 416.1 L489.9 416.2 L490 416.3 L490 416.4 L490.1 416.5 L490.2 416.7 L490.3 416.8 L490.3 416.9 L490.4 417 L490.4 417.1 L490.5 417.3 L490.6 417.4 L490.6 417.5 L490.7 417.7 L490.7 417.8 L490.8 417.9 L490.8 418.1 L490.9 418.2 L491 418.3 L491 418.5 L491.1 418.6 L491.1 418.8 L491.2 418.9 L491.2 419 L491.3 419.2 L491.4 419.3 L491.4 419.5 L491.5 419.6 L491.6 419.7 L491.6 419.9 L491.7 420 L491.8 420.2 L491.8 420.3 L491.9 420.5 L492 420.6 L492 420.8 L492.1 420.9 L492.2 421.1 L492.2 421.3 L492.3 421.4 L492.4 421.6 L492.4 421.7 L492.5 421.9 L492.6 422.1 L492.6 422.2 L492.7 422.4 L492.8 422.6 L492.8 422.8 L492.9 422.9 L492.9 423.1 L493 423.3 L493.1 423.4 L493.1 423.6 L493.2 423.8 L493.2 424 L493.3 424.2 L493.3 424.3 L493.4 424.5 L493.4 424.7 L493.5 424.9 L493.5 425 L493.6 425.2 L493.6 425.4 L493.7 425.6 L493.7 425.8 L493.7 425.9 L493.8 426.1 L493.8 426.3 L493.8 426.5 L493.9 426.7 L493.9 426.8 L493.9 427 L493.9 427.2 L494 427.4 L494 427.6 L494 427.8 L494 428 L494.1 428.2 L494.1 428.3 L494.1 428.5 L494.1 428.7 L494.1 428.9 L494.1 429.1 L494.2 429.3 L494.2 429.5 L494.2 429.7 L494.2 429.9 L494.2 430.1 L494.2 430.3 L494.2 430.5 L494.2 430.7 L494.2 430.9 L494.2 431.1 L494.2 431.3 L494.2 431.5 L494.2 431.7 L494.2 431.9 L494.2 432.1 L494.2 432.2 L494.2 432.4 L494.2 432.6 L494.2 432.8 L494.2 433 L494.2 433.2 L494.1 433.4 L494.1 433.6 L494.1 433.8 L494.1 434 L494.1 434.2 L494.1 434.4 L494 434.6 L494 434.8 L494 435 L494 435.2 L493.9 435.4 L493.9 435.6 L493.9 435.8 L493.9 435.9 L493.8 436.1 L493.8 436.3 L493.8 436.5 L493.7 436.7 L493.7 436.9 L493.7 437.1 L493.6 437.3 L493.6 437.5 L493.5 437.7 L493.5 437.9 L493.5 438.1 L493.4 438.3 L493.4 438.5 L493.3 438.7 L493.3 438.9 L493.2 439.1 L493.2 439.3 L493.1 439.5 L493.1 439.7 L493 439.8 L493 440 L492.9 440.2 L492.8 440.4 L492.8 440.6 L492.7 440.8 L492.7 441 L492.6 441.2 L492.5 441.3 L492.5 441.5 L492.4 441.7 L492.3 441.9 L492.3 442.1 L492.2 442.2 L492.1 442.4 L492 442.6 L491.9 442.8 L491.9 443 L491.8 443.1 L491.7 443.3 L491.6 443.5 L491.5 443.7 L491.4 443.8 L491.3 444 L491.2 444.2 L491.1 444.4 L491 444.5 L490.9 444.7 L490.8 444.9 L490.7 445.1 L490.6 445.2 L490.5 445.4 L490.4 445.6 L490.3 445.7 L490.2 445.9 L490.1 446.1 L490 446.2 L489.9 446.4 L489.8 446.6 L489.7 446.7 L489.6 446.9 L489.5 447 L489.4 447.2 L489.3 447.4 L489.2 447.5 L489.1 447.7 L489 447.8 L488.9 448 L488.8 448.1 L488.7 448.3 L488.6 448.4 L488.5 448.5 L488.4 448.7 L488.3 448.8 L488.2 449 L488.1 449.1 L488 449.2 L487.9 449.4 L487.8 449.5 L487.7 449.6 L487.7 449.8 L487.6 449.9 L487.5 450 L487.4 450.1 L487.3 450.3 L487.2 450.4 L487.1 450.5 L487 450.6 L486.9 450.7 L486.8 450.9 L486.7 451 L486.6 451.1 L486.5 451.2 L486.4 451.3 L486.3 451.4 L486.2 451.6 L486.1 451.7 L486.1 451.8 L486 451.9 L485.9 452 L485.8 452.1 L485.7 452.2 L485.6 452.3 L485.5 452.4 L485.5 452.6 L485.4 452.7 L485.3 452.8 L485.2 452.9 L485.1 453 L485.1 453.1 L485 453.2 L484.9 453.3 L484.9 453.4 L484.8 453.5 L484.7 453.6 L484.7 453.7 L484.6 453.8 L484.5 453.9 L484.5 454 L484.4 454.1 L484.3 454.2 L484.3 454.3 L484.2 454.4 L484.1 454.4 L484.1 454.5 L484 454.6 L484 454.7 L483.9 454.8 L483.9 454.9 L483.8 455 L483.8 455 L483.7 455.1 L483.7 455.2 L483.6 455.3 L483.6 455.4 L483.5 455.5 L483.5 455.6 L483.4 455.7 L483.4 455.7 L483.3 455.8 L483.3 455.9 L483.2 456 L483.2 456.1 L483.2 456.2 L483.1 456.3 L483.1 456.4 L483 456.5 L483 456.7 L483 456.8 L482.9 456.9 L482.9 457 L482.9 457.1 L482.8 457.2 L482.8 457.4 L482.8 457.5 L482.8 457.6 L482.7 457.7 L482.7 457.9 L482.7 458 L482.7 458.1 L482.7 458.2 L482.6 458.4 L482.6 458.5 L482.6 458.6 L482.6 458.8 L482.6 458.9 L482.6 459 L482.6 459.2 L482.6 459.3 L482.6 459.4 L482.6 459.6 L482.5 459.7 L482.5 459.9 L482.5 460 L482.5 460.1 L482.5 460.3 L482.5 460.4 L482.5 460.6 L482.5 460.8 L482.5 460.9 L482.5 461.1 L482.5 461.2 L482.5 461.4 L482.5 461.6 L482.5 461.7 L482.5 461.9 L482.4 462.1 L482.4 462.3 L482.4 462.4 L482.4 462.6 L482.4 462.8 L482.4 463 L482.4 463.2 L482.4 463.4 L482.4 463.6 L482.3 463.8 L482.3 464.1 L482.3 464.3 L482.3 464.6 L482.3 464.8 L482.3 465.1 L482.3 465.3 L482.3 465.6 L482.3 465.8 L482.3 466.1 L482.3 466.4 L482.3 466.6 L482.2 466.9 L482.2 467.2 L482.2 467.4 L482.2 467.7 L482.2 468 L482.2 468.2 L482.2 468.5 L482.2 468.7 L482.2 469 L482.2 469.2 L482.2 469.5 L482.1 469.7 L482.1 470 L482.1 470.2 L482.1 470.4 L482.1 470.6 L482.1 470.8 L482 471 L482 471.2 L482 471.3 L482 471.5 L482 471.6 L481.9 471.8 L481.9 471.9 L481.9 472 L481.8 472.1 L481.8 472.2 L481.8 472.3 L481.7 472.4 L481.7 472.4 L481.7 472.5 L481.6 472.5 L481.6 472.6 L481.5 472.6 L481.5 472.6 L481.4 472.6 L481.4 472.6 L481.3 472.6 L481.3 472.6 L481.2 472.6 L481.2 472.6 L481.1 472.6 L481.1 472.6 L481 472.6 L481 472.5 L480.9 472.5 L480.9 472.5 L480.8 472.5 L480.8 472.4 L480.7 472.4 L480.7 472.4 L480.6 472.3 L480.6 472.3 L480.5 472.3 L480.5 472.2 L480.5 472.2 L480.4 472.2 L480.4 472.2 L480.3 472.1 L480.3 472.1 L480.3 472.1 L480.2 472.1 L480.2 472.1 L480.2 472.1 L480.2 472.1 L480.2 472.1 L480.2 472.1 L480.1 472.1 L480.1 472.1 L480.1 472.1 L480 472.2 L480 472.2 L479.9 472.2 L479.9 472.2 L479.9 472.3 L479.8 472.3 L479.8 472.3 L479.7 472.4 L479.7 472.4 L479.6 472.4 L479.6 472.5 L479.5 472.5 L479.5 472.5 L479.4 472.5 L479.4 472.6 L479.3 472.6 L479.3 472.6 L479.2 472.6 L479.2 472.6 L479.1 472.6 L479.1 472.6 L479 472.6 L479 472.6 L478.9 472.6 L478.9 472.6 L478.8 472.6 L478.8 472.5 L478.7 472.5 L478.7 472.4 L478.7 472.4 L478.6 472.3 L478.6 472.2 L478.6 472.1 L478.5 472 L478.5 471.9 L478.5 471.8 L478.4 471.6 L478.4 471.5 L478.4 471.3 L478.4 471.2 L478.4 471 L478.3 470.8 L478.3 470.6 L478.3 470.4 L478.3 470.2 L478.3 470 L478.3 469.7 L478.2 469.5 L478.2 469.2 L478.2 469 L478.2 468.7 L478.2 468.5 L478.2 468.2 L478.2 468 L478.2 467.7 L478.2 467.4 L478.2 467.2 L478.2 466.9 L478.1 466.6 L478.1 466.4 L478.1 466.1 L478.1 465.8 L478.1 465.6 L478.1 465.3 L478.1 465.1 L478.1 464.8 L478.1 464.6 L478.1 464.3 L478.1 464.1 L478.1 463.8 L478 463.6 L478 463.4 L478 463.2 L478 463 L478 462.8 L478 462.6 L478 462.4 L478 462.3 L478 462.1 L477.9 461.9 L477.9 461.7 L477.9 461.6 L477.9 461.4 L477.9 461.2 L477.9 461.1 L477.9 460.9 L477.9 460.8 L477.9 460.6 L477.9 460.4 L477.9 460.3 L477.9 460.1 L477.9 460 L477.9 459.9 L477.9 459.7 L477.8 459.6 L477.8 459.4 L477.8 459.3 L477.8 459.2 L477.8 459 L477.8 458.9 L477.8 458.8 L477.8 458.6 L477.8 458.5 L477.8 458.4 L477.7 458.2 L477.7 458.1 L477.7 458 L477.7 457.9 L477.7 457.7 L477.6 457.6 L477.6 457.5 L477.6 457.4 L477.6 457.2 L477.5 457.1 L477.5 457 L477.5 456.9 L477.4 456.8 L477.4 456.7 L477.4 456.5 L477.3 456.4 L477.3 456.3 L477.2 456.2 L477.2 456.1 L477.2 456 L477.1 455.9 L477.1 455.8 L477 455.7 L477 455.7 L476.9 455.6 L476.9 455.5 L476.8 455.4 L476.8 455.3 L476.7 455.2 L476.7 455.1 L476.6 455 L476.6 455 L476.5 454.9 L476.5 454.8 L476.4 454.7 L476.4 454.6 L476.3 454.5 L476.3 454.4 L476.2 454.4 L476.1 454.3 L476.1 454.2 L476 454.1 L475.9 454 L475.9 453.9 L475.8 453.8 L475.7 453.7 L475.7 453.6 L475.6 453.5 L475.5 453.4 L475.5 453.3 L475.4 453.2 L475.3 453.1 L475.3 453 L475.2 452.9 L475.1 452.8 L475 452.7 L474.9 452.6 L474.9 452.4 L474.8 452.3 L474.7 452.2 L474.6 452.1 L474.5 452 L474.4 451.9 L474.3 451.8 L474.3 451.7 L474.2 451.6 L474.1 451.4 L474 451.3 L473.9 451.2 L473.8 451.1 L473.7 451 L473.6 450.9 L473.5 450.7 L473.4 450.6 L473.3 450.5 L473.2 450.4 L473.1 450.3 L473 450.1 L472.9 450 L472.8 449.9 L472.7 449.8 L472.7 449.6 L472.6 449.5 L472.5 449.4 L472.4 449.2 L472.3 449.1 L472.2 449 L472.1 448.8 L472 448.7 L471.9 448.5 L471.8 448.4 L471.7 448.3 L471.6 448.1 L471.5 448 L471.4 447.8 L471.3 447.7 L471.2 447.5 L471.1 447.4 L471 447.2 L470.9 447 L470.8 446.9 L470.7 446.7 L470.6 446.6 L470.5 446.4 L470.4 446.2 L470.3 446.1 L470.2 445.9 L470.1 445.7 L470 445.6 L469.9 445.4 L469.8 445.2 L469.7 445.1 L469.6 444.9 L469.5 444.7 L469.4 444.5 L469.3 444.4 L469.2 444.2 L469.1 444 L469 443.8 L468.9 443.7 L468.8 443.5 L468.7 443.3 L468.6 443.1 L468.5 443 L468.5 442.8 L468.4 442.6 L468.3 442.4 L468.2 442.2 L468.1 442.1 L468.1 441.9 L468 441.7 L467.9 441.5 L467.9 441.3 L467.8 441.2 L467.7 441 L467.7 440.8 L467.6 440.6 L467.6 440.4 L467.5 440.2 L467.4 440 L467.4 439.8 L467.3 439.7 L467.3 439.5 L467.2 439.3 L467.2 439.1 L467.1 438.9 L467.1 438.7 L467 438.5 L467 438.3 L466.9 438.1 L466.9 437.9 L466.9 437.7 L466.8 437.5 L466.8 437.3 L466.7 437.1 L466.7 436.9 L466.7 436.7 L466.6 436.5 L466.6 436.3 L466.6 436.1 L466.5 435.9 L466.5 435.8 L466.5 435.6 L466.5 435.4 L466.4 435.2 L466.4 435 L466.4 434.8 L466.4 434.6 L466.3 434.4 L466.3 434.2 L466.3 434 L466.3 433.8 L466.3 433.6 L466.3 433.4 L466.2 433.2 L466.2 433 L466.2 432.8 L466.2 432.6 L466.2 432.4 L466.2 432.2 L466.2 432.1 L466.2 431.9 L466.2 431.7 L466.2 431.5 L466.2 431.3 L466.2 431.1 L466.2 430.9 L466.2 430.7 L466.2 430.5 L466.2 430.3 L466.2 430.1 L466.2 429.9 L466.2 429.7 L466.2 429.5 L466.2 429.3 L466.3 429.1 L466.3 428.9 L466.3 428.7 L466.3 428.5 L466.3 428.3 L466.3 428.2 L466.4 428 L466.4 427.8 L466.4 427.6 L466.4 427.4 L466.5 427.2 L466.5 427 L466.5 426.8 L466.5 426.7 L466.6 426.5 L466.6 426.3 L466.6 426.1 L466.7 425.9 L466.7 425.8 L466.7 425.6 L466.8 425.4 L466.8 425.2 L466.9 425 L466.9 424.9 L467 424.7 L467 424.5 L467.1 424.3 L467.1 424.2 L467.2 424 L467.2 423.8 L467.3 423.6 L467.3 423.4 L467.4 423.3 L467.5 423.1 L467.5 422.9 L467.6 422.8 L467.6 422.6 L467.7 422.4 L467.8 422.2 L467.8 422.1 L467.9 421.9 L468 421.7 L468 421.6 L468.1 421.4 L468.2 421.3 L468.2 421.1 L468.3 420.9 L468.4 420.8 L468.4 420.6 L468.5 420.5 L468.6 420.3 L468.6 420.2 L468.7 420 L468.8 419.9 L468.8 419.7 L468.9 419.6 L469 419.5 L469 419.3 L469.1 419.2 L469.2 419 L469.2 418.9 L469.3 418.8 L469.3 418.6 L469.4 418.5 L469.4 418.3 L469.5 418.2 L469.6 418.1 L469.6 417.9 L469.7 417.8 L469.7 417.7 L469.8 417.5 L469.8 417.4 L469.9 417.3 L470 417.1 L470 417 L470.1 416.9 L470.1 416.8 L470.2 416.7 L470.3 416.5 L470.4 416.4 L470.4 416.3 L470.5 416.2 L470.6 416.1 L470.7 416 L470.8 415.9 L470.8 415.8 L470.9 415.7 L471 415.6 L471.1 415.5 L471.3 415.4 L471.4 415.4 L471.5 415.3 L471.6 415.2 L471.7 415.1 L471.9 415.1 L472 415 L472.1 414.9 L472.3 414.9 L472.5 414.8 L472.7 414.8 L472.8 414.8 L473 414.7 L473.2 414.7 L473.4 414.7 L473.7 414.7 L473.9 414.6 L474.1 414.6 L474.3 414.6 L474.6 414.6 L474.8 414.6 L475.1 414.6 L475.3 414.6 L475.6 414.6 L475.8 414.6 L476 414.6 L476.3 414.6 L476.5 414.6 L476.8 414.6 L477 414.6 L477.3 414.7 L477.5 414.7 L477.7 414.7 L478 414.7 L478.2 414.7 L478.4 414.7 L478.6 414.7 L478.8 414.7 L479 414.8 L479.2 414.8 L479.4 414.8 L479.5 414.8 L479.7 414.8 L479.8 414.8 L480 414.8 L480.1 414.8 L480.2 414.8 Z" fill="none" stroke="#333" stroke-width="0.55"/>
<circle cx="472.8" cy="420.4" r="0.75" fill="#888" stroke="#444" stroke-width="0.35"/>
<circle cx="482.8" cy="429.5" r="0.75" fill="#888" stroke="#444" stroke-width="0.35"/>
<circle cx="481.1" cy="454.9" r="0.75" fill="#888" stroke="#444" stroke-width="0.35"/>
<circle cx="471.2" cy="432.8" r="0.75" fill="#888" stroke="#444" stroke-width="0.35"/>
<circle cx="478" cy="442.5" r="0.75" fill="#888" stroke="#444" stroke-width="0.35"/>
<circle cx="478.4" cy="453.3" r="0.75" fill="#888" stroke="#444" stroke-width="0.35"/>
<circle cx="485.3" cy="441.8" r="0.75" fill="#888" stroke="#444" stroke-width="0.35"/>
<circle cx="481.5" cy="438.5" r="0.75" fill="#888" stroke="#444" stroke-width="0.35"/>
<circle cx="478.2" cy="442" r="0.75" fill="#888" stroke="#444" stroke-width="0.35"/>
<circle cx="475.5" cy="429.8" r="0.75" fill="#888" stroke="#444" stroke-width="0.35"/>
<circle cx="473.3" cy="433.2" r="0.75" fill="#888" stroke="#444" stroke-width="0.35"/>
<circle cx="486.4" cy="439" r="0.75" fill="#888" stroke="#444" stroke-width="0.35"/>
<circle cx="479.6" cy="466.6" r="0.75" fill="#888" stroke="#444" stroke-width="0.35"/>
<circle cx="484.5" cy="432" r="0.75" fill="#888" stroke="#444" stroke-width="0.35"/>
<circle cx="480.6" cy="448.2" r="0.75" fill="#888" stroke="#444" stroke-width="0.35"/>
<circle cx="488.7" cy="427" r="0.75" fill="#888" stroke="#444" stroke-width="0.35"/>
<circle cx="485.1" cy="440.3" r="0.75" fill="#888" stroke="#444" stroke-width="0.35"/>
<circle cx="488.7" cy="441.5" r="0.75" fill="#888" stroke="#444" stroke-width="0.35"/>
<circle cx="480.3" cy="470.9" r="0.75" fill="#888" stroke="#444" stroke-width="0.35"/>
<circle cx="485.1" cy="437.8" r="0.75" fill="#888" stroke="#444" stroke-width="0.35"/>
<circle cx="477.8" cy="436" r="0.75" fill="#888" stroke="#444" stroke-width="0.35"/>
<circle cx="488.6" cy="443.1" r="0.75" fill="#888" stroke="#444" stroke-width="0.35"/>
<circle cx="482.3" cy="421.3" r="0.75" fill="#888" stroke="#444" stroke-width="0.35"/>
<circle cx="481" cy="440.8" r="0.75" fill="#888" stroke="#444" stroke-width="0.35"/>
<circle cx="476.4" cy="434.6" r="0.75" fill="#888" stroke="#444" stroke-width="0.35"/>
<circle cx="482.8" cy="437.4" r="0.75" fill="#888" stroke="#444" stroke-width="0.35"/>
<circle cx="474" cy="431.5" r="0.75" fill="#888" stroke="#444" stroke-width="0.35"/>
<circle cx="485.8" cy="429" r="0.75" fill="#888" stroke="#444" stroke-width="0.35"/>
<circle cx="485.1" cy="440.9" r="0.75" fill="#888" stroke="#444" stroke-width="0.35"/>
<circle cx="474.9" cy="448.9" r="0.75" fill="#888" stroke="#444" stroke-width="0.35"/>
<circle cx="471.6" cy="426.2" r="0.75" fill="#888" stroke="#444" stroke-width="0.35"/>
<circle cx="485.3" cy="434.8" r="0.75" fill="#888" stroke="#444" stroke-width="0.35"/>
<circle cx="470.9" cy="430" r="0.75" fill="#888" stroke="#444" stroke-width="0.35"/>
<circle cx="481.9" cy="443.6" r="0.75" fill="#888" stroke="#444" stroke-width="0.35"/>
<circle cx="470.9" cy="439" r="0.75" fill="#888" stroke="#444" stroke-width="0.35"/>
<circle cx="479.6" cy="432.6" r="0.75" fill="#888" stroke="#444" stroke-width="0.35"/>
<circle cx="479.4" cy="418.6" r="0.75" fill="#888" stroke="#444" stroke-width="0.35"/>
<circle cx="471.5" cy="441.8" r="0.75" fill="#888" stroke="#444" stroke-width="0.35"/>
<circle cx="480.5" cy="427.9" r="0.75" fill="#888" stroke="#444" stroke-width="0.35"/>
<circle cx="479.3" cy="426.9" r="0.75" fill="#888" stroke="#444" stroke-width="0.35"/>
<circle cx="489.9" cy="425.8" r="0.75" fill="#888" stroke="#444" stroke-width="0.35"/>
<circle cx="477.2" cy="422.3" r="0.75" fill="#888" stroke="#444" stroke-width="0.35"/>
<circle cx="476.4" cy="437.5" r="0.75" fill="#888" stroke="#444" stroke-width="0.35"/>
<circle cx="474.7" cy="431.6" r="0.75" fill="#888" stroke="#444" stroke-width="0.35"/>
<circle cx="475.2" cy="424.8" r="0.75" fill="#888" stroke="#444" stroke-width="0.35"/>
<circle cx="487.4" cy="465" r="0.75" fill="none" stroke="#444" stroke-width="0.45"/>
<text x="371.5" y="529.3" font-size="4.9" font-weight="bold" fill="#666" text-anchor="middle">DMSO</text>
<text x="405.5" y="529.3" font-size="4.9" font-weight="bold" fill="#666" text-anchor="middle">GSK126</text>
<text x="442.5" y="529.3" font-size="4.9" font-weight="bold" fill="#666" text-anchor="middle">JQ1</text>
<text x="478.8" y="529.3" font-size="4.9" font-weight="bold" fill="#666" text-anchor="middle">GSK_JQ1</text>
<rect x="348.3" y="558.6" width="154.8" height="111.8" fill="#fff" stroke="#c4c4c4" stroke-width="0.7"/>
<line x1="346.8" x2="348.3" y1="583.8" y2="583.8" stroke="#777" stroke-width="0.5"/>
<text x="346.6" y="585.6" font-size="5" fill="#444" text-anchor="end">1</text>
<line x1="346.8" x2="348.3" y1="611.7" y2="611.7" stroke="#777" stroke-width="0.5"/>
<text x="346.6" y="613.5" font-size="5" fill="#444" text-anchor="end">0</text>
<line x1="346.8" x2="348.3" y1="639.6" y2="639.6" stroke="#777" stroke-width="0.5"/>
<text x="346.6" y="641.4" font-size="5" fill="#444" text-anchor="end">−1</text>
<line x1="346.8" x2="348.3" y1="667.5" y2="667.5" stroke="#777" stroke-width="0.5"/>
<text x="346.6" y="669.3" font-size="5" fill="#444" text-anchor="end">−2</text>
<rect x="356.1" y="591.3" width="27.4" height="21.9" fill="#f7c2c7"/>
<path d="M370 562.8 L370 562.8 L370.1 562.8 L370.1 562.8 L370.1 562.8 L370.2 562.8 L370.2 562.8 L370.3 562.8 L370.3 562.7 L370.3 562.7 L370.4 562.7 L370.4 562.7 L370.5 562.7 L370.6 562.7 L370.6 562.7 L370.7 562.6 L370.7 562.6 L370.8 562.6 L370.9 562.6 L370.9 562.6 L371 562.6 L371 562.6 L371.1 562.6 L371.2 562.5 L371.2 562.5 L371.3 562.5 L371.3 562.5 L371.4 562.6 L371.5 562.6 L371.5 562.6 L371.6 562.6 L371.6 562.6 L371.7 562.6 L371.7 562.7 L371.8 562.7 L371.8 562.7 L371.9 562.8 L371.9 562.8 L371.9 562.9 L372 562.9 L372 563 L372 563.1 L372.1 563.1 L372.1 563.2 L372.1 563.3 L372.1 563.4 L372.1 563.5 L372.2 563.6 L372.2 563.7 L372.2 563.7 L372.2 563.8 L372.2 563.9 L372.2 564.1 L372.2 564.2 L372.2 564.3 L372.2 564.4 L372.2 564.5 L372.2 564.6 L372.2 564.8 L372.2 564.9 L372.2 565 L372.2 565.1 L372.2 565.3 L372.2 565.4 L372.2 565.6 L372.2 565.7 L372.2 565.9 L372.2 566 L372.2 566.2 L372.2 566.3 L372.3 566.5 L372.3 566.7 L372.3 566.8 L372.3 567 L372.3 567.2 L372.3 567.4 L372.3 567.5 L372.3 567.7 L372.4 567.9 L372.4 568.1 L372.4 568.3 L372.4 568.5 L372.5 568.7 L372.5 568.9 L372.5 569.1 L372.5 569.4 L372.6 569.6 L372.6 569.8 L372.7 570.1 L372.7 570.3 L372.7 570.5 L372.8 570.8 L372.8 571 L372.9 571.3 L372.9 571.6 L373 571.8 L373 572.1 L373 572.4 L373.1 572.6 L373.1 572.9 L373.2 573.2 L373.2 573.5 L373.3 573.7 L373.3 574 L373.4 574.3 L373.4 574.6 L373.5 574.9 L373.5 575.1 L373.6 575.4 L373.6 575.7 L373.6 576 L373.7 576.3 L373.7 576.5 L373.8 576.8 L373.8 577.1 L373.8 577.4 L373.9 577.6 L373.9 577.9 L373.9 578.2 L374 578.4 L374 578.7 L374 579 L374.1 579.2 L374.1 579.5 L374.1 579.8 L374.1 580 L374.1 580.3 L374.2 580.6 L374.2 580.8 L374.2 581.1 L374.2 581.4 L374.2 581.7 L374.2 582 L374.2 582.2 L374.2 582.5 L374.3 582.8 L374.3 583.1 L374.3 583.4 L374.3 583.6 L374.3 583.9 L374.3 584.2 L374.3 584.5 L374.3 584.7 L374.3 585 L374.3 585.3 L374.3 585.5 L374.4 585.8 L374.4 586 L374.4 586.3 L374.4 586.5 L374.4 586.8 L374.4 587 L374.4 587.3 L374.4 587.5 L374.5 587.7 L374.5 588 L374.5 588.2 L374.5 588.4 L374.5 588.6 L374.6 588.8 L374.6 589 L374.6 589.2 L374.7 589.4 L374.7 589.5 L374.7 589.7 L374.7 589.9 L374.8 590 L374.8 590.2 L374.8 590.4 L374.9 590.5 L374.9 590.6 L375 590.8 L375 590.9 L375 591 L375.1 591.2 L375.1 591.3 L375.1 591.4 L375.2 591.5 L375.2 591.6 L375.3 591.8 L375.3 591.9 L375.3 592 L375.4 592.1 L375.4 592.2 L375.5 592.3 L375.5 592.4 L375.6 592.5 L375.6 592.6 L375.7 592.7 L375.7 592.8 L375.7 592.9 L375.8 593 L375.8 593.2 L375.9 593.3 L375.9 593.4 L376 593.5 L376 593.6 L376.1 593.7 L376.1 593.8 L376.2 594 L376.2 594.1 L376.2 594.2 L376.3 594.4 L376.3 594.5 L376.4 594.6 L376.4 594.7 L376.5 594.9 L376.5 595 L376.6 595.1 L376.6 595.2 L376.7 595.3 L376.7 595.5 L376.8 595.6 L376.9 595.7 L376.9 595.8 L377 596 L377 596.1 L377.1 596.2 L377.1 596.3 L377.2 596.4 L377.2 596.6 L377.3 596.7 L377.3 596.8 L377.4 596.9 L377.5 597.1 L377.5 597.2 L377.6 597.3 L377.6 597.5 L377.7 597.6 L377.7 597.7 L377.8 597.9 L377.8 598 L377.9 598.1 L377.9 598.3 L378 598.4 L378 598.6 L378.1 598.7 L378.2 598.8 L378.2 599 L378.3 599.1 L378.3 599.3 L378.3 599.5 L378.4 599.6 L378.5 599.8 L378.5 599.9 L378.6 600.1 L378.6 600.3 L378.7 600.4 L378.7 600.6 L378.8 600.8 L378.8 601 L378.9 601.1 L378.9 601.3 L379 601.5 L379 601.7 L379.1 601.8 L379.2 602 L379.2 602.2 L379.3 602.4 L379.3 602.6 L379.4 602.8 L379.4 603 L379.5 603.1 L379.5 603.3 L379.6 603.5 L379.6 603.7 L379.7 603.9 L379.7 604.1 L379.7 604.3 L379.8 604.5 L379.8 604.6 L379.9 604.8 L379.9 605 L379.9 605.2 L380 605.4 L380 605.6 L380 605.8 L380 606 L380.1 606.1 L380.1 606.3 L380.1 606.5 L380.1 606.7 L380.1 606.9 L380.1 607.1 L380.1 607.2 L380.2 607.4 L380.2 607.6 L380.2 607.8 L380.2 608 L380.2 608.2 L380.2 608.4 L380.2 608.6 L380.2 608.8 L380.2 608.9 L380.2 609.1 L380.1 609.3 L380.1 609.5 L380.1 609.7 L380.1 609.9 L380.1 610.1 L380.1 610.3 L380.1 610.5 L380 610.7 L380 610.8 L380 611 L380 611.2 L380 611.4 L379.9 611.6 L379.9 611.8 L379.9 611.9 L379.9 612.1 L379.9 612.3 L379.8 612.5 L379.8 612.7 L379.8 612.8 L379.7 613 L379.7 613.2 L379.7 613.3 L379.7 613.5 L379.6 613.6 L379.6 613.8 L379.6 614 L379.5 614.1 L379.5 614.3 L379.5 614.4 L379.4 614.5 L379.4 614.7 L379.3 614.8 L379.3 615 L379.3 615.1 L379.2 615.3 L379.2 615.4 L379.1 615.5 L379.1 615.7 L379 615.8 L379 615.9 L378.9 616 L378.9 616.2 L378.8 616.3 L378.8 616.4 L378.7 616.5 L378.7 616.7 L378.6 616.8 L378.6 616.9 L378.5 617 L378.5 617.2 L378.4 617.3 L378.4 617.4 L378.3 617.5 L378.3 617.6 L378.2 617.7 L378.1 617.9 L378.1 618 L378 618.1 L378 618.2 L377.9 618.3 L377.9 618.4 L377.8 618.6 L377.8 618.7 L377.7 618.8 L377.7 618.9 L377.7 619 L377.6 619.1 L377.6 619.3 L377.5 619.4 L377.5 619.5 L377.5 619.6 L377.4 619.7 L377.4 619.9 L377.4 620 L377.3 620.1 L377.3 620.2 L377.3 620.4 L377.3 620.5 L377.2 620.6 L377.2 620.7 L377.2 620.8 L377.1 621 L377.1 621.1 L377.1 621.2 L377.1 621.3 L377 621.4 L377 621.5 L376.9 621.6 L376.9 621.8 L376.9 621.9 L376.8 622 L376.8 622.1 L376.7 622.2 L376.7 622.3 L376.6 622.4 L376.6 622.4 L376.5 622.5 L376.5 622.6 L376.4 622.7 L376.3 622.8 L376.2 622.8 L376.2 622.9 L376.1 623 L376 623 L375.9 623.1 L375.8 623.2 L375.7 623.2 L375.6 623.2 L375.4 623.3 L375.3 623.3 L375.2 623.3 L375 623.4 L374.9 623.4 L374.7 623.4 L374.6 623.4 L374.4 623.4 L374.2 623.5 L374.1 623.5 L373.9 623.5 L373.7 623.5 L373.6 623.5 L373.4 623.5 L373.2 623.5 L373 623.5 L372.8 623.5 L372.7 623.5 L372.5 623.4 L372.3 623.4 L372.1 623.4 L372 623.4 L371.8 623.4 L371.6 623.4 L371.5 623.4 L371.3 623.4 L371.2 623.4 L371 623.3 L370.9 623.3 L370.7 623.3 L370.6 623.3 L370.5 623.3 L370.4 623.3 L370.3 623.3 L370.2 623.3 L370.1 623.3 L370 623.3 L370 623.3 L369.9 623.3 L369.8 623.3 L369.7 623.3 L369.6 623.3 L369.5 623.3 L369.4 623.3 L369.3 623.3 L369.1 623.3 L369 623.3 L368.8 623.4 L368.7 623.4 L368.5 623.4 L368.4 623.4 L368.2 623.4 L368 623.4 L367.9 623.4 L367.7 623.4 L367.5 623.4 L367.3 623.5 L367.2 623.5 L367 623.5 L366.8 623.5 L366.6 623.5 L366.4 623.5 L366.3 623.5 L366.1 623.5 L365.9 623.5 L365.8 623.5 L365.6 623.4 L365.4 623.4 L365.3 623.4 L365.1 623.4 L365 623.4 L364.8 623.3 L364.7 623.3 L364.6 623.3 L364.4 623.2 L364.3 623.2 L364.2 623.2 L364.1 623.1 L364 623 L363.9 623 L363.8 622.9 L363.8 622.8 L363.7 622.8 L363.6 622.7 L363.5 622.6 L363.5 622.5 L363.4 622.4 L363.4 622.4 L363.3 622.3 L363.3 622.2 L363.2 622.1 L363.2 622 L363.1 621.9 L363.1 621.8 L363.1 621.6 L363 621.5 L363 621.4 L362.9 621.3 L362.9 621.2 L362.9 621.1 L362.9 621 L362.8 620.8 L362.8 620.7 L362.8 620.6 L362.7 620.5 L362.7 620.4 L362.7 620.2 L362.7 620.1 L362.6 620 L362.6 619.9 L362.6 619.7 L362.5 619.6 L362.5 619.5 L362.5 619.4 L362.4 619.3 L362.4 619.1 L362.3 619 L362.3 618.9 L362.3 618.8 L362.2 618.7 L362.2 618.6 L362.1 618.4 L362.1 618.3 L362 618.2 L362 618.1 L361.9 618 L361.9 617.9 L361.8 617.7 L361.7 617.6 L361.7 617.5 L361.6 617.4 L361.6 617.3 L361.5 617.2 L361.5 617 L361.4 616.9 L361.4 616.8 L361.3 616.7 L361.3 616.5 L361.2 616.4 L361.2 616.3 L361.1 616.2 L361.1 616 L361 615.9 L361 615.8 L360.9 615.7 L360.9 615.5 L360.8 615.4 L360.8 615.3 L360.7 615.1 L360.7 615 L360.7 614.8 L360.6 614.7 L360.6 614.5 L360.5 614.4 L360.5 614.3 L360.5 614.1 L360.4 614 L360.4 613.8 L360.4 613.6 L360.3 613.5 L360.3 613.3 L360.3 613.2 L360.3 613 L360.2 612.8 L360.2 612.7 L360.2 612.5 L360.1 612.3 L360.1 612.1 L360.1 611.9 L360.1 611.8 L360.1 611.6 L360 611.4 L360 611.2 L360 611 L360 610.8 L360 610.7 L359.9 610.5 L359.9 610.3 L359.9 610.1 L359.9 609.9 L359.9 609.7 L359.9 609.5 L359.9 609.3 L359.8 609.1 L359.8 608.9 L359.8 608.8 L359.8 608.6 L359.8 608.4 L359.8 608.2 L359.8 608 L359.8 607.8 L359.8 607.6 L359.8 607.4 L359.9 607.2 L359.9 607.1 L359.9 606.9 L359.9 606.7 L359.9 606.5 L359.9 606.3 L359.9 606.1 L360 606 L360 605.8 L360 605.6 L360 605.4 L360.1 605.2 L360.1 605 L360.1 604.8 L360.2 604.6 L360.2 604.5 L360.3 604.3 L360.3 604.1 L360.3 603.9 L360.4 603.7 L360.4 603.5 L360.5 603.3 L360.5 603.1 L360.6 603 L360.6 602.8 L360.7 602.6 L360.7 602.4 L360.8 602.2 L360.8 602 L360.9 601.8 L361 601.7 L361 601.5 L361.1 601.3 L361.1 601.1 L361.2 601 L361.2 600.8 L361.3 600.6 L361.3 600.4 L361.4 600.3 L361.4 600.1 L361.5 599.9 L361.5 599.8 L361.6 599.6 L361.7 599.5 L361.7 599.3 L361.7 599.1 L361.8 599 L361.8 598.8 L361.9 598.7 L362 598.6 L362 598.4 L362.1 598.3 L362.1 598.1 L362.2 598 L362.2 597.9 L362.3 597.7 L362.3 597.6 L362.4 597.5 L362.4 597.3 L362.5 597.2 L362.5 597.1 L362.6 596.9 L362.7 596.8 L362.7 596.7 L362.8 596.6 L362.8 596.4 L362.9 596.3 L362.9 596.2 L363 596.1 L363 596 L363.1 595.8 L363.1 595.7 L363.2 595.6 L363.3 595.5 L363.3 595.3 L363.4 595.2 L363.4 595.1 L363.5 595 L363.5 594.9 L363.6 594.7 L363.6 594.6 L363.7 594.5 L363.7 594.4 L363.8 594.2 L363.8 594.1 L363.8 594 L363.9 593.8 L363.9 593.7 L364 593.6 L364 593.5 L364.1 593.4 L364.1 593.3 L364.2 593.2 L364.2 593 L364.3 592.9 L364.3 592.8 L364.3 592.7 L364.4 592.6 L364.4 592.5 L364.5 592.4 L364.5 592.3 L364.6 592.2 L364.6 592.1 L364.7 592 L364.7 591.9 L364.7 591.8 L364.8 591.6 L364.8 591.5 L364.9 591.4 L364.9 591.3 L364.9 591.2 L365 591 L365 590.9 L365 590.8 L365.1 590.6 L365.1 590.5 L365.2 590.4 L365.2 590.2 L365.2 590 L365.3 589.9 L365.3 589.7 L365.3 589.5 L365.3 589.4 L365.4 589.2 L365.4 589 L365.4 588.8 L365.5 588.6 L365.5 588.4 L365.5 588.2 L365.5 588 L365.5 587.7 L365.6 587.5 L365.6 587.3 L365.6 587 L365.6 586.8 L365.6 586.5 L365.6 586.3 L365.6 586 L365.6 585.8 L365.7 585.5 L365.7 585.3 L365.7 585 L365.7 584.7 L365.7 584.5 L365.7 584.2 L365.7 583.9 L365.7 583.6 L365.7 583.4 L365.7 583.1 L365.7 582.8 L365.8 582.5 L365.8 582.2 L365.8 582 L365.8 581.7 L365.8 581.4 L365.8 581.1 L365.8 580.8 L365.8 580.6 L365.9 580.3 L365.9 580 L365.9 579.8 L365.9 579.5 L365.9 579.2 L366 579 L366 578.7 L366 578.4 L366.1 578.2 L366.1 577.9 L366.1 577.6 L366.2 577.4 L366.2 577.1 L366.2 576.8 L366.3 576.5 L366.3 576.3 L366.4 576 L366.4 575.7 L366.4 575.4 L366.5 575.1 L366.5 574.9 L366.6 574.6 L366.6 574.3 L366.7 574 L366.7 573.7 L366.8 573.5 L366.8 573.2 L366.9 572.9 L366.9 572.6 L367 572.4 L367 572.1 L367 571.8 L367.1 571.6 L367.1 571.3 L367.2 571 L367.2 570.8 L367.3 570.5 L367.3 570.3 L367.3 570.1 L367.4 569.8 L367.4 569.6 L367.5 569.4 L367.5 569.1 L367.5 568.9 L367.5 568.7 L367.6 568.5 L367.6 568.3 L367.6 568.1 L367.6 567.9 L367.7 567.7 L367.7 567.5 L367.7 567.4 L367.7 567.2 L367.7 567 L367.7 566.8 L367.7 566.7 L367.7 566.5 L367.8 566.3 L367.8 566.2 L367.8 566 L367.8 565.9 L367.8 565.7 L367.8 565.6 L367.8 565.4 L367.8 565.3 L367.8 565.1 L367.8 565 L367.8 564.9 L367.8 564.8 L367.8 564.6 L367.8 564.5 L367.8 564.4 L367.8 564.3 L367.8 564.2 L367.8 564.1 L367.8 563.9 L367.8 563.8 L367.8 563.7 L367.8 563.7 L367.8 563.6 L367.9 563.5 L367.9 563.4 L367.9 563.3 L367.9 563.2 L367.9 563.1 L368 563.1 L368 563 L368 562.9 L368.1 562.9 L368.1 562.8 L368.1 562.8 L368.2 562.7 L368.2 562.7 L368.3 562.7 L368.3 562.6 L368.4 562.6 L368.4 562.6 L368.5 562.6 L368.5 562.6 L368.6 562.6 L368.7 562.5 L368.7 562.5 L368.8 562.5 L368.8 562.5 L368.9 562.6 L369 562.6 L369 562.6 L369.1 562.6 L369.1 562.6 L369.2 562.6 L369.3 562.6 L369.3 562.6 L369.4 562.7 L369.4 562.7 L369.5 562.7 L369.6 562.7 L369.6 562.7 L369.7 562.7 L369.7 562.7 L369.7 562.8 L369.8 562.8 L369.8 562.8 L369.9 562.8 L369.9 562.8 L369.9 562.8 L370 562.8 L370 562.8 Z" fill="none" stroke="#333" stroke-width="0.55"/>
<line x1="356.1" x2="383.5" y1="606.2" y2="606.2" stroke="#555" stroke-width="0.4" opacity="0.6"/>
<circle cx="364.7" cy="600.5" r="0.75" fill="#888" stroke="#444" stroke-width="0.35"/>
<circle cx="369.3" cy="611.4" r="0.75" fill="#888" stroke="#444" stroke-width="0.35"/>
<circle cx="363.5" cy="606.6" r="0.75" fill="#888" stroke="#444" stroke-width="0.35"/>
<circle cx="376.2" cy="609.3" r="0.75" fill="#888" stroke="#444" stroke-width="0.35"/>
<circle cx="374.5" cy="605.2" r="0.75" fill="#888" stroke="#444" stroke-width="0.35"/>
<circle cx="367" cy="599.3" r="0.75" fill="#888" stroke="#444" stroke-width="0.35"/>
<circle cx="375.6" cy="605.6" r="0.75" fill="#888" stroke="#444" stroke-width="0.35"/>
<circle cx="371.4" cy="586.6" r="0.75" fill="#888" stroke="#444" stroke-width="0.35"/>
<circle cx="370.2" cy="611.3" r="0.75" fill="#888" stroke="#444" stroke-width="0.35"/>
<circle cx="363.3" cy="602.7" r="0.75" fill="#888" stroke="#444" stroke-width="0.35"/>
<circle cx="363.3" cy="610.4" r="0.75" fill="#888" stroke="#444" stroke-width="0.35"/>
<circle cx="372.6" cy="619.8" r="0.75" fill="#888" stroke="#444" stroke-width="0.35"/>
<circle cx="375" cy="601.8" r="0.75" fill="#888" stroke="#444" stroke-width="0.35"/>
<circle cx="369.5" cy="593.3" r="0.75" fill="#888" stroke="#444" stroke-width="0.35"/>
<circle cx="363.6" cy="606.9" r="0.75" fill="#888" stroke="#444" stroke-width="0.35"/>
<circle cx="369.7" cy="601.5" r="0.75" fill="#888" stroke="#444" stroke-width="0.35"/>
<circle cx="368.4" cy="599.3" r="0.75" fill="#888" stroke="#444" stroke-width="0.35"/>
<circle cx="373.9" cy="599.4" r="0.75" fill="#888" stroke="#444" stroke-width="0.35"/>
<circle cx="370.8" cy="566" r="0.75" fill="#888" stroke="#444" stroke-width="0.35"/>
<circle cx="369.5" cy="605.9" r="0.75" fill="#888" stroke="#444" stroke-width="0.35"/>
<circle cx="373.4" cy="600.8" r="0.75" fill="#888" stroke="#444" stroke-width="0.35"/>
<circle cx="372.9" cy="595.4" r="0.75" fill="#888" stroke="#444" stroke-width="0.35"/>
<circle cx="372.1" cy="576.8" r="0.75" fill="#888" stroke="#444" stroke-width="0.35"/>
<circle cx="369.5" cy="606.5" r="0.75" fill="#888" stroke="#444" stroke-width="0.35"/>
<circle cx="373.8" cy="598.7" r="0.75" fill="#888" stroke="#444" stroke-width="0.35"/>
<circle cx="372.7" cy="592.3" r="0.75" fill="#888" stroke="#444" stroke-width="0.35"/>
<circle cx="367.8" cy="589.8" r="0.75" fill="#888" stroke="#444" stroke-width="0.35"/>
<circle cx="368.9" cy="593.1" r="0.75" fill="#888" stroke="#444" stroke-width="0.35"/>
<circle cx="373" cy="607.2" r="0.75" fill="#888" stroke="#444" stroke-width="0.35"/>
<circle cx="372.7" cy="595.9" r="0.75" fill="#888" stroke="#444" stroke-width="0.35"/>
<circle cx="372.7" cy="608" r="0.75" fill="#888" stroke="#444" stroke-width="0.35"/>
<circle cx="373.2" cy="597.4" r="0.75" fill="#888" stroke="#444" stroke-width="0.35"/>
<circle cx="365.2" cy="602.2" r="0.75" fill="#888" stroke="#444" stroke-width="0.35"/>
<circle cx="370.4" cy="594.3" r="0.75" fill="#888" stroke="#444" stroke-width="0.35"/>
<circle cx="376.3" cy="610.7" r="0.75" fill="#888" stroke="#444" stroke-width="0.35"/>
<circle cx="364.2" cy="614.7" r="0.75" fill="#888" stroke="#444" stroke-width="0.35"/>
<circle cx="374.9" cy="609.6" r="0.75" fill="#888" stroke="#444" stroke-width="0.35"/>
<circle cx="371.9" cy="607" r="0.75" fill="#888" stroke="#444" stroke-width="0.35"/>
<rect x="391" y="604.9" width="29.5" height="11.2" fill="#d6ecc6"/>
<path d="M407.2 566 L407.2 566 L407.2 566 L407.3 566 L407.3 566 L407.3 566 L407.3 566 L407.4 566 L407.4 566.1 L407.4 566.1 L407.5 566.1 L407.5 566.1 L407.5 566.1 L407.6 566.1 L407.6 566.1 L407.7 566.1 L407.7 566.1 L407.7 566.1 L407.8 566.1 L407.8 566.1 L407.9 566.2 L407.9 566.2 L408 566.2 L408 566.2 L408 566.2 L408.1 566.2 L408.1 566.2 L408.2 566.2 L408.2 566.3 L408.2 566.3 L408.3 566.3 L408.3 566.3 L408.4 566.3 L408.4 566.3 L408.4 566.4 L408.5 566.4 L408.5 566.4 L408.5 566.4 L408.6 566.5 L408.6 566.5 L408.6 566.5 L408.6 566.5 L408.6 566.5 L408.7 566.6 L408.7 566.6 L408.7 566.6 L408.7 566.6 L408.7 566.7 L408.8 566.7 L408.8 566.7 L408.8 566.7 L408.8 566.8 L408.8 566.8 L408.8 566.8 L408.8 566.9 L408.8 566.9 L408.9 566.9 L408.9 566.9 L408.9 567 L408.9 567 L408.9 567 L408.9 567.1 L408.9 567.1 L408.9 567.1 L408.9 567.2 L408.9 567.2 L408.9 567.3 L408.9 567.3 L408.9 567.3 L408.9 567.4 L409 567.4 L409 567.5 L409 567.5 L409 567.6 L409 567.6 L409 567.7 L409 567.7 L409 567.8 L409 567.9 L409 567.9 L409 568 L409 568.1 L409 568.1 L409 568.2 L409 568.3 L409 568.4 L409 568.5 L409 568.6 L409 568.7 L409 568.8 L409 568.8 L409 568.9 L409 569 L409.1 569.2 L409.1 569.3 L409.1 569.4 L409.1 569.5 L409.1 569.6 L409.1 569.7 L409.1 569.8 L409.1 569.9 L409.1 570 L409.1 570.1 L409.1 570.2 L409.1 570.4 L409.1 570.5 L409.1 570.6 L409.1 570.7 L409.1 570.8 L409.1 570.9 L409.1 571 L409 571.1 L409 571.2 L409 571.3 L409 571.4 L409 571.5 L409 571.6 L409 571.7 L409 571.8 L409 571.9 L409 572 L409 572.1 L409 572.2 L409 572.3 L409 572.3 L409 572.4 L408.9 572.5 L408.9 572.6 L408.9 572.7 L408.9 572.7 L408.9 572.8 L408.9 572.9 L408.9 573 L408.8 573 L408.8 573.1 L408.8 573.2 L408.8 573.3 L408.8 573.3 L408.7 573.4 L408.7 573.5 L408.7 573.6 L408.7 573.6 L408.7 573.7 L408.7 573.8 L408.6 573.8 L408.6 573.9 L408.6 574 L408.6 574.1 L408.6 574.1 L408.6 574.2 L408.5 574.3 L408.5 574.3 L408.5 574.4 L408.5 574.5 L408.5 574.6 L408.5 574.6 L408.4 574.7 L408.4 574.8 L408.4 574.9 L408.4 574.9 L408.4 575 L408.4 575.1 L408.4 575.1 L408.4 575.2 L408.4 575.3 L408.4 575.3 L408.3 575.3 L408.3 575.4 L408.3 575.4 L408.3 575.5 L408.3 575.5 L408.3 575.5 L408.3 575.6 L408.3 575.6 L408.3 575.6 L408.3 575.6 L408.3 575.7 L408.3 575.7 L408.3 575.7 L408.3 575.8 L408.3 575.8 L408.3 575.9 L408.3 575.9 L408.3 576 L408.2 576 L408.2 576.1 L408.2 576.1 L408.2 576.2 L408.2 576.3 L408.2 576.4 L408.2 576.5 L408.2 576.6 L408.2 576.7 L408.2 576.8 L408.2 577 L408.2 577.1 L408.2 577.3 L408.2 577.4 L408.2 577.6 L408.2 577.8 L408.2 578 L408.2 578.2 L408.2 578.5 L408.2 578.7 L408.2 579 L408.2 579.3 L408.2 579.6 L408.2 579.9 L408.2 580.3 L408.2 580.6 L408.1 581 L408.1 581.4 L408.1 581.7 L408.1 582.1 L408.1 582.5 L408.1 582.9 L408.1 583.3 L408.1 583.7 L408.1 584.2 L408.1 584.6 L408.1 585 L408.1 585.4 L408.1 585.8 L408.1 586.2 L408.1 586.7 L408.1 587.1 L408.1 587.5 L408.1 587.9 L408.1 588.2 L408.1 588.6 L408.1 589 L408.1 589.3 L408.1 589.7 L408.1 590 L408.1 590.3 L408.1 590.6 L408.1 590.9 L408.1 591.2 L408.2 591.5 L408.2 591.7 L408.2 591.9 L408.2 592.1 L408.2 592.3 L408.3 592.4 L408.3 592.6 L408.3 592.7 L408.3 592.9 L408.4 593 L408.4 593.1 L408.4 593.2 L408.4 593.3 L408.5 593.3 L408.5 593.4 L408.5 593.5 L408.5 593.5 L408.6 593.6 L408.6 593.6 L408.6 593.6 L408.7 593.7 L408.7 593.7 L408.8 593.7 L408.8 593.7 L408.8 593.7 L408.9 593.7 L408.9 593.7 L409 593.8 L409 593.8 L409.1 593.8 L409.1 593.8 L409.2 593.8 L409.2 593.8 L409.3 593.8 L409.3 593.8 L409.4 593.9 L409.5 593.9 L409.5 593.9 L409.6 594 L409.7 594 L409.7 594.1 L409.8 594.1 L409.9 594.2 L410 594.3 L410.1 594.3 L410.2 594.4 L410.2 594.5 L410.3 594.6 L410.4 594.7 L410.5 594.7 L410.6 594.8 L410.7 594.9 L410.8 595 L410.9 595.1 L411.1 595.1 L411.2 595.2 L411.3 595.3 L411.4 595.4 L411.5 595.5 L411.6 595.6 L411.7 595.7 L411.9 595.8 L412 595.9 L412.1 595.9 L412.2 596 L412.4 596.1 L412.5 596.2 L412.6 596.3 L412.7 596.4 L412.9 596.5 L413 596.6 L413.1 596.7 L413.3 596.8 L413.4 596.9 L413.5 597 L413.7 597.1 L413.8 597.2 L413.9 597.3 L414.1 597.4 L414.2 597.5 L414.3 597.6 L414.5 597.7 L414.6 597.8 L414.7 597.9 L414.9 598 L415 598.1 L415.2 598.2 L415.3 598.3 L415.4 598.4 L415.6 598.5 L415.7 598.6 L415.9 598.7 L416 598.8 L416.2 598.9 L416.4 599.1 L416.5 599.2 L416.7 599.3 L416.8 599.4 L417 599.5 L417.1 599.6 L417.3 599.7 L417.5 599.8 L417.6 599.9 L417.8 600 L417.9 600.2 L418.1 600.3 L418.3 600.4 L418.4 600.5 L418.6 600.6 L418.7 600.8 L418.9 600.9 L419 601 L419.2 601.1 L419.3 601.3 L419.5 601.4 L419.6 601.5 L419.7 601.7 L419.9 601.8 L420 601.9 L420.1 602.1 L420.3 602.2 L420.4 602.4 L420.5 602.5 L420.6 602.6 L420.7 602.8 L420.9 603 L421 603.1 L421.1 603.3 L421.2 603.4 L421.3 603.6 L421.4 603.8 L421.5 604 L421.6 604.1 L421.7 604.3 L421.9 604.5 L422 604.7 L422.1 604.9 L422.2 605 L422.3 605.2 L422.4 605.4 L422.5 605.6 L422.6 605.8 L422.7 606 L422.7 606.2 L422.8 606.4 L422.9 606.5 L423 606.7 L423.1 606.9 L423.2 607.1 L423.3 607.3 L423.3 607.5 L423.4 607.7 L423.5 607.9 L423.5 608 L423.6 608.2 L423.7 608.4 L423.7 608.6 L423.8 608.8 L423.8 608.9 L423.9 609.1 L423.9 609.3 L424 609.4 L424 609.6 L424 609.8 L424.1 609.9 L424.1 610.1 L424.1 610.2 L424.1 610.4 L424.2 610.6 L424.2 610.7 L424.2 610.9 L424.2 611 L424.2 611.2 L424.2 611.3 L424.2 611.5 L424.2 611.6 L424.2 611.8 L424.2 611.9 L424.2 612 L424.2 612.2 L424.2 612.3 L424.2 612.5 L424.2 612.6 L424.2 612.8 L424.2 612.9 L424.1 613.1 L424.1 613.2 L424.1 613.3 L424.1 613.5 L424 613.6 L424 613.8 L424 613.9 L423.9 614.1 L423.9 614.2 L423.8 614.3 L423.8 614.5 L423.7 614.6 L423.7 614.8 L423.6 614.9 L423.6 615.1 L423.5 615.2 L423.5 615.4 L423.4 615.5 L423.3 615.6 L423.3 615.8 L423.2 615.9 L423.1 616.1 L423 616.2 L423 616.4 L422.9 616.5 L422.8 616.7 L422.7 616.8 L422.6 617 L422.5 617.1 L422.4 617.3 L422.3 617.4 L422.2 617.6 L422.1 617.7 L422 617.9 L421.9 618 L421.8 618.2 L421.7 618.3 L421.6 618.5 L421.4 618.6 L421.3 618.7 L421.2 618.9 L421.1 619 L420.9 619.2 L420.8 619.3 L420.7 619.5 L420.6 619.6 L420.4 619.8 L420.3 619.9 L420.2 620.1 L420.1 620.2 L419.9 620.4 L419.8 620.5 L419.7 620.7 L419.5 620.8 L419.4 621 L419.3 621.1 L419.1 621.3 L419 621.4 L418.9 621.5 L418.7 621.7 L418.6 621.8 L418.4 622 L418.3 622.1 L418.1 622.3 L418 622.4 L417.8 622.6 L417.7 622.8 L417.5 622.9 L417.3 623.1 L417.2 623.2 L417 623.4 L416.8 623.5 L416.7 623.7 L416.5 623.8 L416.3 624 L416.2 624.1 L416 624.3 L415.8 624.4 L415.7 624.6 L415.5 624.7 L415.3 624.9 L415.2 625 L415 625.2 L414.8 625.3 L414.7 625.5 L414.5 625.6 L414.3 625.8 L414.2 625.9 L414 626.1 L413.9 626.2 L413.7 626.3 L413.6 626.5 L413.4 626.6 L413.3 626.8 L413.2 626.9 L413 627 L412.9 627.2 L412.8 627.3 L412.7 627.4 L412.6 627.6 L412.5 627.7 L412.3 627.8 L412.2 628 L412.1 628.1 L412 628.2 L411.9 628.4 L411.8 628.5 L411.7 628.6 L411.6 628.8 L411.5 628.9 L411.5 629 L411.4 629.1 L411.3 629.3 L411.2 629.4 L411.1 629.5 L411 629.7 L410.9 629.8 L410.9 629.9 L410.8 630 L410.7 630.1 L410.6 630.3 L410.6 630.4 L410.5 630.5 L410.4 630.6 L410.4 630.7 L410.3 630.8 L410.2 630.9 L410.2 631.1 L410.1 631.2 L410 631.3 L410 631.4 L409.9 631.5 L409.9 631.6 L409.8 631.7 L409.8 631.7 L409.7 631.8 L409.7 631.9 L409.6 632 L409.6 632.1 L409.5 632.2 L409.5 632.2 L409.4 632.3 L409.4 632.4 L409.3 632.4 L409.3 632.5 L409.3 632.6 L409.3 632.6 L409.2 632.7 L409.2 632.7 L409.2 632.8 L409.2 632.9 L409.1 632.9 L409.1 633 L409.1 633 L409.1 633.1 L409.1 633.1 L409.1 633.1 L409 633.2 L409 633.2 L409 633.3 L409 633.3 L409 633.3 L409 633.4 L409 633.4 L409 633.4 L408.9 633.5 L408.9 633.5 L408.9 633.5 L408.9 633.6 L408.9 633.6 L408.9 633.6 L408.8 633.6 L408.8 633.7 L408.8 633.7 L408.8 633.7 L408.8 633.7 L408.7 633.8 L408.7 633.8 L408.7 633.8 L408.6 633.8 L408.6 633.9 L408.6 633.9 L408.5 633.9 L408.5 633.9 L408.5 633.9 L408.4 633.9 L408.4 634 L408.3 634 L408.3 634 L408.2 634 L408.2 634 L408.2 634 L408.1 634 L408.1 634 L408 634 L408 634 L407.9 634 L407.9 634 L407.8 634 L407.8 634 L407.8 634 L407.7 634 L407.7 634 L407.6 634 L407.6 634 L407.6 634 L407.5 634 L407.5 634 L407.4 634 L407.4 634 L407.4 634 L407.3 634 L407.3 634 L407.3 634 L407.3 634 L407.2 634 L407.2 634 L407.2 634 L407.2 634 L407.2 634 L407.2 634 L407.1 634 L407.1 634 L407.1 634 L407.1 634 L407 634 L407 634 L407 634 L406.9 634 L406.9 634 L406.8 634 L406.8 634 L406.8 634 L406.7 634 L406.7 634 L406.6 634 L406.6 634 L406.6 634 L406.5 634 L406.5 634 L406.4 634 L406.4 634 L406.3 634 L406.3 634 L406.2 634 L406.2 634 L406.2 634 L406.1 634 L406.1 634 L406 634 L406 633.9 L405.9 633.9 L405.9 633.9 L405.9 633.9 L405.8 633.9 L405.8 633.9 L405.8 633.8 L405.7 633.8 L405.7 633.8 L405.7 633.8 L405.6 633.7 L405.6 633.7 L405.6 633.7 L405.6 633.7 L405.6 633.6 L405.5 633.6 L405.5 633.6 L405.5 633.6 L405.5 633.5 L405.5 633.5 L405.5 633.5 L405.4 633.4 L405.4 633.4 L405.4 633.4 L405.4 633.3 L405.4 633.3 L405.4 633.3 L405.4 633.2 L405.4 633.2 L405.3 633.1 L405.3 633.1 L405.3 633.1 L405.3 633 L405.3 633 L405.3 632.9 L405.2 632.9 L405.2 632.8 L405.2 632.7 L405.2 632.7 L405.1 632.6 L405.1 632.6 L405.1 632.5 L405.1 632.4 L405 632.4 L405 632.3 L404.9 632.2 L404.9 632.2 L404.8 632.1 L404.8 632 L404.7 631.9 L404.7 631.8 L404.6 631.7 L404.6 631.7 L404.5 631.6 L404.5 631.5 L404.4 631.4 L404.4 631.3 L404.3 631.2 L404.2 631.1 L404.2 630.9 L404.1 630.8 L404 630.7 L404 630.6 L403.9 630.5 L403.8 630.4 L403.8 630.3 L403.7 630.1 L403.6 630 L403.5 629.9 L403.5 629.8 L403.4 629.7 L403.3 629.5 L403.2 629.4 L403.1 629.3 L403 629.1 L402.9 629 L402.9 628.9 L402.8 628.8 L402.7 628.6 L402.6 628.5 L402.5 628.4 L402.4 628.2 L402.3 628.1 L402.2 628 L402.1 627.8 L401.9 627.7 L401.8 627.6 L401.7 627.4 L401.6 627.3 L401.5 627.2 L401.4 627 L401.2 626.9 L401.1 626.8 L401 626.6 L400.8 626.5 L400.7 626.3 L400.5 626.2 L400.4 626.1 L400.2 625.9 L400.1 625.8 L399.9 625.6 L399.7 625.5 L399.6 625.3 L399.4 625.2 L399.2 625 L399.1 624.9 L398.9 624.7 L398.7 624.6 L398.6 624.4 L398.4 624.3 L398.2 624.1 L398.1 624 L397.9 623.8 L397.7 623.7 L397.6 623.5 L397.4 623.4 L397.2 623.2 L397.1 623.1 L396.9 622.9 L396.7 622.8 L396.6 622.6 L396.4 622.4 L396.3 622.3 L396.1 622.1 L396 622 L395.8 621.8 L395.7 621.7 L395.5 621.5 L395.4 621.4 L395.3 621.3 L395.1 621.1 L395 621 L394.9 620.8 L394.7 620.7 L394.6 620.5 L394.5 620.4 L394.3 620.2 L394.2 620.1 L394.1 619.9 L394 619.8 L393.8 619.6 L393.7 619.5 L393.6 619.3 L393.5 619.2 L393.3 619 L393.2 618.9 L393.1 618.7 L393 618.6 L392.8 618.5 L392.7 618.3 L392.6 618.2 L392.5 618 L392.4 617.9 L392.3 617.7 L392.2 617.6 L392.1 617.4 L392 617.3 L391.9 617.1 L391.8 617 L391.7 616.8 L391.6 616.7 L391.5 616.5 L391.4 616.4 L391.4 616.2 L391.3 616.1 L391.2 615.9 L391.1 615.8 L391.1 615.6 L391 615.5 L390.9 615.4 L390.9 615.2 L390.8 615.1 L390.8 614.9 L390.7 614.8 L390.7 614.6 L390.6 614.5 L390.6 614.3 L390.5 614.2 L390.5 614.1 L390.4 613.9 L390.4 613.8 L390.4 613.6 L390.3 613.5 L390.3 613.3 L390.3 613.2 L390.3 613.1 L390.2 612.9 L390.2 612.8 L390.2 612.6 L390.2 612.5 L390.2 612.3 L390.2 612.2 L390.2 612 L390.2 611.9 L390.2 611.8 L390.2 611.6 L390.2 611.5 L390.2 611.3 L390.2 611.2 L390.2 611 L390.2 610.9 L390.2 610.7 L390.2 610.6 L390.3 610.4 L390.3 610.2 L390.3 610.1 L390.3 609.9 L390.4 609.8 L390.4 609.6 L390.4 609.4 L390.5 609.3 L390.5 609.1 L390.6 608.9 L390.6 608.8 L390.7 608.6 L390.7 608.4 L390.8 608.2 L390.9 608 L390.9 607.9 L391 607.7 L391.1 607.5 L391.1 607.3 L391.2 607.1 L391.3 606.9 L391.4 606.7 L391.5 606.5 L391.6 606.4 L391.7 606.2 L391.7 606 L391.8 605.8 L391.9 605.6 L392 605.4 L392.1 605.2 L392.2 605 L392.3 604.9 L392.4 604.7 L392.5 604.5 L392.7 604.3 L392.8 604.1 L392.9 604 L393 603.8 L393.1 603.6 L393.2 603.4 L393.3 603.3 L393.4 603.1 L393.5 603 L393.7 602.8 L393.8 602.6 L393.9 602.5 L394 602.4 L394.1 602.2 L394.3 602.1 L394.4 601.9 L394.5 601.8 L394.7 601.7 L394.8 601.5 L394.9 601.4 L395.1 601.3 L395.2 601.1 L395.4 601 L395.5 600.9 L395.7 600.8 L395.8 600.6 L396 600.5 L396.1 600.4 L396.3 600.3 L396.5 600.2 L396.6 600 L396.8 599.9 L396.9 599.8 L397.1 599.7 L397.3 599.6 L397.4 599.5 L397.6 599.4 L397.7 599.3 L397.9 599.2 L398 599.1 L398.2 598.9 L398.4 598.8 L398.5 598.7 L398.7 598.6 L398.8 598.5 L399 598.4 L399.1 598.3 L399.2 598.2 L399.4 598.1 L399.5 598 L399.7 597.9 L399.8 597.8 L399.9 597.7 L400.1 597.6 L400.2 597.5 L400.3 597.4 L400.5 597.3 L400.6 597.2 L400.7 597.1 L400.9 597 L401 596.9 L401.1 596.8 L401.3 596.7 L401.4 596.6 L401.5 596.5 L401.7 596.4 L401.8 596.3 L401.9 596.2 L402 596.1 L402.2 596 L402.3 595.9 L402.4 595.9 L402.5 595.8 L402.7 595.7 L402.8 595.6 L402.9 595.5 L403 595.4 L403.1 595.3 L403.2 595.2 L403.3 595.1 L403.5 595.1 L403.6 595 L403.7 594.9 L403.8 594.8 L403.9 594.7 L404 594.7 L404.1 594.6 L404.2 594.5 L404.2 594.4 L404.3 594.3 L404.4 594.3 L404.5 594.2 L404.6 594.1 L404.7 594.1 L404.7 594 L404.8 594 L404.9 593.9 L404.9 593.9 L405 593.9 L405.1 593.8 L405.1 593.8 L405.2 593.8 L405.2 593.8 L405.3 593.8 L405.3 593.8 L405.4 593.8 L405.4 593.8 L405.5 593.7 L405.5 593.7 L405.6 593.7 L405.6 593.7 L405.6 593.7 L405.7 593.7 L405.7 593.7 L405.8 593.6 L405.8 593.6 L405.8 593.6 L405.9 593.5 L405.9 593.5 L405.9 593.4 L405.9 593.3 L406 593.3 L406 593.2 L406 593.1 L406 593 L406.1 592.9 L406.1 592.7 L406.1 592.6 L406.1 592.4 L406.2 592.3 L406.2 592.1 L406.2 591.9 L406.2 591.7 L406.2 591.5 L406.3 591.2 L406.3 590.9 L406.3 590.6 L406.3 590.3 L406.3 590 L406.3 589.7 L406.3 589.3 L406.3 589 L406.3 588.6 L406.3 588.2 L406.3 587.9 L406.3 587.5 L406.3 587.1 L406.3 586.7 L406.3 586.2 L406.3 585.8 L406.3 585.4 L406.3 585 L406.3 584.6 L406.3 584.2 L406.3 583.7 L406.3 583.3 L406.3 582.9 L406.3 582.5 L406.3 582.1 L406.3 581.7 L406.3 581.4 L406.3 581 L406.2 580.6 L406.2 580.3 L406.2 579.9 L406.2 579.6 L406.2 579.3 L406.2 579 L406.2 578.7 L406.2 578.5 L406.2 578.2 L406.2 578 L406.2 577.8 L406.2 577.6 L406.2 577.4 L406.2 577.3 L406.2 577.1 L406.2 577 L406.2 576.8 L406.2 576.7 L406.2 576.6 L406.2 576.5 L406.2 576.4 L406.2 576.3 L406.2 576.2 L406.2 576.1 L406.2 576.1 L406.2 576 L406.1 576 L406.1 575.9 L406.1 575.9 L406.1 575.8 L406.1 575.8 L406.1 575.7 L406.1 575.7 L406.1 575.7 L406.1 575.6 L406.1 575.6 L406.1 575.6 L406.1 575.6 L406.1 575.5 L406.1 575.5 L406.1 575.5 L406.1 575.4 L406.1 575.4 L406.1 575.3 L406 575.3 L406 575.3 L406 575.2 L406 575.1 L406 575.1 L406 575 L406 574.9 L406 574.9 L406 574.8 L406 574.7 L405.9 574.6 L405.9 574.6 L405.9 574.5 L405.9 574.4 L405.9 574.3 L405.9 574.3 L405.8 574.2 L405.8 574.1 L405.8 574.1 L405.8 574 L405.8 573.9 L405.8 573.8 L405.7 573.8 L405.7 573.7 L405.7 573.6 L405.7 573.6 L405.7 573.5 L405.7 573.4 L405.6 573.3 L405.6 573.3 L405.6 573.2 L405.6 573.1 L405.6 573 L405.5 573 L405.5 572.9 L405.5 572.8 L405.5 572.7 L405.5 572.7 L405.5 572.6 L405.5 572.5 L405.4 572.4 L405.4 572.3 L405.4 572.3 L405.4 572.2 L405.4 572.1 L405.4 572 L405.4 571.9 L405.4 571.8 L405.4 571.7 L405.4 571.6 L405.4 571.5 L405.4 571.4 L405.4 571.3 L405.4 571.2 L405.4 571.1 L405.3 571 L405.3 570.9 L405.3 570.8 L405.3 570.7 L405.3 570.6 L405.3 570.5 L405.3 570.4 L405.3 570.2 L405.3 570.1 L405.3 570 L405.3 569.9 L405.3 569.8 L405.3 569.7 L405.3 569.6 L405.3 569.5 L405.3 569.4 L405.3 569.3 L405.3 569.2 L405.4 569 L405.4 568.9 L405.4 568.8 L405.4 568.8 L405.4 568.7 L405.4 568.6 L405.4 568.5 L405.4 568.4 L405.4 568.3 L405.4 568.2 L405.4 568.1 L405.4 568.1 L405.4 568 L405.4 567.9 L405.4 567.9 L405.4 567.8 L405.4 567.7 L405.4 567.7 L405.4 567.6 L405.4 567.6 L405.4 567.5 L405.4 567.5 L405.4 567.4 L405.5 567.4 L405.5 567.3 L405.5 567.3 L405.5 567.3 L405.5 567.2 L405.5 567.2 L405.5 567.1 L405.5 567.1 L405.5 567.1 L405.5 567 L405.5 567 L405.5 567 L405.5 566.9 L405.5 566.9 L405.6 566.9 L405.6 566.9 L405.6 566.8 L405.6 566.8 L405.6 566.8 L405.6 566.7 L405.6 566.7 L405.6 566.7 L405.7 566.7 L405.7 566.6 L405.7 566.6 L405.7 566.6 L405.7 566.6 L405.8 566.5 L405.8 566.5 L405.8 566.5 L405.8 566.5 L405.8 566.5 L405.9 566.4 L405.9 566.4 L405.9 566.4 L406 566.4 L406 566.3 L406 566.3 L406.1 566.3 L406.1 566.3 L406.2 566.3 L406.2 566.3 L406.2 566.2 L406.3 566.2 L406.3 566.2 L406.4 566.2 L406.4 566.2 L406.4 566.2 L406.5 566.2 L406.5 566.2 L406.6 566.1 L406.6 566.1 L406.7 566.1 L406.7 566.1 L406.7 566.1 L406.8 566.1 L406.8 566.1 L406.9 566.1 L406.9 566.1 L406.9 566.1 L407 566.1 L407 566.1 L407 566 L407.1 566 L407.1 566 L407.1 566 L407.1 566 L407.2 566 L407.2 566 L407.2 566 Z" fill="none" stroke="#333" stroke-width="0.55"/>
<circle cx="397.8" cy="614.2" r="0.75" fill="#888" stroke="#444" stroke-width="0.35"/>
<circle cx="406.3" cy="613.2" r="0.75" fill="#888" stroke="#444" stroke-width="0.35"/>
<circle cx="409.4" cy="627.2" r="0.75" fill="#888" stroke="#444" stroke-width="0.35"/>
<circle cx="405.8" cy="608.6" r="0.75" fill="#888" stroke="#444" stroke-width="0.35"/>
<circle cx="414.2" cy="608.3" r="0.75" fill="#888" stroke="#444" stroke-width="0.35"/>
<circle cx="398.2" cy="610.9" r="0.75" fill="#888" stroke="#444" stroke-width="0.35"/>
<circle cx="401.2" cy="601.1" r="0.75" fill="#888" stroke="#444" stroke-width="0.35"/>
<circle cx="417.9" cy="609.9" r="0.75" fill="#888" stroke="#444" stroke-width="0.35"/>
<circle cx="402.9" cy="623.4" r="0.75" fill="#888" stroke="#444" stroke-width="0.35"/>
<circle cx="409.1" cy="607.8" r="0.75" fill="#888" stroke="#444" stroke-width="0.35"/>
<circle cx="409.4" cy="613.9" r="0.75" fill="#888" stroke="#444" stroke-width="0.35"/>
<circle cx="407.1" cy="591" r="0.75" fill="#888" stroke="#444" stroke-width="0.35"/>
<circle cx="407.2" cy="619.2" r="0.75" fill="#888" stroke="#444" stroke-width="0.35"/>
<circle cx="401.5" cy="613.1" r="0.75" fill="#888" stroke="#444" stroke-width="0.35"/>
<circle cx="411.8" cy="609.7" r="0.75" fill="#888" stroke="#444" stroke-width="0.35"/>
<circle cx="413.6" cy="621.2" r="0.75" fill="#888" stroke="#444" stroke-width="0.35"/>
<circle cx="406.5" cy="624.3" r="0.75" fill="#888" stroke="#444" stroke-width="0.35"/>
<circle cx="407.7" cy="567.7" r="0.75" fill="#888" stroke="#444" stroke-width="0.35"/>
<circle cx="401.8" cy="617.5" r="0.75" fill="#888" stroke="#444" stroke-width="0.35"/>
<circle cx="413.3" cy="605.3" r="0.75" fill="#888" stroke="#444" stroke-width="0.35"/>
<circle cx="399.2" cy="611.2" r="0.75" fill="#888" stroke="#444" stroke-width="0.35"/>
<circle cx="409.4" cy="614.3" r="0.75" fill="#888" stroke="#444" stroke-width="0.35"/>
<circle cx="400.5" cy="611.1" r="0.75" fill="#888" stroke="#444" stroke-width="0.35"/>
<circle cx="401.9" cy="605.5" r="0.75" fill="#888" stroke="#444" stroke-width="0.35"/>
<circle cx="407.8" cy="601" r="0.75" fill="#888" stroke="#444" stroke-width="0.35"/>
<circle cx="419.8" cy="611.9" r="0.75" fill="#888" stroke="#444" stroke-width="0.35"/>
<circle cx="415.6" cy="613.4" r="0.75" fill="#888" stroke="#444" stroke-width="0.35"/>
<circle cx="406.4" cy="604.6" r="0.75" fill="#888" stroke="#444" stroke-width="0.35"/>
<circle cx="406.9" cy="633.5" r="0.75" fill="#888" stroke="#444" stroke-width="0.35"/>
<circle cx="409.3" cy="629.3" r="0.75" fill="#888" stroke="#444" stroke-width="0.35"/>
<circle cx="418.5" cy="605.9" r="0.75" fill="#888" stroke="#444" stroke-width="0.35"/>
<circle cx="414.8" cy="616" r="0.75" fill="#888" stroke="#444" stroke-width="0.35"/>
<circle cx="397.1" cy="613.7" r="0.75" fill="#888" stroke="#444" stroke-width="0.35"/>
<circle cx="410.1" cy="596.5" r="0.75" fill="#888" stroke="#444" stroke-width="0.35"/>
<circle cx="399.1" cy="610.9" r="0.75" fill="#888" stroke="#444" stroke-width="0.35"/>
<circle cx="413" cy="606.1" r="0.75" fill="#888" stroke="#444" stroke-width="0.35"/>
<circle cx="403.7" cy="615.5" r="0.75" fill="#888" stroke="#444" stroke-width="0.35"/>
<circle cx="398.1" cy="608.1" r="0.75" fill="#888" stroke="#444" stroke-width="0.35"/>
<circle cx="402.3" cy="606.6" r="0.75" fill="#888" stroke="#444" stroke-width="0.35"/>
<circle cx="397.7" cy="603" r="0.75" fill="#888" stroke="#444" stroke-width="0.35"/>
<rect x="429.3" y="582.4" width="28.2" height="27.1" fill="#c9c9f0"/>
<path d="M443.6 567 L443.7 567 L443.7 567 L443.8 567 L443.9 567 L444 567 L444 567 L444.1 567 L444.2 566.9 L444.3 566.9 L444.5 566.9 L444.6 566.9 L444.7 566.9 L444.8 566.9 L444.9 566.8 L445.1 566.8 L445.2 566.8 L445.3 566.8 L445.4 566.8 L445.6 566.8 L445.7 566.8 L445.8 566.7 L446 566.7 L446.1 566.7 L446.2 566.7 L446.4 566.7 L446.5 566.7 L446.6 566.7 L446.7 566.7 L446.9 566.7 L447 566.8 L447.1 566.8 L447.2 566.8 L447.3 566.8 L447.4 566.9 L447.5 566.9 L447.6 567 L447.7 567 L447.8 567.1 L447.8 567.1 L447.9 567.2 L448 567.3 L448 567.4 L448.1 567.4 L448.1 567.5 L448.2 567.6 L448.2 567.7 L448.2 567.8 L448.3 567.9 L448.3 568 L448.3 568.2 L448.3 568.3 L448.4 568.4 L448.4 568.5 L448.4 568.6 L448.4 568.8 L448.4 568.9 L448.4 569.1 L448.4 569.2 L448.5 569.3 L448.5 569.5 L448.5 569.6 L448.5 569.8 L448.5 569.9 L448.5 570.1 L448.5 570.3 L448.5 570.4 L448.5 570.6 L448.5 570.7 L448.5 570.9 L448.5 571.1 L448.5 571.2 L448.5 571.4 L448.5 571.6 L448.5 571.8 L448.5 571.9 L448.5 572.1 L448.6 572.3 L448.6 572.4 L448.6 572.6 L448.6 572.8 L448.6 573 L448.6 573.2 L448.7 573.3 L448.7 573.5 L448.7 573.7 L448.7 573.9 L448.7 574.1 L448.8 574.3 L448.8 574.5 L448.8 574.7 L448.8 574.9 L448.9 575.1 L448.9 575.3 L448.9 575.6 L448.9 575.8 L448.9 576 L449 576.2 L449 576.4 L449 576.6 L449 576.9 L449.1 577.1 L449.1 577.3 L449.1 577.5 L449.1 577.8 L449.2 578 L449.2 578.2 L449.2 578.4 L449.2 578.7 L449.2 578.9 L449.3 579.1 L449.3 579.3 L449.3 579.6 L449.3 579.8 L449.4 580 L449.4 580.2 L449.4 580.4 L449.4 580.7 L449.5 580.9 L449.5 581.1 L449.5 581.3 L449.5 581.5 L449.5 581.7 L449.6 581.9 L449.6 582.1 L449.6 582.4 L449.6 582.6 L449.7 582.8 L449.7 583 L449.7 583.2 L449.7 583.4 L449.7 583.6 L449.8 583.8 L449.8 584.1 L449.8 584.3 L449.8 584.5 L449.8 584.7 L449.9 584.9 L449.9 585.1 L449.9 585.3 L449.9 585.5 L450 585.8 L450 586 L450 586.2 L450 586.4 L450 586.6 L450.1 586.8 L450.1 587 L450.1 587.2 L450.1 587.5 L450.2 587.7 L450.2 587.9 L450.2 588.1 L450.2 588.3 L450.2 588.5 L450.3 588.7 L450.3 588.9 L450.3 589.2 L450.3 589.4 L450.4 589.6 L450.4 589.8 L450.4 590 L450.5 590.2 L450.5 590.4 L450.5 590.6 L450.5 590.9 L450.6 591.1 L450.6 591.3 L450.6 591.5 L450.7 591.7 L450.7 591.9 L450.8 592.1 L450.8 592.3 L450.8 592.6 L450.9 592.8 L450.9 593 L450.9 593.2 L451 593.4 L451 593.6 L451.1 593.8 L451.1 594 L451.1 594.3 L451.2 594.5 L451.2 594.7 L451.2 594.9 L451.3 595.1 L451.3 595.3 L451.3 595.5 L451.4 595.8 L451.4 596 L451.4 596.2 L451.4 596.4 L451.5 596.6 L451.5 596.8 L451.5 597 L451.5 597.2 L451.5 597.4 L451.6 597.7 L451.6 597.9 L451.6 598.1 L451.6 598.3 L451.6 598.5 L451.6 598.7 L451.6 598.9 L451.6 599.1 L451.6 599.4 L451.6 599.6 L451.6 599.8 L451.6 600 L451.6 600.2 L451.6 600.4 L451.6 600.6 L451.6 600.8 L451.6 601.1 L451.6 601.3 L451.6 601.5 L451.6 601.7 L451.5 601.9 L451.5 602.1 L451.5 602.3 L451.5 602.5 L451.5 602.8 L451.5 603 L451.4 603.2 L451.4 603.4 L451.4 603.6 L451.4 603.8 L451.4 604 L451.3 604.2 L451.3 604.5 L451.3 604.7 L451.3 604.9 L451.3 605.1 L451.2 605.3 L451.2 605.5 L451.2 605.7 L451.2 605.9 L451.2 606.2 L451.1 606.4 L451.1 606.6 L451.1 606.8 L451.1 607 L451.1 607.2 L451 607.4 L451 607.7 L451 607.9 L451 608.1 L450.9 608.3 L450.9 608.5 L450.9 608.8 L450.9 609 L450.9 609.2 L450.8 609.4 L450.8 609.6 L450.8 609.9 L450.8 610.1 L450.7 610.3 L450.7 610.5 L450.7 610.7 L450.6 611 L450.6 611.2 L450.6 611.4 L450.6 611.6 L450.5 611.8 L450.5 612.1 L450.5 612.3 L450.4 612.5 L450.4 612.7 L450.4 612.9 L450.4 613.1 L450.3 613.3 L450.3 613.5 L450.3 613.7 L450.2 613.9 L450.2 614.1 L450.2 614.3 L450.1 614.5 L450.1 614.7 L450.1 614.9 L450 615.1 L450 615.3 L450 615.5 L449.9 615.7 L449.9 615.8 L449.9 616 L449.8 616.2 L449.8 616.4 L449.7 616.6 L449.7 616.7 L449.7 616.9 L449.6 617.1 L449.6 617.2 L449.6 617.4 L449.5 617.6 L449.5 617.7 L449.4 617.9 L449.4 618.1 L449.4 618.2 L449.3 618.4 L449.3 618.5 L449.2 618.7 L449.2 618.8 L449.1 619 L449.1 619.2 L449.1 619.3 L449 619.5 L449 619.6 L448.9 619.8 L448.9 619.9 L448.9 620.1 L448.8 620.2 L448.8 620.4 L448.7 620.5 L448.7 620.7 L448.6 620.8 L448.6 621 L448.6 621.1 L448.5 621.3 L448.5 621.4 L448.4 621.6 L448.4 621.7 L448.4 621.8 L448.3 622 L448.3 622.2 L448.2 622.3 L448.2 622.5 L448.2 622.6 L448.1 622.8 L448.1 622.9 L448.1 623.1 L448 623.2 L448 623.4 L448 623.6 L447.9 623.7 L447.9 623.9 L447.9 624 L447.8 624.2 L447.8 624.3 L447.8 624.5 L447.7 624.6 L447.7 624.8 L447.7 624.9 L447.6 625.1 L447.6 625.2 L447.6 625.4 L447.5 625.5 L447.5 625.6 L447.4 625.8 L447.4 625.9 L447.4 626 L447.3 626.1 L447.3 626.3 L447.2 626.4 L447.2 626.5 L447.1 626.6 L447.1 626.7 L447 626.8 L447 626.9 L446.9 626.9 L446.9 627 L446.8 627.1 L446.7 627.2 L446.7 627.2 L446.6 627.3 L446.5 627.3 L446.5 627.4 L446.4 627.4 L446.3 627.4 L446.2 627.5 L446.1 627.5 L446 627.5 L445.9 627.5 L445.9 627.5 L445.8 627.6 L445.7 627.6 L445.6 627.6 L445.5 627.6 L445.4 627.6 L445.3 627.6 L445.2 627.5 L445.1 627.5 L445 627.5 L444.9 627.5 L444.8 627.5 L444.7 627.5 L444.6 627.5 L444.5 627.5 L444.5 627.4 L444.4 627.4 L444.3 627.4 L444.2 627.4 L444.1 627.4 L444.1 627.4 L444 627.3 L443.9 627.3 L443.9 627.3 L443.8 627.3 L443.7 627.3 L443.7 627.3 L443.6 627.3 L443.6 627.3 L443.6 627.3 L443.6 627.3 L443.5 627.3 L443.5 627.3 L443.4 627.3 L443.3 627.3 L443.3 627.3 L443.2 627.3 L443.1 627.4 L443.1 627.4 L443 627.4 L442.9 627.4 L442.8 627.4 L442.7 627.4 L442.7 627.5 L442.6 627.5 L442.5 627.5 L442.4 627.5 L442.3 627.5 L442.2 627.5 L442.1 627.5 L442 627.5 L441.9 627.6 L441.8 627.6 L441.7 627.6 L441.6 627.6 L441.5 627.6 L441.4 627.6 L441.3 627.5 L441.3 627.5 L441.2 627.5 L441.1 627.5 L441 627.5 L440.9 627.4 L440.8 627.4 L440.7 627.4 L440.7 627.3 L440.6 627.3 L440.5 627.2 L440.5 627.2 L440.4 627.1 L440.3 627 L440.3 626.9 L440.2 626.9 L440.2 626.8 L440.1 626.7 L440.1 626.6 L440 626.5 L440 626.4 L439.9 626.3 L439.9 626.1 L439.8 626 L439.8 625.9 L439.8 625.8 L439.7 625.6 L439.7 625.5 L439.6 625.4 L439.6 625.2 L439.6 625.1 L439.5 624.9 L439.5 624.8 L439.5 624.6 L439.4 624.5 L439.4 624.3 L439.4 624.2 L439.3 624 L439.3 623.9 L439.3 623.7 L439.2 623.6 L439.2 623.4 L439.2 623.2 L439.1 623.1 L439.1 622.9 L439.1 622.8 L439 622.6 L439 622.5 L439 622.3 L438.9 622.2 L438.9 622 L438.8 621.8 L438.8 621.7 L438.8 621.6 L438.7 621.4 L438.7 621.3 L438.6 621.1 L438.6 621 L438.6 620.8 L438.5 620.7 L438.5 620.5 L438.4 620.4 L438.4 620.2 L438.3 620.1 L438.3 619.9 L438.3 619.8 L438.2 619.6 L438.2 619.5 L438.1 619.3 L438.1 619.2 L438.1 619 L438 618.8 L438 618.7 L437.9 618.5 L437.9 618.4 L437.8 618.2 L437.8 618.1 L437.8 617.9 L437.7 617.7 L437.7 617.6 L437.6 617.4 L437.6 617.2 L437.6 617.1 L437.5 616.9 L437.5 616.7 L437.5 616.6 L437.4 616.4 L437.4 616.2 L437.3 616 L437.3 615.8 L437.3 615.7 L437.2 615.5 L437.2 615.3 L437.2 615.1 L437.1 614.9 L437.1 614.7 L437.1 614.5 L437 614.3 L437 614.1 L437 613.9 L436.9 613.7 L436.9 613.5 L436.9 613.3 L436.8 613.1 L436.8 612.9 L436.8 612.7 L436.8 612.5 L436.7 612.3 L436.7 612.1 L436.7 611.8 L436.6 611.6 L436.6 611.4 L436.6 611.2 L436.6 611 L436.5 610.7 L436.5 610.5 L436.5 610.3 L436.4 610.1 L436.4 609.9 L436.4 609.6 L436.4 609.4 L436.3 609.2 L436.3 609 L436.3 608.8 L436.3 608.5 L436.3 608.3 L436.2 608.1 L436.2 607.9 L436.2 607.7 L436.2 607.4 L436.1 607.2 L436.1 607 L436.1 606.8 L436.1 606.6 L436.1 606.4 L436 606.2 L436 605.9 L436 605.7 L436 605.5 L436 605.3 L435.9 605.1 L435.9 604.9 L435.9 604.7 L435.9 604.5 L435.9 604.2 L435.8 604 L435.8 603.8 L435.8 603.6 L435.8 603.4 L435.8 603.2 L435.7 603 L435.7 602.8 L435.7 602.5 L435.7 602.3 L435.7 602.1 L435.7 601.9 L435.6 601.7 L435.6 601.5 L435.6 601.3 L435.6 601.1 L435.6 600.8 L435.6 600.6 L435.6 600.4 L435.6 600.2 L435.6 600 L435.6 599.8 L435.6 599.6 L435.6 599.4 L435.6 599.1 L435.6 598.9 L435.6 598.7 L435.6 598.5 L435.6 598.3 L435.6 598.1 L435.6 597.9 L435.6 597.7 L435.7 597.4 L435.7 597.2 L435.7 597 L435.7 596.8 L435.7 596.6 L435.8 596.4 L435.8 596.2 L435.8 596 L435.8 595.8 L435.9 595.5 L435.9 595.3 L435.9 595.1 L436 594.9 L436 594.7 L436 594.5 L436.1 594.3 L436.1 594 L436.1 593.8 L436.2 593.6 L436.2 593.4 L436.3 593.2 L436.3 593 L436.3 592.8 L436.4 592.6 L436.4 592.3 L436.4 592.1 L436.5 591.9 L436.5 591.7 L436.6 591.5 L436.6 591.3 L436.6 591.1 L436.7 590.9 L436.7 590.6 L436.7 590.4 L436.7 590.2 L436.8 590 L436.8 589.8 L436.8 589.6 L436.9 589.4 L436.9 589.2 L436.9 588.9 L436.9 588.7 L437 588.5 L437 588.3 L437 588.1 L437 587.9 L437 587.7 L437.1 587.5 L437.1 587.2 L437.1 587 L437.1 586.8 L437.2 586.6 L437.2 586.4 L437.2 586.2 L437.2 586 L437.2 585.8 L437.3 585.5 L437.3 585.3 L437.3 585.1 L437.3 584.9 L437.4 584.7 L437.4 584.5 L437.4 584.3 L437.4 584.1 L437.4 583.8 L437.5 583.6 L437.5 583.4 L437.5 583.2 L437.5 583 L437.5 582.8 L437.6 582.6 L437.6 582.4 L437.6 582.1 L437.6 581.9 L437.7 581.7 L437.7 581.5 L437.7 581.3 L437.7 581.1 L437.7 580.9 L437.8 580.7 L437.8 580.4 L437.8 580.2 L437.8 580 L437.9 579.8 L437.9 579.6 L437.9 579.3 L437.9 579.1 L438 578.9 L438 578.7 L438 578.4 L438 578.2 L438 578 L438.1 577.8 L438.1 577.5 L438.1 577.3 L438.1 577.1 L438.2 576.9 L438.2 576.6 L438.2 576.4 L438.2 576.2 L438.3 576 L438.3 575.8 L438.3 575.6 L438.3 575.3 L438.3 575.1 L438.4 574.9 L438.4 574.7 L438.4 574.5 L438.4 574.3 L438.5 574.1 L438.5 573.9 L438.5 573.7 L438.5 573.5 L438.5 573.3 L438.6 573.2 L438.6 573 L438.6 572.8 L438.6 572.6 L438.6 572.4 L438.6 572.3 L438.7 572.1 L438.7 571.9 L438.7 571.8 L438.7 571.6 L438.7 571.4 L438.7 571.2 L438.7 571.1 L438.7 570.9 L438.7 570.7 L438.7 570.6 L438.7 570.4 L438.7 570.3 L438.7 570.1 L438.7 569.9 L438.7 569.8 L438.7 569.6 L438.7 569.5 L438.7 569.3 L438.8 569.2 L438.8 569.1 L438.8 568.9 L438.8 568.8 L438.8 568.6 L438.8 568.5 L438.8 568.4 L438.9 568.3 L438.9 568.2 L438.9 568 L438.9 567.9 L439 567.8 L439 567.7 L439 567.6 L439.1 567.5 L439.1 567.4 L439.2 567.4 L439.2 567.3 L439.3 567.2 L439.4 567.1 L439.4 567.1 L439.5 567 L439.6 567 L439.7 566.9 L439.8 566.9 L439.9 566.8 L440 566.8 L440.1 566.8 L440.2 566.8 L440.3 566.7 L440.5 566.7 L440.6 566.7 L440.7 566.7 L440.8 566.7 L441 566.7 L441.1 566.7 L441.2 566.7 L441.4 566.7 L441.5 566.8 L441.6 566.8 L441.8 566.8 L441.9 566.8 L442 566.8 L442.1 566.8 L442.3 566.8 L442.4 566.9 L442.5 566.9 L442.6 566.9 L442.7 566.9 L442.9 566.9 L443 566.9 L443.1 567 L443.2 567 L443.2 567 L443.3 567 L443.4 567 L443.5 567 L443.5 567 L443.6 567 Z" fill="none" stroke="#333" stroke-width="0.55"/>
<line x1="429.3" x2="457.5" y1="598.1" y2="598.1" stroke="#555" stroke-width="0.4" opacity="0.6"/>
<circle cx="445.1" cy="582.5" r="0.75" fill="#888" stroke="#444" stroke-width="0.35"/>
<circle cx="445.1" cy="576.4" r="0.75" fill="#888" stroke="#444" stroke-width="0.35"/>
<circle cx="445.2" cy="588.2" r="0.75" fill="#888" stroke="#444" stroke-width="0.35"/>
<circle cx="441.1" cy="597.7" r="0.75" fill="#888" stroke="#444" stroke-width="0.35"/>
<circle cx="446.3" cy="590.6" r="0.75" fill="#888" stroke="#444" stroke-width="0.35"/>
<circle cx="441.6" cy="574.6" r="0.75" fill="#888" stroke="#444" stroke-width="0.35"/>
<circle cx="446.3" cy="581" r="0.75" fill="#888" stroke="#444" stroke-width="0.35"/>
<circle cx="441" cy="592.5" r="0.75" fill="#888" stroke="#444" stroke-width="0.35"/>
<circle cx="443.3" cy="600.2" r="0.75" fill="#888" stroke="#444" stroke-width="0.35"/>
<circle cx="439.8" cy="610" r="0.75" fill="#888" stroke="#444" stroke-width="0.35"/>
<circle cx="446.5" cy="600.7" r="0.75" fill="#888" stroke="#444" stroke-width="0.35"/>
<circle cx="440.9" cy="599.1" r="0.75" fill="#888" stroke="#444" stroke-width="0.35"/>
<circle cx="444" cy="591.2" r="0.75" fill="#888" stroke="#444" stroke-width="0.35"/>
<circle cx="438.7" cy="600.2" r="0.75" fill="#888" stroke="#444" stroke-width="0.35"/>
<circle cx="444.1" cy="623.4" r="0.75" fill="#888" stroke="#444" stroke-width="0.35"/>
<circle cx="442.2" cy="624.3" r="0.75" fill="#888" stroke="#444" stroke-width="0.35"/>
<circle cx="440.3" cy="594.4" r="0.75" fill="#888" stroke="#444" stroke-width="0.35"/>
<circle cx="442.2" cy="603.4" r="0.75" fill="#888" stroke="#444" stroke-width="0.35"/>
<circle cx="440.9" cy="621.8" r="0.75" fill="#888" stroke="#444" stroke-width="0.35"/>
<circle cx="444.3" cy="572.3" r="0.75" fill="#888" stroke="#444" stroke-width="0.35"/>
<circle cx="443.7" cy="580.3" r="0.75" fill="#888" stroke="#444" stroke-width="0.35"/>
<circle cx="443.6" cy="591.2" r="0.75" fill="#888" stroke="#444" stroke-width="0.35"/>
<circle cx="448.3" cy="592.6" r="0.75" fill="#888" stroke="#444" stroke-width="0.35"/>
<circle cx="444.3" cy="606.4" r="0.75" fill="#888" stroke="#444" stroke-width="0.35"/>
<circle cx="445.9" cy="574.3" r="0.75" fill="#888" stroke="#444" stroke-width="0.35"/>
<circle cx="444.2" cy="614.8" r="0.75" fill="#888" stroke="#444" stroke-width="0.35"/>
<circle cx="442.3" cy="576.4" r="0.75" fill="#888" stroke="#444" stroke-width="0.35"/>
<circle cx="445.4" cy="583.7" r="0.75" fill="#888" stroke="#444" stroke-width="0.35"/>
<circle cx="441.2" cy="617.7" r="0.75" fill="#888" stroke="#444" stroke-width="0.35"/>
<circle cx="447" cy="615.3" r="0.75" fill="#888" stroke="#444" stroke-width="0.35"/>
<circle cx="442.9" cy="580.5" r="0.75" fill="#888" stroke="#444" stroke-width="0.35"/>
<circle cx="447.4" cy="612.7" r="0.75" fill="#888" stroke="#444" stroke-width="0.35"/>
<circle cx="445.7" cy="597.7" r="0.75" fill="#888" stroke="#444" stroke-width="0.35"/>
<circle cx="440.2" cy="596.4" r="0.75" fill="#888" stroke="#444" stroke-width="0.35"/>
<circle cx="438.8" cy="598.3" r="0.75" fill="#888" stroke="#444" stroke-width="0.35"/>
<circle cx="439.5" cy="608.5" r="0.75" fill="#888" stroke="#444" stroke-width="0.35"/>
<circle cx="443.4" cy="589.9" r="0.75" fill="#888" stroke="#444" stroke-width="0.35"/>
<circle cx="444.2" cy="609.9" r="0.75" fill="#888" stroke="#444" stroke-width="0.35"/>
<rect x="467" y="639.8" width="27.5" height="17.4" fill="#fdd6aa"/>
<path d="M480.6 613.9 L480.6 613.9 L480.6 613.9 L480.6 613.9 L480.7 613.9 L480.7 613.9 L480.7 613.9 L480.7 613.9 L480.7 613.8 L480.7 613.8 L480.8 613.8 L480.8 613.8 L480.8 613.8 L480.8 613.8 L480.8 613.8 L480.9 613.7 L480.9 613.7 L480.9 613.7 L480.9 613.7 L481 613.7 L481 613.7 L481 613.7 L481 613.7 L481.1 613.7 L481.1 613.7 L481.1 613.7 L481.1 613.7 L481.2 613.7 L481.2 613.7 L481.2 613.7 L481.3 613.7 L481.3 613.7 L481.3 613.7 L481.3 613.8 L481.4 613.8 L481.4 613.8 L481.4 613.9 L481.4 613.9 L481.5 614 L481.5 614 L481.5 614.1 L481.5 614.2 L481.5 614.2 L481.6 614.3 L481.6 614.4 L481.6 614.5 L481.6 614.6 L481.6 614.7 L481.7 614.8 L481.7 614.9 L481.7 615 L481.7 615.1 L481.7 615.2 L481.8 615.3 L481.8 615.5 L481.8 615.6 L481.8 615.7 L481.8 615.9 L481.8 616 L481.9 616.1 L481.9 616.3 L481.9 616.4 L481.9 616.5 L481.9 616.7 L482 616.8 L482 617 L482 617.1 L482 617.3 L482.1 617.4 L482.1 617.6 L482.1 617.7 L482.1 617.9 L482.2 618 L482.2 618.2 L482.2 618.3 L482.2 618.5 L482.3 618.6 L482.3 618.8 L482.3 618.9 L482.4 619.1 L482.4 619.2 L482.4 619.3 L482.5 619.5 L482.5 619.6 L482.5 619.8 L482.6 619.9 L482.6 620.1 L482.7 620.2 L482.7 620.4 L482.7 620.5 L482.8 620.7 L482.8 620.8 L482.9 621 L482.9 621.2 L483 621.3 L483 621.5 L483.1 621.6 L483.1 621.8 L483.2 621.9 L483.2 622.1 L483.2 622.3 L483.3 622.4 L483.3 622.6 L483.4 622.7 L483.4 622.9 L483.5 623.1 L483.6 623.2 L483.6 623.4 L483.7 623.6 L483.7 623.7 L483.8 623.9 L483.8 624.1 L483.9 624.2 L483.9 624.4 L484 624.6 L484 624.7 L484.1 624.9 L484.1 625.1 L484.2 625.3 L484.2 625.4 L484.3 625.6 L484.4 625.8 L484.4 625.9 L484.5 626.1 L484.5 626.3 L484.6 626.5 L484.6 626.6 L484.7 626.8 L484.8 627 L484.8 627.2 L484.9 627.4 L484.9 627.5 L485 627.7 L485.1 627.9 L485.1 628.1 L485.2 628.3 L485.3 628.5 L485.3 628.6 L485.4 628.8 L485.5 629 L485.5 629.2 L485.6 629.4 L485.7 629.6 L485.7 629.8 L485.8 629.9 L485.9 630.1 L485.9 630.3 L486 630.5 L486 630.7 L486.1 630.9 L486.2 631.1 L486.2 631.2 L486.3 631.4 L486.4 631.6 L486.4 631.8 L486.5 632 L486.6 632.2 L486.6 632.4 L486.7 632.5 L486.7 632.7 L486.8 632.9 L486.9 633.1 L486.9 633.3 L487 633.4 L487 633.6 L487.1 633.8 L487.2 634 L487.2 634.2 L487.3 634.4 L487.3 634.6 L487.4 634.7 L487.5 634.9 L487.5 635.1 L487.6 635.3 L487.6 635.5 L487.7 635.7 L487.8 635.9 L487.8 636 L487.9 636.2 L487.9 636.4 L488 636.6 L488.1 636.8 L488.1 637 L488.2 637.2 L488.2 637.3 L488.3 637.5 L488.3 637.7 L488.4 637.9 L488.5 638.1 L488.5 638.3 L488.6 638.4 L488.6 638.6 L488.7 638.8 L488.7 639 L488.8 639.2 L488.8 639.3 L488.9 639.5 L488.9 639.7 L489 639.9 L489 640 L489.1 640.2 L489.2 640.4 L489.2 640.5 L489.3 640.7 L489.3 640.9 L489.4 641 L489.4 641.2 L489.5 641.4 L489.5 641.5 L489.6 641.7 L489.6 641.9 L489.7 642 L489.7 642.2 L489.8 642.3 L489.8 642.5 L489.9 642.7 L489.9 642.8 L490 643 L490 643.1 L490.1 643.3 L490.1 643.5 L490.1 643.6 L490.2 643.8 L490.2 643.9 L490.3 644.1 L490.3 644.2 L490.4 644.4 L490.4 644.6 L490.5 644.7 L490.5 644.9 L490.5 645 L490.6 645.2 L490.6 645.3 L490.7 645.5 L490.7 645.6 L490.7 645.8 L490.8 646 L490.8 646.1 L490.8 646.3 L490.9 646.4 L490.9 646.6 L490.9 646.8 L491 646.9 L491 647.1 L491 647.2 L491.1 647.4 L491.1 647.6 L491.1 647.7 L491.1 647.9 L491.2 648.1 L491.2 648.2 L491.2 648.4 L491.2 648.5 L491.3 648.7 L491.3 648.9 L491.3 649 L491.3 649.2 L491.4 649.4 L491.4 649.5 L491.4 649.7 L491.4 649.9 L491.4 650 L491.5 650.2 L491.5 650.3 L491.5 650.5 L491.5 650.7 L491.5 650.8 L491.5 651 L491.5 651.1 L491.6 651.3 L491.6 651.5 L491.6 651.6 L491.6 651.8 L491.6 651.9 L491.6 652.1 L491.6 652.2 L491.6 652.4 L491.6 652.5 L491.6 652.7 L491.6 652.9 L491.6 653 L491.6 653.1 L491.6 653.3 L491.6 653.4 L491.6 653.6 L491.6 653.7 L491.6 653.9 L491.5 654 L491.5 654.2 L491.5 654.3 L491.5 654.5 L491.5 654.6 L491.5 654.8 L491.4 654.9 L491.4 655.1 L491.4 655.2 L491.4 655.4 L491.4 655.5 L491.3 655.6 L491.3 655.8 L491.3 655.9 L491.3 656.1 L491.2 656.2 L491.2 656.3 L491.2 656.5 L491.1 656.6 L491.1 656.7 L491.1 656.9 L491.1 657 L491 657.1 L491 657.3 L491 657.4 L490.9 657.5 L490.9 657.7 L490.9 657.8 L490.8 657.9 L490.8 658 L490.8 658.1 L490.8 658.3 L490.7 658.4 L490.7 658.5 L490.7 658.6 L490.6 658.7 L490.6 658.8 L490.6 658.9 L490.5 659.1 L490.5 659.2 L490.5 659.3 L490.4 659.4 L490.4 659.5 L490.4 659.6 L490.3 659.7 L490.3 659.8 L490.3 659.9 L490.2 659.9 L490.2 660 L490.1 660.1 L490.1 660.2 L490.1 660.3 L490 660.4 L490 660.5 L489.9 660.6 L489.9 660.7 L489.9 660.8 L489.8 660.8 L489.8 660.9 L489.8 661 L489.7 661.1 L489.7 661.2 L489.6 661.3 L489.6 661.4 L489.6 661.4 L489.5 661.5 L489.5 661.6 L489.5 661.7 L489.4 661.8 L489.4 661.9 L489.4 661.9 L489.4 662 L489.3 662.1 L489.3 662.2 L489.3 662.3 L489.3 662.4 L489.2 662.5 L489.2 662.6 L489.2 662.6 L489.2 662.7 L489.2 662.8 L489.2 662.9 L489.2 663 L489.2 663.1 L489.3 663.2 L489.3 663.3 L489.3 663.4 L489.3 663.5 L489.3 663.6 L489.3 663.7 L489.3 663.8 L489.3 663.8 L489.4 663.9 L489.4 664 L489.4 664.1 L489.4 664.2 L489.4 664.3 L489.4 664.4 L489.4 664.4 L489.4 664.5 L489.3 664.6 L489.3 664.7 L489.3 664.8 L489.3 664.8 L489.2 664.9 L489.2 665 L489.1 665 L489.1 665.1 L489 665.1 L489 665.2 L488.9 665.3 L488.8 665.3 L488.7 665.4 L488.6 665.4 L488.5 665.4 L488.4 665.5 L488.2 665.5 L488.1 665.5 L487.9 665.6 L487.7 665.6 L487.5 665.6 L487.3 665.6 L487.1 665.7 L486.9 665.7 L486.7 665.7 L486.5 665.7 L486.3 665.7 L486 665.7 L485.8 665.7 L485.5 665.7 L485.3 665.7 L485.1 665.7 L484.8 665.7 L484.6 665.7 L484.3 665.7 L484.1 665.7 L483.8 665.7 L483.6 665.7 L483.3 665.7 L483.1 665.7 L482.9 665.7 L482.6 665.6 L482.4 665.6 L482.2 665.6 L482 665.6 L481.8 665.6 L481.6 665.6 L481.4 665.6 L481.3 665.6 L481.1 665.6 L481 665.6 L480.8 665.6 L480.7 665.6 L480.6 665.6 L480.6 665.6 L480.5 665.6 L480.4 665.6 L480.2 665.6 L480.1 665.6 L479.9 665.6 L479.8 665.6 L479.6 665.6 L479.4 665.6 L479.2 665.6 L479 665.6 L478.8 665.6 L478.6 665.6 L478.3 665.7 L478.1 665.7 L477.9 665.7 L477.6 665.7 L477.4 665.7 L477.1 665.7 L476.9 665.7 L476.6 665.7 L476.4 665.7 L476.1 665.7 L475.9 665.7 L475.7 665.7 L475.4 665.7 L475.2 665.7 L474.9 665.7 L474.7 665.7 L474.5 665.7 L474.3 665.7 L474.1 665.7 L473.9 665.6 L473.7 665.6 L473.5 665.6 L473.3 665.6 L473.1 665.5 L473 665.5 L472.8 665.5 L472.7 665.4 L472.6 665.4 L472.5 665.4 L472.4 665.3 L472.3 665.3 L472.2 665.2 L472.2 665.1 L472.1 665.1 L472.1 665 L472 665 L472 664.9 L471.9 664.8 L471.9 664.8 L471.9 664.7 L471.9 664.6 L471.8 664.5 L471.8 664.4 L471.8 664.4 L471.8 664.3 L471.8 664.2 L471.8 664.1 L471.8 664 L471.8 663.9 L471.9 663.8 L471.9 663.8 L471.9 663.7 L471.9 663.6 L471.9 663.5 L471.9 663.4 L471.9 663.3 L471.9 663.2 L472 663.1 L472 663 L472 662.9 L472 662.8 L472 662.7 L472 662.6 L472 662.6 L472 662.5 L471.9 662.4 L471.9 662.3 L471.9 662.2 L471.9 662.1 L471.8 662 L471.8 661.9 L471.8 661.9 L471.8 661.8 L471.7 661.7 L471.7 661.6 L471.7 661.5 L471.6 661.4 L471.6 661.4 L471.6 661.3 L471.5 661.2 L471.5 661.1 L471.4 661 L471.4 660.9 L471.4 660.8 L471.3 660.8 L471.3 660.7 L471.3 660.6 L471.2 660.5 L471.2 660.4 L471.1 660.3 L471.1 660.2 L471.1 660.1 L471 660 L471 659.9 L470.9 659.9 L470.9 659.8 L470.9 659.7 L470.8 659.6 L470.8 659.5 L470.8 659.4 L470.7 659.3 L470.7 659.2 L470.7 659.1 L470.6 658.9 L470.6 658.8 L470.6 658.7 L470.5 658.6 L470.5 658.5 L470.5 658.4 L470.4 658.3 L470.4 658.1 L470.4 658 L470.4 657.9 L470.3 657.8 L470.3 657.7 L470.3 657.5 L470.2 657.4 L470.2 657.3 L470.2 657.1 L470.1 657 L470.1 656.9 L470.1 656.7 L470.1 656.6 L470 656.5 L470 656.3 L470 656.2 L469.9 656.1 L469.9 655.9 L469.9 655.8 L469.9 655.6 L469.8 655.5 L469.8 655.4 L469.8 655.2 L469.8 655.1 L469.8 654.9 L469.7 654.8 L469.7 654.6 L469.7 654.5 L469.7 654.3 L469.7 654.2 L469.7 654 L469.6 653.9 L469.6 653.7 L469.6 653.6 L469.6 653.4 L469.6 653.3 L469.6 653.1 L469.6 653 L469.6 652.9 L469.6 652.7 L469.6 652.5 L469.6 652.4 L469.6 652.2 L469.6 652.1 L469.6 651.9 L469.6 651.8 L469.6 651.6 L469.6 651.5 L469.6 651.3 L469.7 651.1 L469.7 651 L469.7 650.8 L469.7 650.7 L469.7 650.5 L469.7 650.3 L469.7 650.2 L469.8 650 L469.8 649.9 L469.8 649.7 L469.8 649.5 L469.8 649.4 L469.9 649.2 L469.9 649 L469.9 648.9 L469.9 648.7 L470 648.5 L470 648.4 L470 648.2 L470 648.1 L470.1 647.9 L470.1 647.7 L470.1 647.6 L470.1 647.4 L470.2 647.2 L470.2 647.1 L470.2 646.9 L470.3 646.8 L470.3 646.6 L470.3 646.4 L470.4 646.3 L470.4 646.1 L470.4 646 L470.5 645.8 L470.5 645.6 L470.5 645.5 L470.6 645.3 L470.6 645.2 L470.7 645 L470.7 644.9 L470.7 644.7 L470.8 644.6 L470.8 644.4 L470.9 644.2 L470.9 644.1 L471 643.9 L471 643.8 L471.1 643.6 L471.1 643.5 L471.1 643.3 L471.2 643.1 L471.2 643 L471.3 642.8 L471.3 642.7 L471.4 642.5 L471.4 642.3 L471.5 642.2 L471.5 642 L471.6 641.9 L471.6 641.7 L471.7 641.5 L471.7 641.4 L471.8 641.2 L471.8 641 L471.9 640.9 L471.9 640.7 L472 640.5 L472 640.4 L472.1 640.2 L472.2 640 L472.2 639.9 L472.3 639.7 L472.3 639.5 L472.4 639.3 L472.4 639.2 L472.5 639 L472.5 638.8 L472.6 638.6 L472.6 638.4 L472.7 638.3 L472.7 638.1 L472.8 637.9 L472.9 637.7 L472.9 637.5 L473 637.3 L473 637.2 L473.1 637 L473.1 636.8 L473.2 636.6 L473.3 636.4 L473.3 636.2 L473.4 636 L473.4 635.9 L473.5 635.7 L473.6 635.5 L473.6 635.3 L473.7 635.1 L473.7 634.9 L473.8 634.7 L473.9 634.6 L473.9 634.4 L474 634.2 L474 634 L474.1 633.8 L474.2 633.6 L474.2 633.4 L474.3 633.3 L474.3 633.1 L474.4 632.9 L474.5 632.7 L474.5 632.5 L474.6 632.4 L474.6 632.2 L474.7 632 L474.8 631.8 L474.8 631.6 L474.9 631.4 L475 631.2 L475 631.1 L475.1 630.9 L475.2 630.7 L475.2 630.5 L475.3 630.3 L475.3 630.1 L475.4 629.9 L475.5 629.8 L475.5 629.6 L475.6 629.4 L475.7 629.2 L475.7 629 L475.8 628.8 L475.9 628.6 L475.9 628.5 L476 628.3 L476.1 628.1 L476.1 627.9 L476.2 627.7 L476.3 627.5 L476.3 627.4 L476.4 627.2 L476.4 627 L476.5 626.8 L476.6 626.6 L476.6 626.5 L476.7 626.3 L476.7 626.1 L476.8 625.9 L476.8 625.8 L476.9 625.6 L477 625.4 L477 625.3 L477.1 625.1 L477.1 624.9 L477.2 624.7 L477.2 624.6 L477.3 624.4 L477.3 624.2 L477.4 624.1 L477.4 623.9 L477.5 623.7 L477.5 623.6 L477.6 623.4 L477.6 623.2 L477.7 623.1 L477.8 622.9 L477.8 622.7 L477.9 622.6 L477.9 622.4 L478 622.3 L478 622.1 L478 621.9 L478.1 621.8 L478.1 621.6 L478.2 621.5 L478.2 621.3 L478.3 621.2 L478.3 621 L478.4 620.8 L478.4 620.7 L478.5 620.5 L478.5 620.4 L478.5 620.2 L478.6 620.1 L478.6 619.9 L478.7 619.8 L478.7 619.6 L478.7 619.5 L478.8 619.3 L478.8 619.2 L478.8 619.1 L478.9 618.9 L478.9 618.8 L478.9 618.6 L479 618.5 L479 618.3 L479 618.2 L479 618 L479.1 617.9 L479.1 617.7 L479.1 617.6 L479.1 617.4 L479.2 617.3 L479.2 617.1 L479.2 617 L479.2 616.8 L479.3 616.7 L479.3 616.5 L479.3 616.4 L479.3 616.3 L479.3 616.1 L479.4 616 L479.4 615.9 L479.4 615.7 L479.4 615.6 L479.4 615.5 L479.4 615.3 L479.5 615.2 L479.5 615.1 L479.5 615 L479.5 614.9 L479.5 614.8 L479.6 614.7 L479.6 614.6 L479.6 614.5 L479.6 614.4 L479.6 614.3 L479.7 614.2 L479.7 614.2 L479.7 614.1 L479.7 614 L479.7 614 L479.8 613.9 L479.8 613.9 L479.8 613.8 L479.8 613.8 L479.9 613.8 L479.9 613.7 L479.9 613.7 L479.9 613.7 L480 613.7 L480 613.7 L480 613.7 L480.1 613.7 L480.1 613.7 L480.1 613.7 L480.1 613.7 L480.2 613.7 L480.2 613.7 L480.2 613.7 L480.2 613.7 L480.3 613.7 L480.3 613.7 L480.3 613.7 L480.3 613.7 L480.4 613.8 L480.4 613.8 L480.4 613.8 L480.4 613.8 L480.4 613.8 L480.5 613.8 L480.5 613.8 L480.5 613.9 L480.5 613.9 L480.5 613.9 L480.5 613.9 L480.6 613.9 L480.6 613.9 L480.6 613.9 L480.6 613.9 Z" fill="none" stroke="#333" stroke-width="0.55"/>
<circle cx="487" cy="647.6" r="0.75" fill="#888" stroke="#444" stroke-width="0.35"/>
<circle cx="482.1" cy="645.4" r="0.75" fill="#888" stroke="#444" stroke-width="0.35"/>
<circle cx="475.4" cy="661" r="0.75" fill="#888" stroke="#444" stroke-width="0.35"/>
<circle cx="480.7" cy="655.3" r="0.75" fill="#888" stroke="#444" stroke-width="0.35"/>
<circle cx="480.7" cy="618.5" r="0.75" fill="#888" stroke="#444" stroke-width="0.35"/>
<circle cx="482.2" cy="656" r="0.75" fill="#888" stroke="#444" stroke-width="0.35"/>
<circle cx="478.3" cy="664" r="0.75" fill="#888" stroke="#444" stroke-width="0.35"/>
<circle cx="473.9" cy="647.8" r="0.75" fill="#888" stroke="#444" stroke-width="0.35"/>
<circle cx="485.2" cy="643.5" r="0.75" fill="#888" stroke="#444" stroke-width="0.35"/>
<circle cx="474.5" cy="646.9" r="0.75" fill="#888" stroke="#444" stroke-width="0.35"/>
<circle cx="479" cy="640.6" r="0.75" fill="#888" stroke="#444" stroke-width="0.35"/>
<circle cx="479.7" cy="644.8" r="0.75" fill="#888" stroke="#444" stroke-width="0.35"/>
<circle cx="483.6" cy="650.3" r="0.75" fill="#888" stroke="#444" stroke-width="0.35"/>
<circle cx="485.2" cy="647.5" r="0.75" fill="#888" stroke="#444" stroke-width="0.35"/>
<circle cx="485.6" cy="641.2" r="0.75" fill="#888" stroke="#444" stroke-width="0.35"/>
<circle cx="476.9" cy="663.4" r="0.75" fill="#888" stroke="#444" stroke-width="0.35"/>
<circle cx="487.9" cy="648.4" r="0.75" fill="#888" stroke="#444" stroke-width="0.35"/>
<circle cx="479.1" cy="634.1" r="0.75" fill="#888" stroke="#444" stroke-width="0.35"/>
<circle cx="475.1" cy="642.7" r="0.75" fill="#888" stroke="#444" stroke-width="0.35"/>
<circle cx="481.5" cy="649.2" r="0.75" fill="#888" stroke="#444" stroke-width="0.35"/>
<circle cx="485.8" cy="637.6" r="0.75" fill="#888" stroke="#444" stroke-width="0.35"/>
<circle cx="476.1" cy="659.9" r="0.75" fill="#888" stroke="#444" stroke-width="0.35"/>
<circle cx="485.2" cy="641.3" r="0.75" fill="#888" stroke="#444" stroke-width="0.35"/>
<circle cx="481.2" cy="641" r="0.75" fill="#888" stroke="#444" stroke-width="0.35"/>
<circle cx="479.9" cy="663" r="0.75" fill="#888" stroke="#444" stroke-width="0.35"/>
<circle cx="480.2" cy="634.7" r="0.75" fill="#888" stroke="#444" stroke-width="0.35"/>
<circle cx="478.7" cy="624.9" r="0.75" fill="#888" stroke="#444" stroke-width="0.35"/>
<circle cx="481.3" cy="622.2" r="0.75" fill="#888" stroke="#444" stroke-width="0.35"/>
<circle cx="479.6" cy="648.2" r="0.75" fill="#888" stroke="#444" stroke-width="0.35"/>
<circle cx="480.6" cy="649.2" r="0.75" fill="#888" stroke="#444" stroke-width="0.35"/>
<circle cx="477.7" cy="640.1" r="0.75" fill="#888" stroke="#444" stroke-width="0.35"/>
<circle cx="474.6" cy="649.5" r="0.75" fill="#888" stroke="#444" stroke-width="0.35"/>
<circle cx="476" cy="650.4" r="0.75" fill="#888" stroke="#444" stroke-width="0.35"/>
<circle cx="478" cy="648.4" r="0.75" fill="#888" stroke="#444" stroke-width="0.35"/>
<circle cx="473.4" cy="651.5" r="0.75" fill="#888" stroke="#444" stroke-width="0.35"/>
<circle cx="480.8" cy="617.4" r="0.75" fill="#888" stroke="#444" stroke-width="0.35"/>
<circle cx="477.4" cy="640" r="0.75" fill="#888" stroke="#444" stroke-width="0.35"/>
<circle cx="475.9" cy="635.4" r="0.75" fill="#888" stroke="#444" stroke-width="0.35"/>
<circle cx="475.9" cy="636.2" r="0.75" fill="#888" stroke="#444" stroke-width="0.35"/>
<circle cx="478.7" cy="658.3" r="0.75" fill="#888" stroke="#444" stroke-width="0.35"/>
<text x="369.4" y="675.4" font-size="4.9" font-weight="bold" fill="#666" text-anchor="middle">DMSO</text>
<text x="406.9" y="675.4" font-size="4.9" font-weight="bold" fill="#666" text-anchor="middle">GSK126</text>
<text x="442.9" y="675.4" font-size="4.9" font-weight="bold" fill="#666" text-anchor="middle">JQ1</text>
<text x="480.4" y="675.4" font-size="4.9" font-weight="bold" fill="#666" text-anchor="middle">GSK_JQ1</text>
<line x1="367.7" x2="483" y1="390.6" y2="390.6" stroke="#111" stroke-width="1.5"/>
<text x="422.5" y="392" font-size="10.5" font-weight="bold" fill="#111" text-anchor="middle" letter-spacing="-0.3">****</text>
<line x1="405.8" x2="483" y1="397.6" y2="397.6" stroke="#111" stroke-width="1.5"/>
<text x="444.9" y="400.2" font-size="10.5" font-weight="bold" fill="#111" text-anchor="middle" letter-spacing="-0.3">****</text>
<line x1="367.7" x2="405.3" y1="405.6" y2="405.6" stroke="#111" stroke-width="1.5"/>
<text x="387.5" y="407.5" font-size="10.5" font-weight="bold" fill="#111" text-anchor="middle" letter-spacing="-0.3">*</text>
<line x1="407.5" x2="443.8" y1="405.6" y2="405.6" stroke="#111" stroke-width="1.5"/>
<text x="426.6" y="407.5" font-size="10.5" font-weight="bold" fill="#111" text-anchor="middle" letter-spacing="-0.3">***</text>
<line x1="445.6" x2="483" y1="405.6" y2="405.6" stroke="#111" stroke-width="1.5"/>
<text x="463.7" y="408.1" font-size="10.5" font-weight="bold" fill="#111" text-anchor="middle" letter-spacing="-0.3">****</text>
<line x1="368.3" x2="483.1" y1="540.8" y2="540.8" stroke="#111" stroke-width="1.5"/>
<text x="422.5" y="542" font-size="10.5" font-weight="bold" fill="#111" text-anchor="middle" letter-spacing="-0.3">****</text>
<line x1="406.2" x2="483.1" y1="547.8" y2="547.8" stroke="#111" stroke-width="1.5"/>
<text x="444.6" y="549.7" font-size="10.5" font-weight="bold" fill="#111" text-anchor="middle" letter-spacing="-0.3">****</text>
<line x1="445.2" x2="483.1" y1="555.5" y2="555.5" stroke="#111" stroke-width="1.5"/>
<text x="463.7" y="557.4" font-size="10.5" font-weight="bold" fill="#111" text-anchor="middle" letter-spacing="-0.3">****</text>
<text font-size="10.6" fill="#111" text-anchor="middle" transform="translate(322.3 468) rotate(-90)">Tissue development</text>
<text font-size="10.6" fill="#111" text-anchor="middle" transform="translate(335.4 468) rotate(-90)">and differentiation</text>
<text font-size="10.6" fill="#111" text-anchor="middle" transform="translate(322.3 608.5) rotate(-90)">Cell cycle and DNA</text>
<text font-size="10.6" fill="#111" text-anchor="middle" transform="translate(335.4 608.5) rotate(-90)">damage response</text>
</svg></body></html>
